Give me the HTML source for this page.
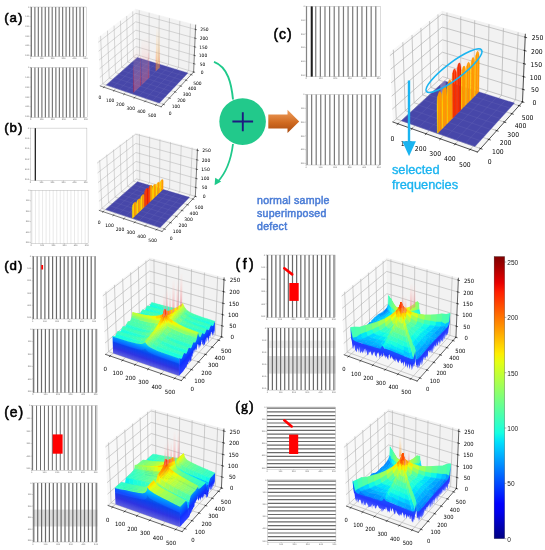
<!DOCTYPE html>
<html><head><meta charset="utf-8"><style>
html,body{margin:0;padding:0;background:#fff;}
svg{display:block;}
</style></head><body>
<svg width="545" height="550" viewBox="0 0 545 550">
<rect width="545" height="550" fill="#fff"/>
<g><rect x="30.6" y="7" width="56.2" height="49.5" fill="#fff"/><path d="M31.4 7V56.5M34.87 7V56.5M38.34 7V56.5M41.81 7V56.5M45.28 7V56.5M48.75 7V56.5M52.22 7V56.5M55.69 7V56.5M59.16 7V56.5M62.63 7V56.5M66.1 7V56.5M69.57 7V56.5M73.04 7V56.5M76.51 7V56.5M79.98 7V56.5M83.45 7V56.5" stroke="#7a7a7a" stroke-width="1.2" fill="none"/><rect x="30.6" y="7" width="56.2" height="49.5" fill="none" stroke="#999" stroke-width="0.35"/><path d="M30.6 7.05h-0.8M30.65 56.5v0.8M30.6 16.72h-0.8M41.63 56.5v0.8M30.6 26.38h-0.8M52.61 56.5v0.8M30.6 36.05h-0.8M63.58 56.5v0.8M30.6 45.72h-0.8M74.56 56.5v0.8M30.6 55.39h-0.8M85.54 56.5v0.8" stroke="#555" stroke-width="0.3" fill="none"/><g font-size="2.1" fill="#666" font-family="DejaVu Sans, sans-serif"><text x="29.3" y="7.75" text-anchor="end">0</text><text x="30.65" y="59.1" text-anchor="middle">0</text><text x="29.3" y="17.42" text-anchor="end">100</text><text x="41.63" y="59.1" text-anchor="middle">100</text><text x="29.3" y="27.08" text-anchor="end">200</text><text x="52.61" y="59.1" text-anchor="middle">200</text><text x="29.3" y="36.75" text-anchor="end">300</text><text x="63.58" y="59.1" text-anchor="middle">300</text><text x="29.3" y="46.42" text-anchor="end">400</text><text x="74.56" y="59.1" text-anchor="middle">400</text><text x="29.3" y="56.09" text-anchor="end">500</text><text x="85.54" y="59.1" text-anchor="middle">500</text></g></g>
<g><rect x="30.6" y="67.4" width="56.6" height="50.2" fill="#fff"/><path d="M31.4 67.4V117.6M34.9 67.4V117.6M38.4 67.4V117.6M41.9 67.4V117.6M45.4 67.4V117.6M48.9 67.4V117.6M52.4 67.4V117.6M55.9 67.4V117.6M59.4 67.4V117.6M62.9 67.4V117.6M66.4 67.4V117.6M69.9 67.4V117.6M73.4 67.4V117.6M76.9 67.4V117.6M80.4 67.4V117.6M83.9 67.4V117.6" stroke="#7a7a7a" stroke-width="1.2" fill="none"/><rect x="30.6" y="67.4" width="56.6" height="50.2" fill="none" stroke="#999" stroke-width="0.35"/><path d="M30.6 67.45h-0.8M30.66 117.6v0.8M30.6 77.25h-0.8M41.71 117.6v0.8M30.6 87.06h-0.8M52.76 117.6v0.8M30.6 96.86h-0.8M63.82 117.6v0.8M30.6 106.67h-0.8M74.87 117.6v0.8M30.6 116.47h-0.8M85.93 117.6v0.8" stroke="#555" stroke-width="0.3" fill="none"/><g font-size="2.1" fill="#666" font-family="DejaVu Sans, sans-serif"><text x="29.3" y="68.15" text-anchor="end">0</text><text x="30.66" y="120.2" text-anchor="middle">0</text><text x="29.3" y="77.95" text-anchor="end">100</text><text x="41.71" y="120.2" text-anchor="middle">100</text><text x="29.3" y="87.76" text-anchor="end">200</text><text x="52.76" y="120.2" text-anchor="middle">200</text><text x="29.3" y="97.56" text-anchor="end">300</text><text x="63.82" y="120.2" text-anchor="middle">300</text><text x="29.3" y="107.37" text-anchor="end">400</text><text x="74.87" y="120.2" text-anchor="middle">400</text><text x="29.3" y="117.17" text-anchor="end">500</text><text x="85.93" y="120.2" text-anchor="middle">500</text></g></g>
<g><rect x="30.3" y="128.1" width="56.6" height="52.6" fill="#fff"/><path d="M35.3 128.1V180.7" stroke="#111" stroke-width="1.2"/><rect x="30.3" y="128.1" width="56.6" height="52.6" fill="none" stroke="#999" stroke-width="0.35"/><path d="M30.3 128.15h-0.8M30.36 180.7v0.8M30.3 138.42h-0.8M41.41 180.7v0.8M30.3 148.7h-0.8M52.46 180.7v0.8M30.3 158.97h-0.8M63.52 180.7v0.8M30.3 169.25h-0.8M74.57 180.7v0.8M30.3 179.52h-0.8M85.63 180.7v0.8" stroke="#555" stroke-width="0.3" fill="none"/><g font-size="2.1" fill="#666" font-family="DejaVu Sans, sans-serif"><text x="29" y="128.85" text-anchor="end">0</text><text x="30.36" y="183.3" text-anchor="middle">0</text><text x="29" y="139.12" text-anchor="end">100</text><text x="41.41" y="183.3" text-anchor="middle">100</text><text x="29" y="149.4" text-anchor="end">200</text><text x="52.46" y="183.3" text-anchor="middle">200</text><text x="29" y="159.67" text-anchor="end">300</text><text x="63.52" y="183.3" text-anchor="middle">300</text><text x="29" y="169.95" text-anchor="end">400</text><text x="74.57" y="183.3" text-anchor="middle">400</text><text x="29" y="180.22" text-anchor="end">500</text><text x="85.63" y="183.3" text-anchor="middle">500</text></g></g>
<g><rect x="31" y="190.3" width="57.1" height="53.3" fill="#fff"/><path d="M31.9 190.3V243.6M35.45 190.3V243.6M39 190.3V243.6M42.55 190.3V243.6M46.1 190.3V243.6M49.65 190.3V243.6M53.2 190.3V243.6M56.75 190.3V243.6M60.3 190.3V243.6M63.85 190.3V243.6M67.4 190.3V243.6M70.95 190.3V243.6M74.5 190.3V243.6M78.05 190.3V243.6M81.6 190.3V243.6M85.15 190.3V243.6" stroke="#e4e4e4" stroke-width="0.8" fill="none"/><rect x="31" y="190.3" width="57.1" height="53.3" fill="none" stroke="#999" stroke-width="0.35"/><path d="M31 190.35h-0.8M31.06 243.6v0.8M31 200.76h-0.8M42.21 243.6v0.8M31 211.17h-0.8M53.36 243.6v0.8M31 221.58h-0.8M64.51 243.6v0.8M31 231.99h-0.8M75.67 243.6v0.8M31 242.4h-0.8M86.82 243.6v0.8" stroke="#555" stroke-width="0.3" fill="none"/><g font-size="2.1" fill="#666" font-family="DejaVu Sans, sans-serif"><text x="29.7" y="191.05" text-anchor="end">0</text><text x="31.06" y="246.2" text-anchor="middle">0</text><text x="29.7" y="201.46" text-anchor="end">100</text><text x="42.21" y="246.2" text-anchor="middle">100</text><text x="29.7" y="211.87" text-anchor="end">200</text><text x="53.36" y="246.2" text-anchor="middle">200</text><text x="29.7" y="222.28" text-anchor="end">300</text><text x="64.51" y="246.2" text-anchor="middle">300</text><text x="29.7" y="232.69" text-anchor="end">400</text><text x="75.67" y="246.2" text-anchor="middle">400</text><text x="29.7" y="243.1" text-anchor="end">500</text><text x="86.82" y="246.2" text-anchor="middle">500</text></g></g>
<g><rect x="306.2" y="6.2" width="74.2" height="70.5" fill="#fff"/><path d="M306.5 6.2V76.7M311.12 6.2V76.7M315.74 6.2V76.7M320.36 6.2V76.7M324.98 6.2V76.7M329.6 6.2V76.7M334.22 6.2V76.7M338.84 6.2V76.7M343.46 6.2V76.7M348.08 6.2V76.7M352.7 6.2V76.7M357.32 6.2V76.7M361.94 6.2V76.7M366.56 6.2V76.7M371.18 6.2V76.7M375.8 6.2V76.7" stroke="#7a7a7a" stroke-width="1.2" fill="none"/><path d="M311.9 6.2V76.7" stroke="#181818" stroke-width="1.7"/><rect x="306.2" y="6.2" width="74.2" height="70.5" fill="none" stroke="#999" stroke-width="0.35"/><path d="M306.2 6.27h-0.8M306.27 76.7v0.8M306.2 20.04h-0.8M320.76 76.7v0.8M306.2 33.81h-0.8M335.26 76.7v0.8M306.2 47.58h-0.8M349.75 76.7v0.8M306.2 61.35h-0.8M364.24 76.7v0.8M306.2 75.12h-0.8M378.73 76.7v0.8" stroke="#555" stroke-width="0.3" fill="none"/><g font-size="2.1" fill="#666" font-family="DejaVu Sans, sans-serif"><text x="304.9" y="6.97" text-anchor="end">0</text><text x="306.27" y="79.3" text-anchor="middle">0</text><text x="304.9" y="20.74" text-anchor="end">100</text><text x="320.76" y="79.3" text-anchor="middle">100</text><text x="304.9" y="34.51" text-anchor="end">200</text><text x="335.26" y="79.3" text-anchor="middle">200</text><text x="304.9" y="48.28" text-anchor="end">300</text><text x="349.75" y="79.3" text-anchor="middle">300</text><text x="304.9" y="62.05" text-anchor="end">400</text><text x="364.24" y="79.3" text-anchor="middle">400</text><text x="304.9" y="75.82" text-anchor="end">500</text><text x="378.73" y="79.3" text-anchor="middle">500</text></g></g>
<g><rect x="306" y="94.5" width="74.4" height="70.5" fill="#fff"/><path d="M307.1 94.5V165M311.65 94.5V165M316.2 94.5V165M320.75 94.5V165M325.3 94.5V165M329.85 94.5V165M334.4 94.5V165M338.95 94.5V165M343.5 94.5V165M348.05 94.5V165M352.6 94.5V165M357.15 94.5V165M361.7 94.5V165M366.25 94.5V165M370.8 94.5V165M375.35 94.5V165M379.9 94.5V165" stroke="#7a7a7a" stroke-width="1.2" fill="none"/><rect x="306" y="94.5" width="74.4" height="70.5" fill="none" stroke="#999" stroke-width="0.35"/><path d="M306 94.57h-0.8M306.07 165v0.8M306 108.34h-0.8M320.6 165v0.8M306 122.11h-0.8M335.14 165v0.8M306 135.88h-0.8M349.67 165v0.8M306 149.65h-0.8M364.2 165v0.8M306 163.42h-0.8M378.73 165v0.8" stroke="#555" stroke-width="0.3" fill="none"/><g font-size="2.1" fill="#666" font-family="DejaVu Sans, sans-serif"><text x="304.7" y="95.27" text-anchor="end">0</text><text x="306.07" y="167.6" text-anchor="middle">0</text><text x="304.7" y="109.04" text-anchor="end">100</text><text x="320.6" y="167.6" text-anchor="middle">100</text><text x="304.7" y="122.81" text-anchor="end">200</text><text x="335.14" y="167.6" text-anchor="middle">200</text><text x="304.7" y="136.58" text-anchor="end">300</text><text x="349.67" y="167.6" text-anchor="middle">300</text><text x="304.7" y="150.35" text-anchor="end">400</text><text x="364.2" y="167.6" text-anchor="middle">400</text><text x="304.7" y="164.12" text-anchor="end">500</text><text x="378.73" y="167.6" text-anchor="middle">500</text></g></g>
<g><rect x="32.5" y="256.2" width="63.1" height="62.8" fill="#fff"/><path d="M33.3 256.2V319M37.16 256.2V319M41.02 256.2V319M44.88 256.2V319M48.74 256.2V319M52.6 256.2V319M56.46 256.2V319M60.32 256.2V319M64.18 256.2V319M68.04 256.2V319M71.9 256.2V319M75.76 256.2V319M79.62 256.2V319M83.48 256.2V319M87.34 256.2V319M91.2 256.2V319M95.06 256.2V319" stroke="#6a6a6a" stroke-width="1.2" fill="none"/><rect x="41.3" y="265" width="1.8" height="4.5" fill="#f00"/><rect x="32.5" y="256.2" width="63.1" height="62.8" fill="none" stroke="#999" stroke-width="0.35"/><path d="M32.5 256.26h-0.8M32.56 319v0.8M32.5 268.53h-0.8M44.89 319v0.8M32.5 280.79h-0.8M57.21 319v0.8M32.5 293.06h-0.8M69.53 319v0.8M32.5 305.32h-0.8M81.86 319v0.8M32.5 317.59h-0.8M94.18 319v0.8" stroke="#555" stroke-width="0.3" fill="none"/><g font-size="2.1" fill="#666" font-family="DejaVu Sans, sans-serif"><text x="31.2" y="256.96" text-anchor="end">0</text><text x="32.56" y="321.6" text-anchor="middle">0</text><text x="31.2" y="269.23" text-anchor="end">100</text><text x="44.89" y="321.6" text-anchor="middle">100</text><text x="31.2" y="281.49" text-anchor="end">200</text><text x="57.21" y="321.6" text-anchor="middle">200</text><text x="31.2" y="293.76" text-anchor="end">300</text><text x="69.53" y="321.6" text-anchor="middle">300</text><text x="31.2" y="306.02" text-anchor="end">400</text><text x="81.86" y="321.6" text-anchor="middle">400</text><text x="31.2" y="318.29" text-anchor="end">500</text><text x="94.18" y="321.6" text-anchor="middle">500</text></g></g>
<g><rect x="32.9" y="329.1" width="64.2" height="63.6" fill="#fff"/><path d="M33.7 329.1V392.7M37.6 329.1V392.7M41.5 329.1V392.7M45.4 329.1V392.7M49.3 329.1V392.7M53.2 329.1V392.7M57.1 329.1V392.7M61 329.1V392.7M64.9 329.1V392.7M68.8 329.1V392.7M72.7 329.1V392.7M76.6 329.1V392.7M80.5 329.1V392.7M84.4 329.1V392.7M88.3 329.1V392.7M92.2 329.1V392.7M96.1 329.1V392.7" stroke="#6a6a6a" stroke-width="1.2" fill="none"/><rect x="32.9" y="329.1" width="64.2" height="63.6" fill="none" stroke="#999" stroke-width="0.35"/><path d="M32.9 329.16h-0.8M32.96 392.7v0.8M32.9 341.58h-0.8M45.5 392.7v0.8M32.9 354.01h-0.8M58.04 392.7v0.8M32.9 366.43h-0.8M70.58 392.7v0.8M32.9 378.85h-0.8M83.12 392.7v0.8M32.9 391.27h-0.8M95.66 392.7v0.8" stroke="#555" stroke-width="0.3" fill="none"/><g font-size="2.1" fill="#666" font-family="DejaVu Sans, sans-serif"><text x="31.6" y="329.86" text-anchor="end">0</text><text x="32.96" y="395.3" text-anchor="middle">0</text><text x="31.6" y="342.28" text-anchor="end">100</text><text x="45.5" y="395.3" text-anchor="middle">100</text><text x="31.6" y="354.71" text-anchor="end">200</text><text x="58.04" y="395.3" text-anchor="middle">200</text><text x="31.6" y="367.13" text-anchor="end">300</text><text x="70.58" y="395.3" text-anchor="middle">300</text><text x="31.6" y="379.55" text-anchor="end">400</text><text x="83.12" y="395.3" text-anchor="middle">400</text><text x="31.6" y="391.97" text-anchor="end">500</text><text x="95.66" y="395.3" text-anchor="middle">500</text></g></g>
<g><rect x="31.7" y="405.6" width="65.4" height="64.6" fill="#fff"/><path d="M32.6 405.6V470.2M36.55 405.6V470.2M40.5 405.6V470.2M44.45 405.6V470.2M48.4 405.6V470.2M52.35 405.6V470.2M56.3 405.6V470.2M60.25 405.6V470.2M64.2 405.6V470.2M68.15 405.6V470.2M72.1 405.6V470.2M76.05 405.6V470.2M80 405.6V470.2M83.95 405.6V470.2M87.9 405.6V470.2M91.85 405.6V470.2M95.8 405.6V470.2" stroke="#6a6a6a" stroke-width="1" fill="none"/><rect x="52.7" y="434.4" width="9.9" height="19.3" fill="#f00"/><rect x="31.7" y="405.6" width="65.4" height="64.6" fill="none" stroke="#999" stroke-width="0.35"/><path d="M31.7 405.66h-0.8M31.76 470.2v0.8M31.7 418.28h-0.8M44.54 470.2v0.8M31.7 430.9h-0.8M57.31 470.2v0.8M31.7 443.51h-0.8M70.08 470.2v0.8M31.7 456.13h-0.8M82.86 470.2v0.8M31.7 468.75h-0.8M95.63 470.2v0.8" stroke="#555" stroke-width="0.3" fill="none"/><g font-size="2.1" fill="#666" font-family="DejaVu Sans, sans-serif"><text x="30.4" y="406.36" text-anchor="end">0</text><text x="31.76" y="472.8" text-anchor="middle">0</text><text x="30.4" y="418.98" text-anchor="end">100</text><text x="44.54" y="472.8" text-anchor="middle">100</text><text x="30.4" y="431.6" text-anchor="end">200</text><text x="57.31" y="472.8" text-anchor="middle">200</text><text x="30.4" y="444.21" text-anchor="end">300</text><text x="70.08" y="472.8" text-anchor="middle">300</text><text x="30.4" y="456.83" text-anchor="end">400</text><text x="82.86" y="472.8" text-anchor="middle">400</text><text x="30.4" y="469.45" text-anchor="end">500</text><text x="95.63" y="472.8" text-anchor="middle">500</text></g></g>
<g><rect x="32.9" y="482.9" width="64.6" height="59.1" fill="#fff"/><rect x="32.9" y="509.6" width="64.6" height="16.9" fill="#ddd"/><path d="M33.8 482.9V542M37.7 482.9V542M41.6 482.9V542M45.5 482.9V542M49.4 482.9V542M53.3 482.9V542M57.2 482.9V542M61.1 482.9V542M65 482.9V542M68.9 482.9V542M72.8 482.9V542M76.7 482.9V542M80.6 482.9V542M84.5 482.9V542M88.4 482.9V542M92.3 482.9V542M96.2 482.9V542" stroke="#6a6a6a" stroke-width="1.2" fill="none"/><rect x="32.9" y="482.9" width="64.6" height="59.1" fill="none" stroke="#999" stroke-width="0.35"/><path d="M32.9 482.96h-0.8M32.96 542v0.8M32.9 494.5h-0.8M45.58 542v0.8M32.9 506.04h-0.8M58.2 542v0.8M32.9 517.59h-0.8M70.81 542v0.8M32.9 529.13h-0.8M83.43 542v0.8M32.9 540.67h-0.8M96.05 542v0.8" stroke="#555" stroke-width="0.3" fill="none"/><g font-size="2.1" fill="#666" font-family="DejaVu Sans, sans-serif"><text x="31.6" y="483.66" text-anchor="end">0</text><text x="32.96" y="544.6" text-anchor="middle">0</text><text x="31.6" y="495.2" text-anchor="end">100</text><text x="45.58" y="544.6" text-anchor="middle">100</text><text x="31.6" y="506.74" text-anchor="end">200</text><text x="58.2" y="544.6" text-anchor="middle">200</text><text x="31.6" y="518.29" text-anchor="end">300</text><text x="70.81" y="544.6" text-anchor="middle">300</text><text x="31.6" y="529.83" text-anchor="end">400</text><text x="83.43" y="544.6" text-anchor="middle">400</text><text x="31.6" y="541.37" text-anchor="end">500</text><text x="96.05" y="544.6" text-anchor="middle">500</text></g></g>
<g><rect x="266.5" y="255" width="68.9" height="62.4" fill="#fff"/><path d="M267.6 255V317.4M271.75 255V317.4M275.9 255V317.4M280.05 255V317.4M284.2 255V317.4M288.35 255V317.4M292.5 255V317.4M296.65 255V317.4M300.8 255V317.4M304.95 255V317.4M309.1 255V317.4M313.25 255V317.4M317.4 255V317.4M321.55 255V317.4M325.7 255V317.4M329.85 255V317.4M334 255V317.4" stroke="#6a6a6a" stroke-width="1.2" fill="none"/><rect x="289.3" y="283" width="9.4" height="17.9" fill="#f00"/><path d="M284.3 268.3L292.2 274.4" stroke="#f00" stroke-width="2.6" stroke-linecap="round"/><rect x="266.5" y="255" width="68.9" height="62.4" fill="none" stroke="#999" stroke-width="0.35"/><path d="M266.5 255.06h-0.8M266.57 317.4v0.8M266.5 267.25h-0.8M280.02 317.4v0.8M266.5 279.44h-0.8M293.48 317.4v0.8M266.5 291.62h-0.8M306.94 317.4v0.8M266.5 303.81h-0.8M320.4 317.4v0.8M266.5 316h-0.8M333.85 317.4v0.8" stroke="#555" stroke-width="0.3" fill="none"/><g font-size="2.1" fill="#666" font-family="DejaVu Sans, sans-serif"><text x="265.2" y="255.76" text-anchor="end">0</text><text x="266.57" y="320" text-anchor="middle">0</text><text x="265.2" y="267.95" text-anchor="end">100</text><text x="280.02" y="320" text-anchor="middle">100</text><text x="265.2" y="280.14" text-anchor="end">200</text><text x="293.48" y="320" text-anchor="middle">200</text><text x="265.2" y="292.32" text-anchor="end">300</text><text x="306.94" y="320" text-anchor="middle">300</text><text x="265.2" y="304.51" text-anchor="end">400</text><text x="320.4" y="320" text-anchor="middle">400</text><text x="265.2" y="316.7" text-anchor="end">500</text><text x="333.85" y="320" text-anchor="middle">500</text></g></g>
<g><rect x="267.3" y="327.9" width="68.1" height="62.2" fill="#fff"/><rect x="267.3" y="356" width="68.1" height="17.6" fill="#ddd"/><rect x="267.3" y="340.6" width="68.1" height="7.4" fill="#eee"/><path d="M268.3 327.9V390.1M272.4 327.9V390.1M276.5 327.9V390.1M280.6 327.9V390.1M284.7 327.9V390.1M288.8 327.9V390.1M292.9 327.9V390.1M297 327.9V390.1M301.1 327.9V390.1M305.2 327.9V390.1M309.3 327.9V390.1M313.4 327.9V390.1M317.5 327.9V390.1M321.6 327.9V390.1M325.7 327.9V390.1M329.8 327.9V390.1M333.9 327.9V390.1" stroke="#6a6a6a" stroke-width="1.2" fill="none"/><rect x="267.3" y="327.9" width="68.1" height="62.2" fill="none" stroke="#999" stroke-width="0.35"/><path d="M267.3 327.96h-0.8M267.37 390.1v0.8M267.3 340.11h-0.8M280.67 390.1v0.8M267.3 352.26h-0.8M293.97 390.1v0.8M267.3 364.41h-0.8M307.27 390.1v0.8M267.3 376.55h-0.8M320.57 390.1v0.8M267.3 388.7h-0.8M333.87 390.1v0.8" stroke="#555" stroke-width="0.3" fill="none"/><g font-size="2.1" fill="#666" font-family="DejaVu Sans, sans-serif"><text x="266" y="328.66" text-anchor="end">0</text><text x="267.37" y="392.7" text-anchor="middle">0</text><text x="266" y="340.81" text-anchor="end">100</text><text x="280.67" y="392.7" text-anchor="middle">100</text><text x="266" y="352.96" text-anchor="end">200</text><text x="293.97" y="392.7" text-anchor="middle">200</text><text x="266" y="365.11" text-anchor="end">300</text><text x="307.27" y="392.7" text-anchor="middle">300</text><text x="266" y="377.25" text-anchor="end">400</text><text x="320.57" y="392.7" text-anchor="middle">400</text><text x="266" y="389.4" text-anchor="end">500</text><text x="333.87" y="392.7" text-anchor="middle">500</text></g></g>
<g><rect x="267" y="407" width="68.4" height="62.3" fill="#fff"/><path d="M267 408.2H335.4M267 411.9H335.4M267 415.6H335.4M267 419.3H335.4M267 423H335.4M267 426.7H335.4M267 430.4H335.4M267 434.1H335.4M267 437.8H335.4M267 441.5H335.4M267 445.2H335.4M267 448.9H335.4M267 452.6H335.4M267 456.3H335.4M267 460H335.4M267 463.7H335.4M267 467.4H335.4" stroke="#6a6a6a" stroke-width="1.2" fill="none"/><rect x="289.1" y="434.6" width="9.1" height="19.4" fill="#f00"/><path d="M284.3 420.3L291.7 426.4" stroke="#f00" stroke-width="2.6" stroke-linecap="round"/><rect x="267" y="407" width="68.4" height="62.3" fill="none" stroke="#999" stroke-width="0.35"/><path d="M267 407.06h-0.8M267.07 469.3v0.8M267 419.23h-0.8M280.43 469.3v0.8M267 431.4h-0.8M293.79 469.3v0.8M267 443.56h-0.8M307.14 469.3v0.8M267 455.73h-0.8M320.5 469.3v0.8M267 467.9h-0.8M333.86 469.3v0.8" stroke="#555" stroke-width="0.3" fill="none"/><g font-size="2.1" fill="#666" font-family="DejaVu Sans, sans-serif"><text x="265.7" y="407.76" text-anchor="end">0</text><text x="267.07" y="471.9" text-anchor="middle">0</text><text x="265.7" y="419.93" text-anchor="end">100</text><text x="280.43" y="471.9" text-anchor="middle">100</text><text x="265.7" y="432.1" text-anchor="end">200</text><text x="293.79" y="471.9" text-anchor="middle">200</text><text x="265.7" y="444.26" text-anchor="end">300</text><text x="307.14" y="471.9" text-anchor="middle">300</text><text x="265.7" y="456.43" text-anchor="end">400</text><text x="320.5" y="471.9" text-anchor="middle">400</text><text x="265.7" y="468.6" text-anchor="end">500</text><text x="333.86" y="471.9" text-anchor="middle">500</text></g></g>
<g><rect x="267.8" y="479.9" width="68.1" height="62.4" fill="#fff"/><path d="M267.8 481.2H335.9M267.8 484.9H335.9M267.8 488.6H335.9M267.8 492.3H335.9M267.8 496H335.9M267.8 499.7H335.9M267.8 503.4H335.9M267.8 507.1H335.9M267.8 510.8H335.9M267.8 514.5H335.9M267.8 518.2H335.9M267.8 521.9H335.9M267.8 525.6H335.9M267.8 529.3H335.9M267.8 533H335.9M267.8 536.7H335.9M267.8 540.4H335.9" stroke="#6a6a6a" stroke-width="1.2" fill="none"/><rect x="267.8" y="479.9" width="68.1" height="62.4" fill="none" stroke="#999" stroke-width="0.35"/><path d="M267.8 479.96h-0.8M267.87 542.3v0.8M267.8 492.15h-0.8M281.17 542.3v0.8M267.8 504.34h-0.8M294.47 542.3v0.8M267.8 516.52h-0.8M307.77 542.3v0.8M267.8 528.71h-0.8M321.07 542.3v0.8M267.8 540.9h-0.8M334.37 542.3v0.8" stroke="#555" stroke-width="0.3" fill="none"/><g font-size="2.1" fill="#666" font-family="DejaVu Sans, sans-serif"><text x="266.5" y="480.66" text-anchor="end">0</text><text x="267.87" y="544.9" text-anchor="middle">0</text><text x="266.5" y="492.85" text-anchor="end">100</text><text x="281.17" y="544.9" text-anchor="middle">100</text><text x="266.5" y="505.04" text-anchor="end">200</text><text x="294.47" y="544.9" text-anchor="middle">200</text><text x="266.5" y="517.22" text-anchor="end">300</text><text x="307.77" y="544.9" text-anchor="middle">300</text><text x="266.5" y="529.41" text-anchor="end">400</text><text x="321.07" y="544.9" text-anchor="middle">400</text><text x="266.5" y="541.6" text-anchor="end">500</text><text x="334.37" y="544.9" text-anchor="middle">500</text></g></g>
<style>.j0{fill:#000080;stroke:#000080}.j1{fill:#000089;stroke:#000089}.j2{fill:#000092;stroke:#000092}.j3{fill:#00009b;stroke:#00009b}.j4{fill:#0000a4;stroke:#0000a4}.j5{fill:#0000ad;stroke:#0000ad}.j6{fill:#0000b6;stroke:#0000b6}.j7{fill:#0000bf;stroke:#0000bf}.j8{fill:#0000c8;stroke:#0000c8}.j9{fill:#0000d1;stroke:#0000d1}.j10{fill:#0000da;stroke:#0000da}.j11{fill:#0000e3;stroke:#0000e3}.j12{fill:#0000ed;stroke:#0000ed}.j13{fill:#0000f6;stroke:#0000f6}.j14{fill:#0000ff;stroke:#0000ff}.j15{fill:#0000ff;stroke:#0000ff}.j16{fill:#0001ff;stroke:#0001ff}.j17{fill:#0009ff;stroke:#0009ff}.j18{fill:#0011ff;stroke:#0011ff}.j19{fill:#0019ff;stroke:#0019ff}.j20{fill:#0021ff;stroke:#0021ff}.j21{fill:#0029ff;stroke:#0029ff}.j22{fill:#0031ff;stroke:#0031ff}.j23{fill:#0039ff;stroke:#0039ff}.j24{fill:#0041ff;stroke:#0041ff}.j25{fill:#0049ff;stroke:#0049ff}.j26{fill:#0051ff;stroke:#0051ff}.j27{fill:#0059ff;stroke:#0059ff}.j28{fill:#0061ff;stroke:#0061ff}.j29{fill:#0069ff;stroke:#0069ff}.j30{fill:#0071ff;stroke:#0071ff}.j31{fill:#0079ff;stroke:#0079ff}.j32{fill:#0081ff;stroke:#0081ff}.j33{fill:#0088ff;stroke:#0088ff}.j34{fill:#0091ff;stroke:#0091ff}.j35{fill:#0099ff;stroke:#0099ff}.j36{fill:#00a1ff;stroke:#00a1ff}.j37{fill:#00a8ff;stroke:#00a8ff}.j38{fill:#00b1ff;stroke:#00b1ff}.j39{fill:#00b9ff;stroke:#00b9ff}.j40{fill:#00c1ff;stroke:#00c1ff}.j41{fill:#00c8ff;stroke:#00c8ff}.j42{fill:#00d1ff;stroke:#00d1ff}.j43{fill:#00d9ff;stroke:#00d9ff}.j44{fill:#00e1fb;stroke:#00e1fb}.j45{fill:#02e8f4;stroke:#02e8f4}.j46{fill:#09f1ee;stroke:#09f1ee}.j47{fill:#0ff9e7;stroke:#0ff9e7}.j48{fill:#16ffe1;stroke:#16ffe1}.j49{fill:#1cffdb;stroke:#1cffdb}.j50{fill:#23ffd4;stroke:#23ffd4}.j51{fill:#29ffce;stroke:#29ffce}.j52{fill:#30ffc7;stroke:#30ffc7}.j53{fill:#36ffc1;stroke:#36ffc1}.j54{fill:#3cffba;stroke:#3cffba}.j55{fill:#43ffb4;stroke:#43ffb4}.j56{fill:#49ffad;stroke:#49ffad}.j57{fill:#50ffa7;stroke:#50ffa7}.j58{fill:#56ffa0;stroke:#56ffa0}.j59{fill:#5dff9a;stroke:#5dff9a}.j60{fill:#63ff94;stroke:#63ff94}.j61{fill:#6aff8d;stroke:#6aff8d}.j62{fill:#70ff87;stroke:#70ff87}.j63{fill:#77ff80;stroke:#77ff80}.j64{fill:#80ff77;stroke:#80ff77}.j65{fill:#87ff70;stroke:#87ff70}.j66{fill:#8dff6a;stroke:#8dff6a}.j67{fill:#94ff63;stroke:#94ff63}.j68{fill:#9aff5d;stroke:#9aff5d}.j69{fill:#a0ff56;stroke:#a0ff56}.j70{fill:#a7ff50;stroke:#a7ff50}.j71{fill:#adff49;stroke:#adff49}.j72{fill:#b4ff43;stroke:#b4ff43}.j73{fill:#baff3c;stroke:#baff3c}.j74{fill:#c1ff36;stroke:#c1ff36}.j75{fill:#c7ff30;stroke:#c7ff30}.j76{fill:#ceff29;stroke:#ceff29}.j77{fill:#d4ff23;stroke:#d4ff23}.j78{fill:#dbff1c;stroke:#dbff1c}.j79{fill:#e1ff16;stroke:#e1ff16}.j80{fill:#e7ff0f;stroke:#e7ff0f}.j81{fill:#eeff09;stroke:#eeff09}.j82{fill:#f4f802;stroke:#f4f802}.j83{fill:#fbf100;stroke:#fbf100}.j84{fill:#ffea00;stroke:#ffea00}.j85{fill:#ffe200;stroke:#ffe200}.j86{fill:#ffdb00;stroke:#ffdb00}.j87{fill:#ffd300;stroke:#ffd300}.j88{fill:#ffcc00;stroke:#ffcc00}.j89{fill:#ffc400;stroke:#ffc400}.j90{fill:#ffbd00;stroke:#ffbd00}.j91{fill:#ffb600;stroke:#ffb600}.j92{fill:#ffae00;stroke:#ffae00}.j93{fill:#ffa700;stroke:#ffa700}.j94{fill:#ff9f00;stroke:#ff9f00}.j95{fill:#ff9800;stroke:#ff9800}.j96{fill:#ff9100;stroke:#ff9100}.j97{fill:#ff8900;stroke:#ff8900}.j98{fill:#ff8200;stroke:#ff8200}.j99{fill:#ff7a00;stroke:#ff7a00}.j100{fill:#ff7300;stroke:#ff7300}.j101{fill:#ff6c00;stroke:#ff6c00}.j102{fill:#ff6400;stroke:#ff6400}.j103{fill:#ff5d00;stroke:#ff5d00}.j104{fill:#ff5500;stroke:#ff5500}.j105{fill:#ff4e00;stroke:#ff4e00}.j106{fill:#ff4700;stroke:#ff4700}.j107{fill:#ff3f00;stroke:#ff3f00}.j108{fill:#ff3800;stroke:#ff3800}.j109{fill:#ff3000;stroke:#ff3000}.j110{fill:#ff2900;stroke:#ff2900}.j111{fill:#ff2200;stroke:#ff2200}.j112{fill:#ff1a00;stroke:#ff1a00}.j113{fill:#ff1300;stroke:#ff1300}.j114{fill:#f60b00;stroke:#f60b00}.j115{fill:#ed0400;stroke:#ed0400}.j116{fill:#e40000;stroke:#e40000}.j117{fill:#da0000;stroke:#da0000}.j118{fill:#d10000;stroke:#d10000}.j119{fill:#c80000;stroke:#c80000}.j120{fill:#bf0000;stroke:#bf0000}.j121{fill:#b60000;stroke:#b60000}.j122{fill:#ad0000;stroke:#ad0000}.j123{fill:#a40000;stroke:#a40000}.j124{fill:#9b0000;stroke:#9b0000}.j125{fill:#920000;stroke:#920000}.j126{fill:#890000;stroke:#890000}.j127{fill:#800000;stroke:#800000} path[class]{stroke-width:.5}</style>
<defs>
<linearGradient id="fadeP" x1="0" y1="1" x2="0" y2="0"><stop offset="0" stop-color="#e86070" stop-opacity="0.45"/><stop offset="0.5" stop-color="#f8a0a0" stop-opacity="0.22"/><stop offset="1" stop-color="#ffd0c0" stop-opacity="0"/></linearGradient>
<linearGradient id="fadeL" x1="0" y1="1" x2="0" y2="0" gradientUnits="objectBoundingBox"><stop offset="0" stop-color="#b01030" stop-opacity="0.7"/><stop offset="1" stop-color="#ff6060" stop-opacity="0"/></linearGradient>
<linearGradient id="fadeR" x1="0" y1="1" x2="0" y2="0"><stop offset="0" stop-color="#c02040" stop-opacity="0.45"/><stop offset="1" stop-color="#ff9090" stop-opacity="0"/></linearGradient>
<linearGradient id="fadeO" x1="0" y1="1" x2="0" y2="0"><stop offset="0" stop-color="#ff9020" stop-opacity="0.55"/><stop offset="0.5" stop-color="#ffc070" stop-opacity="0.3"/><stop offset="1" stop-color="#ffe0b0" stop-opacity="0"/></linearGradient>
<linearGradient id="fadeW" x1="0" y1="1" x2="0" y2="0"><stop offset="0" stop-color="#f0a0a0" stop-opacity="0.5"/><stop offset="0.6" stop-color="#f8d8d8" stop-opacity="0.35"/><stop offset="1" stop-color="#fff" stop-opacity="0"/></linearGradient>
<linearGradient id="fadeS" x1="0" y1="1" x2="0" y2="0"><stop offset="0" stop-color="#f07080" stop-opacity="0.6"/><stop offset="0.55" stop-color="#f8b0b0" stop-opacity="0.35"/><stop offset="1" stop-color="#ffe0d8" stop-opacity="0.05"/></linearGradient>
</defs>
<g transform="matrix(0.408 0 0 0.42677 49.966 -17.313)" font-family="DejaVu Sans, sans-serif"><path d="M123.2 242L211.1 168.3L209.9 62.1L117.8 129.3" fill="#f2f2f2" opacity="0.5" stroke="#f2f2f2" stroke-width="1.45"/>
<path d="M211.1 168.3L352.1 209.3L357.1 99.4L209.9 62.1" fill="#e6e6e6" opacity="0.5" stroke="#e6e6e6" stroke-width="1.45"/>
<path d="M123.2 242L272.7 290.8L352.1 209.3L211.1 168.3" fill="#ececec" opacity="0.5" stroke="#ececec" stroke-width="1.45"/>
<path d="M132.3 244.9L219.7 170.8L218.8 64.3" fill="none" stroke="#b0b0b0" stroke-width="1.16"/>
<path d="M156.8 253L242.9 177.6L243.1 70.5" fill="none" stroke="#b0b0b0" stroke-width="1.16"/>
<path d="M181.9 261.1L266.6 184.4L267.7 76.7" fill="none" stroke="#b0b0b0" stroke-width="1.16"/>
<path d="M207.4 269.5L290.6 191.4L292.9 83.1" fill="none" stroke="#b0b0b0" stroke-width="1.16"/>
<path d="M233.3 277.9L315.1 198.5L318.4 89.6" fill="none" stroke="#b0b0b0" stroke-width="1.16"/>
<path d="M259.7 286.6L339.9 205.8L344.4 96.2" fill="none" stroke="#b0b0b0" stroke-width="1.16"/>
<path d="M124.1 124.6L129.3 236.9L278.2 285.2" fill="none" stroke="#b0b0b0" stroke-width="1.16"/>
<path d="M140.9 112.4L145.2 223.5L292.6 270.3" fill="none" stroke="#b0b0b0" stroke-width="1.16"/>
<path d="M157.1 100.6L160.6 210.6L306.6 256" fill="none" stroke="#b0b0b0" stroke-width="1.16"/>
<path d="M172.8 89.1L175.6 198L320.1 242.1" fill="none" stroke="#b0b0b0" stroke-width="1.16"/>
<path d="M188.1 78L190.2 185.8L333.3 228.6" fill="none" stroke="#b0b0b0" stroke-width="1.16"/>
<path d="M202.9 67.2L204.4 173.9L346.1 215.5" fill="none" stroke="#b0b0b0" stroke-width="1.16"/>
<path d="M352.1 209.3L211.1 168.3L123.2 242" fill="none" stroke="#b0b0b0" stroke-width="1.16"/>
<path d="M353 189.9L210.9 149.6L122.2 222.2" fill="none" stroke="#b0b0b0" stroke-width="1.16"/>
<path d="M353.9 170.3L210.6 130.6L121.3 202" fill="none" stroke="#b0b0b0" stroke-width="1.16"/>
<path d="M354.8 150.3L210.4 111.3L120.3 181.5" fill="none" stroke="#b0b0b0" stroke-width="1.16"/>
<path d="M355.7 130L210.2 91.6L119.3 160.7" fill="none" stroke="#b0b0b0" stroke-width="1.16"/>
<path d="M356.7 109.4L210 71.7L118.3 139.6" fill="none" stroke="#b0b0b0" stroke-width="1.16"/>
<path d="M123.2 242L272.7 290.8" fill="none" stroke="#000000" stroke-width="1.16" stroke-linecap="square"/>
<path d="M133 244.3L130.7 246.2" fill="none" stroke="#000000" stroke-width="1.16" stroke-linecap="square"/>
<text x="122.7" y="272.4" font-size="10.8" text-anchor="middle">0</text>
<path d="M157.6 252.3L155.3 254.3" fill="none" stroke="#000000" stroke-width="1.16" stroke-linecap="square"/>
<text x="147.4" y="280.6" font-size="10.8" text-anchor="middle">100</text>
<path d="M182.6 260.5L180.4 262.5" fill="none" stroke="#000000" stroke-width="1.16" stroke-linecap="square"/>
<text x="172.4" y="289" font-size="10.8" text-anchor="middle">200</text>
<path d="M208.1 268.8L205.9 270.8" fill="none" stroke="#000000" stroke-width="1.16" stroke-linecap="square"/>
<text x="198" y="297.5" font-size="10.8" text-anchor="middle">300</text>
<path d="M234 277.2L231.9 279.3" fill="none" stroke="#000000" stroke-width="1.16" stroke-linecap="square"/>
<text x="224" y="306.2" font-size="10.8" text-anchor="middle">400</text>
<path d="M260.4 285.9L258.3 288" fill="none" stroke="#000000" stroke-width="1.16" stroke-linecap="square"/>
<text x="250.4" y="315.1" font-size="10.8" text-anchor="middle">500</text>
<path d="M352.1 209.3L272.7 290.8" fill="none" stroke="#000000" stroke-width="1.16" stroke-linecap="square"/>
<path d="M276.9 284.7L280.7 286" fill="none" stroke="#000000" stroke-width="1.16" stroke-linecap="square"/>
<text x="294.4" y="309.7" font-size="10.8" text-anchor="middle">0</text>
<path d="M291.4 269.9L295.1 271.1" fill="none" stroke="#000000" stroke-width="1.16" stroke-linecap="square"/>
<text x="308.6" y="294.6" font-size="10.8" text-anchor="middle">100</text>
<path d="M305.4 255.6L309 256.8" fill="none" stroke="#000000" stroke-width="1.16" stroke-linecap="square"/>
<text x="322.3" y="280" font-size="10.8" text-anchor="middle">200</text>
<path d="M318.9 241.7L322.6 242.8" fill="none" stroke="#000000" stroke-width="1.16" stroke-linecap="square"/>
<text x="335.7" y="265.8" font-size="10.8" text-anchor="middle">300</text>
<path d="M332.1 228.2L335.7 229.3" fill="none" stroke="#000000" stroke-width="1.16" stroke-linecap="square"/>
<text x="348.6" y="252.1" font-size="10.8" text-anchor="middle">400</text>
<path d="M344.9 215.1L348.4 216.2" fill="none" stroke="#000000" stroke-width="1.16" stroke-linecap="square"/>
<text x="361.2" y="238.7" font-size="10.8" text-anchor="middle">500</text>
<path d="M352.1 209.3L357.1 99.4" fill="none" stroke="#000000" stroke-width="1.16" stroke-linecap="square"/>
<path d="M350.9 209L354.5 210" fill="none" stroke="#000000" stroke-width="1.16" stroke-linecap="square"/>
<text x="373" y="213.9" font-size="10.8" text-anchor="middle">0</text>
<path d="M351.8 189.6L355.4 190.6" fill="none" stroke="#000000" stroke-width="1.16" stroke-linecap="square"/>
<text x="374.1" y="194.6" font-size="10.8" text-anchor="middle">50</text>
<path d="M352.7 170L356.3 171" fill="none" stroke="#000000" stroke-width="1.16" stroke-linecap="square"/>
<text x="375.1" y="175" font-size="10.8" text-anchor="middle">100</text>
<path d="M353.6 150L357.2 151" fill="none" stroke="#000000" stroke-width="1.16" stroke-linecap="square"/>
<text x="376.2" y="155.1" font-size="10.8" text-anchor="middle">150</text>
<path d="M354.5 129.7L358.2 130.7" fill="none" stroke="#000000" stroke-width="1.16" stroke-linecap="square"/>
<text x="377.3" y="134.8" font-size="10.8" text-anchor="middle">200</text>
<path d="M355.4 109.1L359.1 110.1" fill="none" stroke="#000000" stroke-width="1.16" stroke-linecap="square"/>
<text x="378.4" y="114.3" font-size="10.8" text-anchor="middle">250</text></g>
<path d="M106.4 85l53 18l28.5 -30.1l-50.4 -15.5z" fill="#4747a9" stroke="#4747a9" stroke-width=".3"/>
<path d="M106.4 85L137.5 57.4M106.4 85L159.4 103M112.8 87.2L143.6 59.3M110.5 81.3L163.2 99M119.2 89.4L149.7 61.2M114.6 77.7L167 95M125.7 91.6L155.9 63.1M118.6 74.2L170.6 91.1M132.3 93.8L162.2 65M122.5 70.7L174.2 87.3M139 96.1L168.5 66.9M126.4 67.3L177.7 83.6M145.8 98.4L175 68.9M130.2 63.9L181.2 79.9M152.6 100.7L181.4 70.9M133.9 60.6L184.6 76.3" stroke="#6a6ab8" stroke-width=".3" fill="none"/>
<path d="M133.9 92.3L141 85.5L140.7 44.5L133.3 50.9z" fill="url(#fadeP)" fill-opacity="1"/>
<path d="M141.6 84.9L149.6 77.2L149.6 34.2L141.3 41.3z" fill="url(#fadeP)" fill-opacity="1"/>
<path d="M155.8 71.2L159.7 67.4L160.2 24.3L156.1 27.7z" fill="url(#fadeO)" fill-opacity="1"/>
<path d="M133.7 92.5L133.4 66.4M140.7 85.8L140.5 56.5M148.4 78.3L148.4 52.9M155.8 71.2L156 51.2M159.4 67.7L159.7 46.1" stroke="url(#fadeL)" stroke-width=".8" fill="none"/>
<g transform="matrix(0.41955 0 0 0.42986 47.641 106.432)" font-family="DejaVu Sans, sans-serif"><path d="M123.2 242L211.1 168.3L209.9 62.1L117.8 129.3" fill="#f2f2f2" opacity="0.5" stroke="#f2f2f2" stroke-width="1.45"/>
<path d="M211.1 168.3L352.1 209.3L357.1 99.4L209.9 62.1" fill="#e6e6e6" opacity="0.5" stroke="#e6e6e6" stroke-width="1.45"/>
<path d="M123.2 242L272.7 290.8L352.1 209.3L211.1 168.3" fill="#ececec" opacity="0.5" stroke="#ececec" stroke-width="1.45"/>
<path d="M132.3 244.9L219.7 170.8L218.8 64.3" fill="none" stroke="#b0b0b0" stroke-width="1.16"/>
<path d="M156.8 253L242.9 177.6L243.1 70.5" fill="none" stroke="#b0b0b0" stroke-width="1.16"/>
<path d="M181.9 261.1L266.6 184.4L267.7 76.7" fill="none" stroke="#b0b0b0" stroke-width="1.16"/>
<path d="M207.4 269.5L290.6 191.4L292.9 83.1" fill="none" stroke="#b0b0b0" stroke-width="1.16"/>
<path d="M233.3 277.9L315.1 198.5L318.4 89.6" fill="none" stroke="#b0b0b0" stroke-width="1.16"/>
<path d="M259.7 286.6L339.9 205.8L344.4 96.2" fill="none" stroke="#b0b0b0" stroke-width="1.16"/>
<path d="M124.1 124.6L129.3 236.9L278.2 285.2" fill="none" stroke="#b0b0b0" stroke-width="1.16"/>
<path d="M140.9 112.4L145.2 223.5L292.6 270.3" fill="none" stroke="#b0b0b0" stroke-width="1.16"/>
<path d="M157.1 100.6L160.6 210.6L306.6 256" fill="none" stroke="#b0b0b0" stroke-width="1.16"/>
<path d="M172.8 89.1L175.6 198L320.1 242.1" fill="none" stroke="#b0b0b0" stroke-width="1.16"/>
<path d="M188.1 78L190.2 185.8L333.3 228.6" fill="none" stroke="#b0b0b0" stroke-width="1.16"/>
<path d="M202.9 67.2L204.4 173.9L346.1 215.5" fill="none" stroke="#b0b0b0" stroke-width="1.16"/>
<path d="M352.1 209.3L211.1 168.3L123.2 242" fill="none" stroke="#b0b0b0" stroke-width="1.16"/>
<path d="M353 188.6L210.8 148.2L122.2 220.8" fill="none" stroke="#b0b0b0" stroke-width="1.16"/>
<path d="M354 167.5L210.6 127.9L121.1 199.2" fill="none" stroke="#b0b0b0" stroke-width="1.16"/>
<path d="M355 146.1L210.4 107.1L120.1 177.2" fill="none" stroke="#b0b0b0" stroke-width="1.16"/>
<path d="M356 124.3L210.1 86.1L119 154.8" fill="none" stroke="#b0b0b0" stroke-width="1.16"/>
<path d="M357 102.1L209.9 64.7L117.9 132" fill="none" stroke="#b0b0b0" stroke-width="1.16"/>
<path d="M123.2 242L272.7 290.8" fill="none" stroke="#000000" stroke-width="1.16" stroke-linecap="square"/>
<path d="M133 244.3L130.7 246.2" fill="none" stroke="#000000" stroke-width="1.16" stroke-linecap="square"/>
<text x="122.7" y="272.4" font-size="10.8" text-anchor="middle">0</text>
<path d="M157.6 252.3L155.3 254.3" fill="none" stroke="#000000" stroke-width="1.16" stroke-linecap="square"/>
<text x="147.4" y="280.6" font-size="10.8" text-anchor="middle">100</text>
<path d="M182.6 260.5L180.4 262.5" fill="none" stroke="#000000" stroke-width="1.16" stroke-linecap="square"/>
<text x="172.4" y="289" font-size="10.8" text-anchor="middle">200</text>
<path d="M208.1 268.8L205.9 270.8" fill="none" stroke="#000000" stroke-width="1.16" stroke-linecap="square"/>
<text x="198" y="297.5" font-size="10.8" text-anchor="middle">300</text>
<path d="M234 277.2L231.9 279.3" fill="none" stroke="#000000" stroke-width="1.16" stroke-linecap="square"/>
<text x="224" y="306.2" font-size="10.8" text-anchor="middle">400</text>
<path d="M260.4 285.9L258.3 288" fill="none" stroke="#000000" stroke-width="1.16" stroke-linecap="square"/>
<text x="250.4" y="315.1" font-size="10.8" text-anchor="middle">500</text>
<path d="M352.1 209.3L272.7 290.8" fill="none" stroke="#000000" stroke-width="1.16" stroke-linecap="square"/>
<path d="M276.9 284.7L280.7 286" fill="none" stroke="#000000" stroke-width="1.16" stroke-linecap="square"/>
<text x="294.4" y="309.7" font-size="10.8" text-anchor="middle">0</text>
<path d="M291.4 269.9L295.1 271.1" fill="none" stroke="#000000" stroke-width="1.16" stroke-linecap="square"/>
<text x="308.6" y="294.6" font-size="10.8" text-anchor="middle">100</text>
<path d="M305.4 255.6L309 256.8" fill="none" stroke="#000000" stroke-width="1.16" stroke-linecap="square"/>
<text x="322.3" y="280" font-size="10.8" text-anchor="middle">200</text>
<path d="M318.9 241.7L322.6 242.8" fill="none" stroke="#000000" stroke-width="1.16" stroke-linecap="square"/>
<text x="335.7" y="265.8" font-size="10.8" text-anchor="middle">300</text>
<path d="M332.1 228.2L335.7 229.3" fill="none" stroke="#000000" stroke-width="1.16" stroke-linecap="square"/>
<text x="348.6" y="252.1" font-size="10.8" text-anchor="middle">400</text>
<path d="M344.9 215.1L348.4 216.2" fill="none" stroke="#000000" stroke-width="1.16" stroke-linecap="square"/>
<text x="361.2" y="238.7" font-size="10.8" text-anchor="middle">500</text>
<path d="M352.1 209.3L357.1 99.4" fill="none" stroke="#000000" stroke-width="1.16" stroke-linecap="square"/>
<path d="M350.9 209L354.5 210" fill="none" stroke="#000000" stroke-width="1.16" stroke-linecap="square"/>
<text x="373" y="213.9" font-size="10.8" text-anchor="middle">0</text>
<path d="M351.8 188.2L355.4 189.3" fill="none" stroke="#000000" stroke-width="1.16" stroke-linecap="square"/>
<text x="374.1" y="193.2" font-size="10.8" text-anchor="middle">50</text>
<path d="M352.8 167.2L356.4 168.2" fill="none" stroke="#000000" stroke-width="1.16" stroke-linecap="square"/>
<text x="375.3" y="172.2" font-size="10.8" text-anchor="middle">100</text>
<path d="M353.8 145.8L357.4 146.7" fill="none" stroke="#000000" stroke-width="1.16" stroke-linecap="square"/>
<text x="376.4" y="150.8" font-size="10.8" text-anchor="middle">150</text>
<path d="M354.8 124L358.4 124.9" fill="none" stroke="#000000" stroke-width="1.16" stroke-linecap="square"/>
<text x="377.6" y="129.1" font-size="10.8" text-anchor="middle">200</text>
<path d="M355.8 101.8L359.5 102.7" fill="none" stroke="#000000" stroke-width="1.16" stroke-linecap="square"/>
<text x="378.8" y="107" font-size="10.8" text-anchor="middle">250</text></g>
<path d="M105.7 209.5l54.5 18.1l29.3 -30.3l-51.9 -15.6z" fill="#4747a9" stroke="#4747a9" stroke-width=".3"/>
<path d="M105.7 209.5L137.6 181.7M105.7 209.5L160.2 227.6M112.2 211.7L143.9 183.6M109.9 205.8L164.1 223.6M118.8 213.9L150.2 185.5M114.1 202.2L167.9 219.6M125.6 216.1L156.6 187.4M118.2 198.6L171.7 215.7M132.3 218.4L163.1 189.3M122.3 195.1L175.4 211.8M139.2 220.7L169.6 191.3M126.2 191.6L179 208.1M146.2 223L176.2 193.3M130.1 188.3L182.6 204.4M153.2 225.3L182.8 195.3M133.9 184.9L186.1 200.8" stroke="#6a6ab8" stroke-width=".3" fill="none"/>
<path d="M132.3 218.4l2.1 -2l-0.2 -13.7l-0.4 0.5l-0.4 0.5l-0.4 0.7l-0.4 0.9l-0.4 2.4z" fill="#ffd200" stroke="#ffd200" stroke-width=".3"/>
<path d="M134.4 216.4l2 -1.9l-0.1 -10.6l-0.4 -1.6l-0.4 -0.2l-0.4 0.1l-0.5 0.2l-0.4 0.3z" fill="#ff9c00" stroke="#ff9c00" stroke-width=".3"/>
<path d="M136.4 214.5l2.1 -1.9l-0.2 -13.2l-0.4 0.4l-0.4 0.5l-0.4 0.7l-0.4 0.9l-0.4 2.3z" fill="#ffd200" stroke="#ffd200" stroke-width=".3"/>
<path d="M138.5 212.6l2 -1.9l-0.1 -10.3l-0.4 -1.5l-0.4 -0.2l-0.4 0.1l-0.5 0.2l-0.4 0.4z" fill="#ff9c00" stroke="#ff9c00" stroke-width=".3"/>
<path d="M140.5 210.7l1.9 -1.9l0 -13.9l-0.4 0.5l-0.4 0.5l-0.4 0.7l-0.4 0.8l-0.4 2.5z" fill="#ffd200" stroke="#ffd200" stroke-width=".3"/>
<path d="M142.4 208.8l2 -1.8l0 -10.8l-0.4 -1.7l-0.4 -0.1l-0.4 0l-0.4 0.2l-0.4 0.3z" fill="#ff9c00" stroke="#ff9c00" stroke-width=".3"/>
<path d="M144.4 207l1.3 -1.3l0 -16.2l-0.3 0.4l-0.3 0.5l-0.2 0.6l-0.3 0.8l-0.2 2.4z" fill="#ff3c00" stroke="#ff3c00" stroke-width=".3"/>
<path d="M145.7 205.7l1.3 -1.2l0 -16.2l-0.3 0.2l-0.2 0.1l-0.3 0.3l-0.3 0.3l-0.2 0.3z" fill="#ff3c00" stroke="#ff3c00" stroke-width=".3"/>
<path d="M147 204.5l1.3 -1.2l0 -12.7l-0.3 -1.8l-0.2 -0.4l-0.3 -0.1l-0.3 0l-0.2 0z" fill="#e82000" stroke="#e82000" stroke-width=".3"/>
<path d="M148.3 203.3l1.9 -1.8l0 -15.9l-0.4 0.4l-0.4 0.5l-0.3 0.7l-0.4 1l-0.4 2.7z" fill="#ff3c00" stroke="#ff3c00" stroke-width=".3"/>
<path d="M150.2 201.5l1.9 -1.8l0 -12.3l-0.3 -2l-0.4 -0.3l-0.4 0l-0.4 0.2l-0.4 0.3z" fill="#ff9c00" stroke="#ff9c00" stroke-width=".3"/>
<path d="M152.1 199.7l1.9 -1.8l0 -13.2l-0.4 0.4l-0.3 0.5l-0.4 0.6l-0.4 0.9l-0.4 2.3z" fill="#ffd200" stroke="#ffd200" stroke-width=".3"/>
<path d="M154 197.9l1.8 -1.7l0.1 -10.3l-0.4 -1.6l-0.4 -0.1l-0.3 0l-0.4 0.2l-0.4 0.3z" fill="#ff9c00" stroke="#ff9c00" stroke-width=".3"/>
<path d="M155.8 196.2l1.8 -1.7l0.1 -11.8l-0.3 0.4l-0.4 0.5l-0.4 0.6l-0.3 0.8l-0.4 2z" fill="#ffd200" stroke="#ffd200" stroke-width=".3"/>
<path d="M157.6 194.5l1.9 -1.8l0.1 -9.1l-0.4 -1.4l-0.4 -0.1l-0.3 0.1l-0.4 0.2l-0.4 0.3z" fill="#ff9c00" stroke="#ff9c00" stroke-width=".3"/>
<path d="M159.5 192.7l1.8 -1.7l0.1 -10.9l-0.4 0.3l-0.3 0.5l-0.4 0.6l-0.4 0.7l-0.3 2z" fill="#ffd200" stroke="#ffd200" stroke-width=".3"/>
<path d="M161.3 191l1.8 -1.7l0.1 -8.5l-0.4 -1.2l-0.3 -0.1l-0.4 0.1l-0.3 0.2l-0.4 0.3z" fill="#ff9c00" stroke="#ff9c00" stroke-width=".3"/>
<g transform="matrix(0.56648 0 0 0.61534 323.041 -26.917)" font-family="DejaVu Sans, sans-serif"><path d="M123.2 242L211.1 168.3L209.9 62.1L117.8 129.3" fill="#f2f2f2" opacity="0.5" stroke="#f2f2f2" stroke-width="1.45"/>
<path d="M211.1 168.3L352.1 209.3L357.1 99.4L209.9 62.1" fill="#e6e6e6" opacity="0.5" stroke="#e6e6e6" stroke-width="1.45"/>
<path d="M123.2 242L272.7 290.8L352.1 209.3L211.1 168.3" fill="#ececec" opacity="0.5" stroke="#ececec" stroke-width="1.45"/>
<path d="M132.3 244.9L219.7 170.8L218.8 64.3" fill="none" stroke="#b0b0b0" stroke-width="1.16"/>
<path d="M156.8 253L242.9 177.6L243.1 70.5" fill="none" stroke="#b0b0b0" stroke-width="1.16"/>
<path d="M181.9 261.1L266.6 184.4L267.7 76.7" fill="none" stroke="#b0b0b0" stroke-width="1.16"/>
<path d="M207.4 269.5L290.6 191.4L292.9 83.1" fill="none" stroke="#b0b0b0" stroke-width="1.16"/>
<path d="M233.3 277.9L315.1 198.5L318.4 89.6" fill="none" stroke="#b0b0b0" stroke-width="1.16"/>
<path d="M259.7 286.6L339.9 205.8L344.4 96.2" fill="none" stroke="#b0b0b0" stroke-width="1.16"/>
<path d="M124.1 124.6L129.3 236.9L278.2 285.2" fill="none" stroke="#b0b0b0" stroke-width="1.16"/>
<path d="M140.9 112.4L145.2 223.5L292.6 270.3" fill="none" stroke="#b0b0b0" stroke-width="1.16"/>
<path d="M157.1 100.6L160.6 210.6L306.6 256" fill="none" stroke="#b0b0b0" stroke-width="1.16"/>
<path d="M172.8 89.1L175.6 198L320.1 242.1" fill="none" stroke="#b0b0b0" stroke-width="1.16"/>
<path d="M188.1 78L190.2 185.8L333.3 228.6" fill="none" stroke="#b0b0b0" stroke-width="1.16"/>
<path d="M202.9 67.2L204.4 173.9L346.1 215.5" fill="none" stroke="#b0b0b0" stroke-width="1.16"/>
<path d="M352.1 209.3L211.1 168.3L123.2 242" fill="none" stroke="#b0b0b0" stroke-width="1.16"/>
<path d="M353 189L210.8 148.6L122.2 221.2" fill="none" stroke="#b0b0b0" stroke-width="1.16"/>
<path d="M354 168.3L210.6 128.6L121.2 200" fill="none" stroke="#b0b0b0" stroke-width="1.16"/>
<path d="M354.9 147.3L210.4 108.3L120.1 178.5" fill="none" stroke="#b0b0b0" stroke-width="1.16"/>
<path d="M355.9 126L210.1 87.7L119.1 156.5" fill="none" stroke="#b0b0b0" stroke-width="1.16"/>
<path d="M356.9 104.2L209.9 66.7L118 134.2" fill="none" stroke="#b0b0b0" stroke-width="1.16"/>
<path d="M123.2 242L272.7 290.8" fill="none" stroke="#000000" stroke-width="1.16" stroke-linecap="square"/>
<path d="M133 244.3L130.7 246.2" fill="none" stroke="#000000" stroke-width="1.16" stroke-linecap="square"/>
<text x="122.7" y="272.4" font-size="10.8" text-anchor="middle">0</text>
<path d="M157.6 252.3L155.3 254.3" fill="none" stroke="#000000" stroke-width="1.16" stroke-linecap="square"/>
<text x="147.4" y="280.6" font-size="10.8" text-anchor="middle">100</text>
<path d="M182.6 260.5L180.4 262.5" fill="none" stroke="#000000" stroke-width="1.16" stroke-linecap="square"/>
<text x="172.4" y="289" font-size="10.8" text-anchor="middle">200</text>
<path d="M208.1 268.8L205.9 270.8" fill="none" stroke="#000000" stroke-width="1.16" stroke-linecap="square"/>
<text x="198" y="297.5" font-size="10.8" text-anchor="middle">300</text>
<path d="M234 277.2L231.9 279.3" fill="none" stroke="#000000" stroke-width="1.16" stroke-linecap="square"/>
<text x="224" y="306.2" font-size="10.8" text-anchor="middle">400</text>
<path d="M260.4 285.9L258.3 288" fill="none" stroke="#000000" stroke-width="1.16" stroke-linecap="square"/>
<text x="250.4" y="315.1" font-size="10.8" text-anchor="middle">500</text>
<path d="M352.1 209.3L272.7 290.8" fill="none" stroke="#000000" stroke-width="1.16" stroke-linecap="square"/>
<path d="M276.9 284.7L280.7 286" fill="none" stroke="#000000" stroke-width="1.16" stroke-linecap="square"/>
<text x="294.4" y="309.7" font-size="10.8" text-anchor="middle">0</text>
<path d="M291.4 269.9L295.1 271.1" fill="none" stroke="#000000" stroke-width="1.16" stroke-linecap="square"/>
<text x="308.6" y="294.6" font-size="10.8" text-anchor="middle">100</text>
<path d="M305.4 255.6L309 256.8" fill="none" stroke="#000000" stroke-width="1.16" stroke-linecap="square"/>
<text x="322.3" y="280" font-size="10.8" text-anchor="middle">200</text>
<path d="M318.9 241.7L322.6 242.8" fill="none" stroke="#000000" stroke-width="1.16" stroke-linecap="square"/>
<text x="335.7" y="265.8" font-size="10.8" text-anchor="middle">300</text>
<path d="M332.1 228.2L335.7 229.3" fill="none" stroke="#000000" stroke-width="1.16" stroke-linecap="square"/>
<text x="348.6" y="252.1" font-size="10.8" text-anchor="middle">400</text>
<path d="M344.9 215.1L348.4 216.2" fill="none" stroke="#000000" stroke-width="1.16" stroke-linecap="square"/>
<text x="361.2" y="238.7" font-size="10.8" text-anchor="middle">500</text>
<path d="M352.1 209.3L357.1 99.4" fill="none" stroke="#000000" stroke-width="1.16" stroke-linecap="square"/>
<path d="M350.9 209L354.5 210" fill="none" stroke="#000000" stroke-width="1.16" stroke-linecap="square"/>
<text x="373" y="213.9" font-size="10.8" text-anchor="middle">0</text>
<path d="M351.8 188.6L355.4 189.7" fill="none" stroke="#000000" stroke-width="1.16" stroke-linecap="square"/>
<text x="374.1" y="193.6" font-size="10.8" text-anchor="middle">50</text>
<path d="M352.8 168L356.4 169" fill="none" stroke="#000000" stroke-width="1.16" stroke-linecap="square"/>
<text x="375.2" y="173" font-size="10.8" text-anchor="middle">100</text>
<path d="M353.7 147L357.4 148" fill="none" stroke="#000000" stroke-width="1.16" stroke-linecap="square"/>
<text x="376.4" y="152.1" font-size="10.8" text-anchor="middle">150</text>
<path d="M354.7 125.6L358.4 126.6" fill="none" stroke="#000000" stroke-width="1.16" stroke-linecap="square"/>
<text x="377.5" y="130.8" font-size="10.8" text-anchor="middle">200</text>
<path d="M355.7 103.9L359.4 104.9" fill="none" stroke="#000000" stroke-width="1.16" stroke-linecap="square"/>
<text x="378.7" y="109.1" font-size="10.8" text-anchor="middle">250</text></g>
<path d="M401.4 120.7l73.6 25.9l39.5 -43.5l-69.9 -22.2z" fill="#4747a9" stroke="#4747a9" stroke-width=".3"/>
<path d="M401.4 120.7L444.6 80.9M401.4 120.7L475 146.6M410.2 123.8L453 83.5M407.1 115.3L480.3 140.7M419.2 126.9L461.5 86.3M412.8 110.1L485.5 135M428.2 130.1L470.2 89M418.4 105L490.6 129.4M437.4 133.3L478.9 91.8M423.8 100L495.6 123.9M446.7 136.6L487.7 94.6M429.2 95L500.5 118.6M456.1 139.9L496.6 97.4M434.4 90.2L505.3 113.3M465.5 143.2L505.6 100.3M439.6 85.5L510 108.1" stroke="#6a6ab8" stroke-width=".3" fill="none"/>
<path d="M440.9 129.8L446 124.7L445.5 61.5L440.1 66.3z" fill="url(#fadeW)" fill-opacity="1"/>
<path d="M448.6 122.1L453.6 117.1L453.3 51.8L448.1 56.4z" fill="url(#fadeW)" fill-opacity="1"/>
<path d="M455.6 115.1L461.7 109L461.8 43.2L455.5 48.8z" fill="url(#fadeW)" fill-opacity="1"/>
<path d="M464.1 106.6L468.8 101.8L469.2 39.3L464.3 43.7z" fill="url(#fadeW)" fill-opacity="1"/>
<path d="M471.2 99.5L475.8 94.9L476.4 34L471.7 38.3z" fill="url(#fadeW)" fill-opacity="1"/>
<path d="M437.4 133.3l0.9 -0.9l-0.5 -36.6l-0.2 0.8l-0.2 1l-0.1 1.2l-0.2 1.7l-0.1 5.7z" fill="#ffd800" stroke="#ffd800" stroke-width=".3"/>
<path d="M438.3 132.4l2.1 -2l-0.5 -38.8l-0.4 0.2l-0.5 0.5l-0.4 0.8l-0.4 1.1l-0.4 1.6z" fill="#ff9800" stroke="#ff9800" stroke-width=".3"/>
<path d="M440.4 130.4l1.9 -2l-0.3 -27l-0.4 -6.9l-0.5 -1.5l-0.4 -0.8l-0.4 -0.4l-0.4 -0.2z" fill="#ff9800" stroke="#ff9800" stroke-width=".3"/>
<path d="M442.3 128.4l0.9 -0.9l-0.4 -36.9l-0.1 0.8l-0.2 1l-0.2 1.2l-0.2 1.7l-0.1 5.8z" fill="#ffd800" stroke="#ffd800" stroke-width=".3"/>
<path d="M443.2 127.5l2.1 -2l-0.4 -39.1l-0.4 0.2l-0.4 0.5l-0.5 0.8l-0.4 1.1l-0.4 1.6z" fill="#ff9800" stroke="#ff9800" stroke-width=".3"/>
<path d="M445.3 125.5l1.9 -2l-0.2 -27.2l-0.5 -6.9l-0.4 -1.6l-0.4 -0.8l-0.4 -0.4l-0.4 -0.2z" fill="#ff9800" stroke="#ff9800" stroke-width=".3"/>
<path d="M447.2 123.5l0.8 -0.8l-0.2 -38.8l-0.2 0.9l-0.2 1l-0.2 1.3l-0.1 1.7l-0.1 6.1z" fill="#ffd800" stroke="#ffd800" stroke-width=".3"/>
<path d="M448 122.7l2 -2l-0.2 -41l-0.4 0.2l-0.4 0.5l-0.4 0.8l-0.4 1.1l-0.4 1.6z" fill="#ff9800" stroke="#ff9800" stroke-width=".3"/>
<path d="M450 120.7l1.9 -1.9l-0.1 -28.5l-0.4 -7.4l-0.4 -1.6l-0.4 -0.9l-0.4 -0.5l-0.4 -0.2z" fill="#ff9800" stroke="#ff9800" stroke-width=".3"/>
<path d="M451.9 118.8l0.9 -0.9l-0.2 -44.6l-0.2 1l-0.1 1.2l-0.2 1.4l-0.2 2l-0.1 6.9z" fill="#ff9800" stroke="#ff9800" stroke-width=".3"/>
<path d="M452.8 117.9l2 -2l-0.2 -47l-0.4 0.1l-0.4 0.5l-0.4 0.8l-0.4 1.3l-0.4 1.7z" fill="#f83000" stroke="#f83000" stroke-width=".3"/>
<path d="M454.8 115.9l1.8 -1.8l0 -32.8l-0.4 -8.5l-0.4 -2l-0.4 -1.1l-0.4 -0.6l-0.4 -0.2z" fill="#f83000" stroke="#f83000" stroke-width=".3"/>
<path d="M456.6 114.1l0.9 -0.9l-0.1 -45.8l-0.2 1l-0.1 1.2l-0.2 1.5l-0.2 2l-0.1 7.1z" fill="#f83000" stroke="#f83000" stroke-width=".3"/>
<path d="M457.5 113.2l1.9 -1.9l0 -48.4l-0.4 0.1l-0.4 0.5l-0.4 0.8l-0.4 1.3l-0.4 1.8z" fill="#f83000" stroke="#f83000" stroke-width=".3"/>
<path d="M459.4 111.3l1.8 -1.8l0.1 -33.7l-0.4 -8.8l-0.4 -2l-0.3 -1.2l-0.4 -0.7l-0.4 -0.2z" fill="#e02000" stroke="#e02000" stroke-width=".3"/>
<path d="M461.2 109.5l0.8 -0.9l0.1 -38.6l-0.1 0.9l-0.2 1l-0.2 1.3l-0.2 1.7l-0.1 6z" fill="#ffd800" stroke="#ffd800" stroke-width=".3"/>
<path d="M462 108.6l1.9 -1.9l0.2 -40.7l-0.4 0.1l-0.4 0.5l-0.4 0.7l-0.4 1.2l-0.4 1.5z" fill="#ff9800" stroke="#ff9800" stroke-width=".3"/>
<path d="M463.9 106.7l1.8 -1.8l0.2 -28.4l-0.4 -7.3l-0.3 -1.6l-0.4 -1l-0.4 -0.5l-0.3 -0.1z" fill="#ff9800" stroke="#ff9800" stroke-width=".3"/>
<path d="M465.7 104.9l0.8 -0.8l0.2 -37.9l-0.1 0.9l-0.2 1l-0.2 1.2l-0.1 1.7l-0.2 5.9z" fill="#ffd800" stroke="#ffd800" stroke-width=".3"/>
<path d="M466.5 104.1l1.9 -1.9l0.3 -40l-0.4 0.2l-0.4 0.4l-0.4 0.8l-0.4 1.1l-0.4 1.5z" fill="#ff9800" stroke="#ff9800" stroke-width=".3"/>
<path d="M468.4 102.2l1.8 -1.7l0.2 -27.9l-0.3 -7.2l-0.4 -1.6l-0.3 -0.9l-0.4 -0.5l-0.3 -0.2z" fill="#ff9800" stroke="#ff9800" stroke-width=".3"/>
<path d="M470.2 100.5l0.8 -0.8l0.3 -38.2l-0.2 0.8l-0.1 1l-0.2 1.3l-0.2 1.7l-0.2 5.9z" fill="#ffd800" stroke="#ffd800" stroke-width=".3"/>
<path d="M471 99.7l1.8 -1.9l0.4 -40.3l-0.4 0.1l-0.4 0.5l-0.3 0.7l-0.4 1.2l-0.4 1.5z" fill="#ff9800" stroke="#ff9800" stroke-width=".3"/>
<path d="M472.8 97.8l1.8 -1.7l0.3 -28.1l-0.3 -7.2l-0.4 -1.7l-0.3 -0.9l-0.4 -0.5l-0.3 -0.2z" fill="#ff9800" stroke="#ff9800" stroke-width=".3"/>
<path d="M474.6 96.1l0.7 -0.8l0.5 -39.9l-0.2 0.9l-0.2 1l-0.1 1.3l-0.2 1.8l-0.2 6.2z" fill="#ffd800" stroke="#ffd800" stroke-width=".3"/>
<path d="M475.3 95.3l1.9 -1.8l0.5 -42.2l-0.4 0.1l-0.4 0.5l-0.4 0.8l-0.3 1.1l-0.4 1.6z" fill="#ff9800" stroke="#ff9800" stroke-width=".3"/>
<path d="M477.2 93.5l1.7 -1.7l0.4 -29.4l-0.3 -7.6l-0.3 -1.7l-0.3 -1l-0.4 -0.6l-0.3 -0.2z" fill="#ff9800" stroke="#ff9800" stroke-width=".3"/>
<g transform="matrix(0.50708 0 0 0.53621 43.018 224.632)" font-family="DejaVu Sans, sans-serif"><path d="M123.2 242L211.1 168.3L209.9 62.1L117.8 129.3" fill="#f2f2f2" opacity="0.5" stroke="#f2f2f2" stroke-width="1.45"/>
<path d="M211.1 168.3L352.1 209.3L357.1 99.4L209.9 62.1" fill="#e6e6e6" opacity="0.5" stroke="#e6e6e6" stroke-width="1.45"/>
<path d="M123.2 242L272.7 290.8L352.1 209.3L211.1 168.3" fill="#ececec" opacity="0.5" stroke="#ececec" stroke-width="1.45"/>
<path d="M132.3 244.9L219.7 170.8L218.8 64.3" fill="none" stroke="#b0b0b0" stroke-width="1.16"/>
<path d="M156.8 253L242.9 177.6L243.1 70.5" fill="none" stroke="#b0b0b0" stroke-width="1.16"/>
<path d="M181.9 261.1L266.6 184.4L267.7 76.7" fill="none" stroke="#b0b0b0" stroke-width="1.16"/>
<path d="M207.4 269.5L290.6 191.4L292.9 83.1" fill="none" stroke="#b0b0b0" stroke-width="1.16"/>
<path d="M233.3 277.9L315.1 198.5L318.4 89.6" fill="none" stroke="#b0b0b0" stroke-width="1.16"/>
<path d="M259.7 286.6L339.9 205.8L344.4 96.2" fill="none" stroke="#b0b0b0" stroke-width="1.16"/>
<path d="M124.1 124.6L129.3 236.9L278.2 285.2" fill="none" stroke="#b0b0b0" stroke-width="1.16"/>
<path d="M140.9 112.4L145.2 223.5L292.6 270.3" fill="none" stroke="#b0b0b0" stroke-width="1.16"/>
<path d="M157.1 100.6L160.6 210.6L306.6 256" fill="none" stroke="#b0b0b0" stroke-width="1.16"/>
<path d="M172.8 89.1L175.6 198L320.1 242.1" fill="none" stroke="#b0b0b0" stroke-width="1.16"/>
<path d="M188.1 78L190.2 185.8L333.3 228.6" fill="none" stroke="#b0b0b0" stroke-width="1.16"/>
<path d="M202.9 67.2L204.4 173.9L346.1 215.5" fill="none" stroke="#b0b0b0" stroke-width="1.16"/>
<path d="M352.1 209.3L211.1 168.3L123.2 242" fill="none" stroke="#b0b0b0" stroke-width="1.16"/>
<path d="M353 188.7L210.8 148.4L122.2 220.9" fill="none" stroke="#b0b0b0" stroke-width="1.16"/>
<path d="M354 167.8L210.6 128.2L121.2 199.5" fill="none" stroke="#b0b0b0" stroke-width="1.16"/>
<path d="M355 146.6L210.4 107.6L120.1 177.7" fill="none" stroke="#b0b0b0" stroke-width="1.16"/>
<path d="M356 125L210.1 86.7L119 155.5" fill="none" stroke="#b0b0b0" stroke-width="1.16"/>
<path d="M357 103L209.9 65.5L117.9 132.9" fill="none" stroke="#b0b0b0" stroke-width="1.16"/>
<path d="M123.2 242L272.7 290.8" fill="none" stroke="#000000" stroke-width="1.16" stroke-linecap="square"/>
<path d="M133 244.3L130.7 246.2" fill="none" stroke="#000000" stroke-width="1.16" stroke-linecap="square"/>
<text x="122.7" y="272.4" font-size="10.8" text-anchor="middle">0</text>
<path d="M157.6 252.3L155.3 254.3" fill="none" stroke="#000000" stroke-width="1.16" stroke-linecap="square"/>
<text x="147.4" y="280.6" font-size="10.8" text-anchor="middle">100</text>
<path d="M182.6 260.5L180.4 262.5" fill="none" stroke="#000000" stroke-width="1.16" stroke-linecap="square"/>
<text x="172.4" y="289" font-size="10.8" text-anchor="middle">200</text>
<path d="M208.1 268.8L205.9 270.8" fill="none" stroke="#000000" stroke-width="1.16" stroke-linecap="square"/>
<text x="198" y="297.5" font-size="10.8" text-anchor="middle">300</text>
<path d="M234 277.2L231.9 279.3" fill="none" stroke="#000000" stroke-width="1.16" stroke-linecap="square"/>
<text x="224" y="306.2" font-size="10.8" text-anchor="middle">400</text>
<path d="M260.4 285.9L258.3 288" fill="none" stroke="#000000" stroke-width="1.16" stroke-linecap="square"/>
<text x="250.4" y="315.1" font-size="10.8" text-anchor="middle">500</text>
<path d="M352.1 209.3L272.7 290.8" fill="none" stroke="#000000" stroke-width="1.16" stroke-linecap="square"/>
<path d="M276.9 284.7L280.7 286" fill="none" stroke="#000000" stroke-width="1.16" stroke-linecap="square"/>
<text x="294.4" y="309.7" font-size="10.8" text-anchor="middle">0</text>
<path d="M291.4 269.9L295.1 271.1" fill="none" stroke="#000000" stroke-width="1.16" stroke-linecap="square"/>
<text x="308.6" y="294.6" font-size="10.8" text-anchor="middle">100</text>
<path d="M305.4 255.6L309 256.8" fill="none" stroke="#000000" stroke-width="1.16" stroke-linecap="square"/>
<text x="322.3" y="280" font-size="10.8" text-anchor="middle">200</text>
<path d="M318.9 241.7L322.6 242.8" fill="none" stroke="#000000" stroke-width="1.16" stroke-linecap="square"/>
<text x="335.7" y="265.8" font-size="10.8" text-anchor="middle">300</text>
<path d="M332.1 228.2L335.7 229.3" fill="none" stroke="#000000" stroke-width="1.16" stroke-linecap="square"/>
<text x="348.6" y="252.1" font-size="10.8" text-anchor="middle">400</text>
<path d="M344.9 215.1L348.4 216.2" fill="none" stroke="#000000" stroke-width="1.16" stroke-linecap="square"/>
<text x="361.2" y="238.7" font-size="10.8" text-anchor="middle">500</text>
<path d="M352.1 209.3L357.1 99.4" fill="none" stroke="#000000" stroke-width="1.16" stroke-linecap="square"/>
<path d="M350.9 209L354.5 210" fill="none" stroke="#000000" stroke-width="1.16" stroke-linecap="square"/>
<text x="373" y="213.9" font-size="10.8" text-anchor="middle">0</text>
<path d="M351.8 188.4L355.4 189.4" fill="none" stroke="#000000" stroke-width="1.16" stroke-linecap="square"/>
<text x="374.1" y="193.4" font-size="10.8" text-anchor="middle">50</text>
<path d="M352.8 167.5L356.4 168.5" fill="none" stroke="#000000" stroke-width="1.16" stroke-linecap="square"/>
<text x="375.3" y="172.5" font-size="10.8" text-anchor="middle">100</text>
<path d="M353.7 146.3L357.4 147.2" fill="none" stroke="#000000" stroke-width="1.16" stroke-linecap="square"/>
<text x="376.4" y="151.3" font-size="10.8" text-anchor="middle">150</text>
<path d="M354.7 124.6L358.4 125.6" fill="none" stroke="#000000" stroke-width="1.16" stroke-linecap="square"/>
<text x="377.6" y="129.8" font-size="10.8" text-anchor="middle">200</text>
<path d="M355.7 102.6L359.4 103.6" fill="none" stroke="#000000" stroke-width="1.16" stroke-linecap="square"/>
<text x="378.8" y="107.8" font-size="10.8" text-anchor="middle">250</text></g>
<path d="M150.6 304.6l3.8 1.1l1.1 -2.2l-3.9 -1z" class="j52"/>
<path d="M149.5 306.8l3.8 1.1l1.1 -2.2l-3.8 -1.1z" class="j48"/>
<path d="M154.4 305.7l3.8 1l1.1 -2.1l-3.8 -1.1z" class="j52"/>
<path d="M148.3 306.5l3.8 1.1l1.2 0.3l-3.8 -1.1z" class="j48"/>
<path d="M153.3 307.9l3.8 1l1.1 -2.2l-3.8 -1z" class="j48"/>
<path d="M158.2 306.7l3.9 1.1l1 -2.2l-3.8 -1z" class="j53"/>
<path d="M152.1 307.6l3.9 1l1.1 0.3l-3.8 -1z" class="j49"/>
<path d="M157.1 308.9l3.9 1l1.1 -2.1l-3.9 -1.1z" class="j49"/>
<path d="M147.1 306.1l3.9 1.1l1.1 0.4l-3.8 -1.1z" class="j53"/>
<path d="M162.1 307.8l3.9 0.9l1 -2.1l-3.9 -1z" class="j53"/>
<path d="M156 308.6l3.8 1l1.2 0.3l-3.9 -1z" class="j49"/>
<path d="M146 308.4l3.8 1.1l1.2 -2.3l-3.9 -1.1z" class="j53"/>
<path d="M161 309.9l3.8 1l1.2 -2.2l-3.9 -0.9z" class="j50"/>
<path d="M151 307.2l3.8 1.1l1.2 0.3l-3.9 -1z" class="j53"/>
<path d="M144.8 310.6l3.9 1.1l1.1 -2.2l-3.8 -1.1z" class="j49"/>
<path d="M166 308.7l3.9 0.8l1 -2l-3.9 -0.9z" class="j54"/>
<path d="M159.8 309.6l3.9 1l1.1 0.3l-3.8 -1z" class="j50"/>
<path d="M149.8 309.5l3.9 1l1.1 -2.2l-3.8 -1.1z" class="j53"/>
<path d="M154.8 308.3l3.9 1l1.1 0.3l-3.8 -1z" class="j54"/>
<path d="M164.8 310.9l4 0.7l1.1 -2.1l-3.9 -0.8z" class="j51"/>
<path d="M143.6 310.3l3.9 1.1l1.2 0.3l-3.9 -1.1z" class="j49"/>
<path d="M148.7 311.7l3.8 1.1l1.2 -2.3l-3.9 -1z" class="j49"/>
<path d="M169.9 309.5l3.9 0.6l1 -2l-3.9 -0.6z" class="j56"/>
<path d="M153.7 310.5l3.9 1l1.1 -2.2l-3.9 -1z" class="j54"/>
<path d="M163.7 310.6l3.9 0.8l1.2 0.2l-4 -0.7z" class="j51"/>
<path d="M158.7 309.3l3.9 1l1.1 0.3l-3.9 -1z" class="j54"/>
<path d="M168.8 311.6l3.9 0.5l1.1 -2l-3.9 -0.6z" class="j52"/>
<path d="M147.5 311.4l3.9 1l1.1 0.4l-3.8 -1.1z" class="j50"/>
<path d="M152.5 312.8l3.9 1l1.2 -2.3l-3.9 -1z" class="j50"/>
<path d="M142.4 309.9l3.9 1.1l1.2 0.4l-3.9 -1.1z" class="j54"/>
<path d="M173.8 310.1l4 -0.6l1 -1.7l-4 0.3z" class="j59"/>
<path d="M157.6 311.5l3.9 1l1.1 -2.2l-3.9 -1z" class="j54"/>
<path d="M167.6 311.4l4 0.5l1.1 0.2l-3.9 -0.5z" class="j53"/>
<path d="M162.6 310.3l3.9 0.9l1.1 0.2l-3.9 -0.8z" class="j55"/>
<path d="M151.4 312.4l3.9 1.1l1.1 0.3l-3.9 -1z" class="j50"/>
<path d="M141.3 312.1l3.8 1.2l1.2 -2.3l-3.9 -1.1z" class="j54"/>
<path d="M156.4 313.8l3.9 0.9l1.2 -2.2l-3.9 -1z" class="j50"/>
<path d="M146.3 311l3.9 1.1l1.2 0.3l-3.9 -1z" class="j54"/>
<path d="M172.7 312.1l3.9 -0.8l1.2 -1.8l-4 0.6z" class="j56"/>
<path d="M140.1 314.3l3.9 1.1l1.1 -2.1l-3.8 -1.2z" class="j50"/>
<path d="M177.8 309.5l1.5 -0.9l1 -1.5l-1.5 0.7z" class="j64"/>
<path d="M161.5 312.5l3.9 0.8l1.1 -2.1l-3.9 -0.9z" class="j55"/>
<path d="M166.5 311.2l4 0.6l1.1 0.1l-4 -0.5z" class="j57"/>
<path d="M155.3 313.5l3.9 0.9l1.1 0.3l-3.9 -0.9z" class="j51"/>
<path d="M145.1 313.3l3.9 1.1l1.2 -2.3l-3.9 -1.1z" class="j54"/>
<path d="M171.6 311.9l3.9 -0.6l1.1 0l-3.9 0.8z" class="j57"/>
<path d="M150.2 312.1l3.9 1l1.2 0.4l-3.9 -1.1z" class="j54"/>
<path d="M160.3 314.7l3.9 0.7l1.2 -2.1l-3.9 -0.8z" class="j52"/>
<path d="M176.6 311.3l1.6 -1.2l1.1 -1.5l-1.5 0.9z" class="j62"/>
<path d="M179.3 308.6l1 -1.2l1 -1.3l-1 1z" class="j68"/>
<path d="M138.9 313.8l3.9 1.2l1.2 0.4l-3.9 -1.1z" class="j51"/>
<path d="M144 315.4l3.9 1.2l1.1 -2.2l-3.9 -1.1z" class="j50"/>
<path d="M165.4 313.3l3.9 0.5l1.2 -2l-4 -0.6z" class="j57"/>
<path d="M180.3 307.4l0.7 -1.3l1.1 -1l-0.8 1z" class="j73"/>
<path d="M178.2 310.1l1 -1.4l1.1 -1.3l-1 1.2z" class="j67"/>
<path d="M149 314.4l3.9 1l1.2 -2.3l-3.9 -1z" class="j55"/>
<path d="M159.2 314.4l3.9 0.8l1.1 0.2l-3.9 -0.7z" class="j52"/>
<path d="M175.5 311.3l1.6 -1l1.1 -0.2l-1.6 1.2z" class="j62"/>
<path d="M170.5 311.8l3.9 -0.4l1.1 -0.1l-3.9 0.6z" class="j60"/>
<path d="M154.1 313.1l3.9 1l1.2 0.3l-3.9 -0.9z" class="j55"/>
<path d="M184.2 310l1.5 1.9l1.1 -1.7l-1.5 -1.7z" class="j64"/>
<path d="M183.3 308.3l0.9 1.7l1.1 -1.5l-1 -1.5z" class="j68"/>
<path d="M164.2 315.4l4 0.4l1.1 -2l-3.9 -0.5z" class="j53"/>
<path d="M142.8 315l3.9 1.2l1.2 0.4l-3.9 -1.2z" class="j51"/>
<path d="M182.5 306.6l0.8 1.7l1 -1.3l-0.7 -1.5z" class="j73"/>
<path d="M181 306.1l0.8 -1.7l1 -0.7l-0.7 1.4z" class="j78"/>
<path d="M185.7 311.9l4 2.9l1 -2l-3.9 -2.6z" class="j59"/>
<path d="M147.9 316.6l3.9 1l1.1 -2.2l-3.9 -1z" class="j51"/>
<path d="M179.2 308.7l0.7 -1.5l1.1 -1.1l-0.7 1.3z" class="j72"/>
<path d="M181.8 304.4l0.7 2.2l1.1 -1.1l-0.8 -1.8z" class="j78"/>
<path d="M137.7 313.3l3.8 1.2l1.3 0.5l-3.9 -1.2z" class="j56"/>
<path d="M183.1 311.6l1.5 2.1l1.1 -1.8l-1.5 -1.9z" class="j62"/>
<path d="M177.1 310.3l1 -1.2l1.1 -0.4l-1 1.4z" class="j68"/>
<path d="M182.2 309.6l0.9 2l1.1 -1.6l-0.9 -1.7z" class="j67"/>
<path d="M169.3 313.8l4 -0.7l1.1 -1.7l-3.9 0.4z" class="j61"/>
<path d="M152.9 315.4l4 0.9l1.1 -2.2l-3.9 -1z" class="j55"/>
<path d="M184.6 313.7l4 3.2l1.1 -2.1l-4 -2.9z" class="j56"/>
<path d="M189.7 314.8l4 1.9l1 -2.1l-4 -1.8z" class="j56"/>
<path d="M181.4 307.7l0.8 1.9l1.1 -1.3l-0.8 -1.7z" class="j72"/>
<path d="M163.1 315.2l4 0.4l1.1 0.2l-4 -0.4z" class="j54"/>
<path d="M158 314.1l4 0.8l1.1 0.3l-3.9 -0.8z" class="j56"/>
<path d="M174.4 311.4l1.5 -0.9l1.2 -0.2l-1.6 1z" class="j65"/>
<path d="M179.9 307.2l0.8 -2l1.1 -0.8l-0.8 1.7z" class="j78"/>
<path d="M146.7 316.2l3.9 1.1l1.2 0.3l-3.9 -1z" class="j51"/>
<path d="M180.7 305.2l0.7 2.5l1.1 -1.1l-0.7 -2.2z" class="j78"/>
<path d="M178.1 309.1l0.7 -1.3l1.1 -0.6l-0.7 1.5z" class="j73"/>
<path d="M151.8 317.6l3.9 0.9l1.2 -2.2l-4 -0.9z" class="j52"/>
<path d="M136.5 315.3l3.9 1.2l1.1 -2l-3.8 -1.2z" class="j57"/>
<path d="M168.2 315.8l4 -0.9l1.1 -1.8l-4 0.7z" class="j58"/>
<path d="M141.5 314.5l4 1.2l1.2 0.5l-3.9 -1.2z" class="j56"/>
<path d="M188.6 316.9l4 1.9l1.1 -2.1l-4 -1.9z" class="j52"/>
<path d="M182 311.8l1.5 1.9l1.1 0l-1.5 -2.1z" class="j62"/>
<path d="M181.1 310l0.9 1.8l1.1 -0.2l-0.9 -2z" class="j68"/>
<path d="M175.9 310.5l1.1 -1.1l1.1 -0.3l-1 1.2z" class="j70"/>
<path d="M183.5 313.7l4 3l1.1 0.2l-4 -3.2z" class="j57"/>
<path d="M193.7 316.7l4.1 1.5l1 -2.1l-4.1 -1.5z" class="j54"/>
<path d="M180.3 308.2l0.8 1.8l1.1 -0.4l-0.8 -1.9z" class="j73"/>
<path d="M156.9 316.3l3.9 0.8l1.2 -2.2l-4 -0.8z" class="j56"/>
<path d="M173.3 313.1l1.5 -1.1l1.1 -1.5l-1.5 0.9z" class="j66"/>
<path d="M178.8 307.8l0.8 -1.9l1.1 -0.7l-0.8 2z" class="j79"/>
<path d="M135.3 317.1l3.9 1.1l1.2 -1.7l-3.9 -1.2z" class="j54"/>
<path d="M162 314.9l3.9 0.6l1.2 0.1l-4 -0.4z" class="j58"/>
<path d="M179.6 305.9l0.7 2.3l1.1 -0.5l-0.7 -2.5z" class="j79"/>
<path d="M150.6 317.3l3.9 0.9l1.2 0.3l-3.9 -0.9z" class="j52"/>
<path d="M177 309.4l0.7 -1.1l1.1 -0.5l-0.7 1.3z" class="j75"/>
<path d="M192.6 318.8l4.1 1.7l1.1 -2.3l-4.1 -1.5z" class="j51"/>
<path d="M167.1 315.6l4 -0.7l1.1 0l-4 0.9z" class="j58"/>
<path d="M187.5 316.7l4.1 1.9l1 0.2l-4 -1.9z" class="j53"/>
<path d="M140.4 316.5l3.9 1.1l1.2 -1.9l-4 -1.2z" class="j57"/>
<path d="M145.5 315.7l3.9 1.1l1.2 0.5l-3.9 -1.1z" class="j56"/>
<path d="M155.7 318.5l3.9 0.7l1.2 -2.1l-3.9 -0.8z" class="j53"/>
<path d="M172.2 314.9l1.5 -1.4l1.1 -1.5l-1.5 1.1z" class="j64"/>
<path d="M174.8 312l1 -1.3l1.2 -1.3l-1.1 1.1z" class="j71"/>
<path d="M181 312l1.4 1.8l1.1 -0.1l-1.5 -1.9z" class="j65"/>
<path d="M180 310.3l1 1.7l1 -0.2l-0.9 -1.8z" class="j70"/>
<path d="M197.8 318.2l4 1.5l1 -2.2l-4 -1.4z" class="j53"/>
<path d="M179.2 308.7l0.8 1.6l1.1 -0.3l-0.8 -1.8z" class="j75"/>
<path d="M182.4 313.8l4.1 2.8l1 0.1l-4 -3z" class="j60"/>
<path d="M177.7 308.3l0.8 -1.6l1.1 -0.8l-0.8 1.9z" class="j80"/>
<path d="M139.2 318.2l3.9 1.1l1.2 -1.7l-3.9 -1.1z" class="j54"/>
<path d="M160.8 317.1l4 0.4l1.1 -2l-3.9 -0.6z" class="j58"/>
<path d="M134 315.6l3.9 1.1l1.3 1.5l-3.9 -1.1z" class="j57"/>
<path d="M178.5 306.7l0.7 2l1.1 -0.5l-0.7 -2.3z" class="j80"/>
<path d="M191.6 318.6l4 1.6l1.1 0.3l-4.1 -1.7z" class="j51"/>
<path d="M196.7 320.5l4 1.4l1.1 -2.2l-4 -1.5z" class="j50"/>
<path d="M175.8 310.7l0.8 -1.4l1.1 -1l-0.7 1.1z" class="j75"/>
<path d="M154.5 318.2l4 0.8l1.1 0.2l-3.9 -0.7z" class="j53"/>
<path d="M144.3 317.6l3.9 1.2l1.2 -2l-3.9 -1.1z" class="j57"/>
<path d="M173.7 313.5l1 -1.5l1.1 -1.3l-1 1.3z" class="j70"/>
<path d="M149.4 316.8l3.9 1.1l1.2 0.3l-3.9 -0.9z" class="j56"/>
<path d="M165.9 315.5l4 -0.7l1.2 0.1l-4 0.7z" class="j62"/>
<path d="M179.8 313.5l1.5 2l1.1 -1.7l-1.4 -1.8z" class="j66"/>
<path d="M171.1 314.9l1.5 -1.3l1.1 -0.1l-1.5 1.4z" class="j65"/>
<path d="M186.5 316.6l4 1.8l1.1 0.2l-4.1 -1.9z" class="j57"/>
<path d="M178.8 311.6l1 1.9l1.2 -1.5l-1 -1.7z" class="j71"/>
<path d="M159.6 319.2l4 0.3l1.2 -2l-4 -0.4z" class="j55"/>
<path d="M201.8 319.7l4.1 1.3l1 -2.2l-4.1 -1.3z" class="j53"/>
<path d="M181.3 315.5l4 3.1l1.2 -2l-4.1 -2.8z" class="j61"/>
<path d="M178.1 309.7l0.7 1.9l1.2 -1.3l-0.8 -1.6z" class="j75"/>
<path d="M176.6 309.3l0.8 -1.9l1.1 -0.7l-0.8 1.6z" class="j81"/>
<path d="M143.1 319.3l3.9 1.1l1.2 -1.6l-3.9 -1.2z" class="j54"/>
<path d="M174.7 312l0.8 -1.7l1.1 -1l-0.8 1.4z" class="j75"/>
<path d="M177.4 307.4l0.7 2.3l1.1 -1l-0.7 -2z" class="j81"/>
<path d="M195.6 320.2l4.1 1.5l1 0.2l-4 -1.4z" class="j50"/>
<path d="M137.9 316.7l3.9 1.1l1.3 1.5l-3.9 -1.1z" class="j57"/>
<path d="M200.7 321.9l4.1 1.4l1.1 -2.3l-4.1 -1.3z" class="j49"/>
<path d="M178.7 315l1.5 2.3l1.1 -1.8l-1.5 -2z" class="j64"/>
<path d="M172.6 313.6l1 -1.4l1.1 -0.2l-1 1.5z" class="j70"/>
<path d="M177.7 312.9l1 2.1l1.1 -1.5l-1 -1.9z" class="j70"/>
<path d="M133.3 314.1l4 1.1l0.6 1.5l-3.9 -1.1z" class="j64"/>
<path d="M148.2 318.8l4 1.1l1.1 -2l-3.9 -1.1z" class="j57"/>
<path d="M180.2 317.3l4 3.4l1.1 -2.1l-4 -3.1z" class="j58"/>
<path d="M164.8 317.5l4 -1l1.1 -1.7l-4 0.7z" class="j63"/>
<path d="M190.5 318.4l4.1 1.6l1 0.2l-4 -1.6z" class="j55"/>
<path d="M185.3 318.6l4.1 2l1.1 -2.2l-4 -1.8z" class="j57"/>
<path d="M158.5 319l4 0.3l1.1 0.2l-4 -0.3z" class="j55"/>
<path d="M153.3 317.9l4 0.8l1.2 0.3l-4 -0.8z" class="j57"/>
<path d="M205.9 321l4.1 1.4l1 -2.3l-4.1 -1.3z" class="j52"/>
<path d="M177 310.7l0.7 2.2l1.1 -1.3l-0.7 -1.9z" class="j75"/>
<path d="M169.9 314.8l1.5 -1l1.2 -0.2l-1.5 1.3z" class="j68"/>
<path d="M175.5 310.3l0.8 -2.3l1.1 -0.6l-0.8 1.9z" class="j82"/>
<path d="M176.3 308l0.7 2.7l1.1 -1l-0.7 -2.3z" class="j82"/>
<path d="M184.2 320.7l4.1 2.1l1.1 -2.2l-4.1 -2z" class="j53"/>
<path d="M173.6 312.2l0.7 -1.5l1.2 -0.4l-0.8 1.7z" class="j76"/>
<path d="M163.6 319.5l4 -1.3l1.2 -1.7l-4 1z" class="j60"/>
<path d="M199.7 321.7l4.1 1.4l1 0.2l-4.1 -1.4z" class="j49"/>
<path d="M147 320.4l4 1l1.2 -1.5l-4 -1.1z" class="j55"/>
<path d="M133 313.3l3.9 1.1l0.4 0.8l-4 -1.1z" class="j69"/>
<path d="M204.8 323.3l4.1 1.4l1.1 -2.3l-4.1 -1.4z" class="j48"/>
<path d="M177.6 315.2l1.5 2.1l1.1 0l-1.5 -2.3z" class="j65"/>
<path d="M141.8 317.8l4 1l1.2 1.6l-3.9 -1.1z" class="j58"/>
<path d="M189.4 320.6l4.1 1.6l1.1 -2.2l-4.1 -1.6z" class="j55"/>
<path d="M179.1 317.3l4 3.2l1.1 0.2l-4 -3.4z" class="j58"/>
<path d="M176.6 313.2l1 2l1.1 -0.2l-1 -2.1z" class="j70"/>
<path d="M194.6 320l4.1 1.4l1 0.3l-4.1 -1.5z" class="j54"/>
<path d="M171.4 313.8l1.1 -1.3l1.1 -0.3l-1 1.4z" class="j73"/>
<path d="M137.3 315.2l3.9 1l0.6 1.6l-3.9 -1.1z" class="j65"/>
<path d="M152.2 319.9l3.9 0.9l1.2 -2.1l-4 -0.8z" class="j58"/>
<path d="M175.9 311.2l0.7 2l1.1 -0.3l-0.7 -2.2z" class="j76"/>
<path d="M168.8 316.5l1.5 -1.3l1.1 -1.4l-1.5 1z" class="j69"/>
<path d="M210 322.4l4 1.3l1 -2.3l-4 -1.3z" class="j52"/>
<path d="M132.7 312.5l3.9 1l0.3 0.9l-3.9 -1.1z" class="j73"/>
<path d="M131.6 317.7l3.9 1.1l0.5 -2.6l-3.9 -1z" class="j64"/>
<path d="M130.4 321.3l3.9 1.2l1.2 -3.7l-3.9 -1.1z" class="j57"/>
<path d="M157.3 318.7l4 0.4l1.2 0.2l-4 -0.3z" class="j60"/>
<path d="M132.1 315.2l3.9 1l0.3 -1.3l-3.9 -1.1z" class="j69"/>
<path d="M174.3 310.7l0.8 -2.1l1.2 -0.6l-0.8 2.3z" class="j83"/>
<path d="M132.4 313.8l3.9 1.1l0.3 -1.4l-3.9 -1z" class="j73"/>
<path d="M188.3 322.8l4 1.6l1.2 -2.2l-4.1 -1.6z" class="j52"/>
<path d="M183.1 320.5l4.1 2l1.1 0.3l-4.1 -2.1z" class="j54"/>
<path d="M162.5 319.3l4 -1.1l1.1 0l-4 1.3z" class="j61"/>
<path d="M175.1 308.6l0.8 2.6l1.1 -0.5l-0.7 -2.7z" class="j83"/>
<path d="M203.8 323.1l4.1 1.3l1 0.3l-4.1 -1.4z" class="j49"/>
<path d="M172.5 312.5l0.7 -1.4l1.1 -0.4l-0.7 1.5z" class="j78"/>
<path d="M208.9 324.7l4 1.3l1.1 -2.3l-4 -1.3z" class="j48"/>
<path d="M151 321.4l4 1l1.1 -1.6l-3.9 -0.9z" class="j56"/>
<path d="M136.9 314.4l4 0.9l0.3 0.9l-3.9 -1z" class="j70"/>
<path d="M193.5 322.2l4 1.5l1.2 -2.3l-4.1 -1.4z" class="j54"/>
<path d="M145.8 318.8l4 0.9l1.2 1.7l-4 -1z" class="j58"/>
<path d="M176.5 315.3l1.5 2l1.1 0l-1.5 -2.1z" class="j68"/>
<path d="M198.7 321.4l4.1 1.4l1 0.3l-4.1 -1.4z" class="j54"/>
<path d="M129.1 321.7l3.9 1.2l1.3 -0.4l-3.9 -1.2z" class="j54"/>
<path d="M167.6 318.2l1.5 -1.6l1.2 -1.4l-1.5 1.3z" class="j67"/>
<path d="M170.3 315.2l1 -1.5l1.2 -1.2l-1.1 1.3z" class="j74"/>
<path d="M175.5 313.4l1 1.9l1.1 -0.1l-1 -2z" class="j73"/>
<path d="M141.2 316.2l3.9 0.9l0.7 1.7l-4 -1z" class="j66"/>
<path d="M178 317.3l4 3.1l1.1 0.1l-4 -3.2z" class="j62"/>
<path d="M156.1 320.8l4 0.3l1.2 -2l-4 -0.4z" class="j60"/>
<path d="M174.7 311.6l0.8 1.8l1.1 -0.2l-0.7 -2z" class="j78"/>
<path d="M136.6 313.5l3.9 0.9l0.4 0.9l-4 -0.9z" class="j74"/>
<path d="M135.5 318.8l3.9 1.1l0.6 -2.7l-4 -1z" class="j65"/>
<path d="M134.3 322.5l3.9 1.1l1.2 -3.7l-3.9 -1.1z" class="j57"/>
<path d="M187.2 322.5l4.1 1.7l1 0.2l-4 -1.6z" class="j52"/>
<path d="M192.3 324.4l4.1 1.6l1.1 -2.3l-4 -1.5z" class="j50"/>
<path d="M173.2 311.1l0.8 -1.9l1.1 -0.6l-0.8 2.1z" class="j85"/>
<path d="M136 316.2l4 1l0.3 -1.3l-4 -1z" class="j70"/>
<path d="M136.3 314.9l4 1l0.2 -1.5l-3.9 -0.9z" class="j74"/>
<path d="M207.9 324.4l4 1.3l1 0.3l-4 -1.3z" class="j48"/>
<path d="M174 309.2l0.7 2.4l1.2 -0.4l-0.8 -2.6z" class="j85"/>
<path d="M171.3 313.7l0.8 -1.7l1.1 -0.9l-0.7 1.4z" class="j80"/>
<path d="M182 320.4l4.1 1.9l1.1 0.2l-4.1 -2z" class="j58"/>
<path d="M169.1 316.6l1.1 -1.8l1.1 -1.1l-1 1.5z" class="j73"/>
<path d="M161.3 319.1l4 -1l1.2 0.1l-4 1.1z" class="j65"/>
<path d="M197.5 323.7l4.2 1.4l1.1 -2.3l-4.1 -1.4z" class="j54"/>
<path d="M175.3 316.7l1.5 2.3l1.2 -1.7l-1.5 -2z" class="j69"/>
<path d="M202.8 322.8l4.1 1.3l1 0.3l-4.1 -1.3z" class="j53"/>
<path d="M166.5 318.2l1.5 -1.5l1.1 -0.1l-1.5 1.6z" class="j68"/>
<path d="M140.9 315.3l3.9 0.9l0.3 0.9l-3.9 -0.9z" class="j71"/>
<path d="M155 322.4l4 0.7l1.1 -2l-4 -0.3z" class="j57"/>
<path d="M149.8 319.7l3.9 0.8l1.3 1.9l-4 -1z" class="j60"/>
<path d="M133 322.9l4 1.2l1.2 -0.5l-3.9 -1.1z" class="j54"/>
<path d="M174.3 314.6l1 2.1l1.2 -1.4l-1 -1.9z" class="j74"/>
<path d="M176.8 319l4.1 3.4l1.1 -2l-4 -3.1z" class="j63"/>
<path d="M127.9 321.8l3.9 1.2l1.2 -0.1l-3.9 -1.2z" class="j57"/>
<path d="M145.1 317.1l4 0.8l0.7 1.8l-4 -0.9z" class="j67"/>
<path d="M173.6 312.5l0.7 2.1l1.2 -1.2l-0.8 -1.8z" class="j80"/>
<path d="M191.3 324.2l4.1 1.5l1 0.3l-4.1 -1.6z" class="j51"/>
<path d="M196.4 326l4.2 1.4l1.1 -2.3l-4.2 -1.4z" class="j50"/>
<path d="M138.2 323.6l4 1.1l1.2 -3.8l-4 -1z" class="j58"/>
<path d="M139.4 319.9l4 1l0.5 -2.7l-3.9 -1z" class="j66"/>
<path d="M172.1 312l0.8 -2.3l1.1 -0.5l-0.8 1.9z" class="j86"/>
<path d="M140.5 314.4l4 0.8l0.3 1l-3.9 -0.9z" class="j75"/>
<path d="M140 317.2l3.9 1l0.3 -1.5l-3.9 -0.8z" class="j71"/>
<path d="M170.2 314.8l0.7 -1.9l1.2 -0.9l-0.8 1.7z" class="j80"/>
<path d="M174.2 318.2l1.5 2.5l1.1 -1.7l-1.5 -2.3z" class="j67"/>
<path d="M172.9 309.7l0.7 2.8l1.1 -0.9l-0.7 -2.4z" class="j86"/>
<path d="M186.1 322.3l4.1 1.6l1.1 0.3l-4.1 -1.7z" class="j56"/>
<path d="M140.3 315.9l3.9 0.8l0.3 -1.5l-4 -0.8z" class="j75"/>
<path d="M180.9 322.4l4.1 2.1l1.1 -2.2l-4.1 -1.9z" class="j58"/>
<path d="M175.7 320.7l4.1 3.8l1.1 -2.1l-4.1 -3.4z" class="j60"/>
<path d="M160.1 321.1l4.1 -1.4l1.1 -1.6l-4 1z" class="j65"/>
<path d="M168 316.7l1 -1.7l1.2 -0.2l-1.1 1.8z" class="j74"/>
<path d="M201.7 325.1l4.1 1.4l1.1 -2.4l-4.1 -1.3z" class="j53"/>
<path d="M173.2 315.7l1 2.5l1.1 -1.5l-1 -2.1z" class="j73"/>
<path d="M126.6 324.4l4 1.2l1.2 -2.6l-3.9 -1.2z" class="j56"/>
<path d="M206.9 324.1l4 1.3l1 0.3l-4 -1.3z" class="j53"/>
<path d="M137 324.1l4 1.1l1.2 -0.5l-4 -1.1z" class="j54"/>
<path d="M144.8 316.2l4 0.7l0.3 1l-4 -0.8z" class="j72"/>
<path d="M131.8 323l3.9 1.2l1.3 -0.1l-4 -1.2z" class="j57"/>
<path d="M165.3 318.1l1.5 -1.4l1.2 0l-1.5 1.5z" class="j71"/>
<path d="M153.7 320.5l4.1 0.6l1.2 2l-4 -0.7z" class="j61"/>
<path d="M172.5 313.3l0.7 2.4l1.1 -1.1l-0.7 -2.1z" class="j80"/>
<path d="M195.4 325.7l4.1 1.4l1.1 0.3l-4.2 -1.4z" class="j50"/>
<path d="M179.8 324.5l4 2.2l1.2 -2.2l-4.1 -2.1z" class="j55"/>
<path d="M125.4 327l4 1.2l1.2 -2.6l-4 -1.2z" class="j51"/>
<path d="M200.6 327.4l4.1 1.4l1.1 -2.3l-4.1 -1.4z" class="j49"/>
<path d="M149.1 317.9l4 0.6l0.6 2l-3.9 -0.8z" class="j68"/>
<path d="M170.9 312.9l0.8 -2.7l1.2 -0.5l-0.8 2.3z" class="j87"/>
<path d="M159 323.1l4 -1.8l1.2 -1.6l-4.1 1.4z" class="j63"/>
<path d="M142.2 324.7l4 1.1l1.1 -3.9l-3.9 -1z" class="j58"/>
<path d="M185 324.5l4.1 1.7l1.1 -2.3l-4.1 -1.6z" class="j56"/>
<path d="M143.4 320.9l3.9 1l0.6 -2.9l-4 -0.8z" class="j67"/>
<path d="M173.1 318.2l1.5 2.5l1.1 0l-1.5 -2.5z" class="j68"/>
<path d="M190.2 323.9l4.1 1.5l1.1 0.3l-4.1 -1.5z" class="j55"/>
<path d="M169 315l0.8 -1.9l1.1 -0.2l-0.7 1.9z" class="j81"/>
<path d="M144.5 315.2l4 0.6l0.3 1.1l-4 -0.7z" class="j76"/>
<path d="M171.7 310.2l0.8 3.1l1.1 -0.8l-0.7 -2.8z" class="j87"/>
<path d="M174.6 320.7l4 3.6l1.2 0.2l-4.1 -3.8z" class="j61"/>
<path d="M143.9 318.2l4 0.8l0.3 -1.5l-4 -0.8z" class="j72"/>
<path d="M205.8 326.5l4 1.3l1.1 -2.4l-4 -1.3z" class="j53"/>
<path d="M172.1 315.9l1 2.3l1.1 0l-1 -2.5z" class="j74"/>
<path d="M144.2 316.7l4 0.8l0.3 -1.7l-4 -0.6z" class="j76"/>
<path d="M130.6 325.6l3.9 1.3l1.2 -2.7l-3.9 -1.2z" class="j56"/>
<path d="M166.8 316.7l1.1 -1.6l1.1 -0.1l-1 1.7z" class="j78"/>
<path d="M164.2 319.7l1.5 -1.7l1.1 -1.3l-1.5 1.4z" class="j73"/>
<path d="M141 325.2l3.9 1.2l1.3 -0.6l-4 -1.1z" class="j55"/>
<path d="M183.8 326.7l4.1 1.7l1.2 -2.2l-4.1 -1.7z" class="j53"/>
<path d="M135.7 324.2l4 1.2l1.3 -0.2l-4 -1.1z" class="j57"/>
<path d="M124.1 326.9l4 1.3l1.3 0l-4 -1.2z" class="j50"/>
<path d="M171.3 313.6l0.8 2.3l1.1 -0.2l-0.7 -2.4z" class="j81"/>
<path d="M178.6 324.3l4.1 2.1l1.1 0.3l-4 -2.2z" class="j55"/>
<path d="M148.8 316.9l4 0.5l0.3 1.1l-4 -0.6z" class="j74"/>
<path d="M199.5 327.1l4.2 1.4l1 0.3l-4.1 -1.4z" class="j50"/>
<path d="M204.7 328.8l4 1.3l1.1 -2.3l-4 -1.3z" class="j49"/>
<path d="M129.4 328.2l3.9 1.3l1.2 -2.6l-3.9 -1.3z" class="j51"/>
<path d="M169.8 313.1l0.8 -2.5l1.1 -0.4l-0.8 2.7z" class="j89"/>
<path d="M189.1 326.2l4.1 1.5l1.1 -2.3l-4.1 -1.5z" class="j55"/>
<path d="M194.3 325.4l4.2 1.5l1 0.2l-4.1 -1.4z" class="j54"/>
<path d="M157.8 321.1l4 0l1.2 0.2l-4 1.8z" class="j65"/>
<path d="M153.1 318.5l4.1 0.4l0.6 2.2l-4.1 -0.6z" class="j70"/>
<path d="M146.2 325.8l4 0.9l1.1 -4.1l-4 -0.7z" class="j60"/>
<path d="M170.6 310.6l0.7 3l1.2 -0.3l-0.8 -3.1z" class="j89"/>
<path d="M147.3 321.9l4 0.7l0.6 -3l-4 -0.6z" class="j68"/>
<path d="M167.9 315.1l0.7 -1.8l1.2 -0.2l-0.8 1.9z" class="j84"/>
<path d="M171.9 318.2l1.5 2.4l1.2 0.1l-1.5 -2.5z" class="j71"/>
<path d="M148.5 315.8l4 0.4l0.3 1.2l-4 -0.5z" class="j78"/>
<path d="M163 321.3l1.5 -2l1.2 -1.3l-1.5 1.7z" class="j71"/>
<path d="M173.4 320.6l4.1 3.5l1.1 0.2l-4 -3.6z" class="j65"/>
<path d="M147.9 319l4 0.6l0.3 -1.6l-4 -0.5z" class="j74"/>
<path d="M134.5 326.9l4 1.2l1.2 -2.7l-4 -1.2z" class="j56"/>
<path d="M165.7 318l1 -1.9l1.2 -1l-1.1 1.6z" class="j79"/>
<path d="M170.9 316l1 2.2l1.2 0l-1 -2.3z" class="j78"/>
<path d="M187.9 328.4l4.2 1.6l1.1 -2.3l-4.1 -1.5z" class="j52"/>
<path d="M182.7 326.4l4.1 1.8l1.1 0.2l-4.1 -1.7z" class="j53"/>
<path d="M148.2 317.5l4 0.5l0.3 -1.8l-4 -0.4z" class="j78"/>
<path d="M139.7 325.4l4 1.2l1.2 -0.2l-3.9 -1.2z" class="j57"/>
<path d="M144.9 326.4l4.1 1.1l1.2 -0.8l-4 -0.9z" class="j56"/>
<path d="M128.1 328.2l3.9 1.2l1.3 0.1l-3.9 -1.3z" class="j50"/>
<path d="M203.7 328.5l4 1.3l1 0.3l-4 -1.3z" class="j49"/>
<path d="M170.2 313.8l0.7 2.2l1.2 -0.1l-0.8 -2.3z" class="j84"/>
<path d="M122.8 326.8l4 1.3l1.3 0.1l-4 -1.3z" class="j54"/>
<path d="M133.3 329.5l4 1.2l1.2 -2.6l-4 -1.2z" class="j51"/>
<path d="M193.2 327.7l4.1 1.5l1.2 -2.3l-4.2 -1.5z" class="j55"/>
<path d="M177.5 324.1l4.1 2.1l1.1 0.2l-4.1 -2.1z" class="j60"/>
<path d="M152.8 317.4l4 0.2l0.4 1.3l-4.1 -0.4z" class="j77"/>
<path d="M198.5 326.9l4.1 1.3l1.1 0.3l-4.2 -1.4z" class="j54"/>
<path d="M168.6 313.3l0.8 -2.3l1.2 -0.4l-0.8 2.5z" class="j91"/>
<path d="M170.8 319.6l1.5 2.6l1.1 -1.6l-1.5 -2.4z" class="j73"/>
<path d="M169.4 311l0.8 2.8l1.1 -0.2l-0.7 -3z" class="j91"/>
<path d="M166.7 316.1l0.8 -2.1l1.1 -0.7l-0.7 1.8z" class="j86"/>
<path d="M150.2 326.7l4 0.8l1.2 -4.3l-4.1 -0.6z" class="j61"/>
<path d="M172.3 322.2l4.1 3.9l1.1 -2l-4.1 -3.5z" class="j65"/>
<path d="M164.5 319.3l1 -2.3l1.2 -0.9l-1 1.9z" class="j79"/>
<path d="M157.2 318.9l4 -0.1l0.6 2.3l-4 0z" class="j73"/>
<path d="M161.8 321.1l1.5 -2.1l1.2 0.3l-1.5 2z" class="j73"/>
<path d="M151.3 322.6l4.1 0.6l0.6 -3.2l-4.1 -0.4z" class="j70"/>
<path d="M186.8 328.2l4.2 1.6l1.1 0.2l-4.2 -1.6z" class="j52"/>
<path d="M138.5 328.1l4 1.1l1.2 -2.6l-4 -1.2z" class="j56"/>
<path d="M169.7 317l1.1 2.6l1.1 -1.4l-1 -2.2z" class="j79"/>
<path d="M192.1 330l4.1 1.5l1.1 -2.3l-4.1 -1.5z" class="j51"/>
<path d="M152.5 316.2l4 0l0.3 1.4l-4 -0.2z" class="j82"/>
<path d="M151.9 319.6l4.1 0.4l0.2 -1.8l-4 -0.2z" class="j77"/>
<path d="M121.6 329.4l4 1.2l1.2 -2.5l-4 -1.3z" class="j54"/>
<path d="M132 329.4l4 1.2l1.3 0.1l-4 -1.2z" class="j50"/>
<path d="M143.7 326.6l4 1l1.3 -0.1l-4.1 -1.1z" class="j58"/>
<path d="M181.6 326.2l4.1 1.7l1.1 0.3l-4.1 -1.8z" class="j57"/>
<path d="M149 327.5l4 0.5l1.2 -0.5l-4 -0.8z" class="j57"/>
<path d="M152.2 318l4 0.2l0.3 -2l-4 0z" class="j82"/>
<path d="M169 314.5l0.7 2.5l1.2 -1l-0.7 -2.2z" class="j86"/>
<path d="M176.4 326.1l4.1 2.3l1.1 -2.2l-4.1 -2.1z" class="j60"/>
<path d="M126.8 328.1l4 1.2l1.2 0.1l-3.9 -1.2z" class="j54"/>
<path d="M197.3 329.2l4.2 1.4l1.1 -2.4l-4.1 -1.3z" class="j54"/>
<path d="M137.3 330.7l4 1l1.2 -2.5l-4 -1.1z" class="j51"/>
<path d="M202.6 328.2l4.1 1.3l1 0.3l-4 -1.3z" class="j54"/>
<path d="M171.1 323.8l4.1 4.4l1.2 -2.1l-4.1 -3.9z" class="j63"/>
<path d="M169.6 320.8l1.5 3l1.2 -1.6l-1.5 -2.6z" class="j71"/>
<path d="M167.5 314l0.7 -2.8l1.2 -0.2l-0.8 2.3z" class="j94"/>
<path d="M120.4 331.9l3.9 1.2l1.3 -2.5l-4 -1.2z" class="j49"/>
<path d="M165.5 317l0.8 -2.4l1.2 -0.6l-0.8 2.1z" class="j87"/>
<path d="M156.8 317.6l4.1 -0.3l0.3 1.5l-4 0.1z" class="j80"/>
<path d="M168.2 311.2l0.8 3.3l1.2 -0.7l-0.8 -2.8z" class="j94"/>
<path d="M168.6 317.9l1 2.9l1.2 -1.2l-1.1 -2.6z" class="j79"/>
<path d="M191 329.8l4.1 1.3l1.1 0.4l-4.1 -1.5z" class="j51"/>
<path d="M163.3 319l1 -2.4l1.2 0.4l-1 2.3z" class="j81"/>
<path d="M196.2 331.5l4.2 1.4l1.1 -2.3l-4.2 -1.4z" class="j50"/>
<path d="M161.2 318.8l1.5 -0.3l0.6 0.5l-1.5 2.1z" class="j78"/>
<path d="M175.2 328.2l4.1 1.8l1.2 -1.6l-4.1 -2.3z" class="j57"/>
<path d="M142.5 329.2l4 0.9l1.2 -2.5l-4 -1z" class="j57"/>
<path d="M154.2 327.5l4 -1.3l1.2 -2.8l-4 -0.2z" class="j65"/>
<path d="M155.4 323.2l4 0.2l0.6 -3.5l-4 0.1z" class="j73"/>
<path d="M185.7 327.9l4.2 1.5l1.1 0.4l-4.2 -1.6z" class="j56"/>
<path d="M180.5 328.4l4.1 1.6l1.1 -2.1l-4.1 -1.7z" class="j58"/>
<path d="M125.6 330.6l3.9 1.2l1.3 -2.5l-4 -1.2z" class="j54"/>
<path d="M136 330.6l4 1.1l1.3 0l-4 -1z" class="j51"/>
<path d="M167.8 315l0.8 2.9l1.1 -0.9l-0.7 -2.5z" class="j87"/>
<path d="M147.7 327.6l4.1 0.6l1.2 -0.2l-4 -0.5z" class="j59"/>
<path d="M201.5 330.6l4.1 1.2l1.1 -2.3l-4.1 -1.3z" class="j54"/>
<path d="M130.8 329.3l4 1.2l1.2 0.1l-4 -1.2z" class="j54"/>
<path d="M156 320l4 -0.1l0.3 -2l-4.1 0.3z" class="j80"/>
<path d="M156.5 316.2l4.1 -0.7l0.3 1.8l-4.1 0.3z" class="j86"/>
<path d="M168.4 320.5l1.6 3.1l1.1 0.2l-1.5 -3z" class="j73"/>
<path d="M141.3 331.7l4 0.9l1.2 -2.5l-4 -0.9z" class="j52"/>
<path d="M119 331.8l4 1.2l1.3 0.1l-3.9 -1.2z" class="j49"/>
<path d="M170 323.6l4.1 2.5l1.1 2.1l-4.1 -4.4z" class="j65"/>
<path d="M166.3 314.6l0.8 -3.3l1.1 -0.1l-0.7 2.8z" class="j96"/>
<path d="M156.2 318.2l4.1 -0.3l0.3 -2.4l-4.1 0.7z" class="j86"/>
<path d="M124.3 333.1l4 1.2l1.2 -2.5l-3.9 -1.2z" class="j49"/>
<path d="M153 328l4 -1.1l1.2 -0.7l-4 1.3z" class="j62"/>
<path d="M160.9 317.3l1.5 -0.4l0.3 1.6l-1.5 0.3z" class="j84"/>
<path d="M164.3 316.6l0.8 -2.4l1.2 0.4l-0.8 2.4z" class="j90"/>
<path d="M167.1 311.3l0.7 3.7l1.2 -0.5l-0.8 -3.3z" class="j96"/>
<path d="M162.7 318.5l1 -2.3l0.6 0.4l-1 2.4z" class="j85"/>
<path d="M195.1 331.1l4.2 1.4l1.1 0.4l-4.2 -1.4z" class="j51"/>
<path d="M179.3 330l4.1 1.6l1.2 -1.6l-4.1 -1.6z" class="j56"/>
<path d="M167.4 317.6l1 2.9l1.2 0.3l-1 -2.9z" class="j81"/>
<path d="M200.4 332.9l4 1.2l1.2 -2.3l-4.1 -1.2z" class="j50"/>
<path d="M184.6 330l4.1 1.4l1.2 -2l-4.2 -1.5z" class="j57"/>
<path d="M189.9 329.4l4.2 1.3l1 0.4l-4.1 -1.3z" class="j56"/>
<path d="M146.5 330.1l4.1 0.5l1.2 -2.4l-4.1 -0.6z" class="j59"/>
<path d="M174.1 326.1l4.1 2l1.1 1.9l-4.1 -1.8z" class="j61"/>
<path d="M159.4 323.4l1.6 -1.9l0.5 -1.9l-1.5 0.3z" class="j78"/>
<path d="M129.5 331.8l4 1.2l1.3 -2.5l-4 -1.2z" class="j54"/>
<path d="M140 331.7l4.1 0.9l1.2 0l-4 -0.9z" class="j52"/>
<path d="M158.2 326.2l1.6 -1.9l1.2 -2.8l-1.6 1.9z" class="j72"/>
<path d="M166.6 314.6l0.8 3l1.2 0.3l-0.8 -2.9z" class="j90"/>
<path d="M160 319.9l1.5 -0.3l0.3 -2.1l-1.5 0.4z" class="j84"/>
<path d="M134.8 330.5l4 1.1l1.2 0.1l-4 -1.1z" class="j55"/>
<path d="M162.4 316.9l1.1 -0.8l0.2 0.1l-1 2.3z" class="j88"/>
<path d="M160.6 315.5l1.5 -0.5l0.3 1.9l-1.5 0.4z" class="j90"/>
<path d="M123 333l4 1.2l1.3 0.1l-4 -1.2z" class="j49"/>
<path d="M167.8 320.1l1.6 1.3l0.6 2.2l-1.6 -3.1z" class="j78"/>
<path d="M145.3 332.6l4.1 0.5l1.2 -2.5l-4.1 -0.5z" class="j54"/>
<path d="M128.3 334.3l4 1.2l1.2 -2.5l-4 -1.2z" class="j50"/>
<path d="M117.7 331.6l4 1.3l1.3 0.1l-4 -1.2z" class="j53"/>
<path d="M160.3 317.9l1.5 -0.4l0.3 -2.5l-1.5 0.5z" class="j90"/>
<path d="M151.8 328.2l4 -0.6l1.2 -0.7l-4 1.1z" class="j64"/>
<path d="M163.7 316.2l0.8 -2.6l0.6 0.6l-0.8 2.4z" class="j93"/>
<path d="M183.4 331.6l4.2 1.5l1.1 -1.7l-4.1 -1.4z" class="j55"/>
<path d="M165.1 314.2l0.8 -3.2l1.2 0.3l-0.8 3.3z" class="j99"/>
<path d="M199.3 332.5l4.1 1.2l1 0.4l-4 -1.2z" class="j51"/>
<path d="M166.8 317.1l1 3l0.6 0.4l-1 -2.9z" class="j85"/>
<path d="M169.4 321.4l4.1 2.6l0.6 2.1l-4.1 -2.5z" class="j73"/>
<path d="M165.9 311l0.7 3.6l1.2 0.4l-0.7 -3.7z" class="j99"/>
<path d="M157 326.9l1.6 -1.5l1.2 -1.1l-1.6 1.9z" class="j69"/>
<path d="M178.2 328.1l4.1 1.7l1.1 1.8l-4.1 -1.6z" class="j60"/>
<path d="M161 321.5l1 -2.2l0.6 -1.7l-1.1 2z" class="j84"/>
<path d="M161.5 319.6l1.1 -2l0.3 -0.8l-1.1 0.7z" class="j88"/>
<path d="M188.7 331.4l4.2 1.3l1.2 -2l-4.2 -1.3z" class="j57"/>
<path d="M162.1 315l1.1 -0.7l0.3 1.8l-1.1 0.8z" class="j93"/>
<path d="M194.1 330.7l4.2 1.3l1 0.5l-4.2 -1.4z" class="j56"/>
<path d="M133.5 333l4.1 1.1l1.2 -2.5l-4 -1.1z" class="j55"/>
<path d="M163.5 316.1l0.7 -2.8l0.3 0.3l-0.8 2.6z" class="j96"/>
<path d="M161.8 317.5l1.1 -0.7l0.3 -2.5l-1.1 0.7z" class="j93"/>
<path d="M159.8 324.3l1 -2.1l1.2 -2.9l-1 2.2z" class="j79"/>
<path d="M166.1 314.1l0.7 3l0.6 0.5l-0.8 -3z" class="j93"/>
<path d="M167.6 318.5l1.5 1.3l0.3 1.6l-1.6 -1.3z" class="j84"/>
<path d="M166.5 317l1.1 1.5l0.2 1.6l-1 -3z" class="j88"/>
<path d="M144.1 332.6l4 0.7l1.3 -0.2l-4.1 -0.5z" class="j54"/>
<path d="M138.8 331.6l4 1l1.3 0l-4.1 -0.9z" class="j56"/>
<path d="M150.6 330.6l4 -0.6l1.2 -2.4l-4 0.6z" class="j63"/>
<path d="M127 334.2l4 1.2l1.3 0.1l-4 -1.2z" class="j49"/>
<path d="M116.4 334.1l4 1.3l1.3 -2.5l-4 -1.3z" class="j53"/>
<path d="M173.5 324l4.1 2.1l0.6 2l-4.1 -2z" class="j70"/>
<path d="M187.6 333.1l4.2 1.4l1.1 -1.8l-4.2 -1.3z" class="j54"/>
<path d="M121.7 332.9l4 1.2l1.3 0.1l-4 -1.2z" class="j53"/>
<path d="M163.2 314.3l0.7 -1.1l0.3 0.1l-0.7 2.8z" class="j99"/>
<path d="M132.3 335.5l4 1.1l1.3 -2.5l-4.1 -1.1z" class="j50"/>
<path d="M169.1 319.8l4.1 2.9l0.3 1.3l-4.1 -2.6z" class="j80"/>
<path d="M164.5 313.6l0.8 -3.2l0.6 0.6l-0.8 3.2z" class="j103"/>
<path d="M166.1 323.1l1.5 2.9l0.6 -3.5l-1.5 -1.3z" class="j78"/>
<path d="M165.8 313.8l0.7 3.2l0.3 0.1l-0.7 -3z" class="j96"/>
<path d="M162.6 317.6l0.7 -2.6l0.3 -1l-0.7 2.8z" class="j95"/>
<path d="M158.6 325.4l1 -1.6l1.2 -1.6l-1 2.1z" class="j76"/>
<path d="M155.8 327.6l1.6 -1.1l1.2 -1.1l-1.6 1.5z" class="j70"/>
<path d="M162.9 316.8l0.7 -2.8l0.3 -0.8l-0.7 1.1z" class="j98"/>
<path d="M182.3 329.8l4.2 1.7l1.1 1.6l-4.2 -1.5z" class="j58"/>
<path d="M162 319.3l0.7 -2.3l0.6 -2l-0.7 2.6z" class="j92"/>
<path d="M164.9 325.9l1.5 2.8l1.2 -2.7l-1.5 -2.9z" class="j72"/>
<path d="M165.3 310.4l0.8 3.7l0.5 0.5l-0.7 -3.6z" class="j103"/>
<path d="M149.4 333.1l4 -0.8l1.2 -2.3l-4 0.6z" class="j59"/>
<path d="M166.7 321.2l1.5 1.3l0.3 -2.1l-1.5 -1.4z" class="j84"/>
<path d="M165 320.2l1.1 2.9l0.6 -1.9l-1.1 -2.7z" class="j84"/>
<path d="M115.2 336.7l4 1.2l1.2 -2.5l-4 -1.3z" class="j48"/>
<path d="M165.6 318.5l1.1 2.7l0.3 -2.2l-1.1 -1.3z" class="j88"/>
<path d="M192.9 332.7l4.2 1.4l1.2 -2.1l-4.2 -1.3z" class="j57"/>
<path d="M166.4 328.7l4.2 4l1.1 -4.4l-4.1 -2.3z" class="j65"/>
<path d="M198.3 332l4 1.3l1.1 0.4l-4.1 -1.2z" class="j56"/>
<path d="M166.2 315.2l1.1 1.3l0.3 2l-1.1 -1.5z" class="j93"/>
<path d="M167.3 316.5l1.5 1.6l0.3 1.7l-1.5 -1.3z" class="j90"/>
<path d="M167.6 326l4.1 2.3l0.6 -3.2l-4.1 -2.6z" class="j73"/>
<path d="M160.8 322.2l0.7 -2.2l1.2 -3l-0.7 2.3z" class="j87"/>
<path d="M165.9 317.7l1.1 1.3l0.3 -2.5l-1.1 -1.3z" class="j93"/>
<path d="M165.5 313.7l0.7 1.5l0.3 1.8l-0.7 -3.2z" class="j99"/>
<path d="M163.9 323.2l1 2.7l1.2 -2.8l-1.1 -2.9z" class="j79"/>
<path d="M137.6 334.1l4 1l1.2 -2.5l-4 -1z" class="j55"/>
<path d="M164.2 313.3l0.8 -3.5l0.3 0.6l-0.8 3.2z" class="j106"/>
<path d="M167 319l1.5 1.4l0.3 -2.3l-1.5 -1.6z" class="j90"/>
<path d="M177.6 326.1l4.2 1.9l0.5 1.8l-4.1 -1.7z" class="j68"/>
<path d="M168.2 322.5l4.1 2.6l0.3 -1.9l-4.1 -2.8z" class="j80"/>
<path d="M164.9 315.5l0.7 3l0.3 -0.8l-0.7 -3.2z" class="j95"/>
<path d="M173.2 322.7l4.2 2.3l0.2 1.1l-4.1 -2.1z" class="j77"/>
<path d="M168.8 318.1l4.1 3.1l0.3 1.5l-4.1 -2.9z" class="j86"/>
<path d="M165.2 314.5l0.7 3.2l0.3 -2.5l-0.7 -1.5z" class="j98"/>
<path d="M164.3 317.4l0.7 2.8l0.6 -1.7l-0.7 -3z" class="j92"/>
<path d="M165 309.8l0.8 4l0.3 0.3l-0.8 -3.7z" class="j106"/>
<path d="M120.4 335.4l4 1.2l1.3 -2.5l-4 -1.2z" class="j53"/>
<path d="M131 335.4l4 1.1l1.3 0.1l-4 -1.1z" class="j50"/>
<path d="M142.8 332.6l4.1 0.8l1.2 -0.1l-4 -0.7z" class="j57"/>
<path d="M163.7 327l1.5 2.5l1.2 -0.8l-1.5 -2.8z" class="j69"/>
<path d="M154.6 330l1.6 -1.2l1.2 -2.3l-1.6 1.1z" class="j68"/>
<path d="M168.5 320.4l4.1 2.8l0.3 -2l-4.1 -3.1z" class="j86"/>
<path d="M165.2 329.5l4.2 3.6l1.2 -0.4l-4.2 -4z" class="j62"/>
<path d="M191.8 334.5l4.2 1.5l1.1 -1.9l-4.2 -1.4z" class="j54"/>
<path d="M159.6 323.8l0.7 -1.8l1.2 -2l-0.7 2.2z" class="j83"/>
<path d="M157.4 326.5l1 -1.3l1.2 -1.4l-1 1.6z" class="j76"/>
<path d="M163.9 313.2l0.8 -4.1l0.3 0.7l-0.8 3.5z" class="j108"/>
<path d="M163.1 320.5l0.8 2.7l1.1 -3l-0.7 -2.8z" class="j87"/>
<path d="M170.6 332.7l4.1 1.8l1.2 -4.2l-4.2 -2z" class="j61"/>
<path d="M125.7 334.1l4 1.2l1.3 0.1l-4 -1.2z" class="j53"/>
<path d="M148.1 333.3l4.1 -0.5l1.2 -0.5l-4 0.8z" class="j58"/>
<path d="M136.3 336.6l4.1 1l1.2 -2.5l-4 -1z" class="j51"/>
<path d="M171.7 328.3l4.2 2l0.6 -3.1l-4.2 -2.1z" class="j70"/>
<path d="M186.5 331.5l4.2 1.5l1.1 1.5l-4.2 -1.4z" class="j58"/>
<path d="M162.7 324.7l1 2.3l1.2 -1.1l-1 -2.7z" class="j76"/>
<path d="M113.8 336.5l4 1.3l1.4 0.1l-4 -1.2z" class="j48"/>
<path d="M163.3 315l0.8 -3.1l0.3 -1.3l-0.8 3.4z" class="j105"/>
<path d="M164.7 309.1l0.8 4.6l0.3 0.1l-0.8 -4z" class="j108"/>
<path d="M163.6 314l0.8 -3.4l0.3 -1.5l-0.8 4.1z" class="j108"/>
<path d="M162.7 317l0.8 -3.1l0.6 -2l-0.8 3.1z" class="j102"/>
<path d="M197.1 334.1l4.1 1.3l1.1 -2.1l-4 -1.3z" class="j57"/>
<path d="M119.2 337.9l4 1.3l1.2 -2.6l-4 -1.2z" class="j48"/>
<path d="M172.9 321.2l4.2 2.6l0.3 1.2l-4.2 -2.3z" class="j82"/>
<path d="M172.3 325.1l4.2 2.1l0.3 -1.6l-4.2 -2.4z" class="j77"/>
<path d="M164.1 311.9l0.8 3.6l0.3 -1l-0.8 -3.9z" class="j105"/>
<path d="M164.4 310.6l0.8 3.9l0.3 -0.8l-0.8 -4.6z" class="j108"/>
<path d="M163.5 313.9l0.8 3.5l0.6 -1.9l-0.8 -3.6z" class="j102"/>
<path d="M161.5 320l0.8 -3l1.2 -3.1l-0.8 3.1z" class="j96"/>
<path d="M153.4 332.3l1.5 -1.2l1.3 -2.3l-1.6 1.2z" class="j65"/>
<path d="M177.4 325l4.1 2l0.3 1l-4.2 -1.9z" class="j74"/>
<path d="M161.9 322.5l0.8 2.2l1.2 -1.5l-0.8 -2.7z" class="j83"/>
<path d="M181.8 328l4.2 1.8l0.5 1.7l-4.2 -1.7z" class="j67"/>
<path d="M169.4 333.1l4.1 2.1l1.2 -0.7l-4.1 -1.8z" class="j57"/>
<path d="M172.6 323.2l4.2 2.4l0.3 -1.8l-4.2 -2.6z" class="j82"/>
<path d="M162.3 317l0.8 3.5l1.2 -3.1l-0.8 -3.5z" class="j96"/>
<path d="M156.2 328.8l1 -1.4l1.2 -2.2l-1 1.3z" class="j74"/>
<path d="M158.4 325.2l0.7 -1.5l1.2 -1.7l-0.7 1.8z" class="j81"/>
<path d="M141.6 335.1l4.1 0.7l1.2 -2.4l-4.1 -0.8z" class="j57"/>
<path d="M162.5 328.1l1.6 2.1l1.1 -0.7l-1.5 -2.5z" class="j70"/>
<path d="M160.3 322l0.8 -2.5l1.2 -2.5l-0.8 3z" class="j91"/>
<path d="M124.4 336.6l4.1 1.2l1.2 -2.5l-4 -1.2z" class="j53"/>
<path d="M174.7 334.5l4.2 1.6l1.1 -4l-4.1 -1.8z" class="j60"/>
<path d="M196 336l4.1 1.3l1.1 -1.9l-4.1 -1.3z" class="j54"/>
<path d="M135 336.5l4.1 1.1l1.3 0l-4.1 -1z" class="j51"/>
<path d="M175.9 330.3l4.1 1.8l0.7 -2.9l-4.2 -2z" class="j68"/>
<path d="M161.5 326.1l1 2l1.2 -1.1l-1 -2.3z" class="j76"/>
<path d="M164.1 330.2l4.1 3.2l1.2 -0.3l-4.2 -3.6z" class="j64"/>
<path d="M161.1 319.5l0.8 3l1.2 -2l-0.8 -3.5z" class="j91"/>
<path d="M129.7 335.3l4 1.2l1.3 0l-4 -1.1z" class="j54"/>
<path d="M177.1 323.8l4.2 2.1l0.2 1.1l-4.1 -2z" class="j78"/>
<path d="M190.7 333l4.2 1.5l1.1 1.5l-4.2 -1.5z" class="j57"/>
<path d="M176.5 327.2l4.2 2l0.3 -1.6l-4.2 -2z" class="j74"/>
<path d="M146.9 333.4l4.1 -0.1l1.2 -0.5l-4.1 0.5z" class="j60"/>
<path d="M117.8 337.8l4 1.3l1.4 0.1l-4 -1.3z" class="j48"/>
<path d="M140.4 337.6l4 0.6l1.3 -2.4l-4.1 -0.7z" class="j52"/>
<path d="M152.2 332.8l1.5 -0.9l1.2 -0.8l-1.5 1.2z" class="j63"/>
<path d="M154.9 331.1l1.1 -1.5l1.2 -2.2l-1 1.4z" class="j70"/>
<path d="M160.7 324.2l0.8 1.9l1.2 -1.4l-0.8 -2.2z" class="j81"/>
<path d="M176.8 325.6l4.2 2l0.3 -1.7l-4.2 -2.1z" class="j78"/>
<path d="M181.5 327l4.2 1.8l0.3 1l-4.2 -1.8z" class="j72"/>
<path d="M157.2 327.4l0.7 -1.5l1.2 -2.2l-0.7 1.5z" class="j79"/>
<path d="M123.2 339.2l4 1.2l1.3 -2.6l-4.1 -1.2z" class="j49"/>
<path d="M112.5 336.4l4 1.3l1.3 0.1l-4 -1.3z" class="j52"/>
<path d="M173.5 335.2l4.2 1.5l1.2 -0.6l-4.2 -1.6z" class="j56"/>
<path d="M159.1 323.7l0.8 -1.9l1.2 -2.3l-0.8 2.5z" class="j88"/>
<path d="M186 329.8l4.2 1.6l0.5 1.6l-4.2 -1.5z" class="j66"/>
<path d="M161.3 330.4l1.6 2.2l1.2 -2.4l-1.6 -2.1z" class="j68"/>
<path d="M168.2 333.4l4.2 2l1.1 -0.2l-4.1 -2.1z" class="j59"/>
<path d="M159.9 321.8l0.8 2.4l1.2 -1.7l-0.8 -3z" class="j88"/>
<path d="M160.3 328.4l1 2l1.2 -2.3l-1 -2z" class="j74"/>
<path d="M162.9 332.6l4.1 3.3l1.2 -2.5l-4.1 -3.2z" class="j63"/>
<path d="M178.9 336.1l4.1 1.5l1.2 -3.9l-4.2 -1.6z" class="j58"/>
<path d="M180 332.1l4.2 1.6l0.6 -2.8l-4.1 -1.7z" class="j67"/>
<path d="M181.3 325.9l4.2 2l0.2 0.9l-4.2 -1.8z" class="j76"/>
<path d="M128.5 337.8l4 1.2l1.2 -2.5l-4 -1.2z" class="j53"/>
<path d="M159.5 326.4l0.8 2l1.2 -2.3l-0.8 -1.9z" class="j79"/>
<path d="M156 329.6l0.7 -1.6l1.2 -2.1l-0.7 1.5z" class="j76"/>
<path d="M145.7 335.8l4 -0.2l1.3 -2.3l-4.1 0.1z" class="j60"/>
<path d="M153.7 331.9l1 -1.2l1.3 -1.1l-1.1 1.5z" class="j69"/>
<path d="M180.7 329.2l4.1 1.7l0.3 -1.5l-4.1 -1.8z" class="j72"/>
<path d="M157.9 325.9l0.8 -2l1.2 -2.1l-0.8 1.9z" class="j85"/>
<path d="M194.9 334.5l4.1 1.4l1.1 1.4l-4.1 -1.3z" class="j57"/>
<path d="M139.1 337.6l4.1 0.8l1.2 -0.2l-4 -0.6z" class="j52"/>
<path d="M160.1 332.7l1.6 2.2l1.2 -2.3l-1.6 -2.2z" class="j65"/>
<path d="M181 327.6l4.1 1.8l0.4 -1.5l-4.2 -2z" class="j76"/>
<path d="M133.7 336.5l4.1 1.1l1.3 0l-4.1 -1.1z" class="j54"/>
<path d="M121.8 339.1l4.1 1.2l1.3 0.1l-4 -1.2z" class="j48"/>
<path d="M185.7 328.8l4.2 1.7l0.3 0.9l-4.2 -1.6z" class="j71"/>
<path d="M151 333.3l1.5 -0.6l1.2 -0.8l-1.5 0.9z" class="j65"/>
<path d="M158.7 323.9l0.8 2.5l1.2 -2.2l-0.8 -2.4z" class="j85"/>
<path d="M159.1 330.6l1 2.1l1.2 -2.3l-1 -2z" class="j70"/>
<path d="M161.7 334.9l4.1 3.4l1.2 -2.4l-4.1 -3.3z" class="j59"/>
<path d="M177.7 336.7l4.2 1.5l1.1 -0.6l-4.1 -1.5z" class="j55"/>
<path d="M190.2 331.4l4.2 1.5l0.5 1.6l-4.2 -1.5z" class="j65"/>
<path d="M116.5 337.7l4 1.2l1.3 0.2l-4 -1.3z" class="j52"/>
<path d="M127.2 340.4l4.1 1.1l1.2 -2.5l-4 -1.2z" class="j49"/>
<path d="M167 335.9l4.2 2l1.2 -2.5l-4.2 -2z" class="j59"/>
<path d="M172.4 335.4l4.1 1.6l1.2 -0.3l-4.2 -1.5z" class="j58"/>
<path d="M158.3 328.5l0.8 2.1l1.2 -2.2l-0.8 -2z" class="j76"/>
<path d="M144.4 338.2l4.1 -0.3l1.2 -2.3l-4 0.2z" class="j56"/>
<path d="M154.7 330.7l0.8 -1.2l1.2 -1.5l-0.7 1.6z" class="j74"/>
<path d="M156.7 328l0.8 -2.1l1.2 -2l-0.8 2z" class="j82"/>
<path d="M183 337.6l4.3 1.5l1.1 -3.8l-4.2 -1.6z" class="j58"/>
<path d="M184.2 333.7l4.2 1.6l0.7 -2.8l-4.3 -1.6z" class="j66"/>
<path d="M185.5 327.9l4.2 1.7l0.2 0.9l-4.2 -1.7z" class="j75"/>
<path d="M157.5 325.9l0.8 2.6l1.2 -2.1l-0.8 -2.5z" class="j82"/>
<path d="M158.9 333.5l1.5 2l1.3 -0.6l-1.6 -2.2z" class="j63"/>
<path d="M184.8 330.9l4.3 1.6l0.3 -1.4l-4.3 -1.7z" class="j71"/>
<path d="M152.5 332.7l1 -0.9l1.2 -1.1l-1 1.2z" class="j69"/>
<path d="M165.8 338.3l4.2 2.2l1.2 -2.6l-4.2 -2z" class="j54"/>
<path d="M132.5 339l4.1 1.1l1.2 -2.5l-4.1 -1.1z" class="j54"/>
<path d="M185.1 329.4l4.3 1.7l0.3 -1.5l-4.2 -1.7z" class="j75"/>
<path d="M157.8 331.7l1.1 1.8l1.2 -0.8l-1 -2.1z" class="j69"/>
<path d="M149.7 335.6l1.6 -0.8l1.2 -2.1l-1.5 0.6z" class="j64"/>
<path d="M160.4 335.5l4.2 3l1.2 -0.2l-4.1 -3.4z" class="j58"/>
<path d="M189.9 330.5l4.3 1.6l0.2 0.8l-4.2 -1.5z" class="j70"/>
<path d="M157.1 330l0.7 1.7l1.3 -1.1l-0.8 -2.1z" class="j74"/>
<path d="M137.8 337.6l4.1 0.9l1.3 -0.1l-4.1 -0.8z" class="j56"/>
<path d="M125.9 340.3l4 1.2l1.4 0l-4.1 -1.1z" class="j49"/>
<path d="M171.2 337.9l4.2 1.8l1.1 -2.7l-4.1 -1.6z" class="j57"/>
<path d="M181.9 338.2l4.2 1.4l1.2 -0.5l-4.3 -1.5z" class="j54"/>
<path d="M194.4 332.9l4.1 1.4l0.5 1.6l-4.1 -1.4z" class="j64"/>
<path d="M155.5 329.5l0.8 -1.8l1.2 -1.8l-0.8 2.1z" class="j80"/>
<path d="M143.2 338.4l4.1 -0.1l1.2 -0.4l-4.1 0.3z" class="j56"/>
<path d="M120.5 338.9l4 1.3l1.4 0.1l-4.1 -1.2z" class="j52"/>
<path d="M176.5 337l4.2 1.4l1.2 -0.2l-4.2 -1.5z" class="j57"/>
<path d="M131.3 341.5l4 1.1l1.3 -2.5l-4.1 -1.1z" class="j50"/>
<path d="M153.5 331.8l0.8 -0.9l1.2 -1.4l-0.8 1.2z" class="j73"/>
<path d="M156.3 327.7l0.8 2.3l1.2 -1.5l-0.8 -2.6z" class="j80"/>
<path d="M148.5 337.9l1.5 -0.9l1.3 -2.2l-1.6 0.8z" class="j61"/>
<path d="M151.3 334.8l1 -0.9l1.2 -2.1l-1 0.9z" class="j68"/>
<path d="M189.7 329.6l4.2 1.7l0.3 0.8l-4.3 -1.6z" class="j74"/>
<path d="M188.4 335.3l4.3 1.5l0.6 -2.7l-4.2 -1.6z" class="j65"/>
<path d="M187.3 339.1l4.2 1.5l1.2 -3.8l-4.3 -1.5z" class="j57"/>
<path d="M164.6 338.5l4.2 2l1.2 0l-4.2 -2.2z" class="j54"/>
<path d="M170 340.5l4.2 1.7l1.2 -2.5l-4.2 -1.8z" class="j52"/>
<path d="M189.1 332.5l4.2 1.6l0.3 -1.4l-4.2 -1.6z" class="j70"/>
<path d="M157.7 334.3l1.5 1.7l1.2 -0.5l-1.5 -2z" class="j65"/>
<path d="M189.4 331.1l4.2 1.6l0.3 -1.4l-4.2 -1.7z" class="j74"/>
<path d="M156.6 332.8l1.1 1.5l1.2 -0.8l-1.1 -1.8z" class="j69"/>
<path d="M155.8 331.4l0.8 1.4l1.2 -1.1l-0.7 -1.7z" class="j73"/>
<path d="M136.6 340.1l4.1 0.8l1.2 -2.4l-4.1 -0.9z" class="j55"/>
<path d="M154.3 330.9l0.7 -1.4l1.3 -1.8l-0.8 1.8z" class="j78"/>
<path d="M194.2 332.1l4.1 1.5l0.2 0.7l-4.1 -1.4z" class="j69"/>
<path d="M159.2 336l4.2 2.7l1.2 -0.2l-4.2 -3z" class="j60"/>
<path d="M175.4 339.7l4.2 1.5l1.1 -2.8l-4.2 -1.4z" class="j56"/>
<path d="M152.3 333.9l0.8 -1.1l1.2 -1.9l-0.8 0.9z" class="j72"/>
<path d="M155 329.5l0.8 1.9l1.3 -1.4l-0.8 -2.3z" class="j78"/>
<path d="M150 337l1.1 -1.2l1.2 -1.9l-1 0.9z" class="j65"/>
<path d="M186.1 339.6l4.3 1.4l1.1 -0.4l-4.2 -1.5z" class="j54"/>
<path d="M129.9 341.5l4.1 1.1l1.3 0l-4 -1.1z" class="j50"/>
<path d="M180.7 338.4l4.3 1.4l1.1 -0.2l-4.2 -1.4z" class="j57"/>
<path d="M147.3 338.3l1.5 -0.6l1.2 -0.7l-1.5 0.9z" class="j60"/>
<path d="M141.9 338.5l4.1 0.3l1.3 -0.5l-4.1 0.1z" class="j58"/>
<path d="M124.5 340.2l4.1 1.2l1.3 0.1l-4 -1.2z" class="j53"/>
<path d="M135.3 342.6l4.1 0.7l1.3 -2.4l-4.1 -0.8z" class="j51"/>
<path d="M168.8 340.5l4.2 1.7l1.2 0l-4.2 -1.7z" class="j52"/>
<path d="M193.9 331.3l4.1 1.4l0.3 0.9l-4.1 -1.5z" class="j73"/>
<path d="M192.7 336.8l4.1 1.4l0.6 -2.7l-4.1 -1.4z" class="j64"/>
<path d="M156.4 336.5l1.6 1.8l1.2 -2.3l-1.5 -1.7z" class="j64"/>
<path d="M191.5 340.6l4.1 1.3l1.2 -3.7l-4.1 -1.4z" class="j57"/>
<path d="M155.4 334.8l1 1.7l1.3 -2.2l-1.1 -1.5z" class="j68"/>
<path d="M174.2 342.2l4.2 1.7l1.2 -2.7l-4.2 -1.5z" class="j51"/>
<path d="M193.3 334.1l4.1 1.4l0.3 -1.4l-4.1 -1.4z" class="j69"/>
<path d="M154.6 333.3l0.8 1.5l1.2 -2l-0.8 -1.4z" class="j72"/>
<path d="M153.1 332.8l0.7 -1.6l1.2 -1.7l-0.7 1.4z" class="j76"/>
<path d="M193.6 332.7l4.1 1.4l0.3 -1.4l-4.1 -1.4z" class="j73"/>
<path d="M151.1 335.8l0.7 -1.2l1.3 -1.8l-0.8 1.1z" class="j69"/>
<path d="M163.4 338.7l4.2 1.9l1.2 -0.1l-4.2 -2z" class="j57"/>
<path d="M158 338.3l4.2 2.9l1.2 -2.5l-4.2 -2.7z" class="j60"/>
<path d="M153.8 331.2l0.8 2.1l1.2 -1.9l-0.8 -1.9z" class="j76"/>
<path d="M148.8 337.7l1 -0.9l1.3 -1l-1.1 1.2z" class="j64"/>
<path d="M179.6 341.2l4.2 1.4l1.2 -2.8l-4.3 -1.4z" class="j56"/>
<path d="M155.2 338.6l1.6 2l1.2 -2.3l-1.6 -1.8z" class="j61"/>
<path d="M190.4 341l4.1 1.4l1.1 -0.5l-4.1 -1.3z" class="j54"/>
<path d="M140.7 340.9l4.1 0.1l1.2 -2.2l-4.1 -0.3z" class="j58"/>
<path d="M154.2 336.8l1 1.8l1.2 -2.1l-1 -1.7z" class="j65"/>
<path d="M185 339.8l4.2 1.4l1.2 -0.2l-4.3 -1.4z" class="j57"/>
<path d="M134 342.6l4.1 0.9l1.3 -0.2l-4.1 -0.7z" class="j51"/>
<path d="M146 338.8l1.5 -0.5l1.3 -0.6l-1.5 0.6z" class="j62"/>
<path d="M153.4 335.1l0.8 1.7l1.2 -2l-0.8 -1.5z" class="j69"/>
<path d="M151.8 334.6l0.8 -1.7l1.2 -1.7l-0.7 1.6z" class="j75"/>
<path d="M128.6 341.4l4.1 1.2l1.3 0l-4.1 -1.1z" class="j53"/>
<path d="M173 342.2l4.2 1.6l1.2 0.1l-4.2 -1.7z" class="j51"/>
<path d="M156.8 340.6l4.2 3l1.2 -2.4l-4.2 -2.9z" class="j56"/>
<path d="M178.4 343.9l4.2 1.4l1.2 -2.7l-4.2 -1.4z" class="j51"/>
<path d="M149.8 336.8l0.8 -1l1.2 -1.2l-0.7 1.2z" class="j68"/>
<path d="M152.6 332.9l0.8 2.2l1.2 -1.8l-0.8 -2.1z" class="j75"/>
<path d="M162.2 341.2l4.2 1.9l1.2 -2.5l-4.2 -1.9z" class="j57"/>
<path d="M167.6 340.6l4.2 1.6l1.2 0l-4.2 -1.7z" class="j56"/>
<path d="M139.4 343.3l4.1 -0.1l1.3 -2.2l-4.1 -0.1z" class="j54"/>
<path d="M147.5 338.3l1.1 -0.6l1.2 -0.9l-1 0.9z" class="j65"/>
<path d="M154 339.3l1.6 1.7l1.2 -0.4l-1.6 -2z" class="j60"/>
<path d="M152.9 337.8l1.1 1.5l1.2 -0.7l-1 -1.8z" class="j64"/>
<path d="M183.8 342.6l4.3 1.4l1.1 -2.8l-4.2 -1.4z" class="j56"/>
<path d="M152.1 336.3l0.8 1.5l1.3 -1l-0.8 -1.7z" class="j68"/>
<path d="M161 343.6l4.2 2l1.2 -2.5l-4.2 -1.9z" class="j52"/>
<path d="M150.6 335.8l0.7 -1.3l1.3 -1.6l-0.8 1.7z" class="j73"/>
<path d="M144.8 341l1.5 -0.6l1.2 -2.1l-1.5 0.5z" class="j61"/>
<path d="M155.6 341l4.2 2.8l1.2 -0.2l-4.2 -3z" class="j56"/>
<path d="M189.2 341.2l4.2 1.3l1.1 -0.1l-4.1 -1.4z" class="j57"/>
<path d="M151.3 334.5l0.8 1.8l1.3 -1.2l-0.8 -2.2z" class="j73"/>
<path d="M177.2 343.8l4.3 1.5l1.1 0l-4.2 -1.4z" class="j50"/>
<path d="M148.6 337.7l0.7 -0.7l1.3 -1.2l-0.8 1z" class="j68"/>
<path d="M132.7 342.6l4.1 1l1.3 -0.1l-4.1 -0.9z" class="j54"/>
<path d="M166.4 343.1l4.2 1.7l1.2 -2.6l-4.2 -1.6z" class="j55"/>
<path d="M182.6 345.3l4.3 1.4l1.2 -2.7l-4.3 -1.4z" class="j51"/>
<path d="M138.1 343.5l4.1 0.1l1.3 -0.4l-4.1 0.1z" class="j54"/>
<path d="M171.8 342.2l4.2 1.6l1.2 0l-4.2 -1.6z" class="j55"/>
<path d="M146.3 340.4l1 -0.8l1.3 -1.9l-1.1 0.6z" class="j64"/>
<path d="M143.5 343.2l1.5 -0.7l1.3 -2.1l-1.5 0.6z" class="j58"/>
<path d="M151.7 338.8l1 1.2l1.3 -0.7l-1.1 -1.5z" class="j65"/>
<path d="M149.3 337l0.8 -1l1.2 -1.5l-0.7 1.3z" class="j72"/>
<path d="M152.7 340l1.6 1.5l1.3 -0.5l-1.6 -1.7z" class="j62"/>
<path d="M159.8 343.8l4.2 1.9l1.2 -0.1l-4.2 -2z" class="j52"/>
<path d="M150.9 337.5l0.8 1.3l1.2 -1l-0.8 -1.5z" class="j68"/>
<path d="M165.2 345.6l4.2 1.8l1.2 -2.6l-4.2 -1.7z" class="j51"/>
<path d="M188.1 344l4.1 1.3l1.2 -2.8l-4.2 -1.3z" class="j56"/>
<path d="M150.1 336l0.8 1.5l1.2 -1.2l-0.8 -1.8z" class="j72"/>
<path d="M147.3 339.6l0.8 -0.8l1.2 -1.8l-0.7 0.7z" class="j68"/>
<path d="M181.5 345.3l4.2 1.4l1.2 0l-4.3 -1.4z" class="j50"/>
<path d="M154.3 341.5l4.2 2.4l1.3 -0.1l-4.2 -2.8z" class="j58"/>
<path d="M145 342.5l1.1 -1l1.2 -1.9l-1 0.8z" class="j62"/>
<path d="M170.6 344.8l4.2 1.6l1.2 -2.6l-4.2 -1.6z" class="j55"/>
<path d="M186.9 346.7l4.1 1.4l1.2 -2.8l-4.1 -1.3z" class="j51"/>
<path d="M176 343.8l4.3 1.5l1.2 0l-4.3 -1.5z" class="j54"/>
<path d="M142.2 343.6l1.6 -0.5l1.2 -0.6l-1.5 0.7z" class="j58"/>
<path d="M136.8 343.6l4.1 0.4l1.3 -0.4l-4.1 -0.1z" class="j57"/>
<path d="M148.1 338.8l0.7 -1.3l1.3 -1.5l-0.8 1z" class="j71"/>
<path d="M150.4 340.7l1.1 1.4l1.2 -2.1l-1 -1.2z" class="j64"/>
<path d="M151.5 342.1l1.6 1.6l1.2 -2.2l-1.6 -1.5z" class="j61"/>
<path d="M149.6 339.3l0.8 1.4l1.3 -1.9l-0.8 -1.3z" class="j68"/>
<path d="M164 345.7l4.2 1.6l1.2 0.1l-4.2 -1.8z" class="j51"/>
<path d="M148.8 337.5l0.8 1.8l1.3 -1.8l-0.8 -1.5z" class="j71"/>
<path d="M146.1 341.5l0.7 -1l1.3 -1.7l-0.8 0.8z" class="j66"/>
<path d="M169.4 347.4l4.2 1.6l1.2 -2.6l-4.2 -1.6z" class="j50"/>
<path d="M158.5 343.9l4.2 1.8l1.3 0l-4.2 -1.9z" class="j56"/>
<path d="M153.1 343.7l4.2 2.7l1.2 -2.5l-4.2 -2.4z" class="j58"/>
<path d="M143.8 343.1l1 -0.7l1.3 -0.9l-1.1 1z" class="j61"/>
<path d="M185.7 346.7l4.2 1.4l1.1 0l-4.1 -1.4z" class="j50"/>
<path d="M149.2 342.6l1.1 1.6l1.2 -2.1l-1.1 -1.4z" class="j62"/>
<path d="M150.3 344.2l1.5 1.7l1.3 -2.2l-1.6 -1.6z" class="j58"/>
<path d="M174.8 346.4l4.3 1.5l1.2 -2.6l-4.3 -1.5z" class="j54"/>
<path d="M146.8 340.5l0.8 -1.5l1.2 -1.5l-0.7 1.3z" class="j70"/>
<path d="M148.4 341l0.8 1.6l1.2 -1.9l-0.8 -1.4z" class="j66"/>
<path d="M180.3 345.3l4.3 1.4l1.1 0l-4.2 -1.4z" class="j54"/>
<path d="M140.9 344l1.6 -0.3l1.3 -0.6l-1.6 0.5z" class="j60"/>
<path d="M147.6 339l0.8 2l1.2 -1.7l-0.8 -1.8z" class="j70"/>
<path d="M144.8 342.4l0.8 -0.8l1.2 -1.1l-0.7 1z" class="j65"/>
<path d="M151.8 345.9l4.3 2.9l1.2 -2.4l-4.2 -2.7z" class="j54"/>
<path d="M168.2 347.3l4.2 1.6l1.2 0.1l-4.2 -1.6z" class="j50"/>
<path d="M173.6 349l4.3 1.5l1.2 -2.6l-4.3 -1.5z" class="j50"/>
<path d="M157.3 346.4l4.2 1.9l1.2 -2.6l-4.2 -1.8z" class="j55"/>
<path d="M162.7 345.7l4.3 1.6l1.2 0l-4.2 -1.6z" class="j54"/>
<path d="M142.5 343.7l1 -0.4l1.3 -0.9l-1 0.7z" class="j63"/>
<path d="M147.9 343.4l1.1 1.4l1.3 -0.6l-1.1 -1.6z" class="j61"/>
<path d="M149 344.8l1.6 1.6l1.2 -0.5l-1.5 -1.7z" class="j58"/>
<path d="M145.6 341.6l0.7 -1.1l1.3 -1.5l-0.8 1.5z" class="j69"/>
<path d="M147.1 342.1l0.8 1.3l1.3 -0.8l-0.8 -1.6z" class="j65"/>
<path d="M179.1 347.9l4.3 1.4l1.2 -2.6l-4.3 -1.4z" class="j54"/>
<path d="M146.3 340.5l0.8 1.6l1.3 -1.1l-0.8 -2z" class="j69"/>
<path d="M156.1 348.8l4.2 2l1.2 -2.5l-4.2 -1.9z" class="j51"/>
<path d="M184.6 346.7l4.1 1.3l1.2 0.1l-4.2 -1.4z" class="j54"/>
<path d="M150.6 346.4l4.2 2.6l1.3 -0.2l-4.3 -2.9z" class="j54"/>
<path d="M143.5 343.3l0.8 -0.6l1.3 -1.1l-0.8 0.8z" class="j66"/>
<path d="M172.4 348.9l4.3 1.5l1.2 0.1l-4.3 -1.5z" class="j49"/>
<path d="M177.9 350.5l4.3 1.5l1.2 -2.7l-4.3 -1.4z" class="j49"/>
<path d="M161.5 348.3l4.2 1.6l1.3 -2.6l-4.3 -1.6z" class="j54"/>
<path d="M167 347.3l4.2 1.6l1.2 0l-4.2 -1.6z" class="j54"/>
<path d="M144.3 342.7l0.8 -0.8l1.2 -1.4l-0.7 1.1z" class="j69"/>
<path d="M146.7 344.3l1 1.2l1.3 -0.7l-1.1 -1.4z" class="j63"/>
<path d="M145.9 343.2l0.8 1.1l1.2 -0.9l-0.8 -1.3z" class="j66"/>
<path d="M147.7 345.5l1.6 1.3l1.3 -0.4l-1.6 -1.6z" class="j60"/>
<path d="M145.1 341.9l0.8 1.3l1.2 -1.1l-0.8 -1.6z" class="j69"/>
<path d="M154.8 349l4.2 1.8l1.3 0l-4.2 -2z" class="j51"/>
<path d="M183.4 349.3l4.2 1.4l1.1 -2.7l-4.1 -1.3z" class="j54"/>
<path d="M160.3 350.8l4.2 1.7l1.2 -2.6l-4.2 -1.6z" class="j50"/>
<path d="M149.3 346.8l4.2 2.3l1.3 -0.1l-4.2 -2.6z" class="j57"/>
<path d="M176.7 350.4l4.3 1.5l1.2 0.1l-4.3 -1.5z" class="j49"/>
<path d="M165.7 349.9l4.3 1.6l1.2 -2.6l-4.2 -1.6z" class="j53"/>
<path d="M182.2 352l4.2 1.4l1.2 -2.7l-4.2 -1.4z" class="j49"/>
<path d="M171.2 348.9l4.3 1.5l1.2 0l-4.3 -1.5z" class="j53"/>
<path d="M159 350.8l4.3 1.7l1.2 0l-4.2 -1.7z" class="j50"/>
<path d="M164.5 352.5l4.3 1.6l1.2 -2.6l-4.3 -1.6z" class="j49"/>
<path d="M153.5 349.1l4.3 1.8l1.2 -0.1l-4.2 -1.8z" class="j54"/>
<path d="M181 351.9l4.2 1.4l1.2 0.1l-4.2 -1.4z" class="j49"/>
<path d="M170 351.5l4.3 1.5l1.2 -2.6l-4.3 -1.5z" class="j53"/>
<path d="M175.5 350.4l4.3 1.4l1.2 0.1l-4.3 -1.5z" class="j53"/>
<path d="M163.3 352.5l4.3 1.6l1.2 0l-4.3 -1.6z" class="j49"/>
<path d="M168.8 354.1l4.3 1.5l1.2 -2.6l-4.3 -1.5z" class="j49"/>
<path d="M157.8 350.9l4.2 1.6l1.3 0l-4.3 -1.7z" class="j53"/>
<path d="M174.3 353l4.3 1.5l1.2 -2.7l-4.3 -1.4z" class="j53"/>
<path d="M179.8 351.8l4.2 1.5l1.2 0l-4.2 -1.4z" class="j53"/>
<path d="M167.6 354.1l4.3 1.5l1.2 0l-4.3 -1.5z" class="j48"/>
<path d="M173.1 355.6l4.3 1.6l1.2 -2.7l-4.3 -1.5z" class="j48"/>
<path d="M162 352.5l4.3 1.5l1.3 0.1l-4.3 -1.6z" class="j53"/>
<path d="M178.6 354.5l4.2 1.4l1.2 -2.6l-4.2 -1.5z" class="j53"/>
<path d="M171.9 355.6l4.3 1.5l1.2 0.1l-4.3 -1.6z" class="j48"/>
<path d="M177.4 357.2l4.2 1.4l1.2 -2.7l-4.2 -1.4z" class="j48"/>
<path d="M166.3 354l4.4 1.5l1.2 0.1l-4.3 -1.5z" class="j52"/>
<path d="M176.2 357.1l4.2 1.4l1.2 0.1l-4.2 -1.4z" class="j48"/>
<path d="M170.7 355.5l4.3 1.5l1.2 0.1l-4.3 -1.5z" class="j52"/>
<path d="M175 357l4.2 1.5l1.2 0l-4.2 -1.4z" class="j52"/>
<defs><linearGradient id="wg0" gradientUnits="userSpaceOnUse" x1="113.1" y1="353.2" x2="113.1" y2="331.2" gradientTransform="matrix(1 0.3427 0 1 0 -38.77)"><stop offset="0" stop-color="#7676ee"/><stop offset="0.25" stop-color="#3a40f2"/><stop offset="0.5" stop-color="#1050ff"/><stop offset="0.72" stop-color="#0090ff"/><stop offset="0.88" stop-color="#00c8f8"/><stop offset="1" stop-color="#20e6e0"/></linearGradient></defs><path d="M112.5 336.4l4 1.3l4 1.2l4 1.3l4.1 1.2l4.1 1.2l4.1 1l4.1 0.4l1.6 -0.3l1 -0.4l0.8 -0.6l0.8 -0.8l0.8 1.3l0.8 1.1l1 1.2l1.6 1.3l4.2 2.3l4.3 1.8l4.2 1.6l4.3 1.5l4.4 1.5l4.3 1.5l4.2 1.5l-0.2 17.3l-65.9 -22.6z" fill="url(#wg0)"/>
<defs><linearGradient id="wg1" gradientUnits="userSpaceOnUse" x1="179" y1="375.8" x2="179" y2="351.9" gradientTransform="matrix(1 -1.0699 0 1 0 191.55)"><stop offset="0" stop-color="#3040ff"/><stop offset="0.4" stop-color="#1030ff"/><stop offset="0.75" stop-color="#0070ff"/><stop offset="1" stop-color="#00c0f0"/></linearGradient></defs><path d="M179.2 358.5l0.6 -0.3l0.6 0.3l0.6 0.4l0.6 -0.3l0.6 -1l0.6 -1.7l0.6 -1.6l0.6 -1l0.6 -0.3l0.6 0.3l0.6 0.4l0.6 -0.3l0.6 -1.1l0.6 -1.6l0.6 -1.6l0.5 -1.1l0.6 -0.2l0.6 0.3l0.5 0.2l0.6 -0.2l0.6 -1.1l0.6 -1.7l0.6 -1.6l0.6 -1.2l0.5 -0.3l0.6 0.2l0.6 0.1l0.5 -0.6l0.6 -1.4l0.6 -2.3l0.6 -2.7l0.6 -2.8l0.5 1.6l0.5 1.6l0.6 1.1l0.5 0.3l0.5 -0.6l0.6 -1.3l0.6 -1.3l0.5 -0.8l0.6 0l0.5 0.4l0.5 0.5l0.5 -0.1l0.6 -0.8l0.6 -1.5l0.5 -1.4l0.6 -0.9l0.5 -0.1l0.5 0.4l0.5 0.5l0.5 -0.2l0.6 -0.9l0.5 -1.4l0.6 -1.5l0.5 -0.9l0.5 -0.1l0.5 0.4l0.5 0.4l0.5 -0.1l0.6 -0.9l0.5 -1.4l0.6 -1.5l0.4 -0.8l-0.3 9l-0.3 1.4l-0.4 3.2l0 -4.4l-0.4 3.4l-0.2 -1l-0.4 3.7l-0.2 -1.2l-0.2 -2.3l-0.3 2.6l-0.2 -2.2l-0.2 -1.7l-0.3 0.2l-0.3 1.6l-0.1 -2.7l-0.5 5.9l-0.2 0.5l-0.1 -5.7l-0.4 4.5l-0.3 0l-0.2 0.5l-0.2 -1.8l-0.5 7.4l-0.1 -4.5l-0.5 5.3l-0.1 -4l-0.2 -1.6l-0.3 0.1l-0.2 -0.2l-0.4 4.1l-0.3 0l-0.2 -0.1l-0.1 -4.1l-0.3 0.7l-0.4 2.4l-0.3 2.1l-0.3 0.7l-0.3 1.8l-0.2 0.1l-0.2 -1.5l-0.4 1.7l-0.2 0.7l-0.2 -4.6l-0.4 5.9l-0.2 -3.7l-0.2 0.5l-0.3 0.1l-0.3 0.3l-0.1 -4.7l-0.3 0.2l-0.3 2.3l-0.3 -0.6l-0.4 5.5l-0.2 -1.5l-0.2 -1.7l-0.3 2.1l-0.3 -1.5l-0.4 4.3l-0.1 -3.1l-0.4 3.1l-0.2 -1.8l-0.2 -2.7l-0.3 0.1l-0.3 2.6l-0.2 -2.4l-0.3 -1l-0.3 1.1l-0.4 5l-0.2 -0.5l-0.3 1.7l-0.2 -3.3l-0.4 3.1l-0.2 -2.9l-0.4 4.6l-0.2 -3.8l-0.4 5.1l-0.1 -3.7l-0.3 -0.3l-0.3 1l-0.3 2.1l-0.3 1l-0.3 -0.8l-0.3 3.1l-0.3 0.8l-0.3 -1.4l-0.3 1.9l-0.4 3.7l-0.2 -1.7l-0.3 2.1l-0.3 -0.4l-0.3 0.1l-0.3 1.2l-0.2 -3.3l-0.3 2.3l-0.3 1.6l-0.3 -0.9l-0.3 -1.3l-0.3 3.6l-0.3 0l-0.3 -0.4l-0.3 0.2l-0.2 0.3l-0.4 2.6l-0.3 0.2l-0.2 -0.8l-0.3 0.5l-0.3 1.2l-0.3 -0.3l-0.3 0.9l-0.3 0.2l-0.3 0.6l-0.3 0.5l-0.3 0.4l-0.3 0.5l-0.3 0.3l-0.3 0.4l-0.3 0.3l-0.3 0.3l-0.3 0.3l-0.3 0.3l-0.3 0.3l-0.3 0.4l-0.3 0.3l-0.3 0.3l-0.3 0.3l-0.3 0.3l-0.2 0.3l-0.3 0.4l-0.3 0.2z" fill="url(#wg1)"/>
<path d="M113.6 353.4L113.2 341.6M114.2 353.6L113.7 341.8M114.7 353.8L114.3 342M115.3 354L114.8 342.2M115.8 354.2L115.4 342.4M116.4 354.3L116 342.6M117 354.5L116.5 342.7M117.5 354.7L117.1 342.9M118.1 354.9L117.7 343.1M118.6 355.1L118.2 343.3M119.2 355.3L118.8 343.5M119.8 355.5L119.3 343.7M120.3 355.7L119.9 343.8M120.9 355.9L120.5 344M121.4 356.1L121 344.2M122 356.3L121.6 344.4M122.6 356.5L122.2 344.6M123.1 356.6L122.7 344.8M123.7 356.8L123.3 344.9M124.2 357L123.9 345.1M124.8 357.2L124.4 345.3M125.4 357.4L125 345.5M125.9 357.6L125.6 345.7M126.5 357.8L126.1 345.8M127.1 358L126.7 346M127.6 358.2L127.3 346.2M128.2 358.4L127.9 346.4M128.8 358.6L128.4 346.6M129.3 358.8L129 346.7M129.9 359L129.6 346.9M130.5 359.2L130.1 347.1M131 359.4L130.7 347.3M131.6 359.6L131.3 347.4M132.2 359.7L131.9 347.6M132.7 359.9L132.4 347.8M133.3 360.1L133 347.9M133.9 360.3L133.6 348.1M134.5 360.5L134.2 348.3M135 360.7L134.7 348.4M135.6 360.9L135.3 348.6M136.2 361.1L135.9 348.7M136.7 361.3L136.5 348.9M137.3 361.5L137.1 349M137.9 361.7L137.6 349.2M138.5 361.9L138.2 349.3M139 362.1L138.8 349.4M139.6 362.3L139.4 349.5M140.2 362.5L139.9 349.6M140.8 362.7L140.5 349.7M141.3 362.9L141.1 349.7M141.9 363.1L141.7 349.8M142.5 363.3L142.3 349.7M143.1 363.5L142.8 349.7M143.7 363.7L143.4 349.6M144.2 363.9L144 349.4M144.8 364.1L144.6 349.1M145.4 364.3L145.2 348.7M146 364.5L145.8 349.5M146.6 364.7L146.3 350.1M147.1 364.9L146.9 350.7M147.7 365.1L147.5 351.2M148.3 365.3L148.1 351.7M148.9 365.5L148.7 352.1M149.5 365.7L149.3 352.5M150 365.9L149.9 352.8M150.6 366.1L150.5 353.1M151.2 366.3L151.1 353.4M151.8 366.5L151.7 353.7M152.4 366.7L152.3 354M153 366.9L152.9 354.3M153.6 367.1L153.4 354.5M154.1 367.3L154 354.8M154.7 367.5L154.6 355M155.3 367.7L155.2 355.2M155.9 367.9L155.8 355.5M156.5 368.1L156.4 355.7M157.1 368.3L157 355.9M157.7 368.5L157.6 356.2M158.3 368.7L158.2 356.4M158.9 368.9L158.8 356.6M159.4 369.1L159.4 356.8M160 369.3L160 357M160.6 369.5L160.6 357.3M161.2 369.7L161.2 357.5M161.8 369.9L161.8 357.7M162.4 370.1L162.4 357.9M163 370.3L163 358.1M163.6 370.5L163.6 358.3M164.2 370.7L164.2 358.5M164.8 370.9L164.8 358.8M165.4 371.1L165.4 359M166 371.3L166 359.2M166.6 371.5L166.6 359.4M167.2 371.7L167.2 359.6M167.8 371.9L167.8 359.8M168.4 372.2L168.4 360M169 372.4L169 360.2M169.6 372.6L169.6 360.4M170.2 372.8L170.2 360.7M170.8 373L170.8 360.9M171.4 373.2L171.4 361.1M172 373.4L172 361.3M172.6 373.6L172.7 361.5M173.2 373.8L173.3 361.7M173.8 374L173.9 361.9M174.4 374.2L174.5 362.1M175 374.4L175.1 362.3M175.6 374.6L175.7 362.5M176.2 374.8L176.3 362.7M176.8 375L176.9 363M177.4 375.3L177.5 363.2M178 375.5L178.1 363.4M178.6 375.7L178.8 363.6" stroke="#000090" stroke-opacity="0.3" stroke-width="0.35" fill="none"/>
<path d="M163.2 317.4l1.9 -1.8l0 -22.3l-1.9 1.7z" fill="url(#fadeS)"/>
<path d="M165.9 316.1l2 -1.9l0.1 -26.9l-2.1 1.8z" fill="url(#fadeS)"/>
<path d="M169.2 314.6l1.6 -1.4l0.1 -22.6l-1.6 1.5z" fill="url(#fadeS)"/>
<path d="M172.3 313.2l2.2 -2.1l0.3 -32l-2.4 2z" fill="url(#fadeS)"/>
<path d="M176.5 310.2l2 -1.8l0.3 -29.3l-2 1.8z" fill="url(#fadeS)"/>
<path d="M180 307.4l2.1 -1.9l0.4 -33.1l-2.1 1.9z" fill="url(#fadeS)"/>
<g transform="matrix(0.49554 0 0 0.53589 46.974 375.821)" font-family="DejaVu Sans, sans-serif"><path d="M123.2 242L211.1 168.3L209.9 62.1L117.8 129.3" fill="#f2f2f2" opacity="0.5" stroke="#f2f2f2" stroke-width="1.45"/>
<path d="M211.1 168.3L352.1 209.3L357.1 99.4L209.9 62.1" fill="#e6e6e6" opacity="0.5" stroke="#e6e6e6" stroke-width="1.45"/>
<path d="M123.2 242L272.7 290.8L352.1 209.3L211.1 168.3" fill="#ececec" opacity="0.5" stroke="#ececec" stroke-width="1.45"/>
<path d="M132.3 244.9L219.7 170.8L218.8 64.3" fill="none" stroke="#b0b0b0" stroke-width="1.16"/>
<path d="M156.8 253L242.9 177.6L243.1 70.5" fill="none" stroke="#b0b0b0" stroke-width="1.16"/>
<path d="M181.9 261.1L266.6 184.4L267.7 76.7" fill="none" stroke="#b0b0b0" stroke-width="1.16"/>
<path d="M207.4 269.5L290.6 191.4L292.9 83.1" fill="none" stroke="#b0b0b0" stroke-width="1.16"/>
<path d="M233.3 277.9L315.1 198.5L318.4 89.6" fill="none" stroke="#b0b0b0" stroke-width="1.16"/>
<path d="M259.7 286.6L339.9 205.8L344.4 96.2" fill="none" stroke="#b0b0b0" stroke-width="1.16"/>
<path d="M124.1 124.6L129.3 236.9L278.2 285.2" fill="none" stroke="#b0b0b0" stroke-width="1.16"/>
<path d="M140.9 112.4L145.2 223.5L292.6 270.3" fill="none" stroke="#b0b0b0" stroke-width="1.16"/>
<path d="M157.1 100.6L160.6 210.6L306.6 256" fill="none" stroke="#b0b0b0" stroke-width="1.16"/>
<path d="M172.8 89.1L175.6 198L320.1 242.1" fill="none" stroke="#b0b0b0" stroke-width="1.16"/>
<path d="M188.1 78L190.2 185.8L333.3 228.6" fill="none" stroke="#b0b0b0" stroke-width="1.16"/>
<path d="M202.9 67.2L204.4 173.9L346.1 215.5" fill="none" stroke="#b0b0b0" stroke-width="1.16"/>
<path d="M352.1 209.3L211.1 168.3L123.2 242" fill="none" stroke="#b0b0b0" stroke-width="1.16"/>
<path d="M353 188.7L210.8 148.4L122.2 220.9" fill="none" stroke="#b0b0b0" stroke-width="1.16"/>
<path d="M354 167.8L210.6 128.2L121.2 199.5" fill="none" stroke="#b0b0b0" stroke-width="1.16"/>
<path d="M355 146.6L210.4 107.6L120.1 177.7" fill="none" stroke="#b0b0b0" stroke-width="1.16"/>
<path d="M356 125L210.1 86.7L119 155.5" fill="none" stroke="#b0b0b0" stroke-width="1.16"/>
<path d="M357 103L209.9 65.5L117.9 132.9" fill="none" stroke="#b0b0b0" stroke-width="1.16"/>
<path d="M123.2 242L272.7 290.8" fill="none" stroke="#000000" stroke-width="1.16" stroke-linecap="square"/>
<path d="M133 244.3L130.7 246.2" fill="none" stroke="#000000" stroke-width="1.16" stroke-linecap="square"/>
<text x="122.7" y="272.4" font-size="10.8" text-anchor="middle">0</text>
<path d="M157.6 252.3L155.3 254.3" fill="none" stroke="#000000" stroke-width="1.16" stroke-linecap="square"/>
<text x="147.4" y="280.6" font-size="10.8" text-anchor="middle">100</text>
<path d="M182.6 260.5L180.4 262.5" fill="none" stroke="#000000" stroke-width="1.16" stroke-linecap="square"/>
<text x="172.4" y="289" font-size="10.8" text-anchor="middle">200</text>
<path d="M208.1 268.8L205.9 270.8" fill="none" stroke="#000000" stroke-width="1.16" stroke-linecap="square"/>
<text x="198" y="297.5" font-size="10.8" text-anchor="middle">300</text>
<path d="M234 277.2L231.9 279.3" fill="none" stroke="#000000" stroke-width="1.16" stroke-linecap="square"/>
<text x="224" y="306.2" font-size="10.8" text-anchor="middle">400</text>
<path d="M260.4 285.9L258.3 288" fill="none" stroke="#000000" stroke-width="1.16" stroke-linecap="square"/>
<text x="250.4" y="315.1" font-size="10.8" text-anchor="middle">500</text>
<path d="M352.1 209.3L272.7 290.8" fill="none" stroke="#000000" stroke-width="1.16" stroke-linecap="square"/>
<path d="M276.9 284.7L280.7 286" fill="none" stroke="#000000" stroke-width="1.16" stroke-linecap="square"/>
<text x="294.4" y="309.7" font-size="10.8" text-anchor="middle">0</text>
<path d="M291.4 269.9L295.1 271.1" fill="none" stroke="#000000" stroke-width="1.16" stroke-linecap="square"/>
<text x="308.6" y="294.6" font-size="10.8" text-anchor="middle">100</text>
<path d="M305.4 255.6L309 256.8" fill="none" stroke="#000000" stroke-width="1.16" stroke-linecap="square"/>
<text x="322.3" y="280" font-size="10.8" text-anchor="middle">200</text>
<path d="M318.9 241.7L322.6 242.8" fill="none" stroke="#000000" stroke-width="1.16" stroke-linecap="square"/>
<text x="335.7" y="265.8" font-size="10.8" text-anchor="middle">300</text>
<path d="M332.1 228.2L335.7 229.3" fill="none" stroke="#000000" stroke-width="1.16" stroke-linecap="square"/>
<text x="348.6" y="252.1" font-size="10.8" text-anchor="middle">400</text>
<path d="M344.9 215.1L348.4 216.2" fill="none" stroke="#000000" stroke-width="1.16" stroke-linecap="square"/>
<text x="361.2" y="238.7" font-size="10.8" text-anchor="middle">500</text>
<path d="M352.1 209.3L357.1 99.4" fill="none" stroke="#000000" stroke-width="1.16" stroke-linecap="square"/>
<path d="M350.9 209L354.5 210" fill="none" stroke="#000000" stroke-width="1.16" stroke-linecap="square"/>
<text x="373" y="213.9" font-size="10.8" text-anchor="middle">0</text>
<path d="M351.8 188.4L355.4 189.4" fill="none" stroke="#000000" stroke-width="1.16" stroke-linecap="square"/>
<text x="374.1" y="193.4" font-size="10.8" text-anchor="middle">50</text>
<path d="M352.8 167.5L356.4 168.5" fill="none" stroke="#000000" stroke-width="1.16" stroke-linecap="square"/>
<text x="375.3" y="172.5" font-size="10.8" text-anchor="middle">100</text>
<path d="M353.7 146.3L357.4 147.2" fill="none" stroke="#000000" stroke-width="1.16" stroke-linecap="square"/>
<text x="376.4" y="151.3" font-size="10.8" text-anchor="middle">150</text>
<path d="M354.7 124.6L358.4 125.6" fill="none" stroke="#000000" stroke-width="1.16" stroke-linecap="square"/>
<text x="377.6" y="129.8" font-size="10.8" text-anchor="middle">200</text>
<path d="M355.7 102.6L359.4 103.6" fill="none" stroke="#000000" stroke-width="1.16" stroke-linecap="square"/>
<text x="378.8" y="107.8" font-size="10.8" text-anchor="middle">250</text></g>
<path d="M152.1 455.1l3.7 0.7l1.1 -1l-3.8 -0.6z" class="j52"/>
<path d="M151 456.1l3.7 0.7l1.1 -1l-3.7 -0.7z" class="j52"/>
<path d="M155.8 455.8l3.8 0.6l1 -0.9l-3.7 -0.7z" class="j53"/>
<path d="M149.8 457.1l3.8 0.7l1.1 -1l-3.7 -0.7z" class="j52"/>
<path d="M145.4 474.7l3.7 0.8l0.1 -0.4l-3.7 -0.8z" class="j8"/>
<path d="M145.5 474.3l3.7 0.8l0.2 -0.9l-3.8 -0.8z" class="j10"/>
<path d="M154.7 456.8l3.8 0.6l1.1 -1l-3.8 -0.6z" class="j53"/>
<path d="M145.1 473.9l3.7 0.8l0.3 0.8l-3.7 -0.8z" class="j10"/>
<path d="M145.6 473.4l3.8 0.8l0.2 -3l-3.7 -0.7z" class="j16"/>
<path d="M159.6 456.4l3.7 0.7l1.1 -0.9l-3.8 -0.7z" class="j55"/>
<path d="M148.7 458.1l3.8 0.7l1.1 -1l-3.8 -0.7z" class="j52"/>
<path d="M153.6 457.8l3.7 0.6l1.2 -1l-3.8 -0.6z" class="j53"/>
<path d="M149.1 475.5l3.7 0.7l0.2 -0.4l-3.8 -0.7z" class="j10"/>
<path d="M145.9 470.5l3.7 0.7l0.4 -5.2l-3.8 -0.7z" class="j28"/>
<path d="M149.2 475.1l3.8 0.7l0.1 -0.9l-3.7 -0.7z" class="j12"/>
<path d="M158.5 457.4l3.7 0.7l1.1 -1l-3.7 -0.7z" class="j55"/>
<path d="M148.8 474.7l3.7 0.7l0.3 0.8l-3.7 -0.7z" class="j11"/>
<path d="M144.7 468.5l3.7 0.5l0.4 5.7l-3.7 -0.8z" class="j21"/>
<path d="M149.4 474.2l3.7 0.7l0.3 -3l-3.8 -0.7z" class="j17"/>
<path d="M163.3 457.1l3.8 0.7l1.1 -1l-3.8 -0.6z" class="j56"/>
<path d="M147.6 459.1l3.7 0.7l1.2 -1l-3.8 -0.7z" class="j52"/>
<path d="M152.5 458.8l3.7 0.6l1.1 -1l-3.7 -0.6z" class="j53"/>
<path d="M146.2 465.3l3.8 0.7l0.2 -2.6l-3.7 -0.7z" class="j39"/>
<path d="M146.5 462.7l3.7 0.7l1.1 -3.6l-3.7 -0.7z" class="j47"/>
<path d="M157.3 458.4l3.8 0.7l1.1 -1l-3.7 -0.7z" class="j55"/>
<path d="M152.8 476.2l3.8 0.7l0.1 -0.4l-3.7 -0.7z" class="j11"/>
<path d="M149.6 471.2l3.8 0.7l0.3 -5.2l-3.7 -0.7z" class="j29"/>
<path d="M153 475.8l3.7 0.7l0.2 -0.9l-3.8 -0.7z" class="j13"/>
<path d="M162.2 458.1l3.8 0.7l1.1 -1l-3.8 -0.7z" class="j56"/>
<path d="M152.5 475.4l3.8 0.7l0.3 0.8l-3.8 -0.7z" class="j13"/>
<path d="M148.4 469l3.8 0.4l0.3 6l-3.7 -0.7z" class="j23"/>
<path d="M153.1 474.9l3.8 0.7l0.2 -3l-3.7 -0.7z" class="j19"/>
<path d="M167.1 457.8l3.8 0.6l1.1 -1l-3.8 -0.6z" class="j58"/>
<path d="M151.3 459.8l3.8 0.7l1.1 -1.1l-3.7 -0.6z" class="j53"/>
<path d="M156.2 459.4l3.8 0.7l1.1 -1l-3.8 -0.7z" class="j55"/>
<path d="M150 466l3.7 0.7l0.3 -2.6l-3.8 -0.7z" class="j41"/>
<path d="M150.2 463.4l3.8 0.7l1.1 -3.6l-3.8 -0.7z" class="j49"/>
<path d="M161.1 459.1l3.8 0.7l1.1 -1l-3.8 -0.7z" class="j56"/>
<path d="M144.2 464.1l3.7 0.5l0.5 4.4l-3.7 -0.5z" class="j38"/>
<path d="M156.6 476.9l3.8 0.7l0.1 -0.4l-3.8 -0.7z" class="j13"/>
<path d="M153.4 471.9l3.7 0.7l0.4 -5.2l-3.8 -0.7z" class="j31"/>
<path d="M156.7 476.5l3.8 0.7l0.2 -0.9l-3.8 -0.7z" class="j15"/>
<path d="M166 458.8l3.9 0.6l1 -1l-3.8 -0.6z" class="j58"/>
<path d="M156.3 476.1l3.8 0.7l0.3 0.8l-3.8 -0.7z" class="j14"/>
<path d="M156.9 475.6l3.8 0.7l0.2 -3l-3.8 -0.7z" class="j20"/>
<path d="M152.2 469.4l3.8 0.5l0.3 6.2l-3.8 -0.7z" class="j25"/>
<path d="M155.1 460.5l3.8 0.7l1.1 -1.1l-3.8 -0.7z" class="j55"/>
<path d="M170.9 458.4l3.9 0.5l1 -1l-3.8 -0.5z" class="j60"/>
<path d="M160 460.1l3.8 0.7l1.1 -1l-3.8 -0.7z" class="j56"/>
<path d="M153.7 466.7l3.8 0.7l0.3 -2.6l-3.8 -0.7z" class="j42"/>
<path d="M144 462.9l3.8 0.4l0.1 1.3l-3.7 -0.5z" class="j48"/>
<path d="M154 464.1l3.8 0.7l1.1 -3.6l-3.8 -0.7z" class="j50"/>
<path d="M164.9 459.8l3.9 0.6l1.1 -1l-3.9 -0.6z" class="j58"/>
<path d="M147.9 464.6l3.8 0.4l0.5 4.4l-3.8 -0.4z" class="j40"/>
<path d="M157.1 472.6l3.8 0.7l0.4 -5.2l-3.8 -0.7z" class="j33"/>
<path d="M160.4 477.6l3.8 0.7l0.1 -0.4l-3.8 -0.7z" class="j15"/>
<path d="M160.5 477.2l3.8 0.7l0.2 -1l-3.8 -0.6z" class="j17"/>
<path d="M169.9 459.4l3.8 0.5l1.1 -1l-3.9 -0.5z" class="j60"/>
<path d="M160.1 476.8l3.8 0.7l0.3 0.8l-3.8 -0.7z" class="j16"/>
<path d="M160.7 476.3l3.8 0.6l0.2 -2.9l-3.8 -0.7z" class="j22"/>
<path d="M158.9 461.2l3.8 0.6l1.1 -1l-3.8 -0.7z" class="j56"/>
<path d="M156 469.9l3.8 0.3l0.3 6.6l-3.8 -0.7z" class="j27"/>
<path d="M174.8 458.9l3.9 0.1l1 -1l-3.9 -0.1z" class="j63"/>
<path d="M163.8 460.8l3.9 0.6l1.1 -1l-3.9 -0.6z" class="j58"/>
<path d="M157.5 467.4l3.8 0.7l0.3 -2.7l-3.8 -0.6z" class="j44"/>
<path d="M142.9 460.2l3.8 0.4l1.1 2.7l-3.8 -0.4z" class="j56"/>
<path d="M157.8 464.8l3.8 0.6l1.1 -3.6l-3.8 -0.6z" class="j52"/>
<path d="M147.8 463.3l3.8 0.5l0.1 1.2l-3.8 -0.4z" class="j50"/>
<path d="M168.8 460.4l3.8 0.5l1.1 -1l-3.8 -0.5z" class="j60"/>
<path d="M151.7 465l3.8 0.4l0.5 4.5l-3.8 -0.5z" class="j43"/>
<path d="M160.9 473.3l3.8 0.7l0.5 -5.3l-3.9 -0.6z" class="j34"/>
<path d="M164.2 478.3l3.8 0.5l0.2 -0.4l-3.9 -0.5z" class="j17"/>
<path d="M164.3 477.9l3.9 0.5l0.1 -0.9l-3.8 -0.6z" class="j19"/>
<path d="M173.7 459.9l3.9 0.1l1.1 -1l-3.9 -0.1z" class="j63"/>
<path d="M163.9 477.5l3.9 0.5l0.2 0.8l-3.8 -0.5z" class="j18"/>
<path d="M178.7 459l1.4 -0.5l1 -0.9l-1.4 0.4z" class="j66"/>
<path d="M162.7 461.8l3.9 0.6l1.1 -1l-3.9 -0.6z" class="j58"/>
<path d="M164.5 476.9l3.8 0.6l0.3 -3l-3.9 -0.5z" class="j24"/>
<path d="M159.8 470.2l3.8 0.3l0.3 7l-3.8 -0.7z" class="j29"/>
<path d="M167.7 461.4l3.8 0.5l1.1 -1l-3.8 -0.5z" class="j60"/>
<path d="M161.3 468.1l3.9 0.6l0.2 -2.6l-3.8 -0.7z" class="j46"/>
<path d="M161.6 465.4l3.8 0.7l1.2 -3.7l-3.9 -0.6z" class="j54"/>
<path d="M146.7 460.6l3.8 0.5l1.1 2.7l-3.8 -0.5z" class="j58"/>
<path d="M180.1 458.5l1 -0.9l1 -0.9l-1 0.9z" class="j69"/>
<path d="M151.6 463.8l3.8 0.4l0.1 1.2l-3.8 -0.4z" class="j53"/>
<path d="M141.8 461l3.8 0.5l1.1 -0.9l-3.8 -0.4z" class="j62"/>
<path d="M172.6 460.9l3.9 0.1l1.1 -1l-3.9 -0.1z" class="j63"/>
<path d="M155.5 465.4l3.8 0.3l0.5 4.5l-3.8 -0.3z" class="j45"/>
<path d="M177.6 460l1.4 -0.5l1.1 -1l-1.4 0.5z" class="j66"/>
<path d="M164.7 474l3.9 0.5l0.4 -5.2l-3.8 -0.6z" class="j36"/>
<path d="M168 478.8l3.9 0.1l0.1 -0.4l-3.8 -0.1z" class="j20"/>
<path d="M168.2 478.4l3.8 0.1l0.2 -1l-3.9 0z" class="j22"/>
<path d="M181.1 457.6l0.8 -1.2l1 -0.9l-0.8 1.2z" class="j73"/>
<path d="M166.6 462.4l3.8 0.6l1.1 -1.1l-3.8 -0.5z" class="j60"/>
<path d="M167.8 478l3.8 0l0.3 0.9l-3.9 -0.1z" class="j21"/>
<path d="M168.3 477.5l3.9 0l0.3 -3l-3.9 0z" class="j27"/>
<path d="M163.6 470.5l3.9 0.1l0.3 7.4l-3.9 -0.5z" class="j32"/>
<path d="M179 459.5l1 -0.9l1.1 -1l-1 0.9z" class="j69"/>
<path d="M165.2 468.7l3.8 0.6l0.3 -2.7l-3.9 -0.5z" class="j48"/>
<path d="M184 458.5l1 1.5l1 -1l-1 -1.4z" class="j69"/>
<path d="M140.6 462l3.8 0.5l1.2 -1l-3.8 -0.5z" class="j62"/>
<path d="M171.5 461.9l3.9 0.1l1.1 -1l-3.9 -0.1z" class="j63"/>
<path d="M185 460l1.5 1.3l1 -0.9l-1.5 -1.4z" class="j66"/>
<path d="M176.5 461l1.5 -0.6l1 -0.9l-1.4 0.5z" class="j66"/>
<path d="M183.3 456.9l0.7 1.6l1 -0.9l-0.7 -1.6z" class="j73"/>
<path d="M165.4 466.1l3.9 0.5l1.1 -3.6l-3.8 -0.6z" class="j56"/>
<path d="M150.5 461.1l3.8 0.4l1.1 2.7l-3.8 -0.4z" class="j60"/>
<path d="M181.9 456.4l0.7 -2l1 -0.8l-0.7 1.9z" class="j79"/>
<path d="M155.4 464.2l3.8 0.3l0.1 1.2l-3.8 -0.3z" class="j55"/>
<path d="M145.6 461.5l3.8 0.5l1.1 -0.9l-3.8 -0.5z" class="j64"/>
<path d="M171.9 478.9l1.5 -0.6l0.1 -0.4l-1.5 0.6z" class="j23"/>
<path d="M172 478.5l1.5 -0.6l0.1 -1l-1.4 0.6z" class="j25"/>
<path d="M180 458.6l0.8 -1.2l1.1 -1l-0.8 1.2z" class="j73"/>
<path d="M186.5 461.3l3.9 2.3l1 -1l-3.9 -2.2z" class="j63"/>
<path d="M182.6 454.4l0.7 2.5l1 -0.9l-0.7 -2.4z" class="j79"/>
<path d="M159.3 465.7l3.9 0.3l0.4 4.5l-3.8 -0.3z" class="j48"/>
<path d="M168.6 474.5l3.9 0l0.4 -5.2l-3.9 0z" class="j39"/>
<path d="M171.6 478l1.5 -0.6l0.3 0.9l-1.5 0.6z" class="j25"/>
<path d="M178 460.4l1 -0.9l1 -0.9l-1 0.9z" class="j69"/>
<path d="M172.2 477.5l1.4 -0.6l0.3 -3l-1.4 0.6z" class="j31"/>
<path d="M183 459.5l0.9 1.4l1.1 -0.9l-1 -1.5z" class="j69"/>
<path d="M183.9 460.9l1.5 1.4l1.1 -1l-1.5 -1.3z" class="j66"/>
<path d="M170.4 463l3.9 0l1.1 -1l-3.9 -0.1z" class="j63"/>
<path d="M139.4 463l3.8 0.4l1.2 -0.9l-3.8 -0.5z" class="j62"/>
<path d="M182.2 457.8l0.8 1.7l1 -1l-0.7 -1.6z" class="j73"/>
<path d="M175.4 462l1.5 -0.6l1.1 -1l-1.5 0.6z" class="j66"/>
<path d="M173.4 478.3l0.9 -1.1l0.2 -0.4l-1 1.1z" class="j27"/>
<path d="M173.5 477.9l1 -1.1l0.1 -0.9l-1 1z" class="j29"/>
<path d="M167.5 470.6l3.9 -0.4l0.2 7.8l-3.8 0z" class="j35"/>
<path d="M180.8 457.4l0.7 -2.1l1.1 -0.9l-0.7 2z" class="j79"/>
<path d="M190.4 463.6l3.9 1.9l1 -1l-3.9 -1.9z" class="j60"/>
<path d="M144.4 462.5l3.8 0.4l1.2 -0.9l-3.8 -0.5z" class="j64"/>
<path d="M169 469.3l3.9 0l0.3 -2.7l-3.9 0z" class="j51"/>
<path d="M185.4 462.3l3.9 2.3l1.1 -1l-3.9 -2.3z" class="j63"/>
<path d="M173.1 477.4l1 -1l0.2 0.8l-0.9 1.1z" class="j29"/>
<path d="M181.5 455.3l0.7 2.5l1.1 -0.9l-0.7 -2.5z" class="j79"/>
<path d="M179 459.5l0.7 -1.2l1.1 -0.9l-0.8 1.2z" class="j74"/>
<path d="M173.6 476.9l1 -1l0.3 -3l-1 1z" class="j35"/>
<path d="M169.3 466.6l3.9 0l1.1 -3.6l-3.9 0z" class="j59"/>
<path d="M154.3 461.5l3.9 0.3l1 2.7l-3.8 -0.3z" class="j63"/>
<path d="M172.5 474.5l1.4 -0.6l0.5 -5.2l-1.5 0.6z" class="j43"/>
<path d="M149.4 462l3.8 0.4l1.1 -0.9l-3.8 -0.4z" class="j66"/>
<path d="M159.2 464.5l3.9 0.3l0.1 1.2l-3.9 -0.3z" class="j58"/>
<path d="M176.9 461.4l1 -0.9l1.1 -1l-1 0.9z" class="j70"/>
<path d="M174.3 477.2l0.8 -1.4l0.1 -0.4l-0.7 1.4z" class="j32"/>
<path d="M174.5 476.8l0.7 -1.4l0.2 -0.9l-0.8 1.4z" class="j34"/>
<path d="M181.9 460.4l1 1.5l1 -1l-0.9 -1.4z" class="j69"/>
<path d="M182.9 461.9l1.4 1.5l1.1 -1.1l-1.5 -1.4z" class="j66"/>
<path d="M163.2 466l3.9 0.1l0.4 4.5l-3.9 -0.1z" class="j51"/>
<path d="M138.2 463.9l3.8 0.5l1.2 -1l-3.8 -0.4z" class="j63"/>
<path d="M174.3 463l1.5 -0.6l1.1 -1l-1.5 0.6z" class="j66"/>
<path d="M181.2 458.7l0.7 1.7l1.1 -0.9l-0.8 -1.7z" class="j74"/>
<path d="M174.1 476.4l0.7 -1.5l0.3 0.9l-0.8 1.4z" class="j33"/>
<path d="M178.2 479.8l1.5 1.5l0.1 -0.4l-1.4 -1.5z" class="j23"/>
<path d="M174.6 475.9l0.8 -1.4l0.3 -3l-0.8 1.4z" class="j39"/>
<path d="M179.7 458.3l0.8 -2.1l1 -0.9l-0.7 2.1z" class="j79"/>
<path d="M177.3 478.2l0.9 1.6l0.2 -0.4l-1 -1.6z" class="j27"/>
<path d="M194.3 465.5l3.9 1.7l1 -0.9l-3.9 -1.8z" class="j58"/>
<path d="M178.4 479.4l1.4 1.5l0.2 -0.9l-1.5 -1.5z" class="j25"/>
<path d="M189.3 464.6l3.9 1.9l1.1 -1l-3.9 -1.9z" class="j60"/>
<path d="M177.4 477.8l1 1.6l0.1 -0.9l-1 -1.7z" class="j29"/>
<path d="M143.2 463.4l3.8 0.5l1.2 -1l-3.8 -0.4z" class="j65"/>
<path d="M173.9 473.9l1 -1l0.5 -5.2l-1 1z" class="j47"/>
<path d="M184.3 463.4l3.9 2.3l1.1 -1.1l-3.9 -2.3z" class="j63"/>
<path d="M171.4 470.2l1.5 -0.8l0.2 8l-1.5 0.6z" class="j40"/>
<path d="M180.5 456.2l0.7 2.5l1 -0.9l-0.7 -2.5z" class="j79"/>
<path d="M177.9 460.5l0.7 -1.3l1.1 -0.9l-0.7 1.2z" class="j74"/>
<path d="M176.5 476.3l0.8 1.9l0.1 -0.4l-0.7 -1.9z" class="j32"/>
<path d="M172.9 469.3l1.5 -0.6l0.3 -2.7l-1.5 0.6z" class="j54"/>
<path d="M176.7 475.9l0.7 1.9l0.1 -1l-0.7 -1.8z" class="j34"/>
<path d="M178 479l1.4 1.5l0.3 0.8l-1.5 -1.5z" class="j25"/>
<path d="M177 477.3l1 1.7l0.2 0.8l-0.9 -1.6z" class="j29"/>
<path d="M178.5 478.5l1.5 1.5l0.3 -3l-1.5 -1.5z" class="j31"/>
<path d="M179.7 481.3l3.9 2.5l0.1 -0.4l-3.9 -2.5z" class="j20"/>
<path d="M177.5 476.8l1 1.7l0.3 -3l-1 -1.6z" class="j35"/>
<path d="M173.2 466.6l1.5 -0.6l1.1 -3.6l-1.5 0.6z" class="j62"/>
<path d="M179.8 480.9l3.9 2.5l0.2 -1l-3.9 -2.4z" class="j22"/>
<path d="M175.1 475.8l0.7 -2.4l0.2 -0.3l-0.8 2.3z" class="j39"/>
<path d="M148.2 462.9l3.8 0.5l1.2 -1l-3.8 -0.4z" class="j67"/>
<path d="M175.2 475.4l0.8 -2.3l0.1 -0.9l-0.7 2.3z" class="j40"/>
<path d="M176.3 475.4l0.7 1.9l0.3 0.9l-0.8 -1.9z" class="j33"/>
<path d="M175.8 462.4l1 -0.9l1.1 -1l-1 0.9z" class="j70"/>
<path d="M176.8 475l0.7 1.8l0.3 -2.9l-0.7 -1.9z" class="j39"/>
<path d="M175.8 473.4l0.7 2.9l0.2 -0.4l-0.7 -2.8z" class="j39"/>
<path d="M180.8 461.4l1 1.5l1.1 -1l-1 -1.5z" class="j70"/>
<path d="M181.8 462.9l1.4 1.5l1.1 -1l-1.4 -1.5z" class="j66"/>
<path d="M176 473.1l0.7 2.8l0.1 -0.9l-0.7 -2.8z" class="j40"/>
<path d="M179.4 480.5l3.9 2.5l0.3 0.8l-3.9 -2.5z" class="j21"/>
<path d="M158.2 461.8l3.9 0.2l1 2.8l-3.9 -0.3z" class="j66"/>
<path d="M137.1 464.7l3.8 0.5l1.1 -0.8l-3.8 -0.5z" class="j63"/>
<path d="M174.8 474.9l0.8 -2.4l0.2 0.9l-0.7 2.4z" class="j40"/>
<path d="M180 480l3.9 2.4l0.3 -3l-3.9 -2.4z" class="j27"/>
<path d="M153.2 462.4l3.8 0.3l1.2 -0.9l-3.9 -0.3z" class="j69"/>
<path d="M180.1 459.7l0.7 1.7l1.1 -1l-0.7 -1.7z" class="j74"/>
<path d="M175.4 474.5l0.7 -2.3l0.3 -3l-0.7 2.3z" class="j46"/>
<path d="M174.9 472.9l0.8 -1.4l0.4 -5.2l-0.7 1.4z" class="j51"/>
<path d="M172.9 469.4l0.9 -1.2l0.3 8.2l-1 1z" class="j44"/>
<path d="M163.1 464.8l3.8 0.1l0.2 1.2l-3.9 -0.1z" class="j61"/>
<path d="M193.2 466.5l4 1.8l1 -1.1l-3.9 -1.7z" class="j58"/>
<path d="M174.4 468.7l1 -1l0.3 -2.7l-1 1z" class="j58"/>
<path d="M198.2 467.2l4 1.8l1 -1l-4 -1.7z" class="j56"/>
<path d="M175.6 472.5l0.7 2.9l0.2 0.9l-0.7 -2.9z" class="j40"/>
<path d="M188.2 465.7l4 1.9l1 -1.1l-3.9 -1.9z" class="j60"/>
<path d="M178.6 459.2l0.8 -2.2l1.1 -0.8l-0.8 2.1z" class="j80"/>
<path d="M176.1 472.2l0.7 2.8l0.3 -3l-0.7 -2.8z" class="j46"/>
<path d="M142 464.4l3.9 0.4l1.1 -0.9l-3.8 -0.5z" class="j65"/>
<path d="M174.7 466l1 -1l1.1 -3.5l-1 0.9z" class="j66"/>
<path d="M183.2 464.4l4 2.3l1 -1l-3.9 -2.3z" class="j63"/>
<path d="M177.7 476.5l1.5 1.5l0.2 2.5l-1.4 -1.5z" class="j31"/>
<path d="M176.8 474.8l0.9 1.7l0.3 2.5l-1 -1.7z" class="j35"/>
<path d="M176.8 461.5l0.7 -1.4l1.1 -0.9l-0.7 1.3z" class="j74"/>
<path d="M179.4 457l0.7 2.7l1.1 -1l-0.7 -2.5z" class="j80"/>
<path d="M183.6 483.8l3.9 1.9l0.2 -0.4l-4 -1.9z" class="j17"/>
<path d="M178.8 475.5l1.5 1.5l0.4 -5.3l-1.4 -1.5z" class="j43"/>
<path d="M167.1 466.1l3.9 -0.4l0.4 4.5l-3.9 0.4z" class="j56"/>
<path d="M183.7 483.4l4 1.9l0.1 -0.9l-3.9 -2z" class="j19"/>
<path d="M177.8 473.9l1 1.6l0.5 -5.3l-1 -1.6z" class="j47"/>
<path d="M176 472.9l0.8 1.9l0.2 2.5l-0.7 -1.9z" class="j40"/>
<path d="M147 463.9l3.9 0.4l1.1 -0.9l-3.8 -0.5z" class="j67"/>
<path d="M177.1 472l0.7 1.9l0.5 -5.3l-0.7 -1.8z" class="j51"/>
<path d="M183.3 483l4 1.9l0.2 0.8l-3.9 -1.9z" class="j18"/>
<path d="M179.2 478l3.9 2.5l0.2 2.5l-3.9 -2.5z" class="j27"/>
<path d="M173.8 468.2l0.8 -1.5l0.2 8.2l-0.7 1.5z" class="j49"/>
<path d="M183.9 482.4l3.9 2l0.3 -3l-3.9 -2z" class="j24"/>
<path d="M179.7 462.4l1 1.5l1.1 -1l-1 -1.5z" class="j70"/>
<path d="M180.7 463.9l1.5 1.5l1 -1l-1.4 -1.5z" class="j66"/>
<path d="M175.4 467.7l0.7 -1.4l0.3 -2.7l-0.7 1.4z" class="j63"/>
<path d="M180.3 477l3.9 2.4l0.5 -5.2l-4 -2.5z" class="j39"/>
<path d="M175.7 471.5l0.7 -2.3l0.5 -5.2l-0.8 2.3z" class="j58"/>
<path d="M175.7 465l0.7 -1.4l1.1 -3.5l-0.7 1.4z" class="j70"/>
<path d="M152 463.4l3.9 0.3l1.1 -1l-3.8 -0.3z" class="j69"/>
<path d="M179 460.6l0.7 1.8l1.1 -1l-0.7 -1.7z" class="j74"/>
<path d="M135.9 465.3l3.8 0.5l1.2 -0.6l-3.8 -0.5z" class="j64"/>
<path d="M175.3 469.9l0.7 3l0.3 2.5l-0.7 -2.9z" class="j47"/>
<path d="M197.2 468.3l4 1.7l1 -1l-4 -1.8z" class="j56"/>
<path d="M176.4 469.2l0.7 2.8l0.5 -5.2l-0.7 -2.8z" class="j58"/>
<path d="M192.2 467.6l3.9 1.7l1.1 -1l-4 -1.8z" class="j58"/>
<path d="M202.2 469l4 1.7l1 -1l-4 -1.7z" class="j55"/>
<path d="M187.2 466.7l3.9 1.9l1.1 -1l-4 -1.9z" class="j60"/>
<path d="M177.5 460.1l0.8 -2.2l1.1 -0.9l-0.8 2.2z" class="j80"/>
<path d="M179.3 470.2l1.4 1.5l0.3 -2.7l-1.4 -1.5z" class="j54"/>
<path d="M174.6 466.7l0.7 3.2l0.3 2.6l-0.8 2.4z" class="j51"/>
<path d="M178.3 468.6l1 1.6l0.3 -2.7l-1 -1.6z" class="j58"/>
<path d="M182.2 465.4l3.9 2.4l1.1 -1.1l-4 -2.3z" class="j63"/>
<path d="M140.9 465.2l3.8 0.4l1.2 -0.8l-3.9 -0.4z" class="j65"/>
<path d="M187.5 485.7l4 1.9l0.1 -0.4l-3.9 -1.9z" class="j15"/>
<path d="M162.1 462l3.9 0.1l0.9 2.8l-3.8 -0.1z" class="j69"/>
<path d="M187.7 485.3l3.9 1.9l0.2 -1l-4 -1.8z" class="j17"/>
<path d="M178.3 457.9l0.7 2.7l1.1 -0.9l-0.7 -2.7z" class="j80"/>
<path d="M157 462.7l3.9 0.2l1.2 -0.9l-3.9 -0.2z" class="j72"/>
<path d="M179.6 467.5l1.4 1.5l1.2 -3.6l-1.5 -1.5z" class="j62"/>
<path d="M178.6 465.9l1 1.6l1.1 -3.6l-1 -1.5z" class="j66"/>
<path d="M177.6 466.8l0.7 1.8l0.3 -2.7l-0.7 -1.8z" class="j63"/>
<path d="M183.1 480.5l4 1.9l0.2 2.5l-4 -1.9z" class="j24"/>
<path d="M177.9 464.1l0.7 1.8l1.1 -3.5l-0.7 -1.8z" class="j70"/>
<path d="M145.9 464.8l3.8 0.4l1.2 -0.9l-3.9 -0.4z" class="j67"/>
<path d="M187.3 484.9l3.9 1.9l0.3 0.8l-4 -1.9z" class="j16"/>
<path d="M166.9 464.9l4 -0.5l0.1 1.3l-3.9 0.4z" class="j66"/>
<path d="M171 465.7l1.5 -0.9l0.4 4.6l-1.5 0.8z" class="j60"/>
<path d="M180.7 471.7l4 2.5l0.3 -2.8l-4 -2.4z" class="j51"/>
<path d="M176.1 466.3l0.8 -2.3l0.3 -2.7l-0.8 2.3z" class="j69"/>
<path d="M184.2 479.4l3.9 2l0.5 -5.3l-3.9 -1.9z" class="j36"/>
<path d="M187.8 484.4l4 1.8l0.3 -3l-4 -1.8z" class="j22"/>
<path d="M177.4 471.9l1.4 1.6l0.4 4.5l-1.5 -1.5z" class="j43"/>
<path d="M176.4 463.6l0.8 -2.3l1.1 -3.4l-0.8 2.2z" class="j77"/>
<path d="M176.4 470.2l1 1.7l0.3 4.6l-0.9 -1.7z" class="j47"/>
<path d="M181 469l4 2.4l1.1 -3.6l-3.9 -2.4z" class="j59"/>
<path d="M135.3 465.4l3.8 0.4l0.6 0l-3.8 -0.5z" class="j66"/>
<path d="M176.9 464l0.7 2.8l0.3 -2.7l-0.7 -2.8z" class="j69"/>
<path d="M134.4 469l3.8 0.7l0.3 -0.7l-3.8 -0.6z" class="j58"/>
<path d="M150.9 464.3l3.8 0.4l1.2 -1l-3.9 -0.3z" class="j69"/>
<path d="M177.2 461.3l0.7 2.8l1.1 -3.5l-0.7 -2.7z" class="j77"/>
<path d="M201.2 470l4 1.8l1 -1.1l-4 -1.7z" class="j55"/>
<path d="M196.1 469.3l4 1.8l1.1 -1.1l-4 -1.7z" class="j56"/>
<path d="M175.7 468.3l0.7 1.9l0.4 4.6l-0.8 -1.9z" class="j52"/>
<path d="M191.1 468.6l4 1.8l1 -1.1l-3.9 -1.7z" class="j58"/>
<path d="M206.2 470.7l4 1.7l1 -1l-4 -1.7z" class="j53"/>
<path d="M134.1 469.6l3.8 0.6l0.3 -0.5l-3.8 -0.7z" class="j57"/>
<path d="M186.1 467.8l3.9 1.9l1.1 -1.1l-3.9 -1.9z" class="j60"/>
<path d="M178.8 473.5l4 2.5l0.3 4.5l-3.9 -2.5z" class="j39"/>
<path d="M134.7 468.4l3.8 0.6l0.3 -3.2l-3.9 -0.4z" class="j63"/>
<path d="M191.5 487.6l3.9 1.8l0.2 -0.4l-4 -1.8z" class="j13"/>
<path d="M191.6 487.2l4 1.8l0.1 -1l-3.9 -1.8z" class="j15"/>
<path d="M133.5 470.5l3.8 0.7l0.6 -1l-3.8 -0.6z" class="j55"/>
<path d="M134.9 465.4l3.9 0.4l0.3 0l-3.8 -0.4z" class="j67"/>
<path d="M139.7 465.8l3.8 0.4l1.2 -0.6l-3.8 -0.4z" class="j67"/>
<path d="M155.9 463.7l3.9 0.2l1.1 -1l-3.9 -0.2z" class="j72"/>
<path d="M172.5 464.8l1 -1.2l0.3 4.6l-0.9 1.2z" class="j65"/>
<path d="M187.1 482.4l3.9 1.9l0.2 2.5l-3.9 -1.9z" class="j22"/>
<path d="M184.7 474.2l3.9 1.9l0.3 -2.7l-3.9 -2z" class="j48"/>
<path d="M174.9 465.3l0.8 3l0.3 4.6l-0.7 -3z" class="j59"/>
<path d="M191.2 486.8l4 1.8l0.2 0.8l-3.9 -1.8z" class="j14"/>
<path d="M188.1 481.4l4 1.8l0.5 -5.3l-4 -1.8z" class="j34"/>
<path d="M144.7 465.6l3.8 0.4l1.2 -0.8l-3.8 -0.4z" class="j68"/>
<path d="M191.8 486.2l3.9 1.8l0.4 -3l-4 -1.8z" class="j20"/>
<path d="M185 471.4l3.9 2l1.1 -3.7l-3.9 -1.9z" class="j56"/>
<path d="M160.9 462.9l3.9 0.1l1.2 -0.9l-3.9 -0.1z" class="j75"/>
<path d="M170.9 464.4l1.4 -0.8l0.2 1.2l-1.5 0.9z" class="j70"/>
<path d="M166 462.1l3.9 -0.5l1 2.8l-4 0.5z" class="j74"/>
<path d="M132.3 472l3.9 0.8l1.1 -1.6l-3.8 -0.7z" class="j54"/>
<path d="M149.7 465.2l3.9 0.4l1.1 -0.9l-3.8 -0.4z" class="j70"/>
<path d="M177.2 470.7l1.5 1.6l0.1 1.2l-1.4 -1.6z" class="j53"/>
<path d="M205.2 471.8l4 1.7l1 -1.1l-4 -1.7z" class="j53"/>
<path d="M200.1 471.1l4 1.7l1.1 -1l-4 -1.8z" class="j55"/>
<path d="M195.1 470.4l4 1.8l1 -1.1l-4 -1.8z" class="j56"/>
<path d="M182.8 476l3.9 1.9l0.4 4.5l-4 -1.9z" class="j36"/>
<path d="M210.2 472.4l3.9 1.7l1 -1l-3.9 -1.7z" class="j52"/>
<path d="M190 469.7l4 1.8l1.1 -1.1l-4 -1.8z" class="j58"/>
<path d="M176.3 469l0.9 1.7l0.2 1.2l-1 -1.7z" class="j57"/>
<path d="M173.5 463.6l0.7 -1.6l0.4 4.7l-0.8 1.5z" class="j70"/>
<path d="M174.2 462l0.7 3.3l0.4 4.6l-0.7 -3.2z" class="j68"/>
<path d="M195.4 489.4l4 1.8l0.2 -0.4l-4 -1.8z" class="j11"/>
<path d="M139.1 465.8l3.8 0.4l0.6 0l-3.8 -0.4z" class="j68"/>
<path d="M138.2 469.7l3.9 0.6l0.3 -0.7l-3.9 -0.6z" class="j59"/>
<path d="M195.6 489l4 1.8l0.1 -1l-4 -1.8z" class="j13"/>
<path d="M175.5 467l0.8 2l0.1 1.2l-0.7 -1.9z" class="j62"/>
<path d="M154.7 464.7l3.9 0.3l1.2 -1.1l-3.9 -0.2z" class="j72"/>
<path d="M137.9 470.2l3.9 0.7l0.3 -0.6l-3.9 -0.6z" class="j58"/>
<path d="M191 484.3l4 1.8l0.2 2.5l-4 -1.8z" class="j20"/>
<path d="M178.7 472.3l3.9 2.5l0.2 1.2l-4 -2.5z" class="j49"/>
<path d="M188.6 476.1l4 1.8l0.3 -2.7l-4 -1.8z" class="j46"/>
<path d="M195.2 488.6l4 1.8l0.2 0.8l-4 -1.8z" class="j13"/>
<path d="M138.5 469l3.9 0.6l0.2 -3.5l-3.8 -0.3z" class="j65"/>
<path d="M192.1 483.2l4 1.8l0.5 -5.3l-4 -1.8z" class="j33"/>
<path d="M188.9 473.4l4 1.8l1.1 -3.7l-4 -1.8z" class="j54"/>
<path d="M137.3 471.2l3.9 0.7l0.6 -1l-3.9 -0.7z" class="j57"/>
<path d="M195.7 488l4 1.8l0.4 -3l-4 -1.8z" class="j19"/>
<path d="M172.3 463.6l1 -1.2l0.2 1.2l-1 1.2z" class="j75"/>
<path d="M138.8 465.8l3.8 0.3l0.3 0.1l-3.8 -0.4z" class="j69"/>
<path d="M143.5 466.2l3.9 0.3l1.1 -0.5l-3.8 -0.4z" class="j69"/>
<path d="M174.8 464l0.7 3l0.2 1.3l-0.8 -3z" class="j69"/>
<path d="M131.1 473.3l3.9 0.8l1.2 -1.3l-3.9 -0.8z" class="j53"/>
<path d="M159.8 463.9l3.9 0.1l1.1 -1l-3.9 -0.1z" class="j76"/>
<path d="M186.7 477.9l4 1.9l0.3 4.5l-3.9 -1.9z" class="j34"/>
<path d="M209.2 473.5l3.9 1.6l1 -1l-3.9 -1.7z" class="j52"/>
<path d="M204.1 472.8l4.1 1.8l1 -1.1l-4 -1.7z" class="j53"/>
<path d="M199.1 472.2l4 1.7l1 -1.1l-4 -1.7z" class="j55"/>
<path d="M194 471.5l4 1.8l1.1 -1.1l-4 -1.8z" class="j56"/>
<path d="M148.5 466l3.9 0.4l1.2 -0.8l-3.9 -0.4z" class="j70"/>
<path d="M169.9 461.6l1.5 -0.9l0.9 2.9l-1.4 0.8z" class="j78"/>
<path d="M199.4 491.2l4 1.7l0.2 -0.4l-4 -1.7z" class="j10"/>
<path d="M136.2 472.8l3.8 0.7l1.2 -1.6l-3.9 -0.7z" class="j56"/>
<path d="M182.6 474.8l4 1.9l0.1 1.2l-3.9 -1.9z" class="j46"/>
<path d="M199.6 490.8l4 1.7l0.1 -0.9l-4 -1.8z" class="j12"/>
<path d="M176.3 467.9l1.5 1.6l0.9 2.8l-1.5 -1.6z" class="j61"/>
<path d="M175.3 466.1l1 1.8l0.9 2.8l-0.9 -1.7z" class="j65"/>
<path d="M195 486.1l4 1.8l0.2 2.5l-4 -1.8z" class="j19"/>
<path d="M153.6 465.6l3.9 0.3l1.1 -0.9l-3.9 -0.3z" class="j73"/>
<path d="M192.6 477.9l4 1.8l0.3 -2.7l-4 -1.8z" class="j44"/>
<path d="M173.3 462.4l0.8 -1.7l0.1 1.3l-0.7 1.6z" class="j80"/>
<path d="M164.8 463l4 -0.5l1.1 -0.9l-3.9 0.5z" class="j80"/>
<path d="M174.1 460.7l0.7 3.3l0.1 1.3l-0.7 -3.3z" class="j78"/>
<path d="M199.2 490.4l4 1.7l0.2 0.8l-4 -1.7z" class="j11"/>
<path d="M196.1 485l4 1.8l0.5 -5.3l-4 -1.8z" class="j31"/>
<path d="M192.9 475.2l4 1.8l1.1 -3.7l-4 -1.8z" class="j52"/>
<path d="M174.6 464l0.7 2.1l1 2.9l-0.8 -2z" class="j70"/>
<path d="M142.1 470.3l3.8 0.6l0.3 -0.7l-3.8 -0.6z" class="j62"/>
<path d="M199.7 489.8l4 1.8l0.4 -3l-4 -1.8z" class="j17"/>
<path d="M142.9 466.2l3.9 0.3l0.6 0l-3.9 -0.3z" class="j71"/>
<path d="M177.8 469.5l3.9 2.5l0.9 2.8l-3.9 -2.5z" class="j57"/>
<path d="M141.8 470.9l3.8 0.6l0.3 -0.6l-3.8 -0.6z" class="j60"/>
<path d="M129.9 474.5l3.8 0.8l1.3 -1.2l-3.9 -0.8z" class="j52"/>
<path d="M158.6 465l3.9 0l1.2 -1l-3.9 -0.1z" class="j76"/>
<path d="M190.7 479.8l4 1.8l0.3 4.5l-4 -1.8z" class="j33"/>
<path d="M142.4 469.6l3.8 0.6l0.3 -3.8l-3.9 -0.3z" class="j67"/>
<path d="M171.4 460.7l1 -1.3l0.9 3l-1 1.2z" class="j83"/>
<path d="M141.2 471.9l3.8 0.7l0.6 -1.1l-3.8 -0.6z" class="j59"/>
<path d="M208.2 474.6l3.9 1.6l1 -1.1l-3.9 -1.6z" class="j52"/>
<path d="M198 473.3l4 1.7l1.1 -1.1l-4 -1.7z" class="j55"/>
<path d="M203.1 473.9l4 1.7l1.1 -1l-4.1 -1.8z" class="j53"/>
<path d="M173.9 460.9l0.7 3.1l0.9 3l-0.7 -3z" class="j77"/>
<path d="M135 474.1l3.8 0.7l1.2 -1.3l-3.8 -0.7z" class="j55"/>
<path d="M142.6 466.1l3.9 0.3l0.3 0.1l-3.9 -0.3z" class="j72"/>
<path d="M147.4 466.5l3.8 0.3l1.2 -0.4l-3.9 -0.4z" class="j72"/>
<path d="M186.6 476.7l4 1.9l0.1 1.2l-4 -1.9z" class="j44"/>
<path d="M203.4 492.9l4 1.7l0.1 -0.4l-3.9 -1.7z" class="j8"/>
<path d="M203.6 492.5l3.9 1.7l0.1 -0.9l-3.9 -1.7z" class="j10"/>
<path d="M199 487.9l4 1.8l0.2 2.4l-4 -1.7z" class="j17"/>
<path d="M196.6 479.7l4 1.8l0.3 -2.8l-4 -1.7z" class="j42"/>
<path d="M163.7 464l3.9 -0.6l1.2 -0.9l-4 0.5z" class="j80"/>
<path d="M152.4 466.4l3.9 0.2l1.2 -0.7l-3.9 -0.3z" class="j73"/>
<path d="M203.2 492.1l3.9 1.7l0.3 0.8l-4 -1.7z" class="j10"/>
<path d="M200.1 486.8l4 1.8l0.5 -5.4l-4 -1.7z" class="j29"/>
<path d="M181.7 472l4 2l0.9 2.7l-4 -1.9z" class="j54"/>
<path d="M140 473.5l3.9 0.7l1.1 -1.6l-3.8 -0.7z" class="j57"/>
<path d="M196.9 477l4 1.7l1.1 -3.7l-4 -1.7z" class="j50"/>
<path d="M203.7 491.6l3.9 1.7l0.4 -3.1l-3.9 -1.6z" class="j16"/>
<path d="M168.8 462.5l1.4 -1l1.2 -0.8l-1.5 0.9z" class="j84"/>
<path d="M124.3 493.9l3.9 0.8l0.2 -1.3l-3.8 -0.9z" class="j10"/>
<path d="M128.7 475.6l3.8 0.8l1.2 -1.1l-3.8 -0.8z" class="j52"/>
<path d="M172.4 459.4l0.7 -1.7l1 3l-0.8 1.7z" class="j88"/>
<path d="M124.2 493.7l3.8 0.9l0.2 0.1l-3.9 -0.8z" class="j8"/>
<path d="M173.1 457.7l0.8 3.2l0.9 3.1l-0.7 -3.3z" class="j86"/>
<path d="M175.2 468.7l1.5 1.7l1.1 -0.9l-1.5 -1.6z" class="j67"/>
<path d="M157.5 465.9l3.9 0.1l1.1 -1l-3.9 0z" class="j76"/>
<path d="M174.2 466.8l1 1.9l1.1 -0.8l-1 -1.8z" class="j72"/>
<path d="M194.7 481.6l4 1.8l0.3 4.5l-4 -1.8z" class="j31"/>
<path d="M207.1 475.6l3.9 1.7l1.1 -1.1l-3.9 -1.6z" class="j52"/>
<path d="M145.9 470.9l3.9 0.5l0.3 -0.8l-3.9 -0.4z" class="j64"/>
<path d="M202 475l4.1 1.8l1 -1.2l-4 -1.7z" class="j53"/>
<path d="M124 493.1l3.8 0.8l0.2 0.7l-3.8 -0.9z" class="j10"/>
<path d="M133.7 475.3l3.9 0.7l1.2 -1.2l-3.8 -0.7z" class="j54"/>
<path d="M124.6 492.5l3.8 0.9l0.3 -3.1l-3.9 -0.8z" class="j16"/>
<path d="M145.6 471.5l3.9 0.6l0.3 -0.7l-3.9 -0.5z" class="j62"/>
<path d="M146.8 466.5l3.8 0.2l0.6 0.1l-3.8 -0.3z" class="j74"/>
<path d="M190.6 478.6l4 1.8l0.1 1.2l-4 -1.8z" class="j42"/>
<path d="M173.5 464.6l0.7 2.2l1.1 -0.7l-0.7 -2.1z" class="j77"/>
<path d="M176.7 470.4l3.9 2.5l1.1 -0.9l-3.9 -2.5z" class="j63"/>
<path d="M145 472.6l3.9 0.6l0.6 -1.1l-3.9 -0.6z" class="j61"/>
<path d="M203 489.7l4 1.7l0.1 2.4l-3.9 -1.7z" class="j16"/>
<path d="M146.2 470.2l3.9 0.4l0.2 -4l-3.8 -0.2z" class="j70"/>
<path d="M200.6 481.5l4 1.7l0.4 -2.7l-4.1 -1.8z" class="j41"/>
<path d="M138.8 474.8l3.9 0.8l1.2 -1.4l-3.9 -0.7z" class="j56"/>
<path d="M185.7 474l4 1.9l0.9 2.7l-4 -1.9z" class="j52"/>
<path d="M162.5 465l4 -0.6l1.1 -1l-3.9 0.6z" class="j80"/>
<path d="M204.1 488.6l3.9 1.6l0.5 -5.3l-3.9 -1.7z" class="j28"/>
<path d="M170.2 461.5l1 -1.4l1.2 -0.7l-1 1.3z" class="j89"/>
<path d="M200.9 478.7l4.1 1.8l1.1 -3.7l-4.1 -1.8z" class="j49"/>
<path d="M151.2 466.8l3.9 0.1l1.2 -0.3l-3.9 -0.2z" class="j75"/>
<path d="M146.5 466.4l3.8 0.2l0.3 0.1l-3.8 -0.2z" class="j75"/>
<path d="M127.5 476.8l3.8 0.8l1.2 -1.2l-3.8 -0.8z" class="j52"/>
<path d="M172.7 461.3l0.8 3.3l1.1 -0.6l-0.7 -3.1z" class="j84"/>
<path d="M167.6 463.4l1.5 -1l1.1 -0.9l-1.4 1z" class="j85"/>
<path d="M123.6 490.6l3.8 0.9l0.4 2.4l-3.8 -0.8z" class="j16"/>
<path d="M143.9 474.2l3.9 0.7l1.1 -1.7l-3.9 -0.6z" class="j59"/>
<path d="M174.1 469.6l1.4 1.7l1.2 -0.9l-1.5 -1.7z" class="j68"/>
<path d="M198.7 483.4l4.1 1.8l0.2 4.5l-4 -1.8z" class="j29"/>
<path d="M156.3 466.6l3.9 0.2l1.2 -0.8l-3.9 -0.1z" class="j76"/>
<path d="M206.1 476.8l3.9 1.7l1 -1.2l-3.9 -1.7z" class="j52"/>
<path d="M124.8 489.5l3.9 0.8l0.3 -5.3l-3.8 -0.9z" class="j28"/>
<path d="M173.1 467.6l1 2l1.1 -0.9l-1 -1.9z" class="j72"/>
<path d="M128.2 494.7l3.8 0.9l0.3 -1.4l-3.9 -0.8z" class="j11"/>
<path d="M132.5 476.4l3.9 0.8l1.2 -1.2l-3.9 -0.7z" class="j54"/>
<path d="M128 494.6l3.8 0.8l0.2 0.2l-3.8 -0.9z" class="j10"/>
<path d="M180.6 472.9l4 2l1.1 -0.9l-4 -2z" class="j60"/>
<path d="M194.6 480.4l4 1.8l0.1 1.2l-4 -1.8z" class="j41"/>
<path d="M175.5 471.3l4 2.7l1.1 -1.1l-3.9 -2.5z" class="j64"/>
<path d="M172.3 465.3l0.8 2.3l1.1 -0.8l-0.7 -2.2z" class="j78"/>
<path d="M171.2 460.1l0.8 -1.8l1.1 -0.6l-0.7 1.7z" class="j95"/>
<path d="M127.8 493.9l3.9 0.9l0.1 0.6l-3.8 -0.8z" class="j12"/>
<path d="M137.6 476l3.9 0.8l1.2 -1.2l-3.9 -0.8z" class="j55"/>
<path d="M128.4 493.4l3.9 0.8l0.2 -3l-3.8 -0.9z" class="j17"/>
<path d="M204.6 483.2l3.9 1.7l0.4 -2.7l-3.9 -1.7z" class="j39"/>
<path d="M149.8 471.4l3.9 0.3l0.3 -0.8l-3.9 -0.3z" class="j66"/>
<path d="M172 458.3l0.7 3l1.2 -0.4l-0.8 -3.2z" class="j93"/>
<path d="M189.7 475.9l4 1.8l0.9 2.7l-4 -1.8z" class="j50"/>
<path d="M149.5 472.1l3.9 0.4l0.3 -0.8l-3.9 -0.3z" class="j65"/>
<path d="M161.4 466l3.9 -0.7l1.2 -0.9l-4 0.6z" class="j81"/>
<path d="M205 480.5l3.9 1.7l1.1 -3.7l-3.9 -1.7z" class="j47"/>
<path d="M150.6 466.7l4 0.1l0.5 0.1l-3.9 -0.1z" class="j77"/>
<path d="M169.1 462.4l1 -1.5l1.1 -0.8l-1 1.4z" class="j90"/>
<path d="M126.2 478l3.9 0.8l1.2 -1.2l-3.8 -0.8z" class="j52"/>
<path d="M148.9 473.2l3.9 0.6l0.6 -1.3l-3.9 -0.4z" class="j63"/>
<path d="M125.2 484.1l3.8 0.9l0.1 -1.5l-3.8 -0.8z" class="j38"/>
<path d="M142.7 475.6l3.9 0.7l1.2 -1.4l-3.9 -0.7z" class="j58"/>
<path d="M166.5 464.4l1.5 -1.1l1.1 -0.9l-1.5 1z" class="j86"/>
<path d="M150.1 470.6l3.9 0.3l0.3 -4.4l-4 0.1z" class="j73"/>
<path d="M171.6 461.8l0.7 3.5l1.2 -0.7l-0.8 -3.3z" class="j86"/>
<path d="M202.8 485.2l3.9 1.6l0.3 4.6l-4 -1.7z" class="j28"/>
<path d="M172.9 470.4l1.5 1.9l1.1 -1l-1.4 -1.7z" class="j68"/>
<path d="M125.3 482.7l3.8 0.8l1 -4.7l-3.9 -0.8z" class="j46"/>
<path d="M131.3 477.6l3.9 0.8l1.2 -1.2l-3.9 -0.8z" class="j53"/>
<path d="M184.6 474.9l4 1.9l1.1 -0.9l-4 -1.9z" class="j58"/>
<path d="M171.9 468.4l1 2l1.2 -0.8l-1 -2z" class="j73"/>
<path d="M179.5 474l4 2l1.1 -1.1l-4 -2z" class="j61"/>
<path d="M127.4 491.5l3.9 0.8l0.4 2.5l-3.9 -0.9z" class="j17"/>
<path d="M155.1 466.9l4 0.1l1.1 -0.2l-3.9 -0.2z" class="j78"/>
<path d="M150.3 466.6l4 -0.1l0.3 0.3l-4 -0.1z" class="j79"/>
<path d="M198.6 482.2l4.1 1.7l0.1 1.3l-4.1 -1.8z" class="j39"/>
<path d="M147.8 474.9l3.9 0.7l1.1 -1.8l-3.9 -0.6z" class="j61"/>
<path d="M128.7 490.3l3.8 0.9l0.4 -5.4l-3.9 -0.8z" class="j29"/>
<path d="M132 495.6l3.9 0.8l0.2 -1.4l-3.8 -0.8z" class="j13"/>
<path d="M174.4 472.3l4 2.7l1.1 -1l-4 -2.7z" class="j64"/>
<path d="M136.4 477.2l3.9 0.8l1.2 -1.2l-3.9 -0.8z" class="j55"/>
<path d="M123 486.1l3.8 0.9l0.6 4.5l-3.8 -0.9z" class="j28"/>
<path d="M131.8 495.4l3.9 0.9l0.2 0.1l-3.9 -0.8z" class="j11"/>
<path d="M171.2 465.9l0.7 2.5l1.2 -0.8l-0.8 -2.3z" class="j79"/>
<path d="M193.7 477.7l4.1 1.8l0.8 2.7l-4 -1.8z" class="j49"/>
<path d="M170.1 460.9l0.8 -1.9l1.1 -0.7l-0.8 1.8z" class="j96"/>
<path d="M160.2 466.8l4 -0.6l1.1 -0.9l-3.9 0.7z" class="j81"/>
<path d="M170.9 459l0.7 2.8l1.1 -0.5l-0.7 -3z" class="j95"/>
<path d="M131.7 494.8l3.8 0.8l0.2 0.7l-3.9 -0.9z" class="j13"/>
<path d="M132.3 494.2l3.8 0.8l0.3 -3l-3.9 -0.8z" class="j19"/>
<path d="M141.5 476.8l3.9 0.8l1.2 -1.3l-3.9 -0.7z" class="j57"/>
<path d="M168 463.3l1 -1.6l1.1 -0.8l-1 1.5z" class="j91"/>
<path d="M165.3 465.3l1.5 -1.2l1.2 -0.8l-1.5 1.1z" class="j86"/>
<path d="M153.7 471.7l3.9 0.2l0.3 -1l-3.9 0z" class="j70"/>
<path d="M153.4 472.5l4 0.3l0.2 -0.9l-3.9 -0.2z" class="j68"/>
<path d="M130.1 478.8l3.9 0.8l1.2 -1.2l-3.9 -0.8z" class="j53"/>
<path d="M188.6 476.8l4.1 1.9l1 -1l-4 -1.8z" class="j56"/>
<path d="M171.8 471.3l1.5 1.9l1.1 -0.9l-1.5 -1.9z" class="j69"/>
<path d="M129 485l3.9 0.8l0.1 -1.5l-3.9 -0.8z" class="j39"/>
<path d="M183.5 476l4 1.9l1.1 -1.1l-4 -1.9z" class="j58"/>
<path d="M170.5 462.2l0.7 3.7l1.1 -0.6l-0.7 -3.5z" class="j88"/>
<path d="M146.6 476.3l3.9 0.8l1.2 -1.5l-3.9 -0.7z" class="j59"/>
<path d="M152.8 473.8l4 0.4l0.6 -1.4l-4 -0.3z" class="j66"/>
<path d="M154.6 466.8l3.9 -0.1l0.6 0.3l-4 -0.1z" class="j81"/>
<path d="M178.4 475l4 2.1l1.1 -1.1l-4 -2z" class="j61"/>
<path d="M202.7 483.9l3.9 1.7l0.1 1.2l-3.9 -1.6z" class="j38"/>
<path d="M170.8 469.1l1 2.2l1.1 -0.9l-1 -2z" class="j74"/>
<path d="M129.1 483.5l3.9 0.8l1 -4.7l-3.9 -0.8z" class="j47"/>
<path d="M135.2 478.4l3.9 0.8l1.2 -1.2l-3.9 -0.8z" class="j55"/>
<path d="M173.3 473.2l4 2.8l1.1 -1l-4 -2.7z" class="j64"/>
<path d="M154 470.9l3.9 0l0.3 -4.6l-3.9 0.2z" class="j77"/>
<path d="M131.3 492.3l3.9 0.8l0.3 2.5l-3.8 -0.8z" class="j19"/>
<path d="M197.8 479.5l4.1 1.7l0.8 2.7l-4.1 -1.7z" class="j47"/>
<path d="M170.1 466.5l0.7 2.6l1.1 -0.7l-0.7 -2.5z" class="j80"/>
<path d="M169 461.7l0.7 -2.1l1.2 -0.6l-0.8 1.9z" class="j97"/>
<path d="M132.5 491.2l3.9 0.8l0.3 -5.4l-3.8 -0.8z" class="j31"/>
<path d="M151.7 475.6l3.9 0.6l1.2 -2l-4 -0.4z" class="j63"/>
<path d="M135.9 496.4l3.9 0.8l0.2 -1.4l-3.9 -0.8z" class="j14"/>
<path d="M140.3 478l3.9 0.8l1.2 -1.2l-3.9 -0.8z" class="j57"/>
<path d="M126.8 487l3.9 0.8l0.6 4.5l-3.9 -0.8z" class="j29"/>
<path d="M135.7 496.3l3.9 0.8l0.2 0.1l-3.9 -0.8z" class="j13"/>
<path d="M154.3 466.5l3.9 -0.2l0.3 0.4l-3.9 0.1z" class="j83"/>
<path d="M159.1 467l3.9 -0.3l1.2 -0.5l-4 0.6z" class="j83"/>
<path d="M169.7 459.6l0.8 2.6l1.1 -0.4l-0.7 -2.8z" class="j97"/>
<path d="M166.8 464.1l1 -1.7l1.2 -0.7l-1 1.6z" class="j92"/>
<path d="M122.6 483.9l3.8 0.9l0.4 2.2l-3.8 -0.9z" class="j39"/>
<path d="M164.2 466.2l1.5 -1.4l1.1 -0.7l-1.5 1.2z" class="j87"/>
<path d="M192.7 478.7l4 1.7l1.1 -0.9l-4.1 -1.8z" class="j55"/>
<path d="M135.5 495.6l3.9 0.8l0.2 0.7l-3.9 -0.8z" class="j15"/>
<path d="M136.1 495l3.9 0.8l0.3 -3l-3.9 -0.8z" class="j20"/>
<path d="M145.4 477.6l3.9 0.7l1.2 -1.2l-3.9 -0.8z" class="j59"/>
<path d="M187.5 477.9l4.1 1.8l1.1 -1l-4.1 -1.9z" class="j57"/>
<path d="M182.4 477.1l4 1.9l1.1 -1.1l-4 -1.9z" class="j58"/>
<path d="M170.7 472l1.5 2.1l1.1 -0.9l-1.5 -1.9z" class="j70"/>
<path d="M177.3 476l4 2.1l1.1 -1l-4 -2.1z" class="j61"/>
<path d="M169.3 462.5l0.8 4l1.1 -0.6l-0.7 -3.7z" class="j89"/>
<path d="M169.7 469.7l1 2.3l1.1 -0.7l-1 -2.2z" class="j75"/>
<path d="M134 479.6l3.8 0.8l1.3 -1.2l-3.9 -0.8z" class="j55"/>
<path d="M132.9 485.8l3.8 0.8l0.2 -1.5l-3.9 -0.8z" class="j41"/>
<path d="M172.2 474.1l4 2.8l1.1 -0.9l-4 -2.8z" class="j65"/>
<path d="M150.5 477.1l3.9 0.5l1.2 -1.4l-3.9 -0.6z" class="j61"/>
<path d="M201.9 481.2l3.9 1.7l0.8 2.7l-3.9 -1.7z" class="j46"/>
<path d="M157.6 471.9l4 -0.2l0.3 -1.2l-4 0.4z" class="j74"/>
<path d="M157.4 472.8l3.9 0l0.3 -1.1l-4 0.2z" class="j71"/>
<path d="M156.8 474.2l3.9 0.2l0.6 -1.6l-3.9 0z" class="j69"/>
<path d="M133 484.3l3.9 0.8l0.9 -4.7l-3.8 -0.8z" class="j49"/>
<path d="M139.1 479.2l3.9 0.7l1.2 -1.1l-3.9 -0.8z" class="j56"/>
<path d="M167.8 462.4l0.8 -2.3l1.1 -0.5l-0.7 2.1z" class="j98"/>
<path d="M168.9 466.9l0.8 2.8l1.1 -0.6l-0.7 -2.6z" class="j82"/>
<path d="M158.5 466.7l4 -0.5l0.5 0.5l-3.9 0.3z" class="j85"/>
<path d="M135.2 493.1l3.9 0.8l0.3 2.5l-3.9 -0.8z" class="j20"/>
<path d="M165.7 464.8l1 -1.9l1.1 -0.5l-1 1.7z" class="j93"/>
<path d="M136.4 492l3.9 0.8l0.3 -5.4l-3.9 -0.8z" class="j32"/>
<path d="M168.6 460.1l0.7 2.4l1.2 -0.3l-0.8 -2.6z" class="j98"/>
<path d="M139.8 497.2l3.9 0.8l0.2 -1.4l-3.9 -0.8z" class="j16"/>
<path d="M130.7 487.8l3.9 0.8l0.6 4.5l-3.9 -0.8z" class="j31"/>
<path d="M144.2 478.8l3.9 0.7l1.2 -1.2l-3.9 -0.7z" class="j58"/>
<path d="M196.7 480.4l4.1 1.8l1.1 -1l-4.1 -1.7z" class="j53"/>
<path d="M139.6 497.1l3.9 0.7l0.2 0.2l-3.9 -0.8z" class="j15"/>
<path d="M191.6 479.7l4 1.8l1.1 -1.1l-4 -1.7z" class="j55"/>
<path d="M157.9 470.9l4 -0.4l0.3 -4.8l-4 0.6z" class="j82"/>
<path d="M186.4 479l4.1 1.7l1.1 -1l-4.1 -1.8z" class="j57"/>
<path d="M163 466.7l1.5 -1.3l1.2 -0.6l-1.5 1.4z" class="j88"/>
<path d="M155.6 476.2l4 -0.1l1.1 -1.7l-3.9 -0.2z" class="j66"/>
<path d="M181.3 478.1l4 1.8l1.1 -0.9l-4 -1.9z" class="j59"/>
<path d="M126.4 484.8l3.9 0.8l0.4 2.2l-3.9 -0.8z" class="j41"/>
<path d="M169.5 472.6l1.5 2.1l1.2 -0.6l-1.5 -2.1z" class="j71"/>
<path d="M176.2 476.9l4 1.9l1.1 -0.7l-4 -2.1z" class="j61"/>
<path d="M121.2 482.4l3.9 0.8l1.3 1.6l-3.8 -0.9z" class="j47"/>
<path d="M139.4 496.4l3.9 0.8l0.2 0.6l-3.9 -0.7z" class="j16"/>
<path d="M140 495.8l3.9 0.8l0.3 -3.1l-3.9 -0.7z" class="j22"/>
<path d="M149.3 478.3l3.9 0.5l1.2 -1.2l-3.9 -0.5z" class="j61"/>
<path d="M158.2 466.3l4 -0.6l0.3 0.5l-4 0.5z" class="j88"/>
<path d="M168.5 469.9l1 2.7l1.2 -0.6l-1 -2.3z" class="j77"/>
<path d="M168.2 462.5l0.7 4.4l1.2 -0.4l-0.8 -4z" class="j92"/>
<path d="M171 474.7l4 2.4l1.2 -0.2l-4 -2.8z" class="j66"/>
<path d="M137.8 480.4l4 0.8l1.2 -1.3l-3.9 -0.7z" class="j56"/>
<path d="M161.3 472.8l1.5 -0.3l0.3 -1.2l-1.5 0.4z" class="j75"/>
<path d="M161.6 471.7l1.5 -0.4l0.3 -1.3l-1.5 0.5z" class="j78"/>
<path d="M136.7 486.6l3.9 0.8l0.2 -1.5l-3.9 -0.8z" class="j42"/>
<path d="M160.7 474.4l1.5 -1l0.6 -0.9l-1.5 0.3z" class="j72"/>
<path d="M166.7 462.9l0.7 -2.4l1.2 -0.4l-0.8 2.3z" class="j100"/>
<path d="M154.4 477.6l4 -0.1l1.2 -1.4l-4 0.1z" class="j65"/>
<path d="M136.9 485.1l3.9 0.8l1 -4.7l-4 -0.8z" class="j50"/>
<path d="M143 479.9l3.9 0.7l1.2 -1.1l-3.9 -0.7z" class="j58"/>
<path d="M167.8 466.8l0.7 3.1l1.2 -0.2l-0.8 -2.8z" class="j84"/>
<path d="M200.8 482.2l4 1.7l1 -1l-3.9 -1.7z" class="j52"/>
<path d="M162.5 466.2l1.5 -0.6l0.5 -0.2l-1.5 1.3z" class="j90"/>
<path d="M195.6 481.5l4.1 1.7l1.1 -1l-4.1 -1.8z" class="j53"/>
<path d="M190.5 480.7l4.1 1.8l1 -1l-4 -1.8z" class="j55"/>
<path d="M164.5 465.4l1 -2.2l1.2 -0.3l-1 1.9z" class="j94"/>
<path d="M139.1 493.9l3.9 0.8l0.3 2.5l-3.9 -0.8z" class="j22"/>
<path d="M185.3 479.9l4.1 1.8l1.1 -1l-4.1 -1.7z" class="j57"/>
<path d="M169 472.9l1.5 1.3l0.5 0.5l-1.5 -2.1z" class="j73"/>
<path d="M180.2 478.8l4 1.9l1.1 -0.8l-4 -1.8z" class="j59"/>
<path d="M167.4 460.5l0.8 2l1.1 0l-0.7 -2.4z" class="j101"/>
<path d="M140.3 492.8l3.9 0.7l0.4 -5.4l-4 -0.7z" class="j34"/>
<path d="M161.9 470.5l1.5 -0.5l0.3 -4.9l-1.5 0.6z" class="j86"/>
<path d="M134.6 488.6l3.9 0.8l0.6 4.5l-3.9 -0.8z" class="j32"/>
<path d="M159.6 476.1l1.5 -1l1.1 -1.7l-1.5 1z" class="j70"/>
<path d="M143.7 498l3.9 0.7l0.3 -1.4l-4 -0.7z" class="j18"/>
<path d="M148.1 479.5l4 0.5l1.1 -1.2l-3.9 -0.5z" class="j60"/>
<path d="M168 469.9l1 3l0.5 -0.3l-1 -2.7z" class="j78"/>
<path d="M143.5 497.8l3.9 0.7l0.2 0.2l-3.9 -0.7z" class="j17"/>
<path d="M175 477.1l4.1 2.1l1.1 -0.4l-4 -1.9z" class="j63"/>
<path d="M163.1 471.3l1 -1.8l0.3 -0.5l-1 1z" class="j82"/>
<path d="M130.3 485.6l3.9 0.8l0.4 2.2l-3.9 -0.8z" class="j42"/>
<path d="M162.8 472.5l1 -2.4l0.3 -0.6l-1 1.8z" class="j80"/>
<path d="M170.5 474.2l4 2.6l0.5 0.3l-4 -2.4z" class="j69"/>
<path d="M125.1 483.2l3.9 0.9l1.3 1.5l-3.9 -0.8z" class="j49"/>
<path d="M162.2 465.7l1.5 -0.6l0.3 0.5l-1.5 0.6z" class="j92"/>
<path d="M143.3 497.2l4 0.7l0.1 0.6l-3.9 -0.7z" class="j18"/>
<path d="M162.2 473.4l1 -2l0.6 -1.3l-1 2.4z" class="j78"/>
<path d="M143.9 496.6l4 0.7l0.2 -3.1l-3.9 -0.7z" class="j24"/>
<path d="M120 483.5l3.9 0.8l1.2 -1.1l-3.9 -0.8z" class="j52"/>
<path d="M168.7 472.4l1.5 1.3l0.3 0.5l-1.5 -1.3z" class="j75"/>
<path d="M167 462l0.8 4.8l1.1 0.1l-0.7 -4.4z" class="j95"/>
<path d="M153.2 478.8l4 0l1.2 -1.3l-4 0.1z" class="j64"/>
<path d="M167.7 469.9l1 2.5l0.3 0.5l-1 -3z" class="j80"/>
<path d="M141.8 481.2l3.9 0.7l1.2 -1.3l-3.9 -0.7z" class="j58"/>
<path d="M140.6 487.4l4 0.7l0.1 -1.5l-3.9 -0.7z" class="j44"/>
<path d="M164 465.6l1 -2.5l0.5 0.1l-1 2.2z" class="j96"/>
<path d="M167.2 466.3l0.8 3.6l0.5 0l-0.7 -3.1z" class="j87"/>
<path d="M199.7 483.2l4 1.8l1.1 -1.1l-4 -1.7z" class="j52"/>
<path d="M194.6 482.5l4.1 1.8l1 -1.1l-4.1 -1.7z" class="j54"/>
<path d="M163.4 470l1 -1l0.3 -5.9l-1 2z" class="j91"/>
<path d="M189.4 481.7l4.1 1.8l1.1 -1l-4.1 -1.8z" class="j55"/>
<path d="M165.5 463.2l0.8 -2.8l1.1 0.1l-0.7 2.4z" class="j102"/>
<path d="M158.4 477.5l1.5 -0.9l1.2 -1.5l-1.5 1z" class="j69"/>
<path d="M184.2 480.7l4.1 1.9l1.1 -0.9l-4.1 -1.8z" class="j58"/>
<path d="M170.2 473.7l4 2.7l0.3 0.4l-4 -2.6z" class="j71"/>
<path d="M161.1 475.1l1 -1.7l1.1 -2l-1 2z" class="j76"/>
<path d="M140.8 485.9l3.9 0.7l1 -4.7l-3.9 -0.7z" class="j52"/>
<path d="M168.4 471.6l1.5 1.5l0.3 0.6l-1.5 -1.3z" class="j78"/>
<path d="M146.9 480.6l4 0.6l1.2 -1.2l-4 -0.5z" class="j60"/>
<path d="M167.4 469.9l1 1.7l0.3 0.8l-1 -2.5z" class="j82"/>
<path d="M179.1 479.2l4 2l1.1 -0.5l-4 -1.9z" class="j61"/>
<path d="M174.5 476.8l4 2.2l0.6 0.2l-4.1 -2.1z" class="j66"/>
<path d="M143 494.7l3.9 0.7l0.4 2.5l-4 -0.7z" class="j24"/>
<path d="M164.1 469.5l0.7 -3.4l0.3 -0.7l-0.7 3.6z" class="j90"/>
<path d="M163.7 465.1l1 -2l0.3 0l-1 2.5z" class="j98"/>
<path d="M166.3 460.4l0.7 1.6l1.2 0.5l-0.8 -2z" class="j104"/>
<path d="M166.9 466l0.8 3.9l0.3 0l-0.8 -3.6z" class="j89"/>
<path d="M144.2 493.5l3.9 0.7l0.4 -5.4l-3.9 -0.7z" class="j36"/>
<path d="M138.5 489.4l3.9 0.7l0.6 4.6l-3.9 -0.8z" class="j34"/>
<path d="M163.8 470.1l0.7 -3l0.3 -1l-0.7 3.4z" class="j89"/>
<path d="M169.9 473.1l4 2.9l0.3 0.4l-4 -2.7z" class="j74"/>
<path d="M118.7 484.6l3.9 0.9l1.3 -1.2l-3.9 -0.8z" class="j52"/>
<path d="M147.6 498.7l4 0.3l0.2 -1.5l-3.9 -0.2z" class="j21"/>
<path d="M134.2 486.4l3.9 0.8l0.4 2.2l-3.9 -0.8z" class="j44"/>
<path d="M163.2 471.4l0.8 -2.6l0.5 -1.7l-0.7 3z" class="j87"/>
<path d="M147.4 498.5l4 0.3l0.2 0.2l-4 -0.3z" class="j19"/>
<path d="M152.1 480l3.9 0l1.2 -1.2l-4 0z" class="j64"/>
<path d="M129 484.1l3.9 0.8l1.3 1.5l-3.9 -0.8z" class="j50"/>
<path d="M166.6 465.8l0.8 4.1l0.3 0l-0.8 -3.9z" class="j90"/>
<path d="M166.5 461.2l0.7 5.1l0.6 0.5l-0.8 -4.8z" class="j99"/>
<path d="M174.2 476.4l4 2.4l0.3 0.2l-4 -2.2z" class="j68"/>
<path d="M123.9 484.3l3.8 0.8l1.3 -1l-3.9 -0.9z" class="j53"/>
<path d="M159.9 476.6l1 -1.4l1.2 -1.8l-1 1.7z" class="j74"/>
<path d="M198.7 484.3l3.9 1.7l1.1 -1l-4 -1.8z" class="j52"/>
<path d="M157.2 478.8l1.5 -0.8l1.2 -1.4l-1.5 0.9z" class="j68"/>
<path d="M193.5 483.5l4.1 1.8l1.1 -1l-4.1 -1.8z" class="j54"/>
<path d="M147.3 497.9l3.9 0.3l0.2 0.6l-4 -0.3z" class="j21"/>
<path d="M147.9 497.3l3.9 0.2l0.3 -3.1l-4 -0.2z" class="j27"/>
<path d="M165 463.1l0.7 -3.2l0.6 0.5l-0.8 2.8z" class="j105"/>
<path d="M188.3 482.6l4.1 1.8l1.1 -0.9l-4.1 -1.8z" class="j56"/>
<path d="M164.4 469l0.7 -3.6l0.3 -5.8l-0.7 3.5z" class="j99"/>
<path d="M162.1 473.4l0.7 -2.2l1.2 -2.4l-0.8 2.6z" class="j83"/>
<path d="M145.7 481.9l4 0.6l1.2 -1.3l-4 -0.6z" class="j60"/>
<path d="M183.1 481.2l4.1 1.9l1.1 -0.5l-4.1 -1.9z" class="j59"/>
<path d="M178.5 479l4.1 2.1l0.5 0.1l-4 -2z" class="j63"/>
<path d="M144.6 488.1l3.9 0.7l0.2 -1.6l-4 -0.6z" class="j46"/>
<path d="M168.1 467.2l1.5 1.5l0.3 4.4l-1.5 -1.5z" class="j86"/>
<path d="M173.9 476l4.1 2.5l0.2 0.3l-4 -2.4z" class="j70"/>
<path d="M167.1 464.6l1 2.6l0.3 4.4l-1 -1.7z" class="j91"/>
<path d="M144.7 486.6l4 0.6l1 -4.7l-4 -0.6z" class="j54"/>
<path d="M166.2 460.4l0.7 5.6l0.3 0.3l-0.7 -5.1z" class="j102"/>
<path d="M165.7 459.9l0.8 1.3l0.5 0.8l-0.7 -1.6z" class="j108"/>
<path d="M117.4 485.8l3.9 0.8l1.3 -1.1l-3.9 -0.9z" class="j52"/>
<path d="M164.7 463.1l0.7 -3.5l0.3 0.3l-0.7 3.2z" class="j107"/>
<path d="M169.6 468.7l4.1 3.2l0.2 4.1l-4 -2.9z" class="j82"/>
<path d="M150.9 481.2l3.9 0.1l1.2 -1.3l-3.9 0z" class="j63"/>
<path d="M151.6 499l1.4 -0.4l0.3 -1.5l-1.5 0.4z" class="j24"/>
<path d="M146.9 495.4l4 0.3l0.3 2.5l-3.9 -0.3z" class="j27"/>
<path d="M178.2 478.8l4.1 2.2l0.3 0.1l-4.1 -2.1z" class="j65"/>
<path d="M158.7 478l1 -1.3l1.2 -1.5l-1 1.4z" class="j73"/>
<path d="M151.4 498.8l1.5 -0.4l0.1 0.2l-1.4 0.4z" class="j22"/>
<path d="M160.9 475.2l0.7 -2l1.2 -2l-0.7 2.2z" class="j80"/>
<path d="M142.4 490.1l4 0.7l0.5 4.6l-3.9 -0.7z" class="j36"/>
<path d="M122.6 485.5l3.9 0.8l1.2 -1.2l-3.8 -0.8z" class="j53"/>
<path d="M156 480l1.5 -0.6l1.2 -1.4l-1.5 0.8z" class="j67"/>
<path d="M148.1 494.2l4 0.2l0.4 -5.4l-4 -0.2z" class="j39"/>
<path d="M166.3 460.7l0.8 3.9l0.3 5.3l-0.8 -4.1z" class="j99"/>
<path d="M197.6 485.3l4 1.7l1 -1l-3.9 -1.7z" class="j52"/>
<path d="M138.1 487.2l4 0.7l0.3 2.2l-3.9 -0.7z" class="j46"/>
<path d="M192.4 484.4l4.1 1.8l1.1 -0.9l-4.1 -1.8z" class="j55"/>
<path d="M164.5 467.1l0.8 -4.6l0.3 -1.4l-0.8 5z" class="j102"/>
<path d="M165.9 459.3l0.7 6.5l0.3 0.2l-0.7 -5.6z" class="j105"/>
<path d="M164 468.8l0.7 -4.2l0.6 -2.1l-0.8 4.6z" class="j98"/>
<path d="M132.9 484.9l4 0.7l1.2 1.6l-3.9 -0.8z" class="j52"/>
<path d="M151.2 498.2l1.5 -0.4l0.2 0.6l-1.5 0.4z" class="j24"/>
<path d="M164.8 466.1l0.8 -5l0.3 -1.8l-0.8 6.1z" class="j105"/>
<path d="M151.8 497.5l1.5 -0.4l0.3 -3.1l-1.5 0.4z" class="j30"/>
<path d="M167.8 468.3l1.5 1.5l0.3 -1.1l-1.5 -1.5z" class="j92"/>
<path d="M182.6 481.1l4.1 2l0.5 0l-4.1 -1.9z" class="j61"/>
<path d="M178 478.5l4 2.2l0.3 0.3l-4.1 -2.2z" class="j66"/>
<path d="M187.2 483.1l4.1 1.9l1.1 -0.6l-4.1 -1.8z" class="j57"/>
<path d="M127.7 485.1l4 0.9l1.2 -1.1l-3.9 -0.8z" class="j55"/>
<path d="M165.4 459.6l0.8 0.8l0.3 0.8l-0.8 -1.3z" class="j111"/>
<path d="M167.2 469.3l1.5 2.1l0.6 -1.6l-1.5 -1.5z" class="j90"/>
<path d="M166.8 465.2l1 3.1l0.3 -1.1l-1 -2.6z" class="j97"/>
<path d="M165.1 465.4l0.8 -6.1l0.3 1.1l-0.8 -0.8z" class="j109"/>
<path d="M173.7 471.9l4 2.8l0.3 3.8l-4.1 -2.5z" class="j77"/>
<path d="M162.8 471.2l0.7 -3.6l1.2 -3l-0.7 4.2z" class="j94"/>
<path d="M153 498.6l1 -0.8l0.3 -1.4l-1 0.7z" class="j27"/>
<path d="M152.9 498.4l1 -0.7l0.1 0.1l-1 0.8z" class="j25"/>
<path d="M169.3 469.8l4.1 3l0.3 -0.9l-4.1 -3.2z" class="j88"/>
<path d="M166.2 466.5l1 2.8l0.6 -1l-1 -3.1z" class="j96"/>
<path d="M116.2 486.9l3.8 0.8l1.3 -1.1l-3.9 -0.8z" class="j52"/>
<path d="M168.7 471.4l4.1 2.8l0.6 -1.4l-4.1 -3z" class="j85"/>
<path d="M159.7 476.7l0.8 -1.7l1.1 -1.8l-0.7 2z" class="j78"/>
<path d="M149.7 482.5l4 0.2l1.1 -1.4l-3.9 -0.1z" class="j63"/>
<path d="M182.3 481l4.1 2.1l0.3 0l-4.1 -2z" class="j62"/>
<path d="M148.5 488.8l4 0.2l0.1 -1.6l-3.9 -0.2z" class="j49"/>
<path d="M157.5 479.4l1 -1.2l1.2 -1.5l-1 1.3z" class="j72"/>
<path d="M165.6 461.1l0.7 -0.4l0.3 5.1l-0.7 -6.5z" class="j109"/>
<path d="M152.7 497.8l1 -0.8l0.2 0.7l-1 0.7z" class="j27"/>
<path d="M153.3 497.1l1 -0.7l0.3 -3.2l-1 0.8z" class="j33"/>
<path d="M166.1 471l1.5 2.2l1.1 -1.8l-1.5 -2.1z" class="j88"/>
<path d="M150.9 495.7l1.5 -0.4l0.3 2.5l-1.5 0.4z" class="j30"/>
<path d="M154.8 481.3l1.5 -0.6l1.2 -1.3l-1.5 0.6z" class="j67"/>
<path d="M121.3 486.6l3.9 0.8l1.3 -1.1l-3.9 -0.8z" class="j53"/>
<path d="M161.6 473.2l0.8 -3.2l1.1 -2.4l-0.7 3.6z" class="j89"/>
<path d="M148.7 487.2l3.9 0.2l1.1 -4.7l-4 -0.2z" class="j57"/>
<path d="M166.1 461.6l0.7 3.6l0.3 -0.6l-0.8 -3.9z" class="j107"/>
<path d="M152.1 494.4l1.5 -0.4l0.4 -5.5l-1.5 0.5z" class="j42"/>
<path d="M196.5 486.2l4 1.8l1.1 -1l-4 -1.7z" class="j53"/>
<path d="M182 480.7l4.1 2.2l0.3 0.2l-4.1 -2.1z" class="j64"/>
<path d="M165.1 468.5l1 2.5l1.1 -1.7l-1 -2.8z" class="j94"/>
<path d="M154 497.8l0.8 -1.1l0.3 -1.5l-0.8 1.2z" class="j31"/>
<path d="M167.6 473.2l4 3.1l1.2 -2.1l-4.1 -2.8z" class="j82"/>
<path d="M186.7 483.1l4.1 2l0.5 -0.1l-4.1 -1.9z" class="j59"/>
<path d="M153.9 497.7l0.7 -1.1l0.2 0.1l-0.8 1.1z" class="j29"/>
<path d="M177.7 474.7l4.1 2.5l0.2 3.5l-4 -2.2z" class="j73"/>
<path d="M165.5 463.3l0.7 3.2l0.6 -1.3l-0.7 -3.6z" class="j104"/>
<path d="M173.4 472.8l4 2.6l0.3 -0.7l-4 -2.8z" class="j83"/>
<path d="M191.3 485l4.1 1.9l1.1 -0.7l-4.1 -1.8z" class="j56"/>
<path d="M165.3 462.5l0.8 -0.9l0.2 -0.9l-0.7 0.4z" class="j111"/>
<path d="M164.7 464.6l0.8 -1.3l0.6 -1.7l-0.8 0.9z" class="j107"/>
<path d="M126.5 486.3l3.9 0.8l1.3 -1.1l-4 -0.9z" class="j55"/>
<path d="M146.4 490.8l4 0.3l0.5 4.6l-4 -0.3z" class="j39"/>
<path d="M172.8 474.2l4.1 2.5l0.5 -1.3l-4 -2.6z" class="j81"/>
<path d="M142.1 487.9l4 0.7l0.3 2.2l-4 -0.7z" class="j48"/>
<path d="M153.7 497l0.8 -1.1l0.1 0.7l-0.7 1.1z" class="j31"/>
<path d="M136.9 485.6l3.9 0.8l1.3 1.5l-4 -0.7z" class="j54"/>
<path d="M154.3 496.4l0.8 -1.2l0.2 -3.2l-0.7 1.2z" class="j37"/>
<path d="M158.5 478.2l0.8 -1.5l1.2 -1.7l-0.8 1.7z" class="j77"/>
<path d="M163.5 467.6l0.8 -1.8l1.2 -2.5l-0.8 1.3z" class="j103"/>
<path d="M131.7 486l3.9 0.8l1.3 -1.2l-4 -0.7z" class="j56"/>
<path d="M152.4 495.3l1 -0.8l0.3 2.5l-1 0.8z" class="j33"/>
<path d="M164.3 465.8l0.8 2.7l1.1 -2l-0.7 -3.2z" class="j101"/>
<path d="M157 498.8l1 1.4l0.3 -1.4l-1 -1.4z" class="j27"/>
<path d="M114.9 488l3.9 0.9l1.2 -1.2l-3.8 -0.8z" class="j52"/>
<path d="M156.3 480.7l1 -1l1.2 -1.5l-1 1.2z" class="j71"/>
<path d="M186.4 483.1l4.1 1.9l0.3 0.1l-4.1 -2z" class="j60"/>
<path d="M158 500.2l1.6 1.5l0.3 -1.5l-1.6 -1.4z" class="j24"/>
<path d="M160.5 475l0.7 -2.9l1.2 -2.1l-0.8 3.2z" class="j87"/>
<path d="M164.9 472.5l1.5 2l1.2 -1.3l-1.5 -2.2z" class="j86"/>
<path d="M156.3 497.2l0.7 1.6l0.3 -1.4l-0.7 -1.7z" class="j31"/>
<path d="M153.6 494l1 -0.8l0.4 -5.5l-1 0.8z" class="j45"/>
<path d="M153.7 482.7l1.5 -0.6l1.1 -1.4l-1.5 0.6z" class="j66"/>
<path d="M152.5 489l1.5 -0.5l0.1 -1.5l-1.5 0.4z" class="j52"/>
<path d="M171.6 476.3l4.1 2.3l1.2 -1.9l-4.1 -2.5z" class="j78"/>
<path d="M154.8 496.7l0.7 -1.9l0.3 -1.5l-0.7 1.9z" class="j36"/>
<path d="M163.9 470.3l1 2.2l1.2 -1.5l-1 -2.5z" class="j92"/>
<path d="M154.6 496.6l0.8 -1.9l0.1 0.1l-0.7 1.9z" class="j35"/>
<path d="M177.4 475.4l4.1 2.5l0.3 -0.7l-4.1 -2.5z" class="j79"/>
<path d="M120 487.7l4 0.9l1.2 -1.2l-3.9 -0.8z" class="j53"/>
<path d="M166.4 474.5l4.1 3.2l1.1 -1.4l-4 -3.1z" class="j81"/>
<path d="M181.8 477.2l4.1 2.4l0.2 3.3l-4.1 -2.2z" class="j70"/>
<path d="M186.1 482.9l4.1 2l0.3 0.1l-4.1 -1.9z" class="j62"/>
<path d="M155.5 494.8l0.8 2.4l0.3 -1.5l-0.8 -2.4z" class="j36"/>
<path d="M190.8 485.1l4.1 1.9l0.5 -0.1l-4.1 -1.9z" class="j57"/>
<path d="M162.4 470l0.7 -2.3l1.2 -1.9l-0.8 1.8z" class="j98"/>
<path d="M152.6 487.4l1.5 -0.4l1.1 -4.9l-1.5 0.6z" class="j60"/>
<path d="M176.9 476.7l4 2.4l0.6 -1.2l-4.1 -2.5z" class="j77"/>
<path d="M159.6 501.7l4 2.4l0.3 -1.4l-4 -2.5z" class="j21"/>
<path d="M153.4 494.5l0.7 -1l0.4 2.4l-0.8 1.1z" class="j36"/>
<path d="M195.4 486.9l4 1.8l1.1 -0.7l-4 -1.8z" class="j54"/>
<path d="M154.5 495.9l0.7 -1.8l0.2 0.6l-0.8 1.9z" class="j36"/>
<path d="M125.2 487.4l4 0.9l1.2 -1.2l-3.9 -0.8z" class="j55"/>
<path d="M155.1 495.2l0.7 -1.9l0.3 -3.2l-0.8 1.9z" class="j42"/>
<path d="M163.1 467.7l0.8 2.6l1.2 -1.8l-0.8 -2.7z" class="j98"/>
<path d="M157.3 479.7l0.8 -1.5l1.2 -1.5l-0.8 1.5z" class="j76"/>
<path d="M150.4 491.1l1.5 -0.4l0.5 4.6l-1.5 0.4z" class="j42"/>
<path d="M154.6 493.2l0.7 -1.2l0.4 -5.5l-0.7 1.2z" class="j49"/>
<path d="M156.9 493.8l1 1.5l0.1 4.9l-1 -1.4z" class="j33"/>
<path d="M157.9 495.3l1.5 1.5l0.2 4.9l-1.6 -1.5z" class="j30"/>
<path d="M159.3 476.7l0.7 -2.7l1.2 -1.9l-0.7 2.9z" class="j84"/>
<path d="M155.4 494.7l0.7 -2.6l0.2 5.1l-0.8 -2.4z" class="j38"/>
<path d="M154 488.5l1 -0.8l0.1 -1.6l-1 0.9z" class="j55"/>
<path d="M155.2 482.1l1 -0.9l1.1 -1.5l-1 1z" class="j70"/>
<path d="M130.4 487.1l4 0.8l1.2 -1.1l-3.9 -0.8z" class="j56"/>
<path d="M156.1 492.1l0.8 1.7l0.1 5l-0.7 -1.6z" class="j37"/>
<path d="M190.5 485l4.1 2l0.3 0l-4.1 -1.9z" class="j58"/>
<path d="M163.7 473.9l1.6 1.9l1.1 -1.3l-1.5 -2z" class="j85"/>
<path d="M170.5 477.7l4.1 2.4l1.1 -1.5l-4.1 -2.3z" class="j76"/>
<path d="M175.7 478.6l4.1 2.3l1.1 -1.8l-4 -2.4z" class="j75"/>
<path d="M181.5 477.9l4.1 2.4l0.3 -0.7l-4.1 -2.4z" class="j75"/>
<path d="M162.7 471.8l1 2.1l1.2 -1.4l-1 -2.2z" class="j90"/>
<path d="M146.1 488.6l4 0.3l0.3 2.2l-4 -0.3z" class="j50"/>
<path d="M140.8 486.4l4 0.7l1.3 1.5l-4 -0.7z" class="j55"/>
<path d="M161.2 472.1l0.7 -2.6l1.2 -1.8l-0.7 2.3z" class="j96"/>
<path d="M154.1 487l1 -0.9l1.1 -4.9l-1 0.9z" class="j63"/>
<path d="M185.9 479.6l4.1 2.3l0.2 3l-4.1 -2z" class="j67"/>
<path d="M135.6 486.8l4 0.7l1.2 -1.1l-3.9 -0.8z" class="j58"/>
<path d="M157.3 497.4l1 1.4l0.3 -8.8l-1 -1.6z" class="j42"/>
<path d="M165.3 475.8l4 3.1l1.2 -1.2l-4.1 -3.2z" class="j80"/>
<path d="M158.3 498.8l1.6 1.4l0.2 -8.6l-1.5 -1.6z" class="j38"/>
<path d="M159.4 496.8l4 2.7l0.2 4.6l-4 -2.4z" class="j26"/>
<path d="M155.8 493.3l0.8 2.4l0.2 -9l-0.7 3.4z" class="j47"/>
<path d="M154.1 493.5l0.8 -1.9l0.3 2.5l-0.7 1.8z" class="j42"/>
<path d="M118.8 488.9l3.9 0.8l1.3 -1.1l-4 -0.9z" class="j53"/>
<path d="M180.9 479.1l4.1 2.3l0.6 -1.1l-4.1 -2.4z" class="j74"/>
<path d="M190.2 484.9l4.1 2l0.3 0.1l-4.1 -2z" class="j59"/>
<path d="M163.6 504.1l4.1 2l0.3 -1.4l-4.1 -2z" class="j18"/>
<path d="M156.6 495.7l0.7 1.7l0.3 -9l-0.8 -1.7z" class="j46"/>
<path d="M151.9 490.7l1 -0.7l0.5 4.5l-1 0.8z" class="j45"/>
<path d="M194.9 487l4 1.8l0.5 -0.1l-4 -1.8z" class="j55"/>
<path d="M161.9 469.5l0.8 2.3l1.2 -1.5l-0.8 -2.6z" class="j96"/>
<path d="M155 487.7l0.7 -1.2l0.2 -1.6l-0.8 1.2z" class="j59"/>
<path d="M155.2 494.1l0.7 -2.6l0.2 0.6l-0.7 2.6z" class="j44"/>
<path d="M155.3 492l0.8 -1.9l0.4 -5.6l-0.8 2z" class="j55"/>
<path d="M156.2 481.2l0.7 -1.3l1.2 -1.7l-0.8 1.5z" class="j74"/>
<path d="M124 488.6l3.9 0.8l1.3 -1.1l-4 -0.9z" class="j55"/>
<path d="M158.1 478.2l0.7 -2.4l1.2 -1.8l-0.7 2.7z" class="j82"/>
<path d="M159.9 500.2l4 2.5l0.3 -8.2l-4.1 -2.9z" class="j35"/>
<path d="M156.7 493.1l1 1.5l0.2 0.7l-1 -1.5z" class="j42"/>
<path d="M157.7 494.6l1.5 1.6l0.2 0.6l-1.5 -1.5z" class="j39"/>
<path d="M155.1 486.1l0.8 -1.2l1 -5l-0.7 1.3z" class="j67"/>
<path d="M174.6 480.1l4 2.2l1.2 -1.4l-4.1 -2.3z" class="j73"/>
<path d="M179.8 480.9l4.1 2.2l1.1 -1.7l-4.1 -2.3z" class="j72"/>
<path d="M162.6 475.3l1.5 1.8l1.2 -1.3l-1.6 -1.9z" class="j85"/>
<path d="M129.2 488.3l3.9 0.8l1.3 -1.2l-4 -0.8z" class="j56"/>
<path d="M194.6 487l4 1.8l0.3 0l-4 -1.8z" class="j57"/>
<path d="M185.6 480.3l4.1 2.2l0.3 -0.6l-4.1 -2.3z" class="j72"/>
<path d="M160 474l0.8 -2.8l1.1 -1.7l-0.7 2.6z" class="j93"/>
<path d="M169.3 478.9l4.1 2.5l1.2 -1.3l-4.1 -2.4z" class="j76"/>
<path d="M155.9 491.5l0.8 1.6l0.2 0.7l-0.8 -1.7z" class="j46"/>
<path d="M161.5 473.3l1.1 2l1.1 -1.4l-1 -2.1z" class="j89"/>
<path d="M152.9 490l0.7 -1.1l0.5 4.6l-0.7 1z" class="j48"/>
<path d="M163.4 499.5l4.1 2.3l0.2 4.3l-4.1 -2z" class="j23"/>
<path d="M190 481.9l4.1 2.2l0.2 2.8l-4.1 -2z" class="j65"/>
<path d="M185 481.4l4.1 2.2l0.6 -1.1l-4.1 -2.2z" class="j71"/>
<path d="M164.1 477.1l4.1 3l1.1 -1.2l-4 -3.1z" class="j80"/>
<path d="M134.4 487.9l3.9 0.8l1.3 -1.2l-4 -0.7z" class="j58"/>
<path d="M150.1 488.9l1.5 -0.4l0.3 2.2l-1.5 0.4z" class="j53"/>
<path d="M159.2 496.2l4.1 2.7l0.1 0.6l-4 -2.7z" class="j35"/>
<path d="M154.9 491.6l0.7 -2.6l0.3 2.5l-0.7 2.6z" class="j49"/>
<path d="M194.3 486.9l4 1.8l0.3 0.1l-4 -1.8z" class="j58"/>
<path d="M160.8 471.2l0.7 2.1l1.2 -1.5l-0.8 -2.3z" class="j95"/>
<path d="M155.7 486.5l0.8 -2l0.1 -1.6l-0.7 2z" class="j65"/>
<path d="M167.7 506.1l4 2l0.3 -1.4l-4 -2z" class="j16"/>
<path d="M156.9 479.9l0.7 -2.2l1.2 -1.9l-0.7 2.4z" class="j81"/>
<path d="M163.9 502.7l4.1 2l0.3 -7.8l-4.1 -2.4z" class="j31"/>
<path d="M144.8 487.1l4 0.3l1.3 1.5l-4 -0.3z" class="j58"/>
<path d="M139.6 487.5l4 0.7l1.2 -1.1l-4 -0.7z" class="j60"/>
<path d="M156.4 490.6l1 1.5l0.3 2.5l-1 -1.5z" class="j48"/>
<path d="M122.7 489.7l3.9 0.9l1.3 -1.2l-3.9 -0.8z" class="j55"/>
<path d="M157.4 492.1l1.5 1.5l0.3 2.6l-1.5 -1.6z" class="j44"/>
<path d="M155.9 484.9l0.7 -2l1 -5.2l-0.7 2.2z" class="j73"/>
<path d="M156.1 490.1l0.7 -3.4l0.4 -5.7l-0.7 3.5z" class="j64"/>
<path d="M155.6 489l0.8 1.6l0.3 2.5l-0.8 -1.6z" class="j52"/>
<path d="M178.6 482.3l4.2 2.2l1.1 -1.4l-4.1 -2.2z" class="j70"/>
<path d="M158.8 475.8l0.8 -3l1.2 -1.6l-0.8 2.8z" class="j91"/>
<path d="M183.9 483.1l4.1 2.1l1.1 -1.6l-4.1 -2.2z" class="j69"/>
<path d="M153.6 488.9l0.8 -1.8l0.5 4.5l-0.8 1.9z" class="j53"/>
<path d="M173.4 481.4l4.1 2.2l1.1 -1.3l-4 -2.2z" class="j73"/>
<path d="M189.7 482.5l4.1 2.2l0.3 -0.6l-4.1 -2.2z" class="j69"/>
<path d="M161.4 476.6l1.5 1.7l1.2 -1.2l-1.5 -1.8z" class="j84"/>
<path d="M151.6 488.5l1 -0.7l0.3 2.2l-1 0.7z" class="j56"/>
<path d="M127.9 489.4l3.9 0.8l1.3 -1.1l-3.9 -0.8z" class="j56"/>
<path d="M160.3 474.8l1.1 1.8l1.2 -1.3l-1.1 -2z" class="j88"/>
<path d="M168.2 480.1l4 2.5l1.2 -1.2l-4.1 -2.5z" class="j75"/>
<path d="M158.9 493.6l4.1 2.7l0.3 2.6l-4.1 -2.7z" class="j41"/>
<path d="M158.6 490l1.5 1.6l0.4 -5.5l-1.5 -1.6z" class="j59"/>
<path d="M194.1 484.1l4 2.1l0.2 2.5l-4 -1.8z" class="j63"/>
<path d="M167.5 501.8l4.1 2.2l0.1 4.1l-4 -2z" class="j21"/>
<path d="M157.6 488.4l1 1.6l0.4 -5.5l-1 -1.7z" class="j63"/>
<path d="M189.1 483.6l4.2 2.1l0.5 -1l-4.1 -2.2z" class="j68"/>
<path d="M163.3 498.9l4.1 2.3l0.1 0.6l-4.1 -2.3z" class="j31"/>
<path d="M159.6 472.8l0.7 2l1.2 -1.5l-0.7 -2.1z" class="j93"/>
<path d="M162.9 478.3l4.1 3l1.2 -1.2l-4.1 -3z" class="j80"/>
<path d="M156.8 486.7l0.8 1.7l0.4 -5.6l-0.8 -1.8z" class="j67"/>
<path d="M133.1 489.1l4 0.7l1.2 -1.1l-3.9 -0.8z" class="j58"/>
<path d="M171.7 508.1l4.1 1.9l0.3 -1.4l-4.1 -1.9z" class="j14"/>
<path d="M168 504.7l4 2l0.4 -7.5l-4.1 -2.3z" class="j29"/>
<path d="M160.1 491.6l4.1 2.9l0.4 -5.5l-4.1 -2.9z" class="j55"/>
<path d="M156.5 484.5l0.7 -3.5l0.2 -1.5l-0.8 3.4z" class="j74"/>
<path d="M152.6 487.8l0.7 -1.1l0.3 2.2l-0.7 1.1z" class="j60"/>
<path d="M138.3 488.7l4 0.7l1.3 -1.2l-4 -0.7z" class="j60"/>
<path d="M157.6 477.7l0.8 -3.3l1.2 -1.6l-0.8 3z" class="j90"/>
<path d="M182.8 484.5l4.1 2.1l1.1 -1.4l-4.1 -2.1z" class="j68"/>
<path d="M148.8 487.4l1.5 -0.3l1.3 1.4l-1.5 0.4z" class="j61"/>
<path d="M188 485.2l4.2 2.2l1.1 -1.7l-4.2 -2.1z" class="j67"/>
<path d="M177.5 483.6l4.1 2.2l1.2 -1.3l-4.2 -2.2z" class="j70"/>
<path d="M193.8 484.7l4.1 2.1l0.2 -0.6l-4 -2.1z" class="j67"/>
<path d="M172.2 482.6l4.1 2.3l1.2 -1.3l-4.1 -2.2z" class="j72"/>
<path d="M160.2 478l1.5 1.7l1.2 -1.4l-1.5 -1.7z" class="j83"/>
<path d="M159 484.5l1.5 1.6l0.2 -1.5l-1.5 -1.7z" class="j69"/>
<path d="M154.4 487.1l0.7 -2.7l0.5 4.6l-0.7 2.6z" class="j61"/>
<path d="M156.6 482.9l0.8 -3.4l1 -5.1l-0.8 3.3z" class="j82"/>
<path d="M158 482.8l1 1.7l0.2 -1.6l-1.1 -1.6z" class="j73"/>
<path d="M159.2 476.3l1 1.7l1.2 -1.4l-1.1 -1.8z" class="j87"/>
<path d="M163 496.3l4.1 2.3l0.3 2.6l-4.1 -2.3z" class="j37"/>
<path d="M126.6 490.6l4 0.8l1.2 -1.2l-3.9 -0.8z" class="j56"/>
<path d="M167 481.3l4.1 2.4l1.1 -1.1l-4 -2.5z" class="j75"/>
<path d="M193.3 485.7l4 2.1l0.6 -1l-4.1 -2.1z" class="j66"/>
<path d="M167.4 501.2l4.1 2.2l0.1 0.6l-4.1 -2.2z" class="j29"/>
<path d="M157.2 481l0.8 1.8l0.1 -1.5l-0.7 -1.8z" class="j77"/>
<path d="M143.6 488.2l4 0.4l1.2 -1.2l-4 -0.3z" class="j62"/>
<path d="M171.6 504l4.1 2.2l0.1 3.8l-4.1 -1.9z" class="j19"/>
<path d="M158.4 474.4l0.8 1.9l1.1 -1.5l-0.7 -2z" class="j92"/>
<path d="M159.2 482.9l1.5 1.7l1 -4.9l-1.5 -1.7z" class="j77"/>
<path d="M155.9 486l1 1.5l0.5 4.6l-1 -1.5z" class="j60"/>
<path d="M158.1 481.3l1.1 1.6l1 -4.9l-1 -1.7z" class="j81"/>
<path d="M156.9 487.5l1.5 1.5l0.5 4.6l-1.5 -1.5z" class="j56"/>
<path d="M161.7 479.7l4.1 2.9l1.2 -1.3l-4.1 -3z" class="j79"/>
<path d="M160.5 486.1l4.1 2.9l0.2 -1.6l-4.1 -2.8z" class="j65"/>
<path d="M164.2 494.5l4.1 2.4l0.4 -5.5l-4.1 -2.4z" class="j51"/>
<path d="M131.8 490.2l4 0.8l1.3 -1.2l-4 -0.7z" class="j58"/>
<path d="M155.1 484.4l0.8 1.6l0.5 4.6l-0.8 -1.6z" class="j64"/>
<path d="M153.3 486.7l0.8 -1.8l0.3 2.2l-0.8 1.8z" class="j65"/>
<path d="M150.3 487.1l1 -0.7l1.3 1.4l-1 0.7z" class="j64"/>
<path d="M157.4 479.5l0.7 1.8l1.1 -5l-0.8 -1.9z" class="j85"/>
<path d="M175.8 510l4.2 1.9l0.3 -1.4l-4.2 -1.9z" class="j13"/>
<path d="M172 506.7l4.1 1.9l0.4 -7.2l-4.1 -2.2z" class="j27"/>
<path d="M160.7 484.6l4.1 2.8l1 -4.8l-4.1 -2.9z" class="j73"/>
<path d="M186.9 486.6l4.1 2.2l1.2 -1.4l-4.2 -2.2z" class="j65"/>
<path d="M192.2 487.4l4 2l1.1 -1.6l-4 -2.1z" class="j64"/>
<path d="M158.4 489l4.1 2.7l0.5 4.6l-4.1 -2.7z" class="j53"/>
<path d="M137.1 489.8l4 0.8l1.2 -1.2l-4 -0.7z" class="j60"/>
<path d="M181.6 485.8l4.1 2.1l1.2 -1.3l-4.1 -2.1z" class="j67"/>
<path d="M176.3 484.9l4.2 2.1l1.1 -1.2l-4.1 -2.2z" class="j69"/>
<path d="M167.1 498.6l4.1 2.2l0.3 2.6l-4.1 -2.2z" class="j34"/>
<path d="M171.1 483.7l4.1 2.3l1.1 -1.1l-4.1 -2.3z" class="j72"/>
<path d="M171.5 503.4l4.1 2.1l0.1 0.7l-4.1 -2.2z" class="j26"/>
<path d="M165.8 482.6l4.1 2.5l1.2 -1.4l-4.1 -2.4z" class="j75"/>
<path d="M151.3 486.4l0.8 -1l1.2 1.3l-0.7 1.1z" class="j67"/>
<path d="M164.6 489l4.1 2.4l0.2 -1.5l-4.1 -2.5z" class="j61"/>
<path d="M175.7 506.2l4.2 2.1l0.1 3.6l-4.2 -1.9z" class="j17"/>
<path d="M142.3 489.4l4.1 0.4l1.2 -1.2l-4 -0.4z" class="j62"/>
<path d="M168.3 496.9l4.1 2.3l0.4 -5.5l-4.1 -2.3z" class="j48"/>
<path d="M147.6 488.6l1.5 -0.4l1.2 -1.1l-1.5 0.3z" class="j65"/>
<path d="M164.8 487.4l4.1 2.5l1 -4.8l-4.1 -2.5z" class="j69"/>
<path d="M130.6 491.4l4 0.8l1.2 -1.2l-4 -0.8z" class="j58"/>
<path d="M154.1 484.9l0.7 -2.7l0.3 2.2l-0.7 2.7z" class="j72"/>
<path d="M176.1 508.6l4.2 1.9l0.3 -6.9l-4.1 -2.2z" class="j25"/>
<path d="M180 511.9l4.1 1.9l0.3 -1.5l-4.1 -1.8z" class="j11"/>
<path d="M162.5 491.7l4.1 2.3l0.5 4.6l-4.1 -2.3z" class="j49"/>
<path d="M191 488.8l4.1 2l1.1 -1.4l-4 -2z" class="j63"/>
<path d="M185.7 487.9l4.2 2.2l1.1 -1.3l-4.1 -2.2z" class="j65"/>
<path d="M180.5 487l4.1 2.2l1.1 -1.3l-4.1 -2.1z" class="j67"/>
<path d="M155.6 483.8l1 1.5l0.3 2.2l-1 -1.5z" class="j71"/>
<path d="M135.8 491l4 0.7l1.3 -1.1l-4 -0.8z" class="j60"/>
<path d="M156.6 485.3l1.5 1.5l0.3 2.2l-1.5 -1.5z" class="j68"/>
<path d="M175.2 486l4.1 2.3l1.2 -1.3l-4.2 -2.1z" class="j69"/>
<path d="M171.2 500.8l4.1 2.2l0.3 2.5l-4.1 -2.1z" class="j32"/>
<path d="M152.1 485.4l0.7 -1.7l1.3 1.2l-0.8 1.8z" class="j72"/>
<path d="M149.1 488.2l1 -0.6l1.2 -1.2l-1 0.7z" class="j68"/>
<path d="M154.8 482.2l0.8 1.6l0.3 2.2l-0.8 -1.6z" class="j75"/>
<path d="M169.9 485.1l4.1 2.3l1.2 -1.4l-4.1 -2.3z" class="j72"/>
<path d="M168.7 491.4l4.1 2.3l0.2 -1.5l-4.1 -2.3z" class="j58"/>
<path d="M175.6 505.5l4.1 2.2l0.2 0.6l-4.2 -2.1z" class="j24"/>
<path d="M172.4 499.2l4.1 2.2l0.5 -5.5l-4.2 -2.2z" class="j45"/>
<path d="M179.9 508.3l4.1 2.1l0.1 3.4l-4.1 -1.9z" class="j15"/>
<path d="M141.1 490.6l4 0.4l1.3 -1.2l-4.1 -0.4z" class="j62"/>
<path d="M158.1 486.8l4.1 2.7l0.3 2.2l-4.1 -2.7z" class="j64"/>
<path d="M146.4 489.8l1.5 -0.3l1.2 -1.3l-1.5 0.4z" class="j65"/>
<path d="M168.9 489.9l4.1 2.3l1 -4.8l-4.1 -2.3z" class="j66"/>
<path d="M166.6 494l4.2 2.2l0.4 4.6l-4.1 -2.2z" class="j47"/>
<path d="M180.3 510.5l4.1 1.8l0.4 -6.5l-4.2 -2.2z" class="j23"/>
<path d="M150.1 487.6l0.8 -1l1.2 -1.2l-0.8 1z" class="j71"/>
<path d="M184.1 513.8l4 1.8l0.3 -1.4l-4 -1.9z" class="j10"/>
<path d="M189.9 490.1l4 2l1.2 -1.3l-4.1 -2z" class="j63"/>
<path d="M184.6 489.2l4.2 2.1l1.1 -1.2l-4.2 -2.2z" class="j65"/>
<path d="M179.3 488.3l4.2 2.1l1.1 -1.2l-4.1 -2.2z" class="j67"/>
<path d="M175.3 503l4.2 2.1l0.2 2.6l-4.1 -2.2z" class="j30"/>
<path d="M134.6 492.2l4 0.7l1.2 -1.2l-4 -0.7z" class="j60"/>
<path d="M174 487.4l4.2 2.2l1.1 -1.3l-4.1 -2.3z" class="j69"/>
<path d="M152.8 483.7l0.8 -2.9l1.2 1.4l-0.7 2.7z" class="j80"/>
<path d="M172.8 493.7l4.2 2.2l0.1 -1.5l-4.1 -2.2z" class="j55"/>
<path d="M147.9 489.5l1 -0.7l1.2 -1.2l-1 0.6z" class="j68"/>
<path d="M179.7 507.7l4.2 2.1l0.1 0.6l-4.1 -2.1z" class="j22"/>
<path d="M176.5 501.4l4.1 2.2l0.5 -5.5l-4.1 -2.2z" class="j43"/>
<path d="M162.2 489.5l4.2 2.3l0.2 2.2l-4.1 -2.3z" class="j61"/>
<path d="M184 510.4l4 2l0.1 3.2l-4 -1.8z" class="j13"/>
<path d="M173 492.2l4.1 2.2l1.1 -4.8l-4.2 -2.2z" class="j63"/>
<path d="M139.8 491.7l4.1 0.5l1.2 -1.2l-4 -0.4z" class="j62"/>
<path d="M154.3 482.3l1.1 1.5l1.2 1.5l-1 -1.5z" class="j79"/>
<path d="M150.9 486.6l0.7 -1.6l1.2 -1.3l-0.7 1.7z" class="j76"/>
<path d="M155.4 483.8l1.5 1.5l1.2 1.5l-1.5 -1.5z" class="j76"/>
<path d="M145.1 491l1.5 -0.3l1.3 -1.2l-1.5 0.3z" class="j65"/>
<path d="M153.6 480.8l0.7 1.5l1.3 1.5l-0.8 -1.6z" class="j83"/>
<path d="M170.8 496.2l4.1 2.2l0.4 4.6l-4.1 -2.2z" class="j44"/>
<path d="M184.4 512.3l4 1.9l0.4 -6.3l-4 -2.1z" class="j21"/>
<path d="M148.9 488.8l0.7 -0.9l1.3 -1.3l-0.8 1z" class="j71"/>
<path d="M188.8 491.3l4 2l1.1 -1.2l-4 -2z" class="j62"/>
<path d="M183.5 490.4l4.1 2.1l1.2 -1.2l-4.2 -2.1z" class="j64"/>
<path d="M156.9 485.3l4.1 2.6l1.2 1.6l-4.1 -2.7z" class="j72"/>
<path d="M179.5 505.1l4.1 2.1l0.3 2.6l-4.2 -2.1z" class="j27"/>
<path d="M178.2 489.6l4.1 2.2l1.2 -1.4l-4.2 -2.1z" class="j66"/>
<path d="M177 495.9l4.1 2.2l0.2 -1.5l-4.2 -2.2z" class="j53"/>
<path d="M183.9 509.8l4 2l0.1 0.6l-4 -2z" class="j20"/>
<path d="M146.6 490.7l1 -0.6l1.3 -1.3l-1 0.7z" class="j67"/>
<path d="M180.6 503.6l4.2 2.2l0.5 -5.5l-4.2 -2.2z" class="j40"/>
<path d="M166.4 491.8l4.1 2.2l0.3 2.2l-4.2 -2.2z" class="j58"/>
<path d="M177.1 494.4l4.2 2.2l1 -4.8l-4.1 -2.2z" class="j60"/>
<path d="M149.6 487.9l0.8 -1.5l1.2 -1.4l-0.7 1.6z" class="j75"/>
<path d="M138.6 492.9l4 0.5l1.3 -1.2l-4.1 -0.5z" class="j62"/>
<path d="M151.6 485l0.7 -3l1.3 -1.2l-0.8 2.9z" class="j84"/>
<path d="M143.9 492.2l1.5 -0.3l1.2 -1.2l-1.5 0.3z" class="j65"/>
<path d="M174.9 498.4l4.2 2.1l0.4 4.6l-4.2 -2.1z" class="j42"/>
<path d="M147.6 490.1l0.8 -0.9l1.2 -1.3l-0.7 0.9z" class="j70"/>
<path d="M161 487.9l4.2 2.3l1.2 1.6l-4.2 -2.3z" class="j69"/>
<path d="M187.6 492.5l4.1 2.1l1.1 -1.3l-4 -2z" class="j62"/>
<path d="M153.1 483.6l1 1.4l1.3 -1.2l-1.1 -1.5z" class="j83"/>
<path d="M182.3 491.8l4.2 2.1l1.1 -1.4l-4.1 -2.1z" class="j64"/>
<path d="M183.6 507.2l4.1 2l0.2 2.6l-4 -2z" class="j25"/>
<path d="M154.1 485l1.6 1.4l1.2 -1.1l-1.5 -1.5z" class="j80"/>
<path d="M181.1 498.1l4.2 2.2l0.1 -1.6l-4.1 -2.1z" class="j50"/>
<path d="M152.3 482l0.8 1.6l1.2 -1.3l-0.7 -1.5z" class="j86"/>
<path d="M184.8 505.8l4 2.1l0.5 -5.6l-4 -2z" class="j38"/>
<path d="M170.5 494l4.1 2.1l0.3 2.3l-4.1 -2.2z" class="j56"/>
<path d="M145.4 491.9l1 -0.6l1.2 -1.2l-1 0.6z" class="j67"/>
<path d="M181.3 496.6l4.1 2.1l1.1 -4.8l-4.2 -2.1z" class="j58"/>
<path d="M155.7 486.4l4.1 2.7l1.2 -1.2l-4.1 -2.6z" class="j76"/>
<path d="M148.4 489.2l0.7 -1.5l1.3 -1.3l-0.8 1.5z" class="j75"/>
<path d="M150.4 486.4l0.7 -3.1l1.2 -1.3l-0.7 3z" class="j83"/>
<path d="M179.1 500.5l4.2 2.1l0.3 4.6l-4.1 -2.1z" class="j40"/>
<path d="M142.6 493.4l1.5 -0.3l1.3 -1.2l-1.5 0.3z" class="j64"/>
<path d="M165.2 490.2l4.1 2.2l1.2 1.6l-4.1 -2.2z" class="j66"/>
<path d="M146.4 491.3l0.8 -0.8l1.2 -1.3l-0.8 0.9z" class="j70"/>
<path d="M186.5 493.9l4.1 2l1.1 -1.3l-4.1 -2.1z" class="j62"/>
<path d="M151.9 484.8l1 1.4l1.2 -1.2l-1 -1.4z" class="j83"/>
<path d="M185.3 500.3l4 2l0.2 -1.5l-4.1 -2.1z" class="j48"/>
<path d="M152.9 486.2l1.6 1.4l1.2 -1.2l-1.6 -1.4z" class="j80"/>
<path d="M151.1 483.3l0.8 1.5l1.2 -1.2l-0.8 -1.6z" class="j86"/>
<path d="M174.6 496.1l4.2 2.1l0.3 2.3l-4.2 -2.1z" class="j53"/>
<path d="M144.1 493.1l1.1 -0.5l1.2 -1.3l-1 0.6z" class="j67"/>
<path d="M185.4 498.7l4.1 2.1l1.1 -4.9l-4.1 -2z" class="j56"/>
<path d="M159.8 489.1l4.2 2.3l1.2 -1.2l-4.2 -2.3z" class="j73"/>
<path d="M147.2 490.5l0.7 -1.5l1.2 -1.3l-0.7 1.5z" class="j75"/>
<path d="M154.5 487.6l4.1 2.7l1.2 -1.2l-4.1 -2.7z" class="j76"/>
<path d="M149.1 487.7l0.8 -3.1l1.2 -1.3l-0.7 3.1z" class="j83"/>
<path d="M183.3 502.6l4 2l0.4 4.6l-4.1 -2z" class="j37"/>
<path d="M169.3 492.4l4.2 2.2l1.1 1.5l-4.1 -2.1z" class="j64"/>
<path d="M145.2 492.6l0.7 -0.9l1.3 -1.2l-0.8 0.8z" class="j70"/>
<path d="M150.6 486.1l1.1 1.3l1.2 -1.2l-1 -1.4z" class="j82"/>
<path d="M151.7 487.4l1.5 1.4l1.3 -1.2l-1.6 -1.4z" class="j79"/>
<path d="M149.9 484.6l0.7 1.5l1.3 -1.3l-0.8 -1.5z" class="j86"/>
<path d="M178.8 498.2l4.2 2.1l0.3 2.3l-4.2 -2.1z" class="j51"/>
<path d="M164 491.4l4.1 2.2l1.2 -1.2l-4.1 -2.2z" class="j70"/>
<path d="M158.6 490.3l4.1 2.3l1.3 -1.2l-4.2 -2.3z" class="j73"/>
<path d="M145.9 491.7l0.8 -1.4l1.2 -1.3l-0.7 1.5z" class="j74"/>
<path d="M147.9 489l0.7 -3.1l1.3 -1.3l-0.8 3.1z" class="j82"/>
<path d="M153.2 488.8l4.2 2.7l1.2 -1.2l-4.1 -2.7z" class="j76"/>
<path d="M173.5 494.6l4.2 2.1l1.1 1.5l-4.2 -2.1z" class="j61"/>
<path d="M149.4 487.3l1.1 1.3l1.2 -1.2l-1.1 -1.3z" class="j82"/>
<path d="M150.5 488.6l1.5 1.4l1.2 -1.2l-1.5 -1.4z" class="j79"/>
<path d="M148.6 485.9l0.8 1.4l1.2 -1.2l-0.7 -1.5z" class="j85"/>
<path d="M183 500.3l4.1 2.1l0.2 2.2l-4 -2z" class="j49"/>
<path d="M168.1 493.6l4.2 2.1l1.2 -1.1l-4.2 -2.2z" class="j68"/>
<path d="M162.7 492.6l4.2 2.2l1.2 -1.2l-4.1 -2.2z" class="j70"/>
<path d="M157.4 491.5l4.1 2.3l1.2 -1.2l-4.1 -2.3z" class="j73"/>
<path d="M146.7 490.3l0.7 -3.2l1.2 -1.2l-0.7 3.1z" class="j82"/>
<path d="M152 490l4.2 2.7l1.2 -1.2l-4.2 -2.7z" class="j76"/>
<path d="M177.7 496.7l4.2 2.1l1.1 1.5l-4.2 -2.1z" class="j59"/>
<path d="M148.2 488.5l1 1.4l1.3 -1.3l-1.1 -1.3z" class="j82"/>
<path d="M147.4 487.1l0.8 1.4l1.2 -1.2l-0.8 -1.4z" class="j85"/>
<path d="M149.2 489.9l1.6 1.4l1.2 -1.3l-1.5 -1.4z" class="j79"/>
<path d="M172.3 495.7l4.2 2.2l1.2 -1.2l-4.2 -2.1z" class="j65"/>
<path d="M166.9 494.8l4.2 2.2l1.2 -1.3l-4.2 -2.1z" class="j68"/>
<path d="M161.5 493.8l4.2 2.2l1.2 -1.2l-4.2 -2.2z" class="j70"/>
<path d="M156.2 492.7l4.1 2.3l1.2 -1.2l-4.1 -2.3z" class="j73"/>
<path d="M150.8 491.3l4.1 2.6l1.3 -1.2l-4.2 -2.7z" class="j76"/>
<path d="M181.9 498.8l4.1 2l1.1 1.6l-4.1 -2.1z" class="j57"/>
<path d="M176.5 497.9l4.2 2.1l1.2 -1.2l-4.2 -2.1z" class="j63"/>
<path d="M171.1 497l4.2 2.1l1.2 -1.2l-4.2 -2.2z" class="j66"/>
<path d="M165.7 496l4.2 2.2l1.2 -1.2l-4.2 -2.2z" class="j68"/>
<path d="M160.3 495l4.2 2.2l1.2 -1.2l-4.2 -2.2z" class="j70"/>
<path d="M154.9 493.9l4.2 2.3l1.2 -1.2l-4.1 -2.3z" class="j73"/>
<path d="M180.7 500l4.1 2l1.2 -1.2l-4.1 -2z" class="j61"/>
<path d="M175.3 499.1l4.2 2.1l1.2 -1.2l-4.2 -2.1z" class="j63"/>
<path d="M169.9 498.2l4.2 2.1l1.2 -1.2l-4.2 -2.1z" class="j66"/>
<path d="M164.5 497.2l4.2 2.2l1.2 -1.2l-4.2 -2.2z" class="j68"/>
<path d="M159.1 496.2l4.2 2.2l1.2 -1.2l-4.2 -2.2z" class="j70"/>
<path d="M179.5 501.2l4.1 2.1l1.2 -1.3l-4.1 -2z" class="j61"/>
<path d="M174.1 500.3l4.3 2.1l1.1 -1.2l-4.2 -2.1z" class="j63"/>
<path d="M168.7 499.4l4.2 2.1l1.2 -1.2l-4.2 -2.1z" class="j66"/>
<path d="M163.3 498.4l4.2 2.2l1.2 -1.2l-4.2 -2.2z" class="j68"/>
<path d="M178.4 502.4l4.1 2.1l1.1 -1.2l-4.1 -2.1z" class="j61"/>
<path d="M172.9 501.5l4.3 2.2l1.2 -1.3l-4.3 -2.1z" class="j63"/>
<path d="M167.5 500.6l4.2 2.2l1.2 -1.3l-4.2 -2.1z" class="j65"/>
<path d="M177.2 503.7l4.1 2l1.2 -1.2l-4.1 -2.1z" class="j61"/>
<path d="M171.7 502.8l4.3 2.1l1.2 -1.2l-4.3 -2.2z" class="j63"/>
<path d="M176 504.9l4.1 2.1l1.2 -1.3l-4.1 -2z" class="j61"/>
<defs><linearGradient id="wg2" gradientUnits="userSpaceOnUse" x1="115.5" y1="504.3" x2="115.5" y2="476.2" gradientTransform="matrix(1 0.3504 0 1 0 -40.47)"><stop offset="0" stop-color="#7676ee"/><stop offset="0.25" stop-color="#3a40f2"/><stop offset="0.5" stop-color="#1050ff"/><stop offset="0.72" stop-color="#0090ff"/><stop offset="0.88" stop-color="#00c8f8"/><stop offset="1" stop-color="#20e6e0"/></linearGradient></defs><path d="M114.9 488l3.9 0.9l3.9 0.8l3.9 0.9l4 0.8l4 0.8l4 0.7l4 0.5l1.5 -0.3l1.1 -0.5l0.7 -0.9l0.8 -1.4l0.7 -3.2l0.8 1.4l1 1.4l1.6 1.4l4.1 2.6l4.2 2.3l4.2 2.2l4.2 2.2l4.2 2.2l4.3 2.1l4.1 2.1l-0.2 19.9l-64.4 -22.6z" fill="url(#wg2)"/>
<defs><linearGradient id="wg3" gradientUnits="userSpaceOnUse" x1="179.9" y1="526.9" x2="179.9" y2="505.1" gradientTransform="matrix(1 -1.0942 0 1 0 196.83)"><stop offset="0" stop-color="#3040ff"/><stop offset="0.4" stop-color="#1030ff"/><stop offset="0.75" stop-color="#0070ff"/><stop offset="1" stop-color="#00c0f0"/></linearGradient></defs><path d="M180.1 507l1.2 -1.3l1.2 -1.2l1.1 -1.2l1.2 -1.3l1.2 -1.2l1.1 1.6l0.2 2.2l0.4 4.6l0.2 2.6l0.1 0.6l0.1 3.2l0.3 -1.4l0.4 -6.3l0.5 -5.6l0.2 -1.5l1.1 -4.9l1.1 -1.3l1.1 -1.3l1.1 -1.2l1.2 -1.3l1.1 -1.4l1.1 -1.6l0.6 -1l0.2 -0.6l0.2 2.5l0.3 0.1l0.3 0l0.5 -0.1l1.1 -0.7l1.1 -1l1 -1l1.1 -1l1.1 -1.1l1 -1l0.8 2.7l0.1 1.2l0.3 4.6l0.1 2.4l0.3 0.8l0.1 -0.4l0.1 -0.9l0.4 -3.1l0.5 -5.3l0.4 -2.7l1.1 -3.7l1 -1.2l1.1 -1.1l1 -1.1l1 -1l1 -1l-0.3 8.4l-0.3 1.1l-0.3 1.1l-0.4 3.3l-0.1 -4.2l-0.4 4.2l-0.1 -3.6l-0.3 1.2l-0.3 2.2l-0.2 -0.1l-0.3 2.2l-0.2 -2.8l-0.3 3.2l-0.3 0.2l-0.2 -0.8l-0.1 -3.6l-0.4 4.6l-0.3 0.8l-0.2 -1.8l-0.2 -1.5l-0.3 0.2l-0.3 4.1l-0.2 -3.5l-0.3 3.7l-0.3 0l-0.4 3.5l-0.2 1.1l-0.3 0.3l-0.3 0.3l-0.2 0.2l-0.3 0.3l-0.2 0.2l-0.3 0.4l-0.1 -3.3l-0.2 -1.9l-0.3 -0.8l-0.4 4.4l-0.2 -1.7l-0.2 -0.4l-0.2 -2.1l-0.4 4.8l-0.2 -3l-0.3 2.8l-0.3 1l-0.1 -3.7l-0.4 4.6l-0.3 -0.2l-0.2 -1.5l-0.3 1.1l-0.2 -2.2l-0.3 2.7l-0.2 -1.4l-0.3 -0.3l-0.3 2.3l-0.2 -1.5l-0.3 2.1l-0.3 1l-0.2 -3.1l-0.3 -0.1l-0.2 0.8l-0.3 0.7l-0.3 1.8l-0.3 -1.6l-0.3 1.4l-0.2 -1.3l-0.2 -3.7l-0.3 3.8l-0.3 -0.7l-0.2 0.4l-0.3 1.7l-0.3 -1.7l-0.3 1.6l-0.3 0.5l-0.3 2.2l-0.2 -1l-0.3 -0.1l-0.3 0.7l-0.3 3.3l-0.3 0.2l-0.3 1.1l-0.3 0l-0.2 -1.2l-0.3 2.4l-0.3 0.2l-0.3 1.5l-0.2 -1.1l-0.3 0.3l-0.3 2.1l-0.3 -0.2l-0.3 0.7l-0.3 0.9l-0.3 -0.1l-0.3 0.9l-0.2 1l-0.3 0.4l-0.3 0.9l-0.3 0.5l-0.3 0.3l-0.3 0.4l-0.2 0.3l-0.3 0.3l-0.3 0.3l-0.3 0.3l-0.3 0.3l-0.3 0.3l-0.2 0.3l-0.3 0.3l-0.3 0.3l-0.3 0.4l-0.3 0.3l-0.3 0.3l-0.3 0.3l-0.2 0.3l-0.3 0.3l-0.3 0.3l-0.3 0.4l-0.3 0.3l-0.3 0.3l-0.3 0.3l-0.3 0.3l-0.3 0.3l-0.2 0.4l-0.3 0.3l-0.3 0.3l-0.3 0.3l-0.3 0.3l-0.3 0.3l-0.3 0.4l-0.2 0.2z" fill="url(#wg3)"/>
<path d="M116 504.5L115.5 493.1M116.5 504.7L116.1 493.2M117.1 504.9L116.6 493.4M117.6 505.1L117.2 493.5M118.1 505.3L117.7 493.7M118.7 505.5L118.3 493.8M119.2 505.6L118.8 493.9M119.8 505.8L119.4 494.1M120.3 506L119.9 494.2M120.9 506.2L120.5 494.4M121.4 506.4L121 494.5M122 506.6L121.6 494.6M122.5 506.8L122.1 494.8M123.1 507L122.7 494.9M123.6 507.2L123.2 495.1M124.2 507.4L123.8 495.2M124.7 507.6L124.3 495.4M125.3 507.8L124.9 495.5M125.8 507.9L125.4 495.6M126.4 508.1L126 495.8M126.9 508.3L126.5 495.9M127.5 508.5L127.1 496.1M128 508.7L127.6 496.2M128.6 508.9L128.2 496.3M129.1 509.1L128.8 496.5M129.7 509.3L129.3 496.6M130.2 509.5L129.9 496.8M130.8 509.7L130.4 496.9M131.3 509.9L131 497M131.9 510.1L131.5 497.2M132.4 510.3L132.1 497.3M133 510.5L132.7 497.4M133.5 510.7L133.2 497.6M134.1 510.9L133.8 497.7M134.7 511.1L134.3 497.9M135.2 511.2L134.9 498M135.8 511.4L135.5 498.1M136.3 511.6L136 498.3M136.9 511.8L136.6 498.4M137.4 512L137.2 498.5M138 512.2L137.7 498.7M138.6 512.4L138.3 498.8M139.1 512.6L138.8 498.9M139.7 512.8L139.4 499M140.2 513L140 499.2M140.8 513.2L140.5 499.3M141.4 513.4L141.1 499.4M141.9 513.6L141.7 499.5M142.5 513.8L142.2 499.6M143.1 514L142.8 499.6M143.6 514.2L143.4 499.7M144.2 514.4L143.9 499.6M144.8 514.6L144.5 499.6M145.3 514.8L145.1 499.4M145.9 515L145.6 499.1M146.5 515.2L146.2 498.7M147 515.4L146.8 497.9M147.6 515.6L147.3 495.5M148.2 515.8L147.9 496.4M148.7 516L148.5 497.1M149.3 516.2L149.1 497.7M149.9 516.4L149.6 498.2M150.4 516.6L150.2 498.6M151 516.8L150.8 499M151.6 517L151.4 499.3M152.1 517.2L152 499.7M152.7 517.4L152.5 500M153.3 517.6L153.1 500.3M153.9 517.8L153.7 500.6M154.4 518L154.3 500.9M155 518.2L154.9 501.2M155.6 518.4L155.4 501.5M156.1 518.6L156 501.8M156.7 518.8L156.6 502.1M157.3 519L157.2 502.4M157.9 519.2L157.8 502.7M158.4 519.4L158.4 502.9M159 519.6L158.9 503.2M159.6 519.8L159.5 503.5M160.2 520L160.1 503.8M160.8 520.2L160.7 504.1M161.3 520.4L161.3 504.3M161.9 520.6L161.9 504.6M162.5 520.8L162.4 504.9M163.1 521L163 505.2M163.6 521.2L163.6 505.5M164.2 521.4L164.2 505.7M164.8 521.6L164.8 506M165.4 521.8L165.4 506.3M166 522L166 506.6M166.6 522.2L166.6 506.8M167.1 522.4L167.2 507.1M167.7 522.6L167.7 507.4M168.3 522.8L168.3 507.7M168.9 523L168.9 507.9M169.5 523.3L169.5 508.2M170.1 523.5L170.1 508.5M170.6 523.7L170.7 508.8M171.2 523.9L171.3 509M171.8 524.1L171.9 509.3M172.4 524.3L172.5 509.6M173 524.5L173.1 509.9M173.6 524.7L173.7 510.1M174.2 524.9L174.3 510.4M174.8 525.1L174.9 510.7M175.4 525.3L175.5 510.9M175.9 525.5L176.1 511.2M176.5 525.7L176.7 511.5M177.1 525.9L177.2 511.8M177.7 526.1L177.8 512M178.3 526.3L178.4 512.3M178.9 526.6L179 512.6M179.5 526.8L179.6 512.8" stroke="#000090" stroke-opacity="0.3" stroke-width="0.35" fill="none"/>
<path d="M164.4 466.2l1.9 -1.7l0 -21.2l-1.9 1.7z" fill="url(#fadeS)"/>
<path d="M167 464.9l2.1 -1.8l0 -25.9l-2 1.8z" fill="url(#fadeS)"/>
<path d="M170.3 463.5l1.6 -1.5l0.1 -21.4l-1.6 1.4z" fill="url(#fadeS)"/>
<path d="M173.3 462.1l2.2 -2.1l0.2 -29.8l-2.2 2z" fill="url(#fadeS)"/>
<path d="M177.5 459l1.9 -1.8l0.3 -28.1l-2 1.7z" fill="url(#fadeS)"/>
<g transform="matrix(0.48815 0 0 0.53711 284.071 224.845)" font-family="DejaVu Sans, sans-serif"><path d="M123.2 242L211.1 168.3L209.9 62.1L117.8 129.3" fill="#f2f2f2" opacity="0.5" stroke="#f2f2f2" stroke-width="1.45"/>
<path d="M211.1 168.3L352.1 209.3L357.1 99.4L209.9 62.1" fill="#e6e6e6" opacity="0.5" stroke="#e6e6e6" stroke-width="1.45"/>
<path d="M123.2 242L272.7 290.8L352.1 209.3L211.1 168.3" fill="#ececec" opacity="0.5" stroke="#ececec" stroke-width="1.45"/>
<path d="M132.3 244.9L219.7 170.8L218.8 64.3" fill="none" stroke="#b0b0b0" stroke-width="1.16"/>
<path d="M156.8 253L242.9 177.6L243.1 70.5" fill="none" stroke="#b0b0b0" stroke-width="1.16"/>
<path d="M181.9 261.1L266.6 184.4L267.7 76.7" fill="none" stroke="#b0b0b0" stroke-width="1.16"/>
<path d="M207.4 269.5L290.6 191.4L292.9 83.1" fill="none" stroke="#b0b0b0" stroke-width="1.16"/>
<path d="M233.3 277.9L315.1 198.5L318.4 89.6" fill="none" stroke="#b0b0b0" stroke-width="1.16"/>
<path d="M259.7 286.6L339.9 205.8L344.4 96.2" fill="none" stroke="#b0b0b0" stroke-width="1.16"/>
<path d="M124.1 124.6L129.3 236.9L278.2 285.2" fill="none" stroke="#b0b0b0" stroke-width="1.16"/>
<path d="M140.9 112.4L145.2 223.5L292.6 270.3" fill="none" stroke="#b0b0b0" stroke-width="1.16"/>
<path d="M157.1 100.6L160.6 210.6L306.6 256" fill="none" stroke="#b0b0b0" stroke-width="1.16"/>
<path d="M172.8 89.1L175.6 198L320.1 242.1" fill="none" stroke="#b0b0b0" stroke-width="1.16"/>
<path d="M188.1 78L190.2 185.8L333.3 228.6" fill="none" stroke="#b0b0b0" stroke-width="1.16"/>
<path d="M202.9 67.2L204.4 173.9L346.1 215.5" fill="none" stroke="#b0b0b0" stroke-width="1.16"/>
<path d="M352.1 209.3L211.1 168.3L123.2 242" fill="none" stroke="#b0b0b0" stroke-width="1.16"/>
<path d="M353 188.7L210.8 148.4L122.2 220.9" fill="none" stroke="#b0b0b0" stroke-width="1.16"/>
<path d="M354 167.8L210.6 128.2L121.2 199.5" fill="none" stroke="#b0b0b0" stroke-width="1.16"/>
<path d="M355 146.6L210.4 107.6L120.1 177.7" fill="none" stroke="#b0b0b0" stroke-width="1.16"/>
<path d="M356 125L210.1 86.7L119 155.5" fill="none" stroke="#b0b0b0" stroke-width="1.16"/>
<path d="M357 103L209.9 65.5L117.9 132.9" fill="none" stroke="#b0b0b0" stroke-width="1.16"/>
<path d="M123.2 242L272.7 290.8" fill="none" stroke="#000000" stroke-width="1.16" stroke-linecap="square"/>
<path d="M133 244.3L130.7 246.2" fill="none" stroke="#000000" stroke-width="1.16" stroke-linecap="square"/>
<text x="122.7" y="272.4" font-size="10.8" text-anchor="middle">0</text>
<path d="M157.6 252.3L155.3 254.3" fill="none" stroke="#000000" stroke-width="1.16" stroke-linecap="square"/>
<text x="147.4" y="280.6" font-size="10.8" text-anchor="middle">100</text>
<path d="M182.6 260.5L180.4 262.5" fill="none" stroke="#000000" stroke-width="1.16" stroke-linecap="square"/>
<text x="172.4" y="289" font-size="10.8" text-anchor="middle">200</text>
<path d="M208.1 268.8L205.9 270.8" fill="none" stroke="#000000" stroke-width="1.16" stroke-linecap="square"/>
<text x="198" y="297.5" font-size="10.8" text-anchor="middle">300</text>
<path d="M234 277.2L231.9 279.3" fill="none" stroke="#000000" stroke-width="1.16" stroke-linecap="square"/>
<text x="224" y="306.2" font-size="10.8" text-anchor="middle">400</text>
<path d="M260.4 285.9L258.3 288" fill="none" stroke="#000000" stroke-width="1.16" stroke-linecap="square"/>
<text x="250.4" y="315.1" font-size="10.8" text-anchor="middle">500</text>
<path d="M352.1 209.3L272.7 290.8" fill="none" stroke="#000000" stroke-width="1.16" stroke-linecap="square"/>
<path d="M276.9 284.7L280.7 286" fill="none" stroke="#000000" stroke-width="1.16" stroke-linecap="square"/>
<text x="294.4" y="309.7" font-size="10.8" text-anchor="middle">0</text>
<path d="M291.4 269.9L295.1 271.1" fill="none" stroke="#000000" stroke-width="1.16" stroke-linecap="square"/>
<text x="308.6" y="294.6" font-size="10.8" text-anchor="middle">100</text>
<path d="M305.4 255.6L309 256.8" fill="none" stroke="#000000" stroke-width="1.16" stroke-linecap="square"/>
<text x="322.3" y="280" font-size="10.8" text-anchor="middle">200</text>
<path d="M318.9 241.7L322.6 242.8" fill="none" stroke="#000000" stroke-width="1.16" stroke-linecap="square"/>
<text x="335.7" y="265.8" font-size="10.8" text-anchor="middle">300</text>
<path d="M332.1 228.2L335.7 229.3" fill="none" stroke="#000000" stroke-width="1.16" stroke-linecap="square"/>
<text x="348.6" y="252.1" font-size="10.8" text-anchor="middle">400</text>
<path d="M344.9 215.1L348.4 216.2" fill="none" stroke="#000000" stroke-width="1.16" stroke-linecap="square"/>
<text x="361.2" y="238.7" font-size="10.8" text-anchor="middle">500</text>
<path d="M352.1 209.3L357.1 99.4" fill="none" stroke="#000000" stroke-width="1.16" stroke-linecap="square"/>
<path d="M350.9 209L354.5 210" fill="none" stroke="#000000" stroke-width="1.16" stroke-linecap="square"/>
<text x="373" y="213.9" font-size="10.8" text-anchor="middle">0</text>
<path d="M351.8 188.4L355.4 189.4" fill="none" stroke="#000000" stroke-width="1.16" stroke-linecap="square"/>
<text x="374.1" y="193.4" font-size="10.8" text-anchor="middle">50</text>
<path d="M352.8 167.5L356.4 168.5" fill="none" stroke="#000000" stroke-width="1.16" stroke-linecap="square"/>
<text x="375.3" y="172.5" font-size="10.8" text-anchor="middle">100</text>
<path d="M353.7 146.3L357.4 147.2" fill="none" stroke="#000000" stroke-width="1.16" stroke-linecap="square"/>
<text x="376.4" y="151.3" font-size="10.8" text-anchor="middle">150</text>
<path d="M354.7 124.6L358.4 125.6" fill="none" stroke="#000000" stroke-width="1.16" stroke-linecap="square"/>
<text x="377.6" y="129.8" font-size="10.8" text-anchor="middle">200</text>
<path d="M355.7 102.6L359.4 103.6" fill="none" stroke="#000000" stroke-width="1.16" stroke-linecap="square"/>
<text x="378.8" y="107.8" font-size="10.8" text-anchor="middle">250</text></g>
<path d="M392.8 307.7l-0.7 -0.1l-2.4 -5.6l0.9 2.4z" class="j41"/>
<path d="M389.1 303.9l-1 1.2l-1.4 3l1.2 2.5z" class="j39"/>
<path d="M398.5 309.8l-0.2 -0.4l-6.2 -1.8l0.7 0.1z" class="j36"/>
<path d="M389.6 297.8l-1 -2.1l-0.5 9.4l1 -1.2z" class="j53"/>
<path d="M390.6 304.4l-0.9 -2.4l-1.1 -6.3l1 2.1z" class="j55"/>
<path d="M387.9 310.6l-1.2 -2.5l-3.7 3.8l1.4 2z" class="j33"/>
<path d="M393.6 310.2l-0.8 -2.5l-2.2 -3.3l1 2.1z" class="j42"/>
<path d="M390.2 306.3l-1.1 -2.4l-1.2 6.7l1.2 0.3z" class="j42"/>
<path d="M405.7 311.8l0.3 -0.9l-7.7 -1.5l0.2 0.4z" class="j37"/>
<path d="M398.8 311.1l-0.3 -1.3l-5.7 -2.1l0.8 2.5z" class="j39"/>
<path d="M391.6 306.5l-1 -2.1l-1 -6.6l1.1 0.7z" class="j56"/>
<path d="M390.7 298.5l-1.1 -0.7l-0.5 6.1l1.1 2.4z" class="j56"/>
<path d="M389.1 310.9l-1.2 -0.3l-3.5 3.3l1.6 -0.1z" class="j35"/>
<path d="M394.6 311.5l-1 -1.3l-2 -3.7l1.2 0.7z" class="j45"/>
<path d="M405.3 312.7l0.4 -0.9l-7.2 -2l0.3 1.3z" class="j39"/>
<path d="M411.8 314.4l0.8 -0.7l-6.6 -2.8l-0.3 0.9z" class="j37"/>
<path d="M391.6 307.5l-1.4 -1.2l-1.1 4.6l1.5 1.3z" class="j45"/>
<path d="M399.1 313.3l-0.3 -2.2l-5.2 -0.9l1 1.3z" class="j40"/>
<path d="M384.4 313.9l-1.4 -2l-4.7 2.6l1.8 2.1z" class="j35"/>
<path d="M392.8 307.2l-1.2 -0.7l-0.9 -8l1.3 2.5z" class="j58"/>
<path d="M392 301l-1.3 -2.5l-0.5 7.8l1.4 1.2z" class="j58"/>
<path d="M390.6 312.2l-1.5 -1.3l-3.1 2.9l1.9 0.8z" class="j40"/>
<path d="M415.5 313.4l1.2 1.1l-4.1 -0.8l-0.8 0.7z" class="j38"/>
<path d="M410.8 314.1l1 0.3l-6.1 -2.6l-0.4 0.9z" class="j40"/>
<path d="M386 313.8l-1.6 0.1l-4.3 2.7l2 0.4z" class="j36"/>
<path d="M404.8 314.2l0.5 -1.5l-6.5 -1.6l0.3 2.2z" class="j41"/>
<path d="M395.6 312.8l-1 -1.3l-1.8 -4.3l1.3 1.5z" class="j49"/>
<path d="M416.8 308.9l1.3 0l-1.4 5.6l-1.2 -1.1z" class="j47"/>
<path d="M399.4 314.5l-0.3 -1.2l-4.5 -1.8l1 1.3z" class="j43"/>
<path d="M414.2 314.4l1.3 -1l-3.7 1l-1 -0.3z" class="j41"/>
<path d="M393.2 308.8l-1.6 -1.3l-1 4.7l1.7 1.1z" class="j49"/>
<path d="M422.7 316.9l1.7 1.4l-4 -3.5l-1.4 0.6z" class="j38"/>
<path d="M409.6 315l1.2 -0.9l-5.5 -1.4l-0.5 1.5z" class="j43"/>
<path d="M419 315.4l1.4 -0.6l-1.3 -5.5l-1.3 0z" class="j46"/>
<path d="M394.1 308.7l-1.3 -1.5l-0.8 -6.2l1.5 2.5z" class="j61"/>
<path d="M393.5 303.5l-1.5 -2.5l-0.4 6.5l1.6 1.3z" class="j61"/>
<path d="M387.9 314.6l-1.9 -0.8l-3.9 3.2l2.4 0.6z" class="j40"/>
<path d="M392.3 313.3l-1.7 -1.1l-2.7 2.4l2.2 1.3z" class="j44"/>
<path d="M380.1 316.6l-1.8 -2.1l-4 3.4l2.1 0.5z" class="j38"/>
<path d="M404.2 315.5l0.6 -1.3l-5.7 -0.9l0.3 1.2z" class="j44"/>
<path d="M415.3 309.5l1.5 -0.6l-1.3 4.5l-1.3 1z" class="j50"/>
<path d="M428.9 319.9l2.4 -1.1l-6.9 -0.5l-1.7 -1.4z" class="j36"/>
<path d="M420.7 317.5l2 -0.6l-3.7 -1.5l-1.7 0z" class="j41"/>
<path d="M412.5 314.7l1.7 -0.3l-3.4 -0.3l-1.2 0.9z" class="j45"/>
<path d="M417.4 301.8l1.3 1.2l-0.6 5.9l-1.3 0z" class="j63"/>
<path d="M417.8 309.3l1.3 0l-0.4 -6.3l-1.3 -1.2z" class="j63"/>
<path d="M417.3 315.4l1.7 0l-1.2 -6.1l-1.6 0.4z" class="j49"/>
<path d="M382.1 317l-2 -0.4l-3.7 1.8l2.3 0.5z" class="j39"/>
<path d="M408.2 316.2l1.4 -1.2l-4.8 -0.8l-0.6 1.3z" class="j46"/>
<path d="M426.3 319.4l2.6 0.5l-6.2 -3l-2 0.6z" class="j40"/>
<path d="M396.8 314.2l-1.2 -1.4l-1.5 -4.1l1.5 1.4z" class="j54"/>
<path d="M399.8 316l-0.4 -1.5l-3.8 -1.7l1.2 1.4z" class="j48"/>
<path d="M390.1 315.9l-2.2 -1.3l-3.4 3l2.7 0.4z" class="j44"/>
<path d="M394.8 310.2l-1.6 -1.4l-0.9 4.5l1.9 1.3z" class="j54"/>
<path d="M413.5 309.7l1.8 -0.2l-1.1 4.9l-1.7 0.3z" class="j53"/>
<path d="M376.4 318.4l-2.1 -0.5l-2.5 2.5l2.3 1.9z" class="j38"/>
<path d="M436.4 322.2l2.9 0.8l-8 -4.2l-2.4 1.1z" class="j36"/>
<path d="M418.2 318.3l2.5 -0.8l-3.4 -2.1l-2.1 0.3z" class="j44"/>
<path d="M415.9 302.6l1.5 -0.8l-0.6 7.1l-1.5 0.6z" class="j66"/>
<path d="M416.2 309.7l1.6 -0.4l-0.4 -7.5l-1.5 0.8z" class="j66"/>
<path d="M384.5 317.6l-2.4 -0.6l-3.4 1.9l2.9 1z" class="j41"/>
<path d="M394.2 314.6l-1.9 -1.3l-2.2 2.6l2.3 1.2z" class="j48"/>
<path d="M415.2 315.7l2.1 -0.3l-1.1 -5.7l-1.9 0.6z" class="j53"/>
<path d="M395.6 310.1l-1.5 -1.4l-0.6 -5.2l1.6 2.4z" class="j64"/>
<path d="M395.1 305.9l-1.6 -2.4l-0.3 5.3l1.6 1.4z" class="j64"/>
<path d="M403.6 316.8l0.6 -1.3l-4.8 -1l0.4 1.5z" class="j47"/>
<path d="M410.7 314.9l1.8 -0.2l-2.9 0.3l-1.4 1.2z" class="j49"/>
<path d="M378.7 318.9l-2.3 -0.5l-2.3 3.9l2.6 -0.4z" class="j39"/>
<path d="M374.1 322.3l-2.3 -1.9l-0.8 3.3l2.3 -2.1z" class="j36"/>
<path d="M423.1 320.2l3.2 -0.8l-5.6 -1.9l-2.5 0.8z" class="j42"/>
<path d="M433 322.3l3.4 -0.1l-7.5 -2.3l-2.6 -0.5z" class="j38"/>
<path d="M373.3 321.6l-2.3 2.1l-0.3 0l2.3 -2.4z" class="j36"/>
<path d="M442.5 324.3l3.4 0.7l-6.6 -2l-2.9 -0.8z" class="j34"/>
<path d="M373 321.3l-2.3 2.4l-0.4 -1.3l2.4 -0.4z" class="j37"/>
<path d="M414 304.8l1.9 -2.2l-0.6 6.9l-1.8 0.2z" class="j68"/>
<path d="M406.7 317.2l1.5 -1l-4 -0.7l-0.6 1.3z" class="j49"/>
<path d="M414.3 310.3l1.9 -0.6l-0.3 -7.1l-1.9 2.2z" class="j68"/>
<path d="M376.7 321.9l-2.6 0.4l-0.8 -0.7l2.7 0.8z" class="j38"/>
<path d="M415.4 318.4l2.8 -0.1l-3 -2.6l-2.2 -0.1z" class="j48"/>
<path d="M387.2 318l-2.7 -0.4l-2.9 2.3l3.2 0.1z" class="j44"/>
<path d="M411.5 310.4l2 -0.7l-1 5l-1.8 0.2z" class="j57"/>
<path d="M392.4 317.1l-2.3 -1.2l-2.9 2.1l3 0.8z" class="j47"/>
<path d="M372.7 322l-2.4 0.4l-0.8 0.2l2.5 2z" class="j37"/>
<path d="M381.6 319.9l-2.9 -1l-2 3l3.1 -0.8z" class="j42"/>
<path d="M428.9 322.3l4.1 0l-6.7 -2.9l-3.2 0.8z" class="j41"/>
<path d="M376 322.4l-2.7 -0.8l-0.3 -0.3l2.7 1.5z" class="j39"/>
<path d="M413 315.6l2.2 0.1l-0.9 -5.4l-2.1 0.3z" class="j57"/>
<path d="M419.5 320.4l3.6 -0.2l-4.9 -1.9l-2.8 0.1z" class="j45"/>
<path d="M375.7 322.8l-2.7 -1.5l-0.3 0.7l2.8 0.8z" class="j40"/>
<path d="M438.5 324.4l4 -0.1l-6.1 -2.1l-3.4 0.1z" class="j37"/>
<path d="M375.5 322.8l-2.8 -0.8l-0.7 2.6l2.8 -1z" class="j38"/>
<path d="M400.2 317.2l-0.4 -1.2l-3 -1.8l1.3 0.5z" class="j53"/>
<path d="M408.7 315.1l2 -0.2l-2.5 1.3l-1.5 1z" class="j53"/>
<path d="M379.8 321.1l-3.1 0.8l-0.7 0.5l3.3 -0.7z" class="j42"/>
<path d="M398.1 314.7l-1.3 -0.5l-1.2 -4.1l1.6 0.7z" class="j60"/>
<path d="M372 324.6l-2.5 -2l-2.5 2.7l2.7 0z" class="j37"/>
<path d="M444.9 323l3.8 -2l-2.8 4l-3.4 -0.7z" class="j39"/>
<path d="M396.7 310.9l-1.9 -0.7l-0.6 4.4l2 0.4z" class="j60"/>
<path d="M379.3 321.7l-3.3 0.7l-0.3 0.4l3.3 -1z" class="j42"/>
<path d="M396.2 315l-2 -0.4l-1.8 2.5l2.6 0.9z" class="j53"/>
<path d="M411.9 305.9l2.1 -1.1l-0.5 4.9l-2 0.7z" class="j70"/>
<path d="M402.9 317.8l0.7 -1l-3.8 -0.8l0.4 1.2z" class="j52"/>
<path d="M412.2 310.6l2.1 -0.3l-0.3 -5.5l-2.1 1.1z" class="j70"/>
<path d="M379 321.8l-3.3 1l-0.2 0l3.3 -0.6z" class="j42"/>
<path d="M384.8 320l-3.2 -0.1l-1.8 1.2l3.5 0.2z" class="j45"/>
<path d="M433.7 323.7l4.8 0.7l-5.5 -2.1l-4.1 0z" class="j40"/>
<path d="M424.4 322.4l4.5 -0.1l-5.8 -2.1l-3.6 0.2z" class="j44"/>
<path d="M374.8 323.6l-2.8 1l-2.3 0.7l3 0.5z" class="j37"/>
<path d="M390.2 318.8l-3 -0.8l-2.4 2l3.5 0.3z" class="j48"/>
<path d="M378.8 322.2l-3.3 0.6l-0.7 0.8l3.4 -0.5z" class="j41"/>
<path d="M397.2 310.8l-1.6 -0.7l-0.5 -4.2l1.8 1.8z" class="j69"/>
<path d="M396.9 307.7l-1.8 -1.8l-0.3 4.3l1.9 0.7z" class="j69"/>
<path d="M412.4 318.9l3 -0.5l-2.4 -2.8l-2.5 0.1z" class="j53"/>
<path d="M440.8 320.8l4.1 2.2l-2.4 1.3l-4 0.1z" class="j41"/>
<path d="M409.4 310.7l2.1 -0.3l-0.8 4.5l-2 0.2z" class="j62"/>
<path d="M415.6 320.6l3.9 -0.2l-4.1 -2l-3 0.5z" class="j49"/>
<path d="M405.1 317.7l1.6 -0.5l-3.1 -0.4l-0.7 1z" class="j53"/>
<path d="M383.3 321.3l-3.5 -0.2l-0.5 0.6l3.6 0.1z" class="j45"/>
<path d="M395 318l-2.6 -0.9l-2.2 1.7l3.2 0.5z" class="j52"/>
<path d="M410.5 315.7l2.5 -0.1l-0.8 -5l-2.3 0.3z" class="j62"/>
<path d="M382.9 321.8l-3.6 -0.1l-0.3 0.1l3.7 0.2z" class="j46"/>
<path d="M378.2 323.1l-3.4 0.5l-2.1 2.2l3.7 -1.3z" class="j41"/>
<path d="M444.2 326.2l3.5 2.2l1.5 -6.8l-3.8 1.8z" class="j40"/>
<path d="M428.4 323.2l5.3 0.5l-4.8 -1.4l-4.5 0.1z" class="j44"/>
<path d="M382.7 322l-3.7 -0.2l-0.2 0.4l3.7 -0.1z" class="j45"/>
<path d="M435.6 320.7l5.2 0.1l-2.3 3.6l-4.8 -0.7z" class="j45"/>
<path d="M382.5 322.1l-3.7 0.1l-0.6 0.9l3.8 -0.5z" class="j45"/>
<path d="M388.3 320.3l-3.5 -0.3l-1.5 1.3l3.9 0.1z" class="j49"/>
<path d="M419.4 322.3l5 0.1l-4.9 -2l-3.9 0.2z" class="j47"/>
<path d="M446.2 314.5l3.8 -1l-1.3 7.5l-3.8 2z" class="j54"/>
<path d="M406.5 314.6l2.2 0.5l-2 2.1l-1.6 0.5z" class="j58"/>
<path d="M440 326.9l4.2 -0.7l1.2 -2.8l-4.2 -2z" class="j42"/>
<path d="M409.6 307.2l2.3 -1.3l-0.4 4.5l-2.1 0.3z" class="j73"/>
<path d="M369.7 325.3l-2.7 0l-4.2 4.2l3 -0.8z" class="j37"/>
<path d="M409.9 310.9l2.3 -0.3l-0.3 -4.7l-2.3 1.3z" class="j73"/>
<path d="M445.4 323.4l3.8 -1.8l0.8 -8.1l-3.8 1z" class="j55"/>
<path d="M387.2 321.4l-3.9 -0.1l-0.4 0.5l3.9 -0.1z" class="j49"/>
<path d="M441.9 313.9l4.3 0.6l-1.3 8.5l-4.1 -2.2z" class="j56"/>
<path d="M382 322.6l-3.8 0.5l-1.8 1.4l4.1 -0.5z" class="j45"/>
<path d="M393.4 319.3l-3.2 -0.5l-1.9 1.5l3.8 0z" class="j53"/>
<path d="M372.7 325.8l-3 -0.5l-3.9 3.4l3.4 0.2z" class="j38"/>
<path d="M386.8 321.7l-3.9 0.1l-0.2 0.2l3.9 -0.1z" class="j49"/>
<path d="M430 319.9l5.6 0.8l-1.9 3l-5.3 -0.5z" class="j49"/>
<path d="M386.6 321.9l-3.9 0.1l-0.2 0.1l4 -0.1z" class="j49"/>
<path d="M422.6 322.3l5.8 0.9l-4 -0.8l-5 -0.1z" class="j48"/>
<path d="M441.2 321.4l4.2 2l0.8 -8.9l-4.3 -0.6z" class="j56"/>
<path d="M440.9 331.6l3.4 -0.8l3.4 -2.4l-3.5 -2.2z" class="j35"/>
<path d="M409.1 318.9l3.3 0l-1.9 -3.2l-2.7 -0.7z" class="j58"/>
<path d="M434.9 325.9l5.1 1l1.2 -5.5l-5.2 0.1z" class="j45"/>
<path d="M411.4 320.5l4.2 0.1l-3.2 -1.7l-3.3 0z" class="j53"/>
<path d="M386.5 322l-4 0.1l-0.5 0.5l4.1 -0.2z" class="j49"/>
<path d="M400.6 317.2l-0.4 0l-2.1 -2.5l1.2 -1z" class="j62"/>
<path d="M402.2 318.2l0.7 -0.4l-2.7 -0.6l0.4 0z" class="j58"/>
<path d="M376.4 324.5l-3.7 1.3l-3.5 3.1l4.2 -1.4z" class="j41"/>
<path d="M437.1 330.3l3.8 1.3l3.3 -5.4l-4.2 0.7z" class="j37"/>
<path d="M407 310.6l2.4 0.1l-0.7 4.4l-2.2 -0.5z" class="j68"/>
<path d="M398.2 313.9l-2 1.1l-1.2 3l2.4 -0.3z" class="j62"/>
<path d="M436.6 314.8l5.3 -0.9l-1.1 6.9l-5.2 -0.1z" class="j59"/>
<path d="M399.3 313.7l-1.2 1l-0.9 -3.9l1.6 -0.5z" class="j69"/>
<path d="M392.1 320.3l-3.8 0l-1.1 1.1l4.1 -0.3z" class="j53"/>
<path d="M414.1 321.6l5.3 0.7l-3.8 -1.7l-4.2 -0.1z" class="j52"/>
<path d="M407.8 315l2.7 0.7l-0.6 -4.8l-2.6 -0.2z" class="j68"/>
<path d="M398.4 310.4l-1.7 0.5l-0.5 4.1l2 -1.1z" class="j69"/>
<path d="M386.1 322.4l-4.1 0.2l-1.5 1.4l4.4 -0.5z" class="j49"/>
<path d="M436 321.5l5.2 -0.1l0.7 -7.5l-5.3 0.9z" class="j59"/>
<path d="M429.4 325.1l5.5 0.8l1.1 -4.4l-5.7 -1z" class="j49"/>
<path d="M403.6 317l1.5 0.7l-2.2 0.1l-0.7 0.4z" class="j60"/>
<path d="M397.4 317.7l-2.4 0.3l-1.6 1.3l3.1 -0.2z" class="j58"/>
<path d="M432.4 329l4.7 1.3l2.9 -3.4l-5.1 -1z" class="j40"/>
<path d="M391.3 321.1l-4.1 0.3l-0.4 0.3l4.2 -0.4z" class="j53"/>
<path d="M423.8 319l6.2 0.9l-1.6 3.3l-5.8 -0.9z" class="j54"/>
<path d="M380.5 324l-4.1 0.5l-3 3l4.6 -0.9z" class="j45"/>
<path d="M398.8 310.3l-1.6 0.5l-0.3 -3.1l1.7 0.5z" class="j77"/>
<path d="M391 321.3l-4.2 0.4l-0.2 0.2l4.3 -0.5z" class="j53"/>
<path d="M398.6 308.2l-1.7 -0.5l-0.2 3.2l1.7 -0.5z" class="j77"/>
<path d="M390.9 321.4l-4.3 0.5l-0.1 0.1l4.3 -0.5z" class="j53"/>
<path d="M430.7 315l5.9 -0.2l-1 5.9l-5.6 -0.8z" class="j61"/>
<path d="M416.3 320.5l6.3 1.8l-3.2 0l-5.3 -0.7z" class="j53"/>
<path d="M390.8 321.5l-4.3 0.5l-0.4 0.4l4.4 -0.6z" class="j53"/>
<path d="M407.2 308l2.4 -0.8l-0.2 3.5l-2.4 -0.1z" class="j78"/>
<path d="M407.3 310.7l2.6 0.2l-0.3 -3.7l-2.4 0.8z" class="j78"/>
<path d="M430.3 320.5l5.7 1l0.6 -6.7l-5.9 0.2z" class="j61"/>
<path d="M427.2 327.7l5.2 1.3l2.5 -3.1l-5.5 -0.8z" class="j44"/>
<path d="M396.5 319.1l-3.1 0.2l-1.3 1l3.6 -0.5z" class="j58"/>
<path d="M404.4 312.8l2.1 1.8l-1.4 3.1l-1.5 -0.7z" class="j67"/>
<path d="M423.3 323.8l6.1 1.3l0.9 -4.6l-6.2 -1.1z" class="j54"/>
<path d="M384.9 323.5l-4.4 0.5l-2.5 2.6l5 -1.1z" class="j48"/>
<path d="M390.5 321.8l-4.4 0.6l-1.2 1.1l4.8 -1z" class="j53"/>
<path d="M365.8 328.7l-3 0.8l-5.1 6.3l3.5 -0.6z" class="j34"/>
<path d="M407.4 319.8l4 0.7l-2.3 -1.6l-3.1 -1.2z" class="j60"/>
<path d="M369.2 328.9l-3.4 -0.2l-4.6 6.5l3.9 -2.8z" class="j37"/>
<path d="M421.6 326.5l5.6 1.2l2.2 -2.6l-6.1 -1.3z" class="j48"/>
<path d="M395.7 319.8l-3.6 0.5l-0.8 0.8l3.9 -0.8z" class="j58"/>
<path d="M424.4 315l6.3 0l-0.7 4.9l-6.2 -0.9z" class="j64"/>
<path d="M406 317.7l3.1 1.2l-1.3 -3.9l-2.6 -1.9z" class="j67"/>
<path d="M409 319.9l5.1 1.7l-2.7 -1.1l-4 -0.7z" class="j58"/>
<path d="M417.2 317.1l6.6 1.9l-1.2 3.3l-6.3 -1.8z" class="j60"/>
<path d="M424.1 319.4l6.2 1.1l0.4 -5.5l-6.3 0z" class="j64"/>
<path d="M395.2 320.3l-3.9 0.8l-0.3 0.2l4 -0.8z" class="j58"/>
<path d="M373.4 327.5l-4.2 1.4l-4.1 3.5l4.7 -1.3z" class="j41"/>
<path d="M395 320.5l-4 0.8l-0.1 0.1l4 -0.9z" class="j58"/>
<path d="M389.7 322.5l-4.8 1l-1.9 2l5.4 -1.5z" class="j53"/>
<path d="M394.9 320.5l-4 0.9l-0.1 0.1l4.1 -0.9z" class="j58"/>
<path d="M437 335.4l3.1 -0.6l4.2 -4l-3.4 0.8z" class="j35"/>
<path d="M394.9 320.6l-4.1 0.9l-0.3 0.3l4.2 -1.1z" class="j58"/>
<path d="M433.5 332.9l3.5 2.5l3.9 -3.8l-3.8 -1.3z" class="j36"/>
<path d="M404.7 309.7l2.3 0.9l-0.5 4l-2.1 -1.8z" class="j76"/>
<path d="M401.7 317l0.5 1.2l-1.6 -1l0.3 -2.4z" class="j67"/>
<path d="M378 326.6l-4.6 0.9l-3.6 3.6l5.3 -1.3z" class="j44"/>
<path d="M416.8 321.5l6.5 2.3l0.8 -4.4l-6.8 -2z" class="j60"/>
<path d="M405.2 313.1l2.6 1.9l-0.5 -4.3l-2.4 -1z" class="j76"/>
<path d="M410.4 317.2l5.9 3.3l-2.2 1.1l-5.1 -1.7z" class="j62"/>
<path d="M394.7 320.7l-4.2 1.1l-0.8 0.7l4.5 -1.3z" class="j58"/>
<path d="M415.6 324.6l6 1.9l1.7 -2.7l-6.5 -2.3z" class="j53"/>
<path d="M429.2 331.9l4.3 1l3.6 -2.6l-4.7 -1.3z" class="j40"/>
<path d="M400.9 314.8l-0.3 2.4l-1.3 -3.5l0.9 -2.6z" class="j73"/>
<path d="M399.3 315.1l-1.9 2.6l-0.9 1.4l2.3 -1.7z" class="j67"/>
<path d="M383 325.5l-5 1.1l-2.9 3.2l5.6 -1.7z" class="j47"/>
<path d="M402.4 314.2l1.2 2.8l-1.4 1.2l-0.5 -1.2z" class="j69"/>
<path d="M399.7 311.2l-1.5 2.7l-0.8 3.8l1.9 -2.6z" class="j73"/>
<path d="M417.6 314.1l6.8 0.9l-0.6 4l-6.6 -1.9z" class="j69"/>
<path d="M424.6 330.1l4.6 1.8l3.2 -2.9l-5.2 -1.3z" class="j44"/>
<path d="M398.8 317.4l-2.3 1.7l-0.8 0.7l2.7 -1.4z" class="j65"/>
<path d="M417.3 317.4l6.8 2l0.3 -4.4l-6.8 -0.9z" class="j69"/>
<path d="M394.2 321.2l-4.5 1.3l-1.3 1.5l5 -2z" class="j58"/>
<path d="M404.8 307.9l2.4 0.1l-0.2 2.6l-2.3 -0.9z" class="j84"/>
<path d="M404.9 309.7l2.4 1l-0.1 -2.7l-2.4 -0.1z" class="j84"/>
<path d="M419.5 328.3l5.1 1.8l2.6 -2.4l-5.6 -1.2z" class="j47"/>
<path d="M400.2 311.1l-0.9 2.6l-0.5 -3.4l1.2 -1.6z" class="j81"/>
<path d="M388.4 324l-5.4 1.5l-2.3 2.6l6.1 -2.4z" class="j52"/>
<path d="M398.4 318.4l-2.7 1.4l-0.5 0.5l3 -1.4z" class="j65"/>
<path d="M399.8 308.7l-1.4 1.7l-0.2 3.5l1.5 -2.7z" class="j81"/>
<path d="M398.2 318.9l-3 1.4l-0.2 0.2l3.1 -1.5z" class="j64"/>
<path d="M404.3 317.8l3.1 2l-1.4 -2.1l-2.4 -3.2z" class="j69"/>
<path d="M398.1 319l-3.1 1.5l-0.1 0l3.2 -1.4z" class="j64"/>
<path d="M410.9 314.1l6.3 3l-0.9 3.4l-5.9 -3.3z" class="j69"/>
<path d="M398.1 319.1l-3.2 1.4l0 0.1l3.1 -1.5z" class="j64"/>
<path d="M405.1 316.2l3.9 3.7l-1.6 -0.1l-3.1 -2z" class="j67"/>
<path d="M398 319.1l-3.1 1.5l-0.2 0.1l3.2 -1.6z" class="j64"/>
<path d="M414.1 325.9l5.4 2.4l2.1 -1.8l-6 -1.9z" class="j52"/>
<path d="M409.9 321.7l5.7 2.9l1.2 -3.1l-6.1 -3.6z" class="j62"/>
<path d="M400 308.7l-1.2 1.6l-0.2 -2.1l1.3 -0.8z" class="j86"/>
<path d="M399.9 307.4l-1.3 0.8l-0.2 2.2l1.4 -1.7z" class="j86"/>
<path d="M397.9 319.1l-3.2 1.6l-0.5 0.5l3.5 -2.1z" class="j65"/>
<path d="M402.8 310.2l1.6 2.6l-0.8 4.2l-1.2 -2.8z" class="j77"/>
<path d="M410.7 317.9l6.1 3.6l0.5 -4.1l-6.3 -3.1z" class="j69"/>
<path d="M393.4 322l-5 2l-1.6 1.7l5.7 -3.4z" class="j58"/>
<path d="M403.6 314.5l2.4 3.2l-0.8 -4.6l-2 -2.8z" class="j77"/>
<path d="M361.2 335.2l-3.5 0.6l-4.2 3.1l3.8 -1.8z" class="j33"/>
<path d="M409 323.1l5.1 2.8l1.5 -1.3l-5.7 -2.9z" class="j58"/>
<path d="M397.7 319.1l-3.5 2.1l-0.8 0.8l3.9 -3.2z" class="j65"/>
<path d="M365.1 332.4l-3.9 2.8l-3.9 1.9l4.3 -1.7z" class="j37"/>
<path d="M375.1 329.8l-5.3 1.3l-2.9 2.7l5.7 -2.2z" class="j44"/>
<path d="M369.8 331.1l-4.7 1.3l-3.5 3l5.3 -1.6z" class="j41"/>
<path d="M411.2 312.1l6.4 2l-0.4 3l-6.3 -3z" class="j77"/>
<path d="M405.8 312.8l4.6 4.4l-1.4 2.7l-3.9 -3.7z" class="j73"/>
<path d="M380.7 328.1l-5.6 1.7l-2.5 1.8l6.2 -2.7z" class="j48"/>
<path d="M411 314.3l6.3 3.1l0.3 -3.3l-6.4 -2z" class="j77"/>
<path d="M386.8 325.7l-6.1 2.4l-1.9 0.8l6.7 -3.8z" class="j53"/>
<path d="M403 308.1l1.7 1.6l-0.3 3.1l-1.6 -2.6z" class="j86"/>
<path d="M397.3 318.8l-3.9 3.2l-0.9 0.3l4.3 -4.9z" class="j67"/>
<path d="M403.2 310.3l2 2.8l-0.3 -3.4l-1.8 -1.5z" class="j86"/>
<path d="M412.8 327l4.9 2.8l1.8 -1.5l-5.4 -2.4z" class="j53"/>
<path d="M405.1 319.4l3.9 3.7l0.9 -1.4l-4.3 -4.6z" class="j67"/>
<path d="M408.2 323.9l4.6 3.1l1.3 -1.1l-5.1 -2.8z" class="j58"/>
<path d="M417.7 329.8l4.6 2.4l2.3 -2.1l-5.1 -1.8z" class="j48"/>
<path d="M401.4 312l0.3 5l-0.8 -2.2l0.2 -4.9z" class="j80"/>
<path d="M400.1 313.5l-1.7 4.9l-0.2 0.5l1.8 -4.7z" class="j75"/>
<path d="M400.2 312.1l-1.4 5.3l-0.4 1l1.7 -4.9z" class="j77"/>
<path d="M422.3 332.2l4.2 2.2l2.7 -2.5l-4.6 -1.8z" class="j45"/>
<path d="M400 314.2l-1.8 4.7l-0.1 0.1l1.9 -4.5z" class="j74"/>
<path d="M400 314.5l-1.9 4.5l0 0.1l1.8 -4.6z" class="j74"/>
<path d="M392.5 322.3l-5.7 3.4l-1.3 -0.6l6.2 -5.1z" class="j62"/>
<path d="M399.9 314.5l-1.8 4.6l-0.1 0l1.9 -4.6z" class="j74"/>
<path d="M405.6 317.1l4.3 4.6l0.8 -3.8l-4.7 -4.8z" class="j73"/>
<path d="M426.5 334.4l3.9 2.5l3.1 -4l-4.3 -1z" class="j41"/>
<path d="M399.9 314.5l-1.9 4.6l-0.1 0l2 -4.8z" class="j74"/>
<path d="M430.4 336.9l3.2 1.4l3.4 -2.9l-3.5 -2.5z" class="j38"/>
<path d="M400.4 310l-1.1 5.1l-0.5 2.3l1.4 -5.3z" class="j80"/>
<path d="M404.7 320.4l3.5 3.5l0.8 -0.8l-3.9 -3.7z" class="j65"/>
<path d="M401.7 309.1l0.7 5.1l-0.7 2.8l-0.3 -5z" class="j82"/>
<path d="M399.9 314.3l-2 4.8l-0.2 0l2.1 -5.3z" class="j75"/>
<path d="M403 307.2l1.8 0.7l-0.1 1.8l-1.7 -1.6z" class="j91"/>
<path d="M433.6 338.3l2.8 0.4l3.7 -3.9l-3.1 0.6z" class="j36"/>
<path d="M403.1 308.2l1.8 1.5l-0.1 -1.8l-1.8 -0.7z" class="j91"/>
<path d="M406.1 310.6l4.8 3.5l-0.5 3.1l-4.6 -4.4z" class="j81"/>
<path d="M401.1 309.9l-0.2 4.9l-0.7 -3.7l0.6 -3.6z" class="j87"/>
<path d="M404.5 320.9l3.2 3.4l0.5 -0.4l-3.5 -3.5z" class="j65"/>
<path d="M406 313.1l4.7 4.8l0.3 -3.6l-4.9 -3.6z" class="j81"/>
<path d="M400.6 307.5l-0.9 3.7l-0.4 3.9l1.1 -5.1z" class="j87"/>
<path d="M402.8 310.4l2.3 5.8l-0.8 1.6l-1.8 -5.5z" class="j80"/>
<path d="M402.5 312.3l1.8 5.5l-0.7 -3.3l-1.4 -5.2z" class="j82"/>
<path d="M407.7 324.3l4.3 3.4l0.8 -0.7l-4.6 -3.1z" class="j58"/>
<path d="M399.8 313.8l-2.1 5.3l-0.4 -0.3l2.3 -6.1z" class="j77"/>
<path d="M404.4 321l3.2 3.5l0.1 -0.2l-3.2 -3.4z" class="j64"/>
<path d="M404.4 321.1l3.1 3.5l0.1 -0.1l-3.2 -3.5z" class="j64"/>
<path d="M404.3 321.1l3.2 3.5l0 0l-3.1 -3.5z" class="j64"/>
<path d="M404.3 321.1l3 3.7l0.2 -0.2l-3.2 -3.5z" class="j64"/>
<path d="M396.8 317.4l-4.3 4.9l-0.8 -2.3l4.7 -5.8z" class="j73"/>
<path d="M412 327.7l4.6 3.2l1.1 -1.1l-4.9 -2.8z" class="j53"/>
<path d="M407.6 324.5l4.1 3.5l0.3 -0.3l-4.3 -3.4z" class="j58"/>
<path d="M406.2 309.4l5 2.7l-0.3 2l-4.8 -3.5z" class="j86"/>
<path d="M406.1 310.7l4.9 3.6l0.2 -2.2l-5 -2.7z" class="j86"/>
<path d="M400.8 307.5l-0.6 3.6l-0.2 -2.4l0.7 -2.4z" class="j92"/>
<path d="M407.5 324.6l4.1 3.5l0.1 -0.1l-4.1 -3.5z" class="j58"/>
<path d="M378.8 328.9l-6.2 2.7l-1 -2.9l6.4 -2.9z" class="j54"/>
<path d="M385.5 325.1l-6.7 3.8l-0.8 -3.1l6.9 -3.9z" class="j60"/>
<path d="M400.6 306.3l-0.8 2.4l-0.1 2.5l0.9 -3.7z" class="j92"/>
<path d="M404 321.1l2.8 4.1l0.5 -0.4l-3 -3.7z" class="j65"/>
<path d="M407.5 324.6l4 3.6l0.1 -0.1l-4.1 -3.5z" class="j58"/>
<path d="M402.5 315l2 5.9l0.2 -0.5l-2.1 -6.1z" class="j75"/>
<path d="M402.6 314.3l2.1 6.1l0.4 -1l-2.3 -6.5z" class="j77"/>
<path d="M402.5 315.3l1.9 5.7l0.1 -0.1l-2 -5.9z" class="j74"/>
<path d="M402.5 315.3l1.9 5.8l0 -0.1l-1.9 -5.7z" class="j74"/>
<path d="M372.6 331.6l-5.7 2.2l-1.2 -2.4l5.9 -2.7z" class="j49"/>
<path d="M402.5 315.3l1.8 5.8l0.1 0l-1.9 -5.8z" class="j74"/>
<path d="M401.9 306.6l0.9 3.6l-0.4 4l-0.7 -5.1z" class="j90"/>
<path d="M407.3 324.8l4 3.7l0.2 -0.3l-4 -3.6z" class="j58"/>
<path d="M402.4 315.1l1.9 6l0 0l-1.8 -5.8z" class="j74"/>
<path d="M399.6 312.7l-2.3 6.1l-0.5 -1.4l2.6 -6.5z" class="j80"/>
<path d="M402.8 312.9l2.3 6.5l0.5 -2.3l-2.6 -6.3z" class="j80"/>
<path d="M397.2 318.3l-3.9 5.8l1.6 1.1l3.2 -4.8z" class="j67"/>
<path d="M416.6 330.9l4.3 2.6l1.4 -1.3l-4.6 -2.4z" class="j49"/>
<path d="M391.9 320.6l-6 5.6l2.2 2.5l5.2 -4.6z" class="j62"/>
<path d="M402.2 309.3l1.4 5.2l-0.4 -4.2l-1.2 -3.6z" class="j90"/>
<path d="M400.7 306.3l-0.7 2.4l-0.1 -1.3l0.8 -1.6z" class="j96"/>
<path d="M400.7 305.8l-0.8 1.6l-0.1 1.3l0.8 -2.4z" class="j96"/>
<path d="M366.9 333.8l-5.3 1.6l-1.4 -2.4l5.5 -1.6z" class="j45"/>
<path d="M391.7 320l-6.2 5.1l-0.6 -3.2l6.4 -4.9z" class="j69"/>
<path d="M403.1 308.2l2.7 4.6l-0.7 3.4l-2.3 -5.8z" class="j87"/>
<path d="M402.3 314.6l1.7 6.5l0.3 0l-1.9 -6z" class="j75"/>
<path d="M411.7 328l4.5 3.3l0.4 -0.4l-4.6 -3.2z" class="j53"/>
<path d="M393.3 324.1l-5.2 4.6l2.7 0.7l4.1 -4.2z" class="j58"/>
<path d="M385.9 326.2l-6.4 4.3l3.1 1.9l5.5 -3.7z" class="j53"/>
<path d="M403.6 320.8l2.4 5.2l0.8 -0.8l-2.8 -4.1z" class="j65"/>
<path d="M406.8 325.2l3.7 4.1l0.8 -0.8l-4 -3.7z" class="j58"/>
<path d="M411.6 328.1l4.5 3.3l0.1 -0.1l-4.5 -3.3z" class="j53"/>
<path d="M361.6 335.4l-4.3 1.7l-1.6 -2.8l4.5 -1.3z" class="j43"/>
<path d="M396.6 314.5l-4.7 6.1l1.4 3.5l3.9 -5.8z" class="j73"/>
<path d="M411.5 328.2l4.5 3.4l0.1 -0.2l-4.5 -3.3z" class="j53"/>
<path d="M420.9 333.5l4 2.8l1.6 -1.9l-4.2 -2.2z" class="j45"/>
<path d="M357.3 337.1l-3.8 1.8l-1.8 -2.4l4 -2.2z" class="j40"/>
<path d="M398.1 320.4l-3.2 4.8l1.4 -0.9l2.5 -6.2z" class="j68"/>
<path d="M403 310.8l2.6 6.3l0.4 -4l-2.9 -4.8z" class="j87"/>
<path d="M385.1 322.2l-6.9 4.1l1.3 4.2l6.4 -4.3z" class="j60"/>
<path d="M402.2 313.5l1.4 7.3l0.4 0.3l-1.7 -6.5z" class="j77"/>
<path d="M391.4 317.2l-6.3 5l0.8 4l6 -5.6z" class="j69"/>
<path d="M411.3 328.5l4.3 3.5l0.4 -0.4l-4.5 -3.4z" class="j53"/>
<path d="M401.9 305.7l1.1 2.4l-0.2 2.1l-0.9 -3.6z" class="j96"/>
<path d="M378.2 326.3l-6.4 3l1.6 4.2l6.1 -3z" class="j54"/>
<path d="M399.6 311.2l-2.4 7.1l0.9 2.1l1.8 -7z" class="j80"/>
<path d="M402 306.7l1.2 3.6l-0.1 -2.1l-1.1 -2.5z" class="j96"/>
<path d="M379.5 330.5l-6.1 3l4 1.8l5.2 -2.9z" class="j48"/>
<path d="M416.2 331.3l4.2 2.7l0.5 -0.5l-4.3 -2.6z" class="j49"/>
<path d="M424.9 336.3l3.6 2.1l1.9 -1.5l-3.9 -2.5z" class="j41"/>
<path d="M396.4 314.2l-4.7 5.8l-0.4 -3l5 -5z" class="j81"/>
<path d="M403.2 307.1l2.9 3.5l-0.3 2.2l-2.7 -4.6z" class="j92"/>
<path d="M394.9 325.2l-4.1 4.2l2.3 0.1l3.2 -5.2z" class="j59"/>
<path d="M399.4 310.9l-2.6 6.5l-0.4 -3.2l2.9 -5.5z" class="j87"/>
<path d="M388.1 328.7l-5.5 3.7l3.8 0.9l4.4 -3.9z" class="j52"/>
<path d="M399.9 313.4l-1.8 7l0.7 -2.3l1.4 -7.3z" class="j81"/>
<path d="M406 326l3.2 4.8l1.3 -1.5l-3.7 -4.1z" class="j58"/>
<path d="M403.1 308.3l2.9 4.8l0.1 -2.4l-2.9 -3.6z" class="j92"/>
<path d="M416.1 331.4l4.2 2.8l0.1 -0.2l-4.2 -2.7z" class="j49"/>
<path d="M401.9 305.3l1.1 1.9l0 0.9l-1.1 -2.4z" class="j99"/>
<path d="M403.1 319.4l2 7l0.9 -0.4l-2.4 -5.2z" class="j67"/>
<path d="M402 305.7l1.1 2.5l-0.1 -1l-1.1 -1.9z" class="j99"/>
<path d="M396.3 312.1l-4.9 5.1l0.5 3.4l4.7 -6.1z" class="j81"/>
<path d="M371.8 329.3l-5.9 2.3l1.9 4.7l5.6 -2.8z" class="j49"/>
<path d="M410.5 329.3l4 3.8l1.1 -1.1l-4.3 -3.5z" class="j53"/>
<path d="M416 331.6l4.1 2.8l0.2 -0.2l-4.2 -2.8z" class="j49"/>
<path d="M402 311.7l1.1 7.7l0.5 1.4l-1.4 -7.3z" class="j80"/>
<path d="M384.9 321.9l-6.9 3.9l-0.4 -3.9l7.1 -2.9z" class="j69"/>
<path d="M428.5 338.4l3 0.9l2.1 -1l-3.2 -1.4z" class="j39"/>
<path d="M391.3 317l-6.4 4.9l-0.2 -2.9l6.5 -4z" class="j77"/>
<path d="M399.3 308.8l-2.7 5.7l0.6 3.8l2.4 -7.1z" class="j87"/>
<path d="M403.2 306.6l3 2.8l-0.1 1.2l-2.9 -3.5z" class="j96"/>
<path d="M373.4 333.5l-5.6 2.8l4.7 2l4.9 -3z" class="j43"/>
<path d="M403.2 307.1l2.9 3.6l0.1 -1.3l-3 -2.8z" class="j96"/>
<path d="M391.2 315l-6.5 4l0.4 3.2l6.3 -5z" class="j77"/>
<path d="M384.7 319l-7.1 2.9l0.6 4.4l6.9 -4.1z" class="j69"/>
<path d="M420.4 334l3.9 2.4l0.6 -0.1l-4 -2.8z" class="j45"/>
<path d="M415.6 332l4 2.9l0.5 -0.5l-4.1 -2.8z" class="j49"/>
<path d="M365.9 331.6l-5.4 2.1l2.2 5.3l5.1 -2.7z" class="j45"/>
<path d="M378 325.8l-6.4 2.9l-0.5 -4.8l6.5 -2z" class="j64"/>
<path d="M398.8 318.1l-2.5 6.2l0.8 -3.4l2.1 -6.5z" class="j75"/>
<path d="M431.5 339.3l2.6 3.1l2.3 -3.7l-2.8 -0.4z" class="j37"/>
<path d="M396.3 312l-5 5l-0.1 -2l5 -4.1z" class="j86"/>
<path d="M396.2 310.9l-5 4.1l0.2 2.2l4.9 -5.1z" class="j86"/>
<path d="M401.2 302.4l-1.2 12.1l-0.1 0l1.3 -12.1z" class="j96"/>
<path d="M401.2 302.4l-1.3 12.1l0 0l1.3 -12.1z" class="j96"/>
<path d="M401.2 302.4l-1.2 11.8l0 0.3l1.2 -12.1z" class="j97"/>
<path d="M377.6 321.9l-6.5 2l0.7 5.4l6.4 -3z" class="j64"/>
<path d="M401.2 302.4l-1.3 12.1l0 -0.2l1.3 -11.9z" class="j97"/>
<path d="M420.3 334.2l3.8 2.6l0.2 -0.4l-3.9 -2.4z" class="j45"/>
<path d="M401.2 302.4l-1.1 11.1l-0.1 0.7l1.2 -11.8z" class="j97"/>
<path d="M399.3 308.7l-2.9 5.5l-0.1 -2.2l2.9 -4.3z" class="j92"/>
<path d="M401.2 302.4l-1.3 11.9l-0.1 -0.5l1.4 -11.4z" class="j97"/>
<path d="M360.5 333.7l-4.4 3l2.4 3.2l4.2 -0.9z" class="j42"/>
<path d="M401.2 302.4l-1 9.7l-0.1 1.4l1.1 -11.1z" class="j98"/>
<path d="M382.6 332.4l-5.2 2.9l4.8 1.2l4.2 -3.2z" class="j47"/>
<path d="M367.8 336.3l-5.1 2.7l5.4 1.4l4.4 -2.1z" class="j40"/>
<path d="M371.6 328.7l-5.9 2.7l-0.7 -5.7l6.1 -1.8z" class="j61"/>
<path d="M420.1 334.4l3.8 2.9l0.2 -0.5l-3.8 -2.6z" class="j45"/>
<path d="M400.7 310.1l-0.7 6.6l0.7 1.6l0.3 -6.2z" class="j86"/>
<path d="M399.2 307.7l-2.9 4.4l0.3 2.4l2.7 -5.7z" class="j92"/>
<path d="M401.2 302.4l0.2 9.6l-0.3 -2.1l0.1 -7.5z" class="j100"/>
<path d="M390.8 329.4l-4.4 3.9l3.2 0.6l3.5 -4.4z" class="j53"/>
<path d="M396.3 324.3l-3.2 5.2l1.4 -2.1l2.6 -6.5z" class="j64"/>
<path d="M400.2 310.8l-1.4 7.3l0.4 -3.7l1.2 -6z" class="j89"/>
<path d="M401 312.1l-0.3 6.2l0.8 -0.6l-0.2 -6.9z" class="j85"/>
<path d="M401.2 302.4l-0.8 7.6l-0.2 2.1l1 -9.7z" class="j100"/>
<path d="M424.3 336.4l3.6 2.2l0.6 -0.2l-3.6 -2.1z" class="j42"/>
<path d="M401.2 302.4l-1.4 11.4l-0.2 -1.1l1.6 -10.3z" class="j98"/>
<path d="M405.1 326.4l2.5 6.1l1.6 -1.7l-3.2 -4.8z" class="j58"/>
<path d="M401.2 302.4l0.5 6.7l-0.3 2.9l-0.2 -9.6z" class="j101"/>
<path d="M401.2 302.4l1.3 12.9l0 0l-1.3 -12.9z" class="j96"/>
<path d="M401.2 302.4l1.3 12.9l0 0l-1.3 -12.9z" class="j96"/>
<path d="M401.2 302.4l1.3 12.9l0 -0.3l-1.3 -12.6z" class="j97"/>
<path d="M401.2 302.4l1.2 12.7l0.1 0.2l-1.3 -12.9z" class="j97"/>
<path d="M401.2 302.4l1.3 12.6l0.1 -0.7l-1.4 -11.9z" class="j97"/>
<path d="M356.1 336.7l-4 0.8l2.6 5l3.8 -2.6z" class="j39"/>
<path d="M401.2 302.4l1.6 8l-0.3 1.9l-1.3 -9.9z" class="j100"/>
<path d="M400 316.7l-1.2 5.8l1.4 0.6l0.5 -4.8z" class="j75"/>
<path d="M401.2 302.4l1.3 9.9l-0.3 -3l-1 -6.9z" class="j101"/>
<path d="M414.5 333.1l3.7 3.3l1.4 -1.5l-4 -2.9z" class="j49"/>
<path d="M401.2 302.4l1.1 12.2l0.1 0.5l-1.2 -12.7z" class="j97"/>
<path d="M371.1 323.9l-6.1 1.8l0.9 5.9l5.9 -2.3z" class="j61"/>
<path d="M401.2 302.4l1.4 11.9l0.2 -1.4l-1.6 -10.5z" class="j98"/>
<path d="M401.8 309.5l1 6.7l0.3 3.2l-1.1 -7.7z" class="j87"/>
<path d="M401.2 302.4l-0.1 7.5l-0.3 -2.4l0.4 -5.1z" class="j103"/>
<path d="M419.6 334.9l3.7 2.6l0.6 -0.2l-3.8 -2.9z" class="j45"/>
<path d="M401.2 302.4l-0.6 5.1l-0.2 2.5l0.8 -7.6z" class="j103"/>
<path d="M399.2 307.7l-2.9 4.3l-0.1 -1.1l3 -3.7z" class="j96"/>
<path d="M409.2 330.8l3.4 4.5l1.9 -2.2l-4 -3.8z" class="j53"/>
<path d="M365.7 331.4l-5.5 1.6l-0.8 -5.7l5.6 -1.6z" class="j58"/>
<path d="M399.2 307.2l-3 3.7l0.1 1.2l2.9 -4.4z" class="j96"/>
<path d="M402.8 316.2l1.5 7.9l0.8 2.3l-2 -7z" class="j73"/>
<path d="M401.2 302.4l-1.6 10.3l-0.2 -1.8l1.8 -8.5z" class="j100"/>
<path d="M401.2 302.4l1.6 10.5l0.2 -2.1l-1.8 -8.4z" class="j100"/>
<path d="M399.6 313.9l-1.7 6.2l0.9 2.4l1.2 -5.8z" class="j79"/>
<path d="M400.7 318.3l-0.5 4.8l1.6 1l-0.3 -6.4z" class="j74"/>
<path d="M401.2 302.4l1 11.1l0.1 1.1l-1.1 -12.2z" class="j98"/>
<path d="M400.5 308.1l-0.9 5.8l0.4 2.8l0.7 -6.6z" class="j91"/>
<path d="M424.1 336.8l3.5 2.5l0.3 -0.7l-3.6 -2.2z" class="j42"/>
<path d="M401.2 302.4l-0.4 5.1l-0.1 -1.2l0.5 -3.9z" class="j105"/>
<path d="M401.2 302.4l-0.6 3.9l0 1.2l0.6 -5.1z" class="j105"/>
<path d="M362.7 339l-4.2 0.9l5.9 2.1l3.7 -1.6z" class="j38"/>
<path d="M401.2 302.4l0.7 4.2l-0.2 2.5l-0.5 -6.7z" class="j104"/>
<path d="M401.2 302.4l1.9 5.8l-0.3 2.2l-1.6 -8z" class="j103"/>
<path d="M427.9 338.6l2.9 3l0.7 -2.3l-3 -0.9z" class="j39"/>
<path d="M401.2 302.4l1 6.9l-0.2 -2.6l-0.8 -4.3z" class="j104"/>
<path d="M401.2 302.4l-0.5 3.9l0 -0.5l0.5 -3.4z" class="j106"/>
<path d="M401.2 302.4l-0.5 3.4l-0.1 0.5l0.6 -3.9z" class="j106"/>
<path d="M401.2 302.4l-1.6 8.8l0.3 2.2l1.3 -11z" class="j100"/>
<path d="M399.2 314.4l-2.1 6.5l0.3 -2.6l1.9 -5.8z" class="j83"/>
<path d="M423.9 337.3l3.5 1.6l0.2 0.4l-3.5 -2.5z" class="j42"/>
<path d="M401.2 302.4l1.8 8.4l0.1 -2.5l-1.9 -5.9z" class="j103"/>
<path d="M401.3 310.8l0.2 6.9l0.7 -2.2l-0.6 -6.3z" class="j89"/>
<path d="M365 325.7l-5.6 1.6l1.1 6.4l5.4 -2.1z" class="j58"/>
<path d="M401.2 302.4l-1.3 11l0.3 -2.6l1 -8.4z" class="j101"/>
<path d="M401.2 302.4l0.8 9.3l0.2 1.8l-1 -11.1z" class="j100"/>
<path d="M400.4 308.4l-1.2 6l0.1 -1.9l1.1 -5.1z" class="j94"/>
<path d="M401.2 302.4l-1.8 8.5l-0.1 -2.2l1.9 -6.3z" class="j103"/>
<path d="M377.4 335.3l-4.9 3l5.9 1.5l3.8 -3.3z" class="j44"/>
<path d="M401.2 302.4l0.7 3.3l0 0.9l-0.7 -4.2z" class="j107"/>
<path d="M401.2 302.4l2 4.7l-0.1 1.1l-1.9 -5.8z" class="j105"/>
<path d="M401.2 302.4l0.8 4.3l0 -1l-0.8 -3.3z" class="j107"/>
<path d="M360.2 333l-4.5 1.3l-0.9 -7.2l4.6 0.2z" class="j57"/>
<path d="M401.2 302.4l1.9 5.9l0.1 -1.2l-2 -4.7z" class="j105"/>
<path d="M401.2 302.4l-1.9 6.4l0.3 2.4l1.6 -8.8z" class="j103"/>
<path d="M400.5 307.4l-1.1 5l0.2 1.5l0.9 -5.8z" class="j95"/>
<path d="M399.4 312.4l-1.8 5.7l0.3 2l1.7 -6.2z" class="j84"/>
<path d="M401.2 302.4l0.7 2.9l0 0.4l-0.7 -3.3z" class="j107"/>
<path d="M401.2 302.4l0.8 3.3l-0.1 -0.4l-0.7 -2.9z" class="j107"/>
<path d="M401.2 302.4l2 4.2l0 0.5l-2 -4.7z" class="j106"/>
<path d="M401.2 302.4l2 4.7l0 -0.5l-2 -4.2z" class="j106"/>
<path d="M430.8 341.6l2.6 0.4l0.7 0.4l-2.6 -3.1z" class="j37"/>
<path d="M401.2 302.4l-0.5 7.7l0.3 2l0.2 -9.7z" class="j102"/>
<path d="M401.2 302.4l-0.2 9.7l0.3 -1.3l-0.1 -8.4z" class="j102"/>
<path d="M427.6 339.3l3 0.8l0.2 1.5l-2.9 -3z" class="j39"/>
<path d="M393.1 329.5l-3.5 4.4l2 -0.9l2.9 -5.6z" class="j56"/>
<path d="M423.3 337.5l3.5 2.3l0.6 -0.9l-3.5 -1.6z" class="j42"/>
<path d="M401.5 317.7l0.3 6.4l1.4 -1.1l-1 -7.5z" class="j77"/>
<path d="M401.2 302.4l-1.9 6.3l-0.1 -1l2 -5.3z" class="j105"/>
<path d="M400.4 307.4l-1.1 5.1l0.1 -0.9l1.1 -4.6z" class="j97"/>
<path d="M358.5 339.9l-3.8 2.6l6.5 0.3l3.2 -0.8z" class="j36"/>
<path d="M401.2 302.4l-1 8.4l0.2 -2.4l0.8 -6z" class="j104"/>
<path d="M400.5 307l-1.1 4.6l0 0.8l1.1 -5z" class="j97"/>
<path d="M401.8 308.4l0.8 5.6l0.2 2.2l-1 -6.7z" class="j92"/>
<path d="M359.4 327.3l-4.6 -0.2l1.3 9.6l4.4 -3z" class="j56"/>
<path d="M401.2 302.4l-2 5.3l0.1 1.1l1.9 -6.4z" class="j105"/>
<path d="M397.1 320.9l-2.6 6.5l0.4 -2.8l2.5 -6.3z" class="j72"/>
<path d="M401.2 302.4l0.6 7.1l0.2 2.2l-0.8 -9.3z" class="j103"/>
<path d="M418.2 336.4l3.4 3l1.7 -1.9l-3.7 -2.6z" class="j45"/>
<path d="M386.4 333.3l-4.2 3.2l4.2 1l3.2 -3.6z" class="j49"/>
<path d="M399.3 312.5l-1.9 5.8l0.1 -1.4l1.9 -5.3z" class="j87"/>
<path d="M401.2 302.4l-2 5.3l0 -0.5l2 -4.8z" class="j106"/>
<path d="M401.2 302.4l-2 4.8l0 0.5l2 -5.3z" class="j106"/>
<path d="M401.2 302.4l-0.7 5.7l0.2 2l0.5 -7.7z" class="j105"/>
<path d="M397.9 320.1l-2.1 6.3l1.4 1.4l1.6 -5.3z" class="j70"/>
<path d="M401.6 309.2l0.6 6.3l0.2 -1.7l-0.7 -5.5z" class="j93"/>
<path d="M399.4 311.6l-1.9 5.3l0.1 1.2l1.8 -5.7z" class="j88"/>
<path d="M401.2 302.4l0.1 8.4l0.3 -1.6l-0.4 -6.8z" class="j104"/>
<path d="M355.7 334.3l-4 2.2l-1 -9l4.1 -0.4z" class="j56"/>
<path d="M427.4 338.9l2.9 2.2l0.3 -1l-3 -0.8z" class="j40"/>
<path d="M401.2 302.4l-0.8 6l0 -1l0.8 -5z" class="j106"/>
<path d="M430.6 340.1l2.4 3.9l0.4 -2l-2.6 -0.4z" class="j37"/>
<path d="M401.2 302.4l-0.7 5l0 0.7l0.7 -5.7z" class="j106"/>
<path d="M401.2 302.4l0.6 6l0 1.1l-0.6 -7.1z" class="j105"/>
<path d="M398.8 322.5l-1.6 5.3l2.3 0.6l0.7 -5.3z" class="j68"/>
<path d="M404.3 324.1l2.1 7.9l1.2 0.5l-2.5 -6.1z" class="j62"/>
<path d="M401.2 302.4l0.4 6.8l0.1 -0.9l-0.5 -5.9z" class="j106"/>
<path d="M401.2 302.4l-0.8 5l0.1 -0.4l0.7 -4.6z" class="j107"/>
<path d="M401.2 302.4l-0.7 4.6l0 0.4l0.7 -5z" class="j107"/>
<path d="M397.6 318.1l-2.3 6.2l0.5 2.1l2.1 -6.3z" class="j74"/>
<path d="M401.7 307.9l0.9 5l0 1.1l-0.8 -5.6z" class="j96"/>
<path d="M401.2 302.4l0.5 5.5l0.1 0.5l-0.6 -6z" class="j106"/>
<path d="M401.2 302.4l0.5 5.9l0 -0.4l-0.5 -5.5z" class="j106"/>
<path d="M401.7 308.3l0.7 5.5l0.2 -0.9l-0.9 -5z" class="j96"/>
<path d="M354.8 327.1l-4.1 0.4l1.4 10l4 -0.8z" class="j55"/>
<path d="M402.6 314l1.4 7.1l0.3 3l-1.5 -7.9z" class="j81"/>
<path d="M430.3 341.1l2.4 3.1l0.3 -0.2l-2.4 -3.9z" class="j36"/>
<path d="M412.6 335.3l3.2 3.8l2.4 -2.7l-3.7 -3.3z" class="j48"/>
<path d="M426.8 339.8l2.8 3.2l0.7 -1.9l-2.9 -2.2z" class="j39"/>
<path d="M372.5 338.3l-4.4 2.1l6.7 1.6l3.6 -2.2z" class="j40"/>
<path d="M407.6 332.5l2.8 5.4l2.2 -2.6l-3.4 -4.5z" class="j52"/>
<path d="M397.4 318.3l-2.5 6.3l0.2 -1.8l2.4 -5.9z" class="j78"/>
<path d="M402.2 315.5l1 7.5l0.5 -2.3l-1.3 -6.9z" class="j82"/>
<path d="M400.2 323.1l-0.7 5.3l2.7 1.8l-0.4 -6.1z" class="j67"/>
<path d="M397.5 316.9l-2.4 5.9l0.2 1.5l2.3 -6.2z" class="j78"/>
<path d="M429.6 343l2.4 1.9l0.7 -0.7l-2.4 -3.1z" class="j35"/>
<path d="M421.6 339.4l3.2 3.5l2 -3.1l-3.5 -2.3z" class="j42"/>
<path d="M394.5 327.4l-2.9 5.6l0.7 -2.6l2.6 -5.8z" class="j63"/>
<path d="M389.6 333.9l-3.2 3.6l2.5 -0.2l2.7 -4.3z" class="j51"/>
<path d="M382.2 336.5l-3.8 3.3l5 0.9l3 -3.2z" class="j45"/>
<path d="M402.6 312.9l1.3 6.2l0.1 2l-1.4 -7.1z" class="j86"/>
<path d="M368.1 340.4l-3.7 1.6l7.5 3l2.9 -3z" class="j38"/>
<path d="M402.4 313.8l1.3 6.9l0.2 -1.6l-1.3 -6.2z" class="j87"/>
<path d="M401.8 324.1l0.4 6.1l2.3 0.4l-1.3 -7.6z" class="j67"/>
<path d="M395.8 326.4l-2.4 5.5l2 0.8l1.8 -4.9z" class="j62"/>
<path d="M424.8 342.9l2.6 2.7l2.2 -2.6l-2.8 -3.2z" class="j38"/>
<path d="M395.3 324.3l-2.5 5.7l0.6 1.9l2.4 -5.5z" class="j65"/>
<path d="M394.9 324.6l-2.6 5.8l0.2 -2.1l2.6 -5.5z" class="j69"/>
<path d="M404 321.1l1.9 7.6l0.5 3.3l-2.1 -7.9z" class="j69"/>
<path d="M415.8 339.1l3 3.5l2.8 -3.2l-3.4 -3z" class="j45"/>
<path d="M364.4 342l-3.2 0.8l8.2 5.1l2.5 -2.9z" class="j36"/>
<path d="M395.1 322.8l-2.6 5.5l0.3 1.7l2.5 -5.7z" class="j70"/>
<path d="M427.4 345.6l2.3 2.7l2.3 -3.4l-2.4 -1.9z" class="j34"/>
<path d="M397.2 327.8l-1.8 4.9l3.3 1.2l0.8 -5.5z" class="j62"/>
<path d="M391.6 333l-2.7 4.3l0.8 -2.2l2.6 -4.7z" class="j56"/>
<path d="M406.4 332l2.2 6.8l1.8 -0.9l-2.8 -5.4z" class="j53"/>
<path d="M403.2 323l1.3 7.6l0.8 -2.4l-1.6 -7.5z" class="j72"/>
<path d="M378.4 339.8l-3.6 2.2l5.8 2.4l2.8 -3.7z" class="j41"/>
<path d="M410.4 337.9l2.6 4.5l2.8 -3.3l-3.2 -3.8z" class="j47"/>
<path d="M386.4 337.5l-3 3.2l3 0.4l2.5 -3.8z" class="j47"/>
<path d="M399.5 328.4l-0.8 5.5l4 2.1l-0.5 -5.8z" class="j61"/>
<path d="M418.8 342.6l2.8 4.2l3.2 -3.9l-3.2 -3.5z" class="j41"/>
<path d="M392.8 330l-2.4 4.7l0.8 1.6l2.2 -4.4z" class="j59"/>
<path d="M403.9 319.1l1.8 6.7l0.2 2.9l-1.9 -7.6z" class="j77"/>
<path d="M403.7 320.7l1.6 7.5l0.4 -2.4l-1.8 -6.7z" class="j78"/>
<path d="M392.3 330.4l-2.6 4.7l0.3 -2.2l2.5 -4.6z" class="j62"/>
<path d="M393.4 331.9l-2.2 4.4l2.6 0.7l1.6 -4.3z" class="j57"/>
<path d="M392.5 328.3l-2.5 4.6l0.4 1.8l2.4 -4.7z" class="j63"/>
<path d="M374.8 342l-2.9 3l6.4 0.6l2.3 -1.2z" class="j39"/>
<path d="M388.9 337.3l-2.5 3.8l1 -1.8l2.3 -4.2z" class="j51"/>
<path d="M402.2 330.2l0.5 5.8l3.2 1.4l-1.4 -6.8z" class="j60"/>
<path d="M383.4 340.7l-2.8 3.7l3.5 0.6l2.3 -3.9z" class="j43"/>
<path d="M421.6 346.8l2.3 1.7l3.5 -2.9l-2.6 -2.7z" class="j37"/>
<path d="M405.9 328.7l2 7l0.7 3.1l-2.2 -6.8z" class="j60"/>
<path d="M395.4 332.7l-1.6 4.3l4.2 1.7l0.7 -4.8z" class="j57"/>
<path d="M371.9 345l-2.5 2.9l6.9 0.4l2 -2.7z" class="j36"/>
<path d="M413 342.4l2.5 4.1l3.3 -3.9l-3 -3.5z" class="j44"/>
<path d="M390.4 334.7l-2.2 4.3l1 1.1l2 -3.8z" class="j54"/>
<path d="M389.7 335.1l-2.3 4.2l0.4 -2l2.2 -4.4z" class="j57"/>
<path d="M408.6 338.8l2.1 5.5l2.3 -1.9l-2.6 -4.5z" class="j48"/>
<path d="M404.5 330.6l1.4 6.8l1.2 -2.3l-1.8 -6.9z" class="j63"/>
<path d="M390 332.9l-2.2 4.4l0.4 1.7l2.2 -4.3z" class="j57"/>
<path d="M386.4 341.1l-2.3 3.9l1.1 -2l2.2 -3.7z" class="j46"/>
<path d="M391.2 336.3l-2 3.8l3.1 1l1.5 -4.1z" class="j53"/>
<path d="M423.9 348.5l1.9 2l3.9 -2.2l-2.3 -2.7z" class="j35"/>
<path d="M380.6 344.4l-2.3 1.2l3.9 2l1.9 -2.6z" class="j40"/>
<path d="M398.7 333.9l-0.7 4.8l5.1 2.4l-0.4 -5.1z" class="j56"/>
<path d="M405.7 325.8l2 6l0.2 3.9l-2 -7z" class="j69"/>
<path d="M405.3 328.2l1.8 6.9l0.6 -3.3l-2 -6z" class="j70"/>
<path d="M387.4 339.3l-2.2 3.7l0.5 -1.5l2.1 -4.2z" class="j51"/>
<path d="M378.3 345.6l-2 2.7l4.2 3.1l1.7 -3.8z" class="j37"/>
<path d="M388.2 339l-2 3.7l1.1 0.8l1.9 -3.4z" class="j50"/>
<path d="M415.5 346.5l2.2 4.6l3.9 -4.3l-2.8 -4.2z" class="j40"/>
<path d="M393.8 337l-1.5 4.1l5.1 2l0.6 -4.4z" class="j53"/>
<path d="M387.8 337.3l-2.1 4.2l0.5 1.2l2 -3.7z" class="j52"/>
<path d="M384.1 345l-1.9 2.6l1.3 -1.2l1.7 -3.4z" class="j42"/>
<path d="M402.7 336l0.4 5.1l4.1 2l-1.3 -5.7z" class="j54"/>
<path d="M389.2 340.1l-1.9 3.4l3.6 1l1.4 -3.4z" class="j49"/>
<path d="M407.9 335.7l2 5.7l0.8 2.9l-2.1 -5.5z" class="j54"/>
<path d="M385.2 343l-1.7 3.4l0.5 -1.4l1.7 -3.5z" class="j47"/>
<path d="M410.7 344.3l2 4.9l2.8 -2.7l-2.5 -4.1z" class="j44"/>
<path d="M382.2 347.6l-1.7 3.8l1.4 -2.6l1.6 -2.4z" class="j38"/>
<path d="M385.7 341.5l-1.7 3.5l0.5 0.1l1.7 -2.4z" class="j48"/>
<path d="M405.9 337.4l1.3 5.7l1.6 -2.2l-1.7 -5.8z" class="j57"/>
<path d="M386.2 342.7l-1.7 2.4l1.3 0.8l1.5 -2.4z" class="j47"/>
<path d="M398 338.7l-0.6 4.4l6.1 3.2l-0.4 -5.2z" class="j51"/>
<path d="M417.7 351.1l1.8 3.3l4.4 -5.9l-2.3 -1.7z" class="j36"/>
<path d="M392.3 341.1l-1.4 3.4l5.9 2.9l0.6 -4.3z" class="j49"/>
<path d="M387.3 343.5l-1.5 2.4l3.9 2.1l1.2 -3.5z" class="j46"/>
<path d="M383.5 346.4l-1.6 2.4l0.5 -4l1.6 0.2z" class="j45"/>
<path d="M407.7 331.8l1.8 4.7l0.4 4.9l-2 -5.7z" class="j64"/>
<path d="M384 345l-1.6 -0.2l0.6 2.2l1.5 -1.9z" class="j47"/>
<path d="M384.5 345.1l-1.5 1.9l1.4 1.1l1.4 -2.2z" class="j46"/>
<path d="M403.1 341.1l0.4 5.2l4.9 1.6l-1.2 -4.8z" class="j49"/>
<path d="M407.1 335.1l1.7 5.8l0.7 -4.4l-1.8 -4.7z" class="j65"/>
<path d="M419.5 354.4l1.7 1.2l4.6 -5.1l-1.9 -2z" class="j36"/>
<path d="M385.8 345.9l-1.4 2.2l4.3 4.2l1 -4.3z" class="j43"/>
<path d="M412.7 349.2l1.8 4l3.2 -2.1l-2.2 -4.6z" class="j40"/>
<path d="M409.9 341.4l1.7 5.3l1.1 2.5l-2 -4.9z" class="j49"/>
<path d="M390.9 344.5l-1.2 3.5l6.6 2.5l0.5 -3.1z" class="j45"/>
<path d="M397.4 343.1l-0.6 4.3l7.1 2.9l-0.4 -4z" class="j47"/>
<path d="M407.2 343.1l1.2 4.8l2 -1.6l-1.6 -5.4z" class="j52"/>
<path d="M389.7 348l-1 4.3l7.2 2.9l0.4 -4.7z" class="j40"/>
<path d="M414.5 353.2l1.5 4.4l3.5 -3.2l-1.8 -3.3z" class="j37"/>
<path d="M403.5 346.3l0.4 4l5.7 3.1l-1.2 -5.5z" class="j45"/>
<path d="M396.8 347.4l-0.5 3.1l7.8 3.7l-0.2 -3.9z" class="j44"/>
<path d="M409.5 336.5l1.7 4.1l0.4 6.1l-1.7 -5.3z" class="j61"/>
<path d="M408.8 340.9l1.6 5.4l0.8 -5.7l-1.7 -4.1z" class="j62"/>
<path d="M411.6 346.7l1.7 5.3l1.2 1.2l-1.8 -4z" class="j45"/>
<path d="M408.4 347.9l1.2 5.5l2.2 -1.8l-1.4 -5.3z" class="j47"/>
<path d="M416 357.6l1.3 4.2l3.9 -6.2l-1.7 -1.2z" class="j34"/>
<path d="M396.3 350.5l-0.4 4.7l8.5 1.1l-0.3 -2.1z" class="j40"/>
<path d="M403.9 350.3l0.2 3.9l6.4 3.8l-0.9 -4.6z" class="j41"/>
<path d="M413.3 352l1.4 2.7l1.3 2.9l-1.5 -4.4z" class="j42"/>
<path d="M411.2 340.6l1.6 4.5l0.5 6.9l-1.7 -5.3z" class="j58"/>
<path d="M410.4 346.3l1.4 5.3l1 -6.5l-1.6 -4.5z" class="j59"/>
<path d="M409.6 353.4l0.9 4.6l2.5 -1.9l-1.2 -4.5z" class="j43"/>
<path d="M404.1 354.2l0.3 2.1l7 3l-0.9 -1.3z" class="j40"/>
<path d="M414.7 354.7l1.2 3.9l1.4 3.2l-1.3 -4.2z" class="j39"/>
<path d="M410.5 358l0.9 1.3l2.7 -0.5l-1.1 -2.7z" class="j41"/>
<path d="M412.8 345.1l1.4 1.8l0.5 7.8l-1.4 -2.7z" class="j56"/>
<path d="M411.8 351.6l1.2 4.5l1.2 -9.2l-1.4 -1.8z" class="j56"/>
<path d="M414.2 346.9l1.1 3.4l0.6 8.3l-1.2 -3.9z" class="j56"/>
<path d="M413 356.1l1.1 2.7l1.2 -8.5l-1.1 -3.4z" class="j55"/>
<defs><linearGradient id="wg4" gradientUnits="userSpaceOnUse" x1="351.5" y1="350.5" x2="351.5" y2="327.7" gradientTransform="matrix(1 0.3543 0 1 0 -124.52)"><stop offset="0" stop-color="#5a6aff"/><stop offset="0.35" stop-color="#2438ff"/><stop offset="0.7" stop-color="#1060ff"/><stop offset="1" stop-color="#10a0ff"/></linearGradient></defs><path d="M350.6 327.7l2.3 11.5l2 1.8l1.9 0.8l2 0.6l1.9 0.6l1.9 0.7l2 0.5l1.9 0.6l2 0.6l2 0.6l1.9 0.6l2 0.6l2 0.6l2 0.5l2 0.5l1.9 -3.4l2.1 3.1l2 0.5l2 0.7l2.1 0.8l2 0.8l2.1 0.9l2 0.8l2.1 0.8l2 0.9l2.1 0.9l2.1 0.8l2 0.9l2.1 0.8l2.1 0.9l2.1 0l2.1 -7.9l-0.1 9.9l-0.7 3.5l-0.7 2.8l-0.6 -3.5l-0.7 4.1l-0.7 2.4l-0.6 -4.1l-0.7 -2.4l-0.6 5.6l-0.7 -2.2l-0.6 -3.6l-0.7 3l-0.6 2l-0.6 -5.7l-0.7 4.2l-0.7 -1.4l-0.6 -3.6l-0.6 -0.5l-0.7 5.1l-0.6 -4.5l-0.7 0.4l-0.6 1.2l-0.7 -1.8l-0.6 -3.3l-0.6 1.6l-0.7 1.2l-0.6 1.7l-0.6 -1.3l-0.7 -1.5l-0.6 -2l-0.7 3.9l-0.6 -4.4l-0.6 3.4l-0.7 -1.8l-0.6 0.1l-0.6 -1.4l-0.7 -1.5l-0.6 -0.5l-0.6 3l-0.7 -2.8l-0.6 -2.1l-0.7 1l-0.5 4.8l-0.7 -1.6l-0.6 -1.2l-0.7 -1.4l-0.6 2.7l-0.6 -4l-0.6 2.4l-0.7 -4.6l-0.6 3.7l-0.6 0.2l-0.6 0.6l-0.7 -3.6l-0.5 3.7l-0.7 -1.9l-0.5 4l-0.8 -6.4l-0.6 -0.2l-0.6 0.4l-0.6 1.5l-0.5 3.5l-0.7 -2.4l-0.6 0.5l-0.7 -4.4l-0.6 0.7l-0.6 1.2l-0.6 1.6l-0.6 0.6l-0.6 -1.4l-0.7 -2.2l-0.6 -0.9l-0.6 1.5l-0.6 -1.3l-0.5 3.2l-0.6 0.8l-0.6 -0.8l-0.8 -4.9l-0.5 4.4l-0.7 -5.5l-0.6 0.7l-0.5 3.6l-0.7 -2.7l-0.5 3.2l-0.6 -1.1l-0.6 -0.5l-0.6 -0.5l-0.6 1.9l-0.6 -0.7l-0.8 -5.7l-0.4 6.3l-0.7 -3.9l-0.6 -1.2l-0.5 3.7l-0.6 0.1l-0.6 -1.2l-0.6 -0.7l-0.8 -5.2l-0.5 1.3l-0.5 2.8l-0.6 -0.2l-0.9 -7.7l-0.7 -2.1l-0.4 -6.9z" fill="url(#wg4)"/>
<defs><linearGradient id="wg5" gradientUnits="userSpaceOnUse" x1="415" y1="373" x2="415" y2="349.6" gradientTransform="matrix(1 -1.1062 0 1 0 459.1)"><stop offset="0" stop-color="#5a6aff"/><stop offset="0.35" stop-color="#2438ff"/><stop offset="0.7" stop-color="#1060ff"/><stop offset="1" stop-color="#10a0ff"/></linearGradient></defs><path d="M415.3 351.1l1 8.1l1.2 0.1l1.1 -1.1l1.2 -1.2l1.1 -1.3l1.1 -1.3l1.2 -1.3l1.1 -1.3l1.1 -1.3l1.1 -1.3l1.1 -1.3l1.1 -1.3l1.1 -1.2l1.1 -1.2l1.1 -1.2l1.1 -1.2l1.1 -1.2l1 -1.1l1.1 -1.1l1.1 -1.1l1 -1.1l1.1 -1l1 -1l1 -1.1l1.1 -1l1 -1l1 -1.1l1 -1l1 -1.1l1 -1.2l1.1 -2.4l1.3 -11.3l-0.3 9.1l-0.5 3.6l-0.3 1.4l-0.4 2.4l-0.4 3.7l-0.3 0.1l-0.4 1.9l-0.2 -1.8l-0.4 2l-0.3 -1.1l-0.4 3l-0.1 -4.8l-0.5 4.3l-0.3 0.3l-0.2 -3.2l-0.5 5.1l-0.2 -0.6l-0.4 2.5l-0.2 -4.8l-0.3 1.9l-0.5 3.3l-0.3 0.8l-0.3 -1.4l-0.2 -1.9l-0.4 3l-0.3 -1.7l-0.3 0.9l-0.4 1.3l-0.3 2l-0.2 -5.9l-0.4 5l-0.4 1.8l-0.2 -3.3l-0.3 -0.6l-0.4 2.6l-0.2 -3.4l-0.5 5.6l-0.3 -1.8l-0.3 1.5l-0.4 1.2l-0.2 -4.8l-0.3 1.5l-0.4 1.9l-0.3 1.6l-0.3 -1.3l-0.4 -0.2l-0.2 -1.4l-0.4 3.1l-0.5 3.8l-0.1 -5.8l-0.5 4.2l-0.2 -2.3l-0.5 5.6l-0.3 -0.7l-0.2 -3.7l-0.5 5.5l-0.2 -4.1l-0.4 3l-0.3 -2.6l-0.4 0.6l-0.3 -1.2l-0.3 2l-0.4 1.2l-0.3 -2.3l-0.3 0.3l-0.4 0.4l-0.4 6.4l-0.3 -2.8l-0.4 3.8l-0.3 -2.6l-0.4 1l-0.3 -0.9l-0.4 3.2l-0.3 -2.6l-0.4 3.6l-0.3 -2.4l-0.3 -1.4l-0.4 2.4l-0.3 -2.3l-0.4 2.9l-0.3 0.4l-0.4 2.6l-0.4 2.5l-0.2 -5.5l-0.4 3.6l-0.4 2l-0.4 -0.7l-0.3 -2.7l-0.3 1.7l-0.4 4l-0.4 -2.5l-0.3 1.5l-0.3 -2.2l-0.4 3.8l-0.4 -1.2l-0.4 1.9l-0.3 -3.3l-0.3 -0.1l-0.4 -0.3l-0.4 2.5l-0.3 -4.7l-0.3 -0.8l-0.3 -3.6l-0.1 -3.1z" fill="url(#wg5)"/>
<path d="M401.6 313.7l2 -1.9l0.1 -17.6l-2.1 1.8z" fill="url(#fadeS)"/>
<path d="M404.3 313.4l2.1 -2l0.1 -16.3l-2.1 2z" fill="url(#fadeS)"/>
<path d="M409.9 310.4l2.7 -2.6l0.2 -25.4l-2.8 2.5z" fill="url(#fadeS)"/>
<path d="M413.3 308.3l2 -1.9l0.2 -23l-2 1.9z" fill="url(#fadeS)"/>
<g transform="matrix(0.48051 0 0 0.53794 287.261 375.918)" font-family="DejaVu Sans, sans-serif"><path d="M123.2 242L211.1 168.3L209.9 62.1L117.8 129.3" fill="#f2f2f2" opacity="0.5" stroke="#f2f2f2" stroke-width="1.45"/>
<path d="M211.1 168.3L352.1 209.3L357.1 99.4L209.9 62.1" fill="#e6e6e6" opacity="0.5" stroke="#e6e6e6" stroke-width="1.45"/>
<path d="M123.2 242L272.7 290.8L352.1 209.3L211.1 168.3" fill="#ececec" opacity="0.5" stroke="#ececec" stroke-width="1.45"/>
<path d="M132.3 244.9L219.7 170.8L218.8 64.3" fill="none" stroke="#b0b0b0" stroke-width="1.16"/>
<path d="M156.8 253L242.9 177.6L243.1 70.5" fill="none" stroke="#b0b0b0" stroke-width="1.16"/>
<path d="M181.9 261.1L266.6 184.4L267.7 76.7" fill="none" stroke="#b0b0b0" stroke-width="1.16"/>
<path d="M207.4 269.5L290.6 191.4L292.9 83.1" fill="none" stroke="#b0b0b0" stroke-width="1.16"/>
<path d="M233.3 277.9L315.1 198.5L318.4 89.6" fill="none" stroke="#b0b0b0" stroke-width="1.16"/>
<path d="M259.7 286.6L339.9 205.8L344.4 96.2" fill="none" stroke="#b0b0b0" stroke-width="1.16"/>
<path d="M124.1 124.6L129.3 236.9L278.2 285.2" fill="none" stroke="#b0b0b0" stroke-width="1.16"/>
<path d="M140.9 112.4L145.2 223.5L292.6 270.3" fill="none" stroke="#b0b0b0" stroke-width="1.16"/>
<path d="M157.1 100.6L160.6 210.6L306.6 256" fill="none" stroke="#b0b0b0" stroke-width="1.16"/>
<path d="M172.8 89.1L175.6 198L320.1 242.1" fill="none" stroke="#b0b0b0" stroke-width="1.16"/>
<path d="M188.1 78L190.2 185.8L333.3 228.6" fill="none" stroke="#b0b0b0" stroke-width="1.16"/>
<path d="M202.9 67.2L204.4 173.9L346.1 215.5" fill="none" stroke="#b0b0b0" stroke-width="1.16"/>
<path d="M352.1 209.3L211.1 168.3L123.2 242" fill="none" stroke="#b0b0b0" stroke-width="1.16"/>
<path d="M353 188.7L210.8 148.4L122.2 220.9" fill="none" stroke="#b0b0b0" stroke-width="1.16"/>
<path d="M354 167.8L210.6 128.2L121.2 199.5" fill="none" stroke="#b0b0b0" stroke-width="1.16"/>
<path d="M355 146.6L210.4 107.6L120.1 177.7" fill="none" stroke="#b0b0b0" stroke-width="1.16"/>
<path d="M356 125L210.1 86.7L119 155.5" fill="none" stroke="#b0b0b0" stroke-width="1.16"/>
<path d="M357 103L209.9 65.5L117.9 132.9" fill="none" stroke="#b0b0b0" stroke-width="1.16"/>
<path d="M123.2 242L272.7 290.8" fill="none" stroke="#000000" stroke-width="1.16" stroke-linecap="square"/>
<path d="M133 244.3L130.7 246.2" fill="none" stroke="#000000" stroke-width="1.16" stroke-linecap="square"/>
<text x="122.7" y="272.4" font-size="10.8" text-anchor="middle">0</text>
<path d="M157.6 252.3L155.3 254.3" fill="none" stroke="#000000" stroke-width="1.16" stroke-linecap="square"/>
<text x="147.4" y="280.6" font-size="10.8" text-anchor="middle">100</text>
<path d="M182.6 260.5L180.4 262.5" fill="none" stroke="#000000" stroke-width="1.16" stroke-linecap="square"/>
<text x="172.4" y="289" font-size="10.8" text-anchor="middle">200</text>
<path d="M208.1 268.8L205.9 270.8" fill="none" stroke="#000000" stroke-width="1.16" stroke-linecap="square"/>
<text x="198" y="297.5" font-size="10.8" text-anchor="middle">300</text>
<path d="M234 277.2L231.9 279.3" fill="none" stroke="#000000" stroke-width="1.16" stroke-linecap="square"/>
<text x="224" y="306.2" font-size="10.8" text-anchor="middle">400</text>
<path d="M260.4 285.9L258.3 288" fill="none" stroke="#000000" stroke-width="1.16" stroke-linecap="square"/>
<text x="250.4" y="315.1" font-size="10.8" text-anchor="middle">500</text>
<path d="M352.1 209.3L272.7 290.8" fill="none" stroke="#000000" stroke-width="1.16" stroke-linecap="square"/>
<path d="M276.9 284.7L280.7 286" fill="none" stroke="#000000" stroke-width="1.16" stroke-linecap="square"/>
<text x="294.4" y="309.7" font-size="10.8" text-anchor="middle">0</text>
<path d="M291.4 269.9L295.1 271.1" fill="none" stroke="#000000" stroke-width="1.16" stroke-linecap="square"/>
<text x="308.6" y="294.6" font-size="10.8" text-anchor="middle">100</text>
<path d="M305.4 255.6L309 256.8" fill="none" stroke="#000000" stroke-width="1.16" stroke-linecap="square"/>
<text x="322.3" y="280" font-size="10.8" text-anchor="middle">200</text>
<path d="M318.9 241.7L322.6 242.8" fill="none" stroke="#000000" stroke-width="1.16" stroke-linecap="square"/>
<text x="335.7" y="265.8" font-size="10.8" text-anchor="middle">300</text>
<path d="M332.1 228.2L335.7 229.3" fill="none" stroke="#000000" stroke-width="1.16" stroke-linecap="square"/>
<text x="348.6" y="252.1" font-size="10.8" text-anchor="middle">400</text>
<path d="M344.9 215.1L348.4 216.2" fill="none" stroke="#000000" stroke-width="1.16" stroke-linecap="square"/>
<text x="361.2" y="238.7" font-size="10.8" text-anchor="middle">500</text>
<path d="M352.1 209.3L357.1 99.4" fill="none" stroke="#000000" stroke-width="1.16" stroke-linecap="square"/>
<path d="M350.9 209L354.5 210" fill="none" stroke="#000000" stroke-width="1.16" stroke-linecap="square"/>
<text x="373" y="213.9" font-size="10.8" text-anchor="middle">0</text>
<path d="M351.8 188.4L355.4 189.4" fill="none" stroke="#000000" stroke-width="1.16" stroke-linecap="square"/>
<text x="374.1" y="193.4" font-size="10.8" text-anchor="middle">50</text>
<path d="M352.8 167.5L356.4 168.5" fill="none" stroke="#000000" stroke-width="1.16" stroke-linecap="square"/>
<text x="375.3" y="172.5" font-size="10.8" text-anchor="middle">100</text>
<path d="M353.7 146.3L357.4 147.2" fill="none" stroke="#000000" stroke-width="1.16" stroke-linecap="square"/>
<text x="376.4" y="151.3" font-size="10.8" text-anchor="middle">150</text>
<path d="M354.7 124.6L358.4 125.6" fill="none" stroke="#000000" stroke-width="1.16" stroke-linecap="square"/>
<text x="377.6" y="129.8" font-size="10.8" text-anchor="middle">200</text>
<path d="M355.7 102.6L359.4 103.6" fill="none" stroke="#000000" stroke-width="1.16" stroke-linecap="square"/>
<text x="378.8" y="107.8" font-size="10.8" text-anchor="middle">250</text></g>
<path d="M394.3 460.5l-0.7 0.5l-2.4 -6.6l0.9 2.8z" class="j37"/>
<path d="M399.9 463.3l-0.2 0.2l-6.1 -2.5l0.7 -0.5z" class="j30"/>
<path d="M390.7 456l-1 -0.3l-1.4 3.9l1.1 1.5z" class="j39"/>
<path d="M392.1 457.2l-0.9 -2.8l-1 -7.6l1 2.2z" class="j53"/>
<path d="M391.2 449l-1 -2.2l-0.5 8.9l1 0.3z" class="j53"/>
<path d="M389.4 461.1l-1.1 -1.5l-3.6 5.2l1.3 0.2z" class="j33"/>
<path d="M395.1 461.7l-0.8 -1.2l-2.2 -3.3l1 0.2z" class="j40"/>
<path d="M407 463.8l0.3 -0.8l-7.6 0.5l0.2 -0.2z" class="j32"/>
<path d="M391.8 458.7l-1.1 -2.7l-1.3 5.1l1.2 1.7z" class="j40"/>
<path d="M400.2 463.9l-0.3 -0.6l-5.6 -2.8l0.8 1.2z" class="j35"/>
<path d="M393.1 457.4l-1 -0.2l-0.9 -8.2l1 1.6z" class="j54"/>
<path d="M392.2 450.6l-1 -1.6l-0.5 7l1.1 2.7z" class="j54"/>
<path d="M390.6 462.8l-1.2 -1.7l-3.4 3.9l1.6 1.5z" class="j34"/>
<path d="M406.6 465.3l0.4 -1.5l-7.1 -0.5l0.3 0.6z" class="j35"/>
<path d="M396 463.4l-0.9 -1.7l-2 -4.3l1.2 1.7z" class="j44"/>
<path d="M413 465.5l0.8 -1l-6.5 -1.5l-0.3 0.8z" class="j36"/>
<path d="M393.1 459.2l-1.3 -0.5l-1.2 4.1l1.5 1.1z" class="j43"/>
<path d="M400.5 465.3l-0.3 -1.4l-5.1 -2.2l0.9 1.7z" class="j38"/>
<path d="M386 465l-1.3 -0.2l-4.6 4.4l1.7 -1.5z" class="j32"/>
<path d="M394.3 459.1l-1.2 -1.7l-0.9 -6.8l1.3 1.8z" class="j57"/>
<path d="M393.5 452.4l-1.3 -1.8l-0.4 8.1l1.3 0.5z" class="j56"/>
<path d="M392.1 463.9l-1.5 -1.1l-3 3.7l1.9 0.7z" class="j37"/>
<path d="M416.6 467l1.2 -0.7l-4 -1.8l-0.8 1z" class="j36"/>
<path d="M412 467.6l1 -2.1l-6 -1.7l-0.4 1.5z" class="j37"/>
<path d="M406.1 466.7l0.5 -1.4l-6.4 -1.4l0.3 1.4z" class="j38"/>
<path d="M387.6 466.5l-1.6 -1.5l-4.2 2.7l2 1.8z" class="j35"/>
<path d="M417.9 460.9l1.2 1.4l-1.3 4l-1.2 0.7z" class="j43"/>
<path d="M397.1 465l-1.1 -1.6l-1.7 -4.3l1.3 1.5z" class="j47"/>
<path d="M415.3 466.2l1.3 0.8l-3.6 -1.5l-1 2.1z" class="j38"/>
<path d="M400.8 466.8l-0.3 -1.5l-4.5 -1.9l1.1 1.6z" class="j41"/>
<path d="M394.6 460.8l-1.5 -1.6l-1 4.7l1.7 1.6z" class="j47"/>
<path d="M410.8 467.9l1.2 -0.3l-5.4 -2.3l-0.5 1.4z" class="j38"/>
<path d="M423.7 470l1.7 -1.1l-4 -1.6l-1.4 -0.2z" class="j36"/>
<path d="M420 467.1l1.4 0.2l-1.2 -6.5l-1.3 2.6z" class="j43"/>
<path d="M381.8 467.7l-1.7 1.5l-4 3.6l2 -0.6z" class="j32"/>
<path d="M389.5 467.2l-1.9 -0.7l-3.8 3l2.4 0.5z" class="j36"/>
<path d="M393.8 465.5l-1.7 -1.6l-2.6 3.3l2.1 1z" class="j41"/>
<path d="M395.6 460.6l-1.3 -1.5l-0.8 -6.7l1.5 2.7z" class="j60"/>
<path d="M395 455.1l-1.5 -2.7l-0.4 6.8l1.5 1.6z" class="j60"/>
<path d="M405.5 467.9l0.6 -1.2l-5.6 -1.4l0.3 1.5z" class="j41"/>
<path d="M416.5 462.7l1.4 -1.8l-1.3 6.1l-1.3 -0.8z" class="j46"/>
<path d="M429.9 471l2.2 2.4l-6.7 -4.5l-1.7 1.1z" class="j33"/>
<path d="M418.5 456.2l1.2 -0.2l-0.6 6.3l-1.2 -1.4z" class="j57"/>
<path d="M418.9 463.4l1.3 -2.6l-0.5 -4.8l-1.2 0.2z" class="j57"/>
<path d="M413.7 467.1l1.6 -0.9l-3.3 1.4l-1.2 0.3z" class="j41"/>
<path d="M421.7 469.6l2 0.4l-3.7 -2.9l-1.6 0z" class="j39"/>
<path d="M418.4 467.1l1.6 0l-1.1 -3.7l-1.6 -0.6z" class="j46"/>
<path d="M383.8 469.5l-2 -1.8l-3.7 4.5l2.4 0.1z" class="j35"/>
<path d="M409.5 468.6l1.3 -0.7l-4.7 -1.2l-0.6 1.2z" class="j42"/>
<path d="M427.3 471.7l2.6 -0.7l-6.2 -1l-2 -0.4z" class="j37"/>
<path d="M401.2 468.4l-0.4 -1.6l-3.7 -1.8l1.1 1.4z" class="j45"/>
<path d="M378.1 472.2l-2 0.6l-2.5 0.7l2.3 1.2z" class="j32"/>
<path d="M398.2 466.4l-1.1 -1.4l-1.5 -4.4l1.5 1.5z" class="j51"/>
<path d="M391.6 468.2l-2.1 -1l-3.3 2.8l2.6 0.4z" class="j41"/>
<path d="M437.1 476l2.9 -0.7l-7.9 -1.9l-2.2 -2.4z" class="j31"/>
<path d="M417.3 462.8l1.6 0.6l-0.4 -7.2l-1.5 -0.4z" class="j60"/>
<path d="M417 455.8l1.5 0.4l-0.6 4.7l-1.4 1.8z" class="j61"/>
<path d="M414.7 462.5l1.8 0.2l-1.2 3.5l-1.6 0.9z" class="j50"/>
<path d="M396.3 462.2l-1.7 -1.4l-0.8 4.7l1.9 1.3z" class="j51"/>
<path d="M419.2 470.6l2.5 -1l-3.3 -2.5l-2 0.7z" class="j42"/>
<path d="M386.2 470l-2.4 -0.5l-3.3 2.8l2.8 0z" class="j38"/>
<path d="M395.7 466.8l-1.9 -1.3l-2.2 2.7l2.3 1.3z" class="j45"/>
<path d="M416.4 467.8l2 -0.7l-1.1 -4.3l-1.9 0.1z" class="j50"/>
<path d="M411.9 467.5l1.8 -0.4l-2.9 0.8l-1.3 0.7z" class="j45"/>
<path d="M404.9 469.2l0.6 -1.3l-4.7 -1.1l0.4 1.6z" class="j44"/>
<path d="M397.1 462.1l-1.5 -1.5l-0.6 -5.5l1.6 2.5z" class="j63"/>
<path d="M396.6 457.6l-1.6 -2.5l-0.4 5.7l1.7 1.4z" class="j63"/>
<path d="M380.5 472.3l-2.4 -0.1l-2.2 2.5l2.5 -1.5z" class="j35"/>
<path d="M424.1 472.4l3.2 -0.7l-5.6 -2.1l-2.5 1z" class="j39"/>
<path d="M375.9 474.7l-2.3 -1.2l-0.8 -0.2l2.4 1.4z" class="j34"/>
<path d="M433.9 474.7l3.2 1.3l-7.2 -5l-2.6 0.7z" class="j35"/>
<path d="M375.2 474.7l-2.4 -1.4l-0.2 2.6l2.2 -1.9z" class="j34"/>
<path d="M415.1 457.5l1.9 -1.7l-0.5 6.9l-1.8 -0.2z" class="j63"/>
<path d="M415.4 462.9l1.9 -0.1l-0.3 -7l-1.9 1.7z" class="j63"/>
<path d="M443.2 476.9l3.4 -1.5l-6.6 -0.1l-2.9 0.7z" class="j32"/>
<path d="M374.8 474l-2.2 1.9l-0.4 -1.7l2.4 0.1z" class="j34"/>
<path d="M408 469.6l1.5 -1l-4 -0.7l-0.6 1.3z" class="j46"/>
<path d="M416.5 470.9l2.7 -0.3l-2.8 -2.8l-2.3 0.4z" class="j45"/>
<path d="M378.4 473.2l-2.5 1.5l-0.7 0l2.6 -0.5z" class="j36"/>
<path d="M412.7 463.2l2 -0.7l-1 4.6l-1.8 0.4z" class="j54"/>
<path d="M388.8 470.4l-2.6 -0.4l-2.9 2.3l3.1 0.1z" class="j41"/>
<path d="M393.9 469.5l-2.3 -1.3l-2.8 2.2l2.9 0.8z" class="j44"/>
<path d="M383.3 472.3l-2.8 0l-2.1 0.9l3.2 0.6z" class="j39"/>
<path d="M429.8 474.9l4.1 -0.2l-6.6 -3l-3.2 0.7z" class="j38"/>
<path d="M374.6 474.3l-2.4 -0.1l-0.8 0l2.4 0.8z" class="j36"/>
<path d="M377.8 474.2l-2.6 0.5l-0.4 -0.7l2.7 1.2z" class="j36"/>
<path d="M414.1 468.2l2.3 -0.4l-1 -4.9l-2 0.5z" class="j54"/>
<path d="M439.3 477l3.9 -0.1l-6.1 -0.9l-3.2 -1.3z" class="j33"/>
<path d="M420.6 472.8l3.5 -0.4l-4.9 -1.8l-2.7 0.3z" class="j42"/>
<path d="M377.5 475.2l-2.7 -1.2l-0.2 0.3l2.7 1.1z" class="j36"/>
<path d="M409.9 467.7l2 -0.2l-2.4 1.1l-1.5 1z" class="j49"/>
<path d="M401.6 469.6l-0.4 -1.2l-3 -2l1.3 0.6z" class="j50"/>
<path d="M377.3 475.4l-2.7 -1.1l-0.8 0.7l2.8 -0.2z" class="j37"/>
<path d="M381.6 473.8l-3.2 -0.6l-0.6 1l3.2 -0.1z" class="j39"/>
<path d="M399.5 467l-1.3 -0.6l-1.1 -4.3l1.6 0.7z" class="j58"/>
<path d="M373.8 475l-2.4 -0.8l-2.5 3.7l2.7 1z" class="j34"/>
<path d="M398.1 462.9l-1.8 -0.7l-0.6 4.6l2 0.5z" class="j58"/>
<path d="M413.1 459l2 -1.5l-0.4 5l-2 0.7z" class="j66"/>
<path d="M445.6 473.8l3.6 0.9l-2.6 0.7l-3.4 1.5z" class="j37"/>
<path d="M397.7 467.3l-2 -0.5l-1.8 2.7l2.5 0.9z" class="j50"/>
<path d="M381 474.1l-3.2 0.1l-0.3 1l3.3 -0.8z" class="j39"/>
<path d="M413.4 463.4l2 -0.5l-0.3 -5.4l-2 1.5z" class="j66"/>
<path d="M404.2 470.3l0.7 -1.1l-3.7 -0.8l0.4 1.2z" class="j49"/>
<path d="M380.8 474.4l-3.3 0.8l-0.2 0.2l3.2 -0.9z" class="j38"/>
<path d="M386.4 472.4l-3.1 -0.1l-1.7 1.5l3.4 -0.1z" class="j42"/>
<path d="M434.5 475.7l4.8 1.3l-5.4 -2.3l-4.1 0.2z" class="j37"/>
<path d="M425.4 474.7l4.4 0.2l-5.7 -2.5l-3.5 0.4z" class="j41"/>
<path d="M391.7 471.2l-2.9 -0.8l-2.4 2l3.5 0.4z" class="j45"/>
<path d="M413.6 471.4l2.9 -0.5l-2.4 -2.7l-2.4 0.1z" class="j49"/>
<path d="M380.5 474.5l-3.2 0.9l-0.7 -0.6l3.3 0.5z" class="j39"/>
<path d="M376.6 474.8l-2.8 0.2l-2.2 3.9l2.9 -1.8z" class="j36"/>
<path d="M398.7 462.8l-1.6 -0.7l-0.5 -4.5l1.7 1.9z" class="j68"/>
<path d="M398.3 459.5l-1.7 -1.9l-0.3 4.6l1.8 0.7z" class="j68"/>
<path d="M441.5 472.8l4.1 1l-2.4 3.1l-3.9 0.1z" class="j39"/>
<path d="M410.6 463.6l2.1 -0.4l-0.8 4.3l-2 0.2z" class="j58"/>
<path d="M416.7 473.1l3.9 -0.3l-4.1 -1.9l-2.9 0.5z" class="j46"/>
<path d="M406.4 470.2l1.6 -0.6l-3.1 -0.4l-0.7 1.1z" class="j50"/>
<path d="M385 473.7l-3.4 0.1l-0.6 0.3l3.5 0.1z" class="j42"/>
<path d="M411.7 468.3l2.4 -0.1l-0.7 -4.8l-2.3 0.4z" class="j58"/>
<path d="M396.4 470.4l-2.5 -0.9l-2.2 1.7l3.2 0.5z" class="j49"/>
<path d="M384.5 474.2l-3.5 -0.1l-0.2 0.3l3.5 0z" class="j42"/>
<path d="M444.8 479.5l3.5 2l1.4 -5.7l-3.6 -2.5z" class="j36"/>
<path d="M384.3 474.4l-3.5 0l-0.3 0.1l3.6 0z" class="j42"/>
<path d="M429.3 475.4l5.2 0.3l-4.7 -0.8l-4.4 -0.2z" class="j41"/>
<path d="M379.9 475.3l-3.3 -0.5l-2.1 2.3l3.7 0.1z" class="j39"/>
<path d="M436.4 472.4l5.1 0.4l-2.2 4.2l-4.8 -1.3z" class="j43"/>
<path d="M384.1 474.5l-3.6 0l-0.6 0.8l3.8 -0.3z" class="j42"/>
<path d="M389.9 472.8l-3.5 -0.4l-1.4 1.3l3.7 0.1z" class="j46"/>
<path d="M420.5 474.7l4.9 0l-4.8 -1.9l-3.9 0.3z" class="j44"/>
<path d="M371.6 478.9l-2.7 -1l-4.1 4.7l3 0.3z" class="j31"/>
<path d="M410.8 460.3l2.3 -1.3l-0.4 4.2l-2.1 0.4z" class="j69"/>
<path d="M407.8 467.2l2.1 0.5l-1.9 1.9l-1.6 0.6z" class="j55"/>
<path d="M411.1 463.8l2.3 -0.4l-0.3 -4.4l-2.3 1.3z" class="j69"/>
<path d="M446.9 464.3l3.7 -0.4l-1.4 10.8l-3.6 -0.9z" class="j54"/>
<path d="M440.7 479.1l4.1 0.4l1.3 -6.2l-4.2 0.4z" class="j40"/>
<path d="M388.7 473.8l-3.7 -0.1l-0.5 0.5l3.9 0z" class="j46"/>
<path d="M374.5 477.1l-2.9 1.8l-3.8 4l3.3 -1.9z" class="j34"/>
<path d="M383.7 475l-3.8 0.3l-1.7 1.9l4 -0.8z" class="j42"/>
<path d="M394.9 471.7l-3.2 -0.5l-1.8 1.6l3.7 0z" class="j49"/>
<path d="M446.1 473.3l3.6 2.5l0.9 -11.9l-3.7 0.4z" class="j55"/>
<path d="M388.4 474.2l-3.9 0l-0.2 0.2l3.9 -0.1z" class="j46"/>
<path d="M441.7 481.9l3.2 3l3.4 -3.4l-3.5 -2z" class="j31"/>
<path d="M388.2 474.3l-3.9 0.1l-0.2 0.1l4 -0.1z" class="j46"/>
<path d="M442.6 466l4.3 -1.7l-1.3 9.5l-4.1 -1z" class="j56"/>
<path d="M410.3 471.4l3.3 0l-1.9 -3.1l-2.7 -0.7z" class="j55"/>
<path d="M423.6 474.6l5.7 0.8l-3.9 -0.7l-4.9 0z" class="j45"/>
<path d="M430.9 471.9l5.5 0.5l-1.9 3.3l-5.2 -0.3z" class="j47"/>
<path d="M412.6 473l4.1 0.1l-3.1 -1.7l-3.3 0z" class="j50"/>
<path d="M435.7 478.3l5 0.8l1.2 -5.4l-5.1 -0.7z" class="j43"/>
<path d="M388.1 474.4l-4 0.1l-0.4 0.5l4 -0.2z" class="j46"/>
<path d="M402 469.5l-0.4 0.1l-2.1 -2.6l1.2 -1.1z" class="j59"/>
<path d="M403.6 470.6l0.6 -0.3l-2.6 -0.7l0.4 -0.1z" class="j55"/>
<path d="M441.9 473.7l4.2 -0.4l0.8 -9l-4.3 1.7z" class="j57"/>
<path d="M408.2 463.5l2.4 0.1l-0.7 4.1l-2.1 -0.5z" class="j64"/>
<path d="M378.2 477.2l-3.7 -0.1l-3.4 3.9l4.1 -1.2z" class="j39"/>
<path d="M399.6 466.1l-1.9 1.2l-1.3 3.1l2.4 -0.4z" class="j59"/>
<path d="M437.9 481.7l3.8 0.2l3.1 -2.4l-4.1 -0.4z" class="j35"/>
<path d="M409 467.6l2.7 0.7l-0.6 -4.5l-2.5 -0.2z" class="j64"/>
<path d="M393.6 472.8l-3.7 0l-1.2 1l4.1 -0.3z" class="j50"/>
<path d="M415.2 474l5.3 0.7l-3.8 -1.6l-4.1 -0.1z" class="j49"/>
<path d="M400.7 465.9l-1.2 1.1l-0.8 -4.2l1.5 -0.5z" class="j67"/>
<path d="M437.4 466.2l5.2 -0.2l-1.1 6.8l-5.1 -0.4z" class="j57"/>
<path d="M387.7 474.8l-4 0.2l-1.5 1.4l4.4 -0.5z" class="j46"/>
<path d="M399.8 462.4l-1.7 0.5l-0.4 4.4l1.9 -1.2z" class="j67"/>
<path d="M404.9 469.5l1.5 0.7l-2.2 0.1l-0.6 0.3z" class="j56"/>
<path d="M436.8 473l5.1 0.7l0.7 -7.7l-5.2 0.2z" class="j57"/>
<path d="M398.8 470l-2.4 0.4l-1.5 1.3l3 -0.2z" class="j55"/>
<path d="M430.3 477.3l5.4 1l1.1 -5.3l-5.6 -0.5z" class="j47"/>
<path d="M433.2 481.3l4.7 0.4l2.8 -2.6l-5 -0.8z" class="j38"/>
<path d="M392.8 473.5l-4.1 0.3l-0.3 0.4l4.2 -0.5z" class="j50"/>
<path d="M382.2 476.4l-4 0.8l-3 2.6l4.6 -0.8z" class="j42"/>
<path d="M424.8 471l6.1 0.9l-1.6 3.5l-5.7 -0.8z" class="j51"/>
<path d="M392.6 473.7l-4.2 0.5l-0.2 0.1l4.2 -0.4z" class="j50"/>
<path d="M392.4 473.9l-4.2 0.4l-0.1 0.1l4.2 -0.4z" class="j50"/>
<path d="M408.4 461l2.4 -0.7l-0.2 3.3l-2.4 -0.1z" class="j73"/>
<path d="M400.2 462.3l-1.5 0.5l-0.4 -3.3l1.7 0.6z" class="j75"/>
<path d="M400 460.1l-1.7 -0.6l-0.2 3.4l1.7 -0.5z" class="j75"/>
<path d="M408.6 463.6l2.5 0.2l-0.3 -3.5l-2.4 0.7z" class="j73"/>
<path d="M417.4 472.8l6.2 1.8l-3.1 0.1l-5.3 -0.7z" class="j50"/>
<path d="M392.3 474l-4.2 0.4l-0.4 0.4l4.4 -0.6z" class="j50"/>
<path d="M431.6 466.6l5.8 -0.4l-1 6.2l-5.5 -0.5z" class="j60"/>
<path d="M428.2 480.1l5 1.2l2.5 -3l-5.4 -1z" class="j41"/>
<path d="M397.9 471.5l-3 0.2l-1.3 1.1l3.5 -0.5z" class="j55"/>
<path d="M431.2 472.5l5.6 0.5l0.6 -6.8l-5.8 0.4z" class="j60"/>
<path d="M405.7 465.6l2.1 1.6l-1.4 3l-1.5 -0.7z" class="j63"/>
<path d="M386.6 475.9l-4.4 0.5l-2.4 2.6l4.9 -1z" class="j45"/>
<path d="M392.1 474.2l-4.4 0.6l-1.1 1.1l4.7 -0.9z" class="j50"/>
<path d="M424.3 476.1l6 1.2l0.9 -4.8l-6.1 -1.1z" class="j51"/>
<path d="M367.8 482.9l-3 -0.3l-5.1 3.9l3.5 0.1z" class="j31"/>
<path d="M408.7 472.3l3.9 0.7l-2.3 -1.6l-3 -1.1z" class="j56"/>
<path d="M371.1 481l-3.3 1.9l-4.6 3.7l3.8 -1.6z" class="j34"/>
<path d="M407.3 470.3l3 1.1l-1.3 -3.8l-2.5 -1.8z" class="j63"/>
<path d="M397.1 472.3l-3.5 0.5l-0.8 0.7l3.8 -0.8z" class="j55"/>
<path d="M422.7 478.9l5.5 1.2l2.1 -2.8l-6 -1.2z" class="j45"/>
<path d="M410.3 472.2l4.9 1.8l-2.6 -1l-3.9 -0.7z" class="j55"/>
<path d="M425.4 466.8l6.2 -0.2l-0.7 5.3l-6.1 -0.9z" class="j63"/>
<path d="M418.3 469.1l6.5 1.9l-1.2 3.6l-6.2 -1.8z" class="j58"/>
<path d="M396.6 472.7l-3.8 0.8l-0.2 0.2l3.9 -0.8z" class="j55"/>
<path d="M425.1 471.4l6.1 1.1l0.4 -5.9l-6.2 0.2z" class="j63"/>
<path d="M375.2 479.8l-4.1 1.2l-4.1 4l4.7 -1.1z" class="j38"/>
<path d="M396.5 472.9l-3.9 0.8l-0.2 0.2l4 -0.9z" class="j55"/>
<path d="M391.3 475l-4.7 0.9l-1.9 2.1l5.3 -1.6z" class="j49"/>
<path d="M396.4 473l-4 0.9l-0.1 0.1l4 -1z" class="j55"/>
<path d="M437.8 487.9l3 -0.2l4.1 -2.8l-3.2 -3z" class="j32"/>
<path d="M396.3 473l-4 1l-0.2 0.2l4.1 -1z" class="j55"/>
<path d="M406 462.6l2.2 0.9l-0.4 3.7l-2.1 -1.6z" class="j72"/>
<path d="M406.5 465.8l2.5 1.8l-0.4 -4l-2.4 -0.9z" class="j72"/>
<path d="M403.1 469.3l0.5 1.3l-1.6 -1.1l0.3 -2.4z" class="j64"/>
<path d="M379.8 479l-4.6 0.8l-3.5 4.1l5.1 -1.7z" class="j41"/>
<path d="M434.3 486.3l3.5 1.6l3.9 -6l-3.8 -0.2z" class="j35"/>
<path d="M417.9 473.8l6.4 2.3l0.8 -4.7l-6.7 -2z" class="j58"/>
<path d="M396.2 473.2l-4.1 1l-0.8 0.8l4.4 -1.4z" class="j55"/>
<path d="M411.6 469.4l5.8 3.4l-2.2 1.2l-4.9 -1.8z" class="j59"/>
<path d="M416.7 477l6 1.9l1.6 -2.8l-6.4 -2.3z" class="j50"/>
<path d="M430.1 484.1l4.2 2.2l3.6 -4.6l-4.7 -0.4z" class="j37"/>
<path d="M402.3 467.1l-0.3 2.4l-1.3 -3.6l0.9 -2.7z" class="j70"/>
<path d="M400.7 467.3l-1.9 2.7l-0.9 1.5l2.3 -1.8z" class="j64"/>
<path d="M403.7 466.8l1.2 2.7l-1.3 1.1l-0.5 -1.3z" class="j65"/>
<path d="M384.7 478l-4.9 1l-3 3.2l5.6 -1.7z" class="j44"/>
<path d="M401 463.2l-1.4 2.9l-0.8 3.9l1.9 -2.7z" class="j70"/>
<path d="M425.5 482.5l4.6 1.6l3.1 -2.8l-5 -1.2z" class="j41"/>
<path d="M406.1 460.9l2.3 0.1l-0.2 2.5l-2.2 -0.9z" class="j79"/>
<path d="M406.2 462.7l2.4 0.9l-0.2 -2.6l-2.3 -0.1z" class="j79"/>
<path d="M400.2 469.7l-2.3 1.8l-0.8 0.8l2.7 -1.5z" class="j62"/>
<path d="M418.7 466l6.7 0.8l-0.6 4.2l-6.5 -1.9z" class="j68"/>
<path d="M395.7 473.6l-4.4 1.4l-1.3 1.4l4.9 -2z" class="j55"/>
<path d="M418.4 469.4l6.7 2l0.3 -4.6l-6.7 -0.8z" class="j68"/>
<path d="M420.6 480.7l4.9 1.8l2.7 -2.4l-5.5 -1.2z" class="j44"/>
<path d="M390 476.4l-5.3 1.6l-2.3 2.5l6 -2.4z" class="j49"/>
<path d="M399.8 470.8l-2.7 1.5l-0.5 0.4l3 -1.4z" class="j61"/>
<path d="M401.6 463.2l-0.9 2.7l-0.5 -3.6l1.2 -1.6z" class="j78"/>
<path d="M401.2 460.7l-1.4 1.7l-0.2 3.7l1.4 -2.9z" class="j78"/>
<path d="M405.6 470.1l3.1 2.2l-1.4 -2l-2.3 -3.1z" class="j65"/>
<path d="M399.6 471.3l-3 1.4l-0.1 0.2l3 -1.5z" class="j61"/>
<path d="M399.5 471.4l-3 1.5l-0.1 0.1l3.1 -1.6z" class="j61"/>
<path d="M399.5 471.4l-3.1 1.6l-0.1 0l3.1 -1.5z" class="j61"/>
<path d="M412.1 466.1l6.2 3l-0.9 3.7l-5.8 -3.4z" class="j67"/>
<path d="M406.4 468.4l3.9 3.8l-1.6 0.1l-3.1 -2.2z" class="j64"/>
<path d="M399.4 471.5l-3.1 1.5l-0.1 0.2l3.2 -1.7z" class="j61"/>
<path d="M415.2 478.3l5.4 2.4l2.1 -1.8l-6 -1.9z" class="j49"/>
<path d="M411.2 474l5.5 3l1.2 -3.2l-6 -3.7z" class="j59"/>
<path d="M404.2 463l1.5 2.6l-0.8 3.9l-1.2 -2.7z" class="j73"/>
<path d="M399.4 471.5l-3.2 1.7l-0.5 0.4l3.4 -2.1z" class="j61"/>
<path d="M401.4 460.7l-1.2 1.6l-0.2 -2.2l1.3 -0.7z" class="j84"/>
<path d="M401.3 459.4l-1.3 0.7l-0.2 2.3l1.4 -1.7z" class="j84"/>
<path d="M394.9 474.4l-4.9 2l-1.6 1.7l5.6 -3.4z" class="j55"/>
<path d="M411.9 470.1l6 3.7l0.5 -4.4l-6.2 -3.1z" class="j67"/>
<path d="M405 467.2l2.3 3.1l-0.8 -4.5l-2 -2.7z" class="j73"/>
<path d="M410.2 475.5l5 2.8l1.5 -1.3l-5.5 -3z" class="j55"/>
<path d="M399.1 471.5l-3.4 2.1l-0.8 0.8l3.8 -3.2z" class="j62"/>
<path d="M367 485l-3.8 1.6l-3.8 3.8l4.2 -2.8z" class="j34"/>
<path d="M363.2 486.6l-3.5 -0.1l-4.1 4l3.8 -0.1z" class="j32"/>
<path d="M371.7 483.9l-4.7 1.1l-3.4 2.6l5.2 -1.7z" class="j38"/>
<path d="M376.8 482.2l-5.1 1.7l-2.9 2l5.6 -2z" class="j41"/>
<path d="M407.1 464.9l4.5 4.5l-1.3 2.8l-3.9 -3.8z" class="j70"/>
<path d="M382.4 480.5l-5.6 1.7l-2.4 1.7l6.1 -2.7z" class="j45"/>
<path d="M412.4 464l6.3 2l-0.4 3.1l-6.2 -3z" class="j75"/>
<path d="M412.2 466.3l6.2 3.1l0.3 -3.4l-6.3 -2z" class="j75"/>
<path d="M388.4 478.1l-6 2.4l-1.9 0.7l6.6 -3.8z" class="j50"/>
<path d="M404.3 461l1.7 1.6l-0.3 3l-1.5 -2.6z" class="j82"/>
<path d="M404.5 463.1l2 2.7l-0.3 -3.1l-1.8 -1.6z" class="j82"/>
<path d="M398.7 471.2l-3.8 3.2l-0.9 0.3l4.2 -5z" class="j64"/>
<path d="M414 479.5l4.8 2.8l1.8 -1.6l-5.4 -2.4z" class="j49"/>
<path d="M409.5 476.3l4.5 3.2l1.2 -1.2l-5 -2.8z" class="j55"/>
<path d="M418.8 482.3l4.5 2.3l2.2 -2.1l-4.9 -1.8z" class="j45"/>
<path d="M406.4 471.7l3.8 3.8l1 -1.5l-4.3 -4.7z" class="j64"/>
<path d="M423.3 484.6l4.2 2.4l2.6 -2.9l-4.6 -1.6z" class="j42"/>
<path d="M402.8 464.2l0.3 5.1l-0.8 -2.2l0.1 -5.1z" class="j78"/>
<path d="M431.3 489l3.1 2.3l3.4 -3.4l-3.5 -1.6z" class="j34"/>
<path d="M401.5 465.8l-1.7 5l-0.2 0.5l1.8 -4.8z" class="j72"/>
<path d="M401.4 466.5l-1.8 4.8l-0.1 0.1l1.8 -4.7z" class="j71"/>
<path d="M401.3 466.7l-1.8 4.7l0 0l1.8 -4.6z" class="j71"/>
<path d="M401.6 464.3l-1.4 5.4l-0.4 1.1l1.7 -5z" class="j74"/>
<path d="M394 474.7l-5.6 3.4l-1.3 -0.7l6.1 -5.2z" class="j59"/>
<path d="M427.5 487l3.8 2l3 -2.7l-4.2 -2.2z" class="j38"/>
<path d="M401.3 466.8l-1.8 4.6l-0.1 0.1l1.9 -4.8z" class="j71"/>
<path d="M406.9 469.3l4.3 4.7l0.7 -3.9l-4.6 -4.9z" class="j70"/>
<path d="M401.3 466.7l-1.9 4.8l0 0l1.9 -4.9z" class="j71"/>
<path d="M404.4 460.1l1.7 0.8l-0.1 1.7l-1.7 -1.6z" class="j87"/>
<path d="M404.4 461.1l1.8 1.6l-0.1 -1.8l-1.7 -0.8z" class="j87"/>
<path d="M434.4 491.3l2.8 0.6l3.6 -4.2l-3 0.2z" class="j32"/>
<path d="M401.8 462.1l-1.1 5.2l-0.5 2.4l1.4 -5.4z" class="j78"/>
<path d="M406 472.8l3.5 3.5l0.7 -0.8l-3.8 -3.8z" class="j62"/>
<path d="M403 461.9l0.7 4.9l-0.6 2.5l-0.3 -5.1z" class="j78"/>
<path d="M401.3 466.6l-1.9 4.9l-0.3 0l2.1 -5.5z" class="j72"/>
<path d="M407.4 462.6l4.7 3.5l-0.5 3.3l-4.5 -4.5z" class="j78"/>
<path d="M405.8 473.3l3.2 3.5l0.5 -0.5l-3.5 -3.5z" class="j61"/>
<path d="M402.4 462l-0.1 5.1l-0.7 -3.9l0.6 -3.7z" class="j84"/>
<path d="M403.8 464.5l1.8 5.6l-0.6 -2.9l-1.5 -5.2z" class="j78"/>
<path d="M409 476.8l4.2 3.4l0.8 -0.7l-4.5 -3.2z" class="j55"/>
<path d="M404.1 462.5l2.3 5.9l-0.8 1.7l-1.8 -5.6z" class="j78"/>
<path d="M401.2 466l-2.1 5.5l-0.4 -0.3l2.3 -6.3z" class="j74"/>
<path d="M407.3 465.2l4.6 4.9l0.3 -3.8l-4.8 -3.6z" class="j78"/>
<path d="M402 459.5l-1 3.7l-0.3 4.1l1.1 -5.2z" class="j84"/>
<path d="M405.7 473.4l3.1 3.6l0.2 -0.2l-3.2 -3.5z" class="j61"/>
<path d="M405.7 473.5l3.1 3.5l0 0l-3.1 -3.6z" class="j61"/>
<path d="M405.6 473.5l3.1 3.6l0.1 -0.1l-3.1 -3.5z" class="j61"/>
<path d="M405.6 473.5l3 3.7l0.1 -0.1l-3.1 -3.6z" class="j61"/>
<path d="M413.2 480.2l4.5 3.2l1.1 -1.1l-4.8 -2.8z" class="j50"/>
<path d="M408.8 477l4.1 3.5l0.3 -0.3l-4.2 -3.4z" class="j55"/>
<path d="M398.2 469.7l-4.2 5l-0.8 -2.5l4.7 -5.9z" class="j70"/>
<path d="M408.8 477l4 3.6l0.1 -0.1l-4.1 -3.5z" class="j55"/>
<path d="M405.3 473.5l2.8 4.2l0.5 -0.5l-3 -3.7z" class="j61"/>
<path d="M408.7 477.1l4 3.6l0.1 -0.1l-4 -3.6z" class="j55"/>
<path d="M407.5 461.3l4.9 2.7l-0.3 2.1l-4.7 -3.5z" class="j84"/>
<path d="M403.2 459.5l1 3.5l-0.5 3.8l-0.7 -4.9z" class="j86"/>
<path d="M380.5 481.2l-6.1 2.7l-1 -3.2l6.4 -2.9z" class="j51"/>
<path d="M387.1 477.4l-6.6 3.8l-0.7 -3.4l6.7 -3.9z" class="j58"/>
<path d="M402.2 459.5l-0.6 3.7l-0.2 -2.5l0.7 -2.4z" class="j90"/>
<path d="M407.4 462.7l4.8 3.6l0.2 -2.3l-4.9 -2.7z" class="j84"/>
<path d="M403.9 467.3l1.9 6l0.2 -0.5l-2.1 -6.2z" class="j72"/>
<path d="M403.8 467.5l1.9 5.9l0.1 -0.1l-1.9 -6z" class="j71"/>
<path d="M402 458.3l-0.8 2.4l-0.2 2.5l1 -3.7z" class="j90"/>
<path d="M403.8 467.6l1.9 5.9l0 -0.1l-1.9 -5.9z" class="j71"/>
<path d="M403.9 466.6l2.1 6.2l0.4 -1.1l-2.3 -6.6z" class="j74"/>
<path d="M403.8 467.5l1.8 6l0.1 0l-1.9 -5.9z" class="j71"/>
<path d="M408.6 477.2l3.9 3.7l0.2 -0.2l-4 -3.6z" class="j55"/>
<path d="M403.8 467.4l1.8 6.1l0 0l-1.8 -6z" class="j71"/>
<path d="M403.5 462l1.5 5.2l-0.5 -4.1l-1.1 -3.6z" class="j86"/>
<path d="M374.4 483.9l-5.6 2l-1.2 -2.5l5.8 -2.7z" class="j47"/>
<path d="M401 464.9l-2.3 6.3l-0.5 -1.5l2.6 -6.7z" class="j78"/>
<path d="M417.7 483.4l4.2 2.6l1.4 -1.4l-4.5 -2.3z" class="j46"/>
<path d="M398.7 470.6l-3.9 5.9l1.6 1.1l3.1 -4.8z" class="j64"/>
<path d="M404.1 465.1l2.3 6.6l0.5 -2.4l-2.6 -6.5z" class="j78"/>
<path d="M393.5 472.9l-5.9 5.6l2.1 2.6l5.1 -4.6z" class="j59"/>
<path d="M412.9 480.5l4.5 3.2l0.3 -0.3l-4.5 -3.2z" class="j50"/>
<path d="M368.8 485.9l-5.2 1.7l-1.4 -1.7l5.4 -2.5z" class="j43"/>
<path d="M403.7 466.8l1.6 6.7l0.3 0l-1.8 -6.1z" class="j72"/>
<path d="M393.2 472.2l-6.1 5.2l-0.6 -3.5l6.3 -4.9z" class="j67"/>
<path d="M363.6 487.6l-4.2 2.8l-1.6 -2.6l4.4 -1.9z" class="j39"/>
<path d="M404.4 460.2l2.7 4.7l-0.7 3.5l-2.3 -5.9z" class="j84"/>
<path d="M394.8 476.5l-5.1 4.6l2.7 0.8l4 -4.3z" class="j55"/>
<path d="M402.1 458.3l-0.7 2.4l-0.1 -1.3l0.7 -1.7z" class="j94"/>
<path d="M402 457.7l-0.7 1.7l-0.1 1.3l0.8 -2.4z" class="j94"/>
<path d="M404.9 473.2l2.4 5.3l0.8 -0.8l-2.8 -4.2z" class="j62"/>
<path d="M387.6 478.5l-6.4 4.3l3 2l5.5 -3.7z" class="j50"/>
<path d="M408.1 477.7l3.6 4l0.8 -0.8l-3.9 -3.7z" class="j55"/>
<path d="M412.8 480.6l4.4 3.3l0.2 -0.2l-4.5 -3.2z" class="j50"/>
<path d="M359.4 490.4l-3.8 0.1l-1.7 -1.9l3.9 -0.8z" class="j36"/>
<path d="M412.7 480.7l4.4 3.3l0.1 -0.1l-4.4 -3.3z" class="j50"/>
<path d="M398 466.6l-4.5 6.3l1.3 3.6l3.9 -5.9z" class="j70"/>
<path d="M399.5 472.8l-3.1 4.8l1.4 -0.7l2.4 -6.2z" class="j65"/>
<path d="M421.9 486l3.9 2.2l1.7 -1.2l-4.2 -2.4z" class="j42"/>
<path d="M403.5 465.7l1.4 7.5l0.4 0.3l-1.6 -6.7z" class="j74"/>
<path d="M403.3 458.5l1 2.5l-0.1 2l-1 -3.5z" class="j92"/>
<path d="M386.7 474.2l-6.8 4.1l1.3 4.5l6.4 -4.3z" class="j58"/>
<path d="M404.3 462.8l2.6 6.5l0.4 -4.1l-2.8 -4.9z" class="j84"/>
<path d="M403.4 459.5l1.1 3.6l-0.1 -2l-1.1 -2.5z" class="j92"/>
<path d="M412.5 480.9l4.2 3.5l0.4 -0.4l-4.4 -3.3z" class="j50"/>
<path d="M392.9 469.2l-6.2 5l0.9 4.3l5.9 -5.6z" class="j67"/>
<path d="M417.4 483.7l4.1 2.7l0.4 -0.4l-4.2 -2.6z" class="j46"/>
<path d="M381.2 482.8l-6 3l3.9 1.9l5.1 -2.9z" class="j45"/>
<path d="M401 463.3l-2.3 7.3l0.8 2.2l1.8 -7.3z" class="j78"/>
<path d="M379.9 478.3l-6.2 3l1.5 4.5l6 -3z" class="j51"/>
<path d="M403.3 458.2l1.1 1.9l-0.1 0.9l-1 -2.5z" class="j94"/>
<path d="M396.4 477.6l-4 4.3l2.2 0.2l3.2 -5.2z" class="j56"/>
<path d="M403.3 458.6l1.1 2.5l0 -1l-1.1 -1.9z" class="j94"/>
<path d="M425.8 488.2l3.6 2.1l1.9 -1.3l-3.8 -2z" class="j39"/>
<path d="M397.9 466.3l-4.7 5.9l-0.4 -3.2l4.9 -5z" class="j78"/>
<path d="M389.7 481.1l-5.5 3.7l3.8 0.9l4.4 -3.8z" class="j49"/>
<path d="M401.3 465.5l-1.8 7.3l0.7 -2.1l1.4 -7.2z" class="j78"/>
<path d="M407.3 478.5l3.1 4.7l1.3 -1.5l-3.6 -4z" class="j55"/>
<path d="M417.2 483.9l4.1 2.7l0.2 -0.2l-4.1 -2.7z" class="j46"/>
<path d="M404.5 459l2.9 3.6l-0.3 2.3l-2.7 -4.7z" class="j90"/>
<path d="M400.8 463l-2.6 6.7l-0.3 -3.4l2.8 -5.6z" class="j84"/>
<path d="M404.5 471.7l1.9 7.1l0.9 -0.3l-2.4 -5.3z" class="j64"/>
<path d="M429.4 490.3l2.9 3.3l2.1 -2.3l-3.1 -2.3z" class="j35"/>
<path d="M404.5 460.3l2.8 4.9l0.1 -2.5l-2.9 -3.6z" class="j90"/>
<path d="M411.7 481.7l3.9 3.9l1.1 -1.2l-4.2 -3.5z" class="j50"/>
<path d="M417.1 484l4 2.8l0.2 -0.2l-4.1 -2.7z" class="j46"/>
<path d="M373.7 481.3l-5.8 2.4l1.8 4.9l5.5 -2.8z" class="j47"/>
<path d="M397.7 464.1l-4.8 5.1l0.6 3.7l4.5 -6.3z" class="j78"/>
<path d="M403.3 463.8l1.2 7.9l0.4 1.5l-1.4 -7.5z" class="j78"/>
<path d="M375.2 485.8l-5.5 2.8l4.7 2l4.7 -2.9z" class="j41"/>
<path d="M432.3 493.6l2.6 1.3l2.3 -3l-2.8 -0.6z" class="j32"/>
<path d="M386.5 473.9l-6.7 3.9l-0.4 -4.1l6.9 -2.9z" class="j68"/>
<path d="M392.8 469l-6.3 4.9l-0.2 -3.1l6.4 -3.9z" class="j75"/>
<path d="M400.7 460.8l-2.7 5.8l0.7 4l2.3 -7.3z" class="j84"/>
<path d="M416.7 484.4l4 2.9l0.4 -0.5l-4 -2.8z" class="j46"/>
<path d="M421.5 486.4l3.8 2.5l0.5 -0.7l-3.9 -2.2z" class="j42"/>
<path d="M404.5 458.5l3 2.8l-0.1 1.3l-2.9 -3.6z" class="j94"/>
<path d="M400.2 470.7l-2.4 6.2l0.8 -3.2l2 -6.5z" class="j72"/>
<path d="M404.5 459.1l2.9 3.6l0.1 -1.4l-3 -2.8z" class="j94"/>
<path d="M392.7 466.9l-6.4 3.9l0.4 3.4l6.2 -5z" class="j75"/>
<path d="M386.3 470.8l-6.9 2.9l0.5 4.6l6.8 -4.1z" class="j68"/>
<path d="M367.9 483.7l-5.4 2.5l2.2 3.9l5 -1.5z" class="j43"/>
<path d="M379.8 477.8l-6.4 2.9l-0.5 -5.2l6.5 -1.8z" class="j63"/>
<path d="M421.3 486.6l3.8 2.4l0.2 -0.1l-3.8 -2.5z" class="j42"/>
<path d="M397.7 464l-4.9 5l-0.1 -2.1l4.9 -4.1z" class="j84"/>
<path d="M402.1 463l-0.7 6.6l0.7 1.6l0.3 -6.7z" class="j82"/>
<path d="M397.6 462.8l-4.9 4.1l0.2 2.3l4.8 -5.1z" class="j84"/>
<path d="M384.2 484.8l-5.1 2.9l4.8 1.3l4.1 -3.3z" class="j44"/>
<path d="M401.6 463.5l-1.4 7.2l0.4 -3.5l1.2 -6z" class="j85"/>
<path d="M379.4 473.7l-6.5 1.8l0.8 5.8l6.2 -3z" class="j63"/>
<path d="M397.8 476.9l-3.2 5.2l1.4 -2l2.6 -6.4z" class="j61"/>
<path d="M402.6 453.6l-1.3 13.1l0 0.1l1.3 -13.2z" class="j95"/>
<path d="M402.6 453.6l-1.3 13.2l0 -0.1l1.3 -13.1z" class="j95"/>
<path d="M400.7 460.7l-2.8 5.6l-0.2 -2.3l2.9 -4.4z" class="j90"/>
<path d="M392.4 481.9l-4.4 3.8l3.2 0.7l3.4 -4.3z" class="j50"/>
<path d="M402.6 453.6l-1.2 12.9l-0.1 0.2l1.3 -13.1z" class="j95"/>
<path d="M421.1 486.8l3.8 2.7l0.2 -0.5l-3.8 -2.4z" class="j42"/>
<path d="M402.6 453.6l-1.3 13.1l0 -0.1l1.3 -13z" class="j95"/>
<path d="M402.4 464.5l-0.3 6.7l0.8 -0.9l-0.2 -7.2z" class="j82"/>
<path d="M402.6 453.6l-1.1 12.2l-0.1 0.7l1.2 -12.9z" class="j96"/>
<path d="M369.7 488.6l-5 1.5l5.3 3l4.4 -2.5z" class="j37"/>
<path d="M401.4 469.6l-1.2 5.9l1.3 0.7l0.6 -5z" class="j71"/>
<path d="M406.4 478.8l2.5 6.2l1.5 -1.8l-3.1 -4.7z" class="j55"/>
<path d="M402.6 453.6l-1.3 13l-0.1 -0.6l1.4 -12.4z" class="j96"/>
<path d="M402.6 453.6l-1 10.7l-0.1 1.5l1.1 -12.2z" class="j97"/>
<path d="M400.6 459.6l-2.9 4.5l0.3 2.5l2.7 -5.8z" class="j90"/>
<path d="M362.5 486.2l-4.3 2.2l2.3 3l4.2 -1.3z" class="j41"/>
<path d="M373.4 480.7l-5.8 2.7l-0.7 -6.2l6 -1.7z" class="j59"/>
<path d="M425.3 488.9l3.5 2l0.6 -0.6l-3.6 -2.1z" class="j40"/>
<path d="M358.2 488.4l-3.9 2.5l2.6 4.7l3.6 -4.2z" class="j36"/>
<path d="M402.6 453.6l0.2 10.6l-0.4 -2.2l0.2 -8.4z" class="j99"/>
<path d="M415.6 485.6l3.7 3.2l1.4 -1.5l-4 -2.9z" class="j46"/>
<path d="M420.7 487.3l3.6 3l0.6 -0.8l-3.8 -2.7z" class="j42"/>
<path d="M400.9 466.8l-1.6 6.2l0.9 2.5l1.2 -5.9z" class="j75"/>
<path d="M402.6 453.6l-0.8 8.5l-0.2 2.2l1 -10.7z" class="j99"/>
<path d="M402.6 453.6l0.4 8.3l-0.2 2.3l-0.2 -10.6z" class="j99"/>
<path d="M402.6 453.6l-1.4 12.4l-0.2 -1.1l1.6 -11.3z" class="j97"/>
<path d="M410.4 483.2l3.4 4.5l1.8 -2.1l-3.9 -3.9z" class="j49"/>
<path d="M401.9 461l-1 5.8l0.5 2.8l0.7 -6.6z" class="j87"/>
<path d="M402.1 471.2l-0.6 5l1.7 0.8l-0.3 -6.7z" class="j70"/>
<path d="M402.6 453.6l1.2 14l0 -0.1l-1.2 -13.9z" class="j95"/>
<path d="M402.6 453.6l1.2 13.9l0 0.1l-1.2 -14z" class="j95"/>
<path d="M402.6 453.6l1.2 13.9l0.1 -0.2l-1.3 -13.7z" class="j95"/>
<path d="M403.2 461.5l0.9 6.8l0.4 3.4l-1.2 -7.9z" class="j84"/>
<path d="M402.6 453.6l1.2 13.8l0 0.1l-1.2 -13.9z" class="j95"/>
<path d="M402.6 453.6l1.3 13.7l0 -0.7l-1.3 -13z" class="j96"/>
<path d="M402.6 453.6l1.2 10.9l-0.3 -2.5l-0.9 -8.4z" class="j99"/>
<path d="M404.1 468.3l1.5 8l0.8 2.5l-1.9 -7.1z" class="j70"/>
<path d="M402.6 453.6l1.5 8.9l-0.3 2l-1.2 -10.9z" class="j99"/>
<path d="M372.9 475.5l-6 1.7l1 6.5l5.8 -2.4z" class="j60"/>
<path d="M400.6 459.6l-2.9 4.4l-0.1 -1.2l3 -3.7z" class="j94"/>
<path d="M402.6 453.6l1.1 13.2l0.1 0.6l-1.2 -13.8z" class="j96"/>
<path d="M402.6 453.6l1.3 13l0.2 -1.5l-1.5 -11.5z" class="j97"/>
<path d="M400.6 459.1l-3 3.7l0.1 1.3l2.9 -4.5z" class="j94"/>
<path d="M425.1 489l3.5 2.3l0.2 -0.4l-3.5 -2z" class="j40"/>
<path d="M402.6 453.6l-0.2 8.4l-0.2 -2.5l0.4 -5.9z" class="j102"/>
<path d="M400.6 467.2l-2 6.5l0.2 -2.5l1.9 -5.8z" class="j79"/>
<path d="M402.6 453.6l-0.6 5.9l-0.2 2.6l0.8 -8.5z" class="j102"/>
<path d="M367.6 483.4l-5.4 2.5l-0.8 -8.2l5.5 -0.5z" class="j57"/>
<path d="M428.8 490.9l2.9 2.1l0.6 0.6l-2.9 -3.3z" class="j36"/>
<path d="M364.7 490.1l-4.2 1.3l6 4.6l3.5 -2.9z" class="j35"/>
<path d="M402.6 453.6l-1.6 11.3l-0.2 -1.9l1.8 -9.4z" class="j99"/>
<path d="M402.6 453.6l1.5 11.5l0.2 -2.3l-1.7 -9.2z" class="j99"/>
<path d="M401.8 461.2l-1.2 6l0.1 -1.8l1.1 -5.1z" class="j90"/>
<path d="M402.6 453.6l0.9 12.1l0.2 1.1l-1.1 -13.2z" class="j97"/>
<path d="M402.6 453.6l0.6 5.9l-0.2 2.4l-0.4 -8.3z" class="j102"/>
<path d="M424.9 489.5l3.4 2.1l0.3 -0.3l-3.5 -2.3z" class="j39"/>
<path d="M402.7 463.1l0.2 7.2l0.6 -2.6l-0.6 -6.5z" class="j86"/>
<path d="M402.6 453.6l0.9 8.4l-0.1 -2.5l-0.8 -5.9z" class="j102"/>
<path d="M402.6 453.6l-0.4 5.9l-0.1 -1.2l0.5 -4.7z" class="j104"/>
<path d="M402.6 453.6l-0.6 4.7l0 1.2l0.6 -5.9z" class="j104"/>
<path d="M401.9 460.2l-1.1 5.1l0.1 1.5l1 -5.8z" class="j91"/>
<path d="M400.8 465.3l-1.7 5.7l0.2 2l1.6 -6.2z" class="j80"/>
<path d="M402.6 453.6l1.8 6.6l-0.3 2.3l-1.5 -8.9z" class="j102"/>
<path d="M379.1 487.7l-4.7 2.9l5.7 1.7l3.8 -3.3z" class="j41"/>
<path d="M402.6 453.6l-1.6 9.7l0.3 2.2l1.3 -11.9z" class="j99"/>
<path d="M360.5 491.4l-3.6 4.2l6.3 1.5l3.3 -1.1z" class="j31"/>
<path d="M431.7 493l2.5 2.1l0.7 -0.2l-2.6 -1.3z" class="j33"/>
<path d="M402.6 453.6l-0.5 4.7l-0.1 -0.6l0.6 -4.1z" class="j105"/>
<path d="M402.6 453.6l-0.6 4.1l0 0.6l0.6 -4.7z" class="j105"/>
<path d="M362.2 485.9l-4.4 1.9l-0.9 -7.9l4.5 -2.2z" class="j54"/>
<path d="M402.6 453.6l-1.3 11.9l0.3 -2l1 -9.9z" class="j99"/>
<path d="M402.6 453.6l1.7 9.2l0.2 -2.5l-1.9 -6.7z" class="j102"/>
<path d="M402.6 453.6l0.7 4.9l-0.1 1l-0.6 -5.9z" class="j105"/>
<path d="M366.9 477.2l-5.5 0.5l1.1 8.5l5.4 -2.5z" class="j57"/>
<path d="M424.3 490.3l3.4 3l0.6 -1.7l-3.4 -2.1z" class="j38"/>
<path d="M402.6 453.6l0.8 5.9l-0.1 -0.9l-0.7 -5z" class="j105"/>
<path d="M401.8 460.3l-1.1 5.1l0.1 -0.9l1 -4.6z" class="j93"/>
<path d="M402.6 453.6l0.7 10.2l0.2 1.9l-0.9 -12.1z" class="j99"/>
<path d="M401.8 459.9l-1 4.6l0 0.8l1.1 -5.1z" class="j93"/>
<path d="M394.6 482.1l-3.4 4.3l1.9 -0.8l2.9 -5.5z" class="j53"/>
<path d="M398.6 473.7l-2.6 6.4l0.4 -2.6l2.4 -6.3z" class="j68"/>
<path d="M402.6 453.6l-1.8 9.4l-0.1 -2.3l1.9 -7.1z" class="j102"/>
<path d="M428.6 491.3l2.8 2.8l0.3 -1.1l-2.9 -2.1z" class="j36"/>
<path d="M402.6 453.6l0.7 4.6l0 0.3l-0.7 -4.9z" class="j105"/>
<path d="M402.6 453.6l0.7 5l0 -0.4l-0.7 -4.6z" class="j105"/>
<path d="M402.9 470.3l0.3 6.7l1.3 -1.6l-1 -7.7z" class="j74"/>
<path d="M400.7 465.4l-1.9 5.8l0.1 -1.4l1.9 -5.3z" class="j83"/>
<path d="M402.6 453.6l1.9 5.4l-0.1 1.2l-1.8 -6.6z" class="j104"/>
<path d="M399.3 473l-2.1 6.3l1.4 1.5l1.6 -5.3z" class="j65"/>
<path d="M357.8 487.8l-3.9 0.8l-1 -6.9l4 -1.8z" class="j51"/>
<path d="M402.6 453.6l1.9 6.7l0 -1.2l-1.9 -5.5z" class="j104"/>
<path d="M400.8 464.5l-1.9 5.3l0.2 1.2l1.7 -5.7z" class="j83"/>
<path d="M402.6 453.6l-1.9 7.2l0.3 2.5l1.6 -9.7z" class="j102"/>
<path d="M402.6 453.6l-0.5 9.4l0.3 1.5l0.2 -10.9z" class="j100"/>
<path d="M419.3 488.8l3.4 3l1.6 -1.5l-3.6 -3z" class="j42"/>
<path d="M402.6 453.6l-0.2 10.9l0.3 -1.4l-0.1 -9.5z" class="j101"/>
<path d="M388 485.7l-4.1 3.3l4.1 1l3.2 -3.6z" class="j45"/>
<path d="M402.6 453.6l1.9 4.9l0 0.5l-1.9 -5.4z" class="j105"/>
<path d="M402.6 453.6l1.9 5.5l0 -0.6l-1.9 -4.9z" class="j105"/>
<path d="M403.1 460.4l0.9 5.6l0.1 2.3l-0.9 -6.8z" class="j90"/>
<path d="M402.6 453.6l-1 9.9l0.2 -2.3l0.8 -7.6z" class="j102"/>
<path d="M400.2 475.5l-1.6 5.3l2.3 0.7l0.6 -5.3z" class="j63"/>
<path d="M361.4 477.7l-4.5 2.2l1.3 8.5l4.3 -2.2z" class="j55"/>
<path d="M428.3 491.6l2.9 1.2l0.2 1.3l-2.8 -2.8z" class="j37"/>
<path d="M402.6 453.6l-1.9 7.1l-0.1 -1.1l2 -6z" class="j104"/>
<path d="M402.6 453.6l-0.7 7.4l0.2 2l0.5 -9.4z" class="j103"/>
<path d="M402.6 453.6l-2 6l0.1 1.2l1.9 -7.2z" class="j104"/>
<path d="M402.9 461.2l0.6 6.5l0.3 -1.9l-0.7 -5.5z" class="j91"/>
<path d="M402.6 453.6l0.6 7.9l0.1 2.3l-0.7 -10.2z" class="j102"/>
<path d="M431.4 494.1l2.5 1.5l0.3 -0.5l-2.5 -2.1z" class="j33"/>
<path d="M399.1 471l-2.3 6.2l0.4 2.1l2.1 -6.3z" class="j70"/>
<path d="M356.9 479.9l-4 1.8l1.4 9.2l3.9 -2.5z" class="j51"/>
<path d="M402.6 453.6l-2 6l0 -0.5l2 -5.5z" class="j105"/>
<path d="M402.6 453.6l-2 5.5l0 0.5l2 -6z" class="j105"/>
<path d="M402.6 453.6l0.1 9.5l0.2 -1.9l-0.3 -7.6z" class="j103"/>
<path d="M405.6 476.3l2.1 8l1.2 0.7l-2.5 -6.2z" class="j59"/>
<path d="M402.6 453.6l-0.8 7.6l0 -0.9l0.8 -6.7z" class="j104"/>
<path d="M402.6 453.6l-0.7 6.6l0 0.8l0.7 -7.4z" class="j104"/>
<path d="M402.6 453.6l-0.8 6.7l0 -0.4l0.8 -6.3z" class="j105"/>
<path d="M402.6 453.6l-0.8 6.3l0.1 0.3l0.7 -6.6z" class="j105"/>
<path d="M413.8 487.7l3.2 3.8l2.3 -2.7l-3.7 -3.2z" class="j45"/>
<path d="M374.4 490.6l-4.4 2.5l6.6 1l3.5 -1.8z" class="j38"/>
<path d="M402.6 453.6l0.5 6.8l0.1 1.1l-0.6 -7.9z" class="j104"/>
<path d="M404 466l1.3 7.1l0.3 3.2l-1.5 -8z" class="j78"/>
<path d="M403.1 459.9l0.8 4.9l0.1 1.2l-0.9 -5.6z" class="j94"/>
<path d="M398.8 471.2l-2.4 6.3l0.2 -1.8l2.3 -5.9z" class="j74"/>
<path d="M408.9 485l2.7 5.4l2.2 -2.7l-3.4 -4.5z" class="j49"/>
<path d="M402.6 453.6l0.3 7.6l0.2 -0.9l-0.5 -6.7z" class="j105"/>
<path d="M427.7 493.3l2.8 0.7l0.7 -1.2l-2.9 -1.2z" class="j37"/>
<path d="M403.1 460.3l0.7 5.5l0.1 -1l-0.8 -4.9z" class="j94"/>
<path d="M401.5 476.2l-0.6 5.3l2.7 1.7l-0.4 -6.2z" class="j62"/>
<path d="M398.9 469.8l-2.3 5.9l0.2 1.5l2.3 -6.2z" class="j74"/>
<path d="M431.2 492.8l2.4 1.5l0.3 1.3l-2.5 -1.5z" class="j35"/>
<path d="M402.6 453.6l0.5 6.3l0 0.5l-0.5 -6.8z" class="j105"/>
<path d="M402.6 453.6l0.5 6.7l0 -0.4l-0.5 -6.3z" class="j105"/>
<path d="M422.7 491.8l3.1 3.5l1.9 -2l-3.4 -3z" class="j38"/>
<path d="M403.5 467.7l1 7.7l0.5 -2.6l-1.2 -7z" class="j80"/>
<path d="M396 480.1l-2.9 5.5l0.7 -2.4l2.6 -5.7z" class="j59"/>
<path d="M391.2 486.4l-3.2 3.6l2.5 -0.1l2.6 -4.3z" class="j48"/>
<path d="M370 493.1l-3.5 2.9l7.3 1.7l2.8 -3.6z" class="j34"/>
<path d="M383.9 489l-3.8 3.3l4.9 0.8l3 -3.1z" class="j42"/>
<path d="M403.2 477l0.4 6.2l2.2 0l-1.3 -7.8z" class="j64"/>
<path d="M430.5 494l2.4 1.7l0.7 -1.4l-2.4 -1.5z" class="j36"/>
<path d="M397.2 479.3l-2.3 5.5l2 0.9l1.7 -4.9z" class="j58"/>
<path d="M403.9 464.8l1.3 6.2l0.1 2.1l-1.3 -7.1z" class="j84"/>
<path d="M396.8 477.2l-2.5 5.7l0.6 1.9l2.3 -5.5z" class="j61"/>
<path d="M403.8 465.8l1.2 7l0.2 -1.8l-1.3 -6.2z" class="j85"/>
<path d="M396.4 477.5l-2.6 5.7l0.2 -1.9l2.6 -5.6z" class="j65"/>
<path d="M366.5 496l-3.3 1.1l8 3.1l2.6 -2.5z" class="j30"/>
<path d="M425.8 495.3l2.6 0.7l2.1 -2l-2.8 -0.7z" class="j36"/>
<path d="M396.6 475.7l-2.6 5.6l0.3 1.6l2.5 -5.7z" class="j65"/>
<path d="M417 491.5l2.9 3.5l2.8 -3.2l-3.4 -3z" class="j42"/>
<path d="M398.6 480.8l-1.7 4.9l3.2 1.2l0.8 -5.4z" class="j57"/>
<path d="M405.3 473.1l1.9 7.7l0.5 3.5l-2.1 -8z" class="j67"/>
<path d="M393.1 485.6l-2.6 4.3l0.8 -2l2.5 -4.7z" class="j52"/>
<path d="M407.7 484.3l2.1 6.8l1.8 -0.7l-2.7 -5.4z" class="j50"/>
<path d="M404.5 475.4l1.3 7.8l0.8 -2.9l-1.6 -7.5z" class="j69"/>
<path d="M380.1 492.3l-3.5 1.8l5.7 2.3l2.7 -3.3z" class="j39"/>
<path d="M411.6 490.4l2.6 4.5l2.8 -3.4l-3.2 -3.8z" class="j44"/>
<path d="M388 490l-3 3.1l3 0.3l2.5 -3.5z" class="j44"/>
<path d="M428.4 496l2.2 2.3l2.3 -2.6l-2.4 -1.7z" class="j36"/>
<path d="M400.9 481.5l-0.8 5.4l3.9 2.1l-0.4 -5.8z" class="j56"/>
<path d="M394.3 482.9l-2.4 4.6l0.9 1.6l2.1 -4.3z" class="j55"/>
<path d="M393.8 483.2l-2.5 4.7l0.3 -2.1l2.4 -4.5z" class="j58"/>
<path d="M419.9 495l2.7 3.5l3.2 -3.2l-3.1 -3.5z" class="j38"/>
<path d="M394.9 484.8l-2.1 4.3l2.5 0.9l1.6 -4.3z" class="j53"/>
<path d="M405.2 471l1.8 6.6l0.2 3.2l-1.9 -7.7z" class="j75"/>
<path d="M394 481.3l-2.4 4.5l0.3 1.7l2.4 -4.6z" class="j59"/>
<path d="M405 472.8l1.6 7.5l0.4 -2.7l-1.8 -6.6z" class="j76"/>
<path d="M376.6 494.1l-2.8 3.6l6.3 1.8l2.2 -3.1z" class="j35"/>
<path d="M403.6 483.2l0.4 5.8l3.2 1l-1.4 -6.8z" class="j56"/>
<path d="M390.5 489.9l-2.5 3.5l1 -1.4l2.3 -4.1z" class="j47"/>
<path d="M385 493.1l-2.7 3.3l3.4 0.2l2.3 -3.2z" class="j40"/>
<path d="M396.9 485.7l-1.6 4.3l4.2 1.7l0.6 -4.8z" class="j52"/>
<path d="M373.8 497.7l-2.6 2.5l6.8 0.3l2.1 -1z" class="j32"/>
<path d="M407.2 480.8l2 6.9l0.6 3.4l-2.1 -6.8z" class="j58"/>
<path d="M422.6 498.5l2.2 3l3.6 -5.5l-2.6 -0.7z" class="j35"/>
<path d="M414.2 494.9l2.4 4.2l3.3 -4.1l-2.9 -3.5z" class="j41"/>
<path d="M391.9 487.5l-2.1 4.3l1 1l2 -3.7z" class="j50"/>
<path d="M391.3 487.9l-2.3 4.1l0.4 -2.2l2.2 -4z" class="j53"/>
<path d="M409.8 491.1l2.1 5.6l2.3 -1.8l-2.6 -4.5z" class="j45"/>
<path d="M391.6 485.8l-2.2 4l0.4 2l2.1 -4.3z" class="j53"/>
<path d="M405.8 483.2l1.4 6.8l1.2 -2.7l-1.8 -7z" class="j60"/>
<path d="M392.8 489.1l-2 3.7l3 1.2l1.5 -4z" class="j49"/>
<path d="M388 493.4l-2.3 3.2l1.2 -1.1l2.1 -3.5z" class="j44"/>
<path d="M400.1 486.9l-0.6 4.8l4.9 2.3l-0.4 -5z" class="j51"/>
<path d="M382.3 496.4l-2.2 3.1l3.8 -0.3l1.8 -2.6z" class="j37"/>
<path d="M424.8 501.5l2 1.1l3.8 -4.3l-2.2 -2.3z" class="j35"/>
<path d="M407 477.6l1.9 5.9l0.3 4.2l-2 -6.9z" class="j68"/>
<path d="M389 492l-2.1 3.5l0.4 -2.3l2.1 -3.4z" class="j49"/>
<path d="M395.3 490l-1.5 4l5 1.9l0.7 -4.2z" class="j48"/>
<path d="M389.8 491.8l-2 3.2l1.1 1.3l1.9 -3.5z" class="j46"/>
<path d="M406.6 480.3l1.8 7l0.5 -3.8l-1.9 -5.9z" class="j68"/>
<path d="M380.1 499.5l-2.1 1l4.2 2.2l1.7 -3.5z" class="j34"/>
<path d="M389.4 489.8l-2.1 3.4l0.5 1.8l2 -3.2z" class="j50"/>
<path d="M404 489l0.4 5l4.1 1.7l-1.3 -5.7z" class="j50"/>
<path d="M416.6 499.1l2.2 3.6l3.8 -4.2l-2.7 -3.5z" class="j38"/>
<path d="M385.7 496.6l-1.8 2.6l1.2 0.4l1.8 -4.1z" class="j40"/>
<path d="M390.8 492.8l-1.9 3.5l3.5 1l1.4 -3.3z" class="j45"/>
<path d="M409.2 487.7l1.9 5.8l0.8 3.2l-2.1 -5.6z" class="j51"/>
<path d="M386.9 495.5l-1.8 4.1l0.5 -2.2l1.7 -4.2z" class="j44"/>
<path d="M411.9 496.7l2 5l2.7 -2.6l-2.4 -4.2z" class="j41"/>
<path d="M383.9 499.2l-1.7 3.5l1.4 -0.6l1.5 -2.5z" class="j36"/>
<path d="M387.8 495l-1.7 4.6l1.3 -0.5l1.5 -2.8z" class="j42"/>
<path d="M387.3 493.2l-1.7 4.2l0.5 2.2l1.7 -4.6z" class="j45"/>
<path d="M399.5 491.7l-0.7 4.2l6 3.1l-0.4 -5z" class="j47"/>
<path d="M407.2 490l1.3 5.7l1.5 -2.7l-1.6 -5.7z" class="j54"/>
<path d="M418.8 502.7l1.8 3.2l4.2 -4.4l-2.2 -3z" class="j35"/>
<path d="M393.8 494l-1.4 3.3l5.8 3.2l0.6 -4.6z" class="j45"/>
<path d="M385.1 499.6l-1.5 2.5l0.5 -1.7l1.5 -3z" class="j39"/>
<path d="M388.9 496.3l-1.5 2.8l3.9 2.3l1.1 -4.1z" class="j42"/>
<path d="M385.6 497.4l-1.5 3l0.6 1.9l1.4 -2.7z" class="j39"/>
<path d="M386.1 499.6l-1.4 2.7l1.4 1l1.3 -4.2z" class="j37"/>
<path d="M404.4 494l0.4 5l4.9 1.8l-1.2 -5.1z" class="j46"/>
<path d="M408.9 483.5l1.8 4.7l0.4 5.3l-1.9 -5.8z" class="j63"/>
<path d="M408.4 487.3l1.6 5.7l0.7 -4.8l-1.8 -4.7z" class="j64"/>
<path d="M387.4 499.1l-1.3 4.2l4.2 -1l1 -0.9z" class="j39"/>
<path d="M420.6 505.9l1.6 2.3l4.6 -5.6l-2 -1.1z" class="j33"/>
<path d="M392.4 497.3l-1.1 4.1l6.4 2.8l0.5 -3.7z" class="j40"/>
<path d="M413.9 501.7l1.8 4l3.1 -3l-2.2 -3.6z" class="j38"/>
<path d="M398.8 495.9l-0.6 4.6l7 3l-0.4 -4.5z" class="j43"/>
<path d="M411.1 493.5l1.7 5.1l1.1 3.1l-2 -5z" class="j47"/>
<path d="M408.5 495.7l1.2 5.1l1.9 -2.4l-1.6 -5.4z" class="j49"/>
<path d="M391.3 501.4l-1 0.9l7 3.3l0.4 -1.4z" class="j39"/>
<path d="M404.8 499l0.4 4.5l5.6 2.6l-1.1 -5.3z" class="j41"/>
<path d="M398.2 500.5l-0.5 3.7l7.8 3.3l-0.3 -4z" class="j38"/>
<path d="M415.7 505.7l1.4 5.1l3.5 -4.9l-1.8 -3.2z" class="j34"/>
<path d="M410.7 488.2l1.7 4.1l0.4 6.3l-1.7 -5.1z" class="j60"/>
<path d="M412.8 498.6l1.7 4.9l1.2 2.2l-1.8 -4z" class="j43"/>
<path d="M410 493l1.6 5.4l0.8 -6.1l-1.7 -4.1z" class="j60"/>
<path d="M409.7 500.8l1.1 5.3l2.2 -3.6l-1.4 -4.1z" class="j45"/>
<path d="M397.7 504.2l-0.4 1.4l8.4 3.7l-0.2 -1.8z" class="j37"/>
<path d="M417.1 510.8l1.3 2.3l3.8 -4.9l-1.6 -2.3z" class="j32"/>
<path d="M405.2 503.5l0.3 4l6.2 2.3l-0.9 -3.7z" class="j37"/>
<path d="M414.5 503.5l1.3 3.9l1.3 3.4l-1.4 -5.1z" class="j39"/>
<path d="M412.4 492.3l1.6 4.4l0.5 6.8l-1.7 -4.9z" class="j57"/>
<path d="M411.6 498.4l1.4 4.1l1 -5.8l-1.6 -4.4z" class="j58"/>
<path d="M405.5 507.5l0.2 1.8l6.9 3.8l-0.9 -3.3z" class="j35"/>
<path d="M410.8 506.1l0.9 3.7l2.5 -3.9l-1.2 -3.4z" class="j43"/>
<path d="M415.8 507.4l1.2 3.8l1.4 1.9l-1.3 -2.3z" class="j36"/>
<path d="M411.7 509.8l0.9 3.3l2.7 -1.5l-1.1 -5.7z" class="j39"/>
<path d="M414 496.7l1.3 3.4l0.5 7.3l-1.3 -3.9z" class="j54"/>
<path d="M413 502.5l1.2 3.4l1.1 -5.8l-1.3 -3.4z" class="j56"/>
<path d="M415.3 500.1l1.1 4.1l0.6 7l-1.2 -3.8z" class="j51"/>
<path d="M414.2 505.9l1.1 5.7l1.1 -7.4l-1.1 -4.1z" class="j52"/>
<defs><linearGradient id="wg6" gradientUnits="userSpaceOnUse" x1="353.6" y1="502.6" x2="353.6" y2="479" gradientTransform="matrix(1 0.3611 0 1 0 -127.68)"><stop offset="0" stop-color="#5a6aff"/><stop offset="0.35" stop-color="#2438ff"/><stop offset="0.7" stop-color="#1060ff"/><stop offset="1" stop-color="#10a0ff"/></linearGradient></defs><path d="M352.7 479l2.4 12.2l1.9 2l1.9 0.8l1.9 0.7l1.9 0.6l1.9 0.6l1.9 0.6l2 0.6l1.9 0.6l1.9 0.6l2 0.6l1.9 0.6l2 0.6l1.9 0.6l2 0.4l1.9 -2.9l2 2.9l2 0.6l2 0.7l2 0.8l2 0.8l2 0.9l2 0.8l2.1 0.8l2 0.9l2 0.8l2.1 0.8l2 0.9l2 0.8l2.1 0.7l2.1 -0.1l2 -8.7l-0.1 6.9l-0.7 4l-0.6 1.6l-0.7 5l-0.6 -1.1l-0.7 3.7l-0.6 -1.1l-0.7 -0.3l-0.6 -5.7l-0.6 3.3l-0.7 0.1l-0.6 -4.2l-0.7 2.8l-0.6 -1.3l-0.6 -1.1l-0.7 3.8l-0.6 -2.9l-0.6 -2.4l-0.7 1.5l-0.6 3.6l-0.6 -3.9l-0.7 -1.7l-0.6 -1.1l-0.6 2.8l-0.6 0.8l-0.7 -2l-0.6 2.8l-0.6 -2.5l-0.7 1.6l-0.6 -1.9l-0.6 -0.1l-0.6 -1.5l-0.7 -2.3l-0.6 3.8l-0.6 0.8l-0.6 -1.1l-0.7 -2.4l-0.6 -2.6l-0.6 0.5l-0.6 2.2l-0.6 0.5l-0.7 -4.6l-0.6 6.1l-0.6 -1.8l-0.6 -0.2l-0.6 1.6l-0.7 -2.7l-0.6 -1l-0.6 -2.1l-0.6 2.9l-0.6 -0.6l-0.6 -0.2l-0.6 2.1l-0.7 -2.4l-0.5 2.6l-0.6 0.6l-0.7 -3.8l-0.6 1.1l-0.6 -0.3l-0.6 -0.9l-0.6 -0.3l-0.7 -1.9l-0.6 -0.4l-0.6 0.6l-0.5 1.8l-0.6 0.3l-0.6 0.9l-0.7 -3.9l-0.6 1.4l-0.6 -0.6l-0.6 -2.1l-0.5 5.3l-0.7 -4.6l-0.5 2.3l-0.6 -0.2l-0.6 0.3l-0.6 0.3l-0.6 0.5l-0.7 -4.4l-0.5 2.2l-0.7 -2.6l-0.6 -0.3l-0.5 3.1l-0.6 -0.5l-0.6 -0.3l-0.7 -4.3l-0.4 5.5l-0.7 -2.5l-0.6 -1.3l-0.5 2.9l-0.8 -5.7l-0.5 1.1l-0.7 -1.3l-0.5 1l-0.5 2.9l-0.8 -4.6l-0.4 3.9l-0.6 -1.5l-0.7 -2.4l-0.5 2.6l-0.8 -7l-0.7 -1.6l-0.7 -4.1l-0.3 -5.2z" fill="url(#wg6)"/>
<defs><linearGradient id="wg7" gradientUnits="userSpaceOnUse" x1="416.2" y1="525.4" x2="416.2" y2="500.9" gradientTransform="matrix(1 -1.1278 0 1 0 469.37)"><stop offset="0" stop-color="#5a6aff"/><stop offset="0.35" stop-color="#2438ff"/><stop offset="0.7" stop-color="#1060ff"/><stop offset="1" stop-color="#10a0ff"/></linearGradient></defs><path d="M416.4 502.6l1.1 8.7l1.1 0.2l1.1 -1l1.1 -1.3l1.1 -1.3l1.2 -1.2l1.1 -1.3l1.1 -1.3l1.1 -1.3l1.1 -1.3l1.1 -1.3l1 -1.3l1.1 -1.2l1.1 -1.2l1.1 -1.2l1 -1.2l1.1 -1.2l1 -1.1l1.1 -1.1l1 -1.1l1.1 -1.1l1 -1l1 -1.1l1 -1l1 -1.1l1 -1l1 -1.1l1 -1l1 -1.1l1 -1.3l1.1 -2.5l1.3 -12.1l-0.2 6.7l-0.7 10.8l-0.3 0.5l-0.4 2.6l-0.3 -0.3l-0.3 -1l-0.3 -0.1l-0.4 4.8l-0.3 0.2l-0.4 2.2l-0.1 -4.6l-0.4 1.3l-0.3 0.2l-0.3 1.7l-0.2 -3.2l-0.5 5.4l-0.3 -0.1l-0.2 -4l-0.4 4.5l-0.3 -2.2l-0.3 1l-0.3 -1.2l-0.4 3.6l-0.3 -0.4l-0.2 -3.5l-0.3 1.2l-0.4 4.3l-0.2 -3.7l-0.4 2.6l-0.4 1.6l-0.2 -3l-0.4 2.6l-0.3 -0.2l-0.2 -1.6l-0.5 4.7l-0.2 -4.4l-0.4 5.4l-0.3 -3.1l-0.3 0.6l-0.3 -0.6l-0.4 4.6l-0.4 1.3l-0.2 -5.1l-0.4 3.3l-0.2 -3.6l-0.4 2.8l-0.3 -0.9l-0.4 3.2l-0.2 -2.6l-0.4 3.2l-0.4 2.7l-0.2 -4.5l-0.3 -0.4l-0.5 5.3l-0.2 -5.1l-0.4 5.1l-0.4 1.4l-0.2 -4.8l-0.4 3l-0.4 3.5l-0.2 -5.3l-0.4 5.1l-0.3 -0.7l-0.3 -3.7l-0.3 1l-0.5 5.6l-0.2 -5.5l-0.4 2.4l-0.3 -1.8l-0.3 1.9l-0.4 0.1l-0.4 4.4l-0.2 -4.5l-0.4 0.6l-0.4 3.4l-0.3 -1.9l-0.3 2.6l-0.3 -2.8l-0.4 1.3l-0.4 1.5l-0.3 3l-0.4 1.2l-0.3 -4l-0.4 2.6l-0.3 2.8l-0.4 -1.8l-0.3 2.1l-0.4 0.9l-0.3 -3.2l-0.4 2.3l-0.3 -0.1l-0.3 -1.9l-0.4 4l-0.4 1.4l-0.3 -5.5l-0.4 6.8l-0.3 -6l-0.3 2.6l-0.4 -2.3l-0.3 1.7l-0.4 0.1l-0.3 -3.3l-0.3 -7.3l0 -0.8z" fill="url(#wg7)"/>
<path d="M399.1 457.2l2 -1.9l0 -20.4l-2.1 1.8z" fill="url(#fadeO)"/>
<path d="M399.9 460.9l2 -2l0 -18.2l-2.1 1.9z" fill="url(#fadeO)"/>
<path d="M404.2 466l2.1 -2l0.1 -14l-2.1 2z" fill="url(#fadeS)"/>
<path d="M407.7 463.8l2 -2l0.1 -13.9l-2 2z" fill="url(#fadeS)"/>
<text x="4.3" y="21.6" font-size="13.3" font-family='"Liberation Sans", sans-serif' font-weight="normal" stroke="#000" stroke-width="0.55" letter-spacing="0.9">(a)</text><text x="4.3" y="132.2" font-size="13.3" font-family='"Liberation Sans", sans-serif' font-weight="normal" stroke="#000" stroke-width="0.55" letter-spacing="0.9">(b)</text><text x="273.5" y="38.8" font-size="14" font-family='"Liberation Sans", sans-serif' font-weight="normal" stroke="#000" stroke-width="0.55" letter-spacing="0.9">(c)</text><text x="4.3" y="269.5" font-size="13.3" font-family='"Liberation Sans", sans-serif' font-weight="normal" stroke="#000" stroke-width="0.55" letter-spacing="0.9">(d)</text><text x="4.3" y="416.6" font-size="14" font-family='"Liberation Sans", sans-serif' font-weight="normal" stroke="#000" stroke-width="0.55" letter-spacing="0.9">(e)</text><text x="235.6" y="268.8" font-size="14" font-family='"Liberation Sans", sans-serif' font-weight="normal" stroke="#000" stroke-width="0.55" letter-spacing="2.4">(f)</text><text x="235.6" y="411.2" font-size="14" font-family='"Liberation Serif", serif' font-weight="normal" stroke="#000" stroke-width="0.55" letter-spacing="0.8">(g)</text>

<path d="M233 99.5C231.5 84 228 67 214 61.8" fill="none" stroke="#1fc98b" stroke-width="1.9"/>
<path d="M233 144C231 160 226 173 217.5 182" fill="none" stroke="#1fc98b" stroke-width="1.8"/>
<path d="M214.6 185.2L215.2 177.8L221.2 181.6Z" fill="#1fc98b"/>
<circle cx="242.6" cy="121.6" r="23.3" fill="#22c98b"/>
<path d="M232.4 121.5H253.1M242.8 112.2V131.3" stroke="#1c1c80" stroke-width="1.9"/>
<defs><linearGradient id="og" x1="0" y1="0" x2="0" y2="1"><stop offset="0" stop-color="#f0a060"/><stop offset="0.55" stop-color="#d06a20"/><stop offset="1" stop-color="#a84a10"/></linearGradient></defs>
<path d="M268.3 114.5H287.5V109.8L299.2 121.5L287.5 133.1V128.4H268.3Z" fill="url(#og)"/>

<g font-family="'Liberation Sans', sans-serif" font-size="10.6" fill="#4a7cd6" stroke="#4a7cd6" stroke-width="0.5" letter-spacing="0.25"><text x="257" y="204">normal sample</text><text x="257" y="216.5">superimposed</text><text x="257" y="229.5">defect</text></g>
<g font-family="'Liberation Sans', sans-serif" font-size="12.8" fill="#1ab4f0" stroke="#1ab4f0" stroke-width="0.35"><text x="391.9" y="174">selected</text><text x="391.9" y="188.5">frequencies</text></g>
<defs><linearGradient id="jet" x1="0" y1="0" x2="0" y2="1"><stop offset="0" stop-color="#800000"/><stop offset="0.0312" stop-color="#9f0000"/><stop offset="0.0625" stop-color="#c40000"/><stop offset="0.0938" stop-color="#e80000"/><stop offset="0.125" stop-color="#ff1e00"/><stop offset="0.1562" stop-color="#ff3b00"/><stop offset="0.1875" stop-color="#ff5900"/><stop offset="0.2188" stop-color="#ff7700"/><stop offset="0.25" stop-color="#ff9400"/><stop offset="0.2812" stop-color="#ffb200"/><stop offset="0.3125" stop-color="#ffd000"/><stop offset="0.3438" stop-color="#feed00"/><stop offset="0.375" stop-color="#e4ff13"/><stop offset="0.4062" stop-color="#caff2c"/><stop offset="0.4375" stop-color="#b1ff46"/><stop offset="0.4688" stop-color="#97ff60"/><stop offset="0.5" stop-color="#7dff7a"/><stop offset="0.5312" stop-color="#63ff94"/><stop offset="0.5625" stop-color="#49ffad"/><stop offset="0.5938" stop-color="#30ffc7"/><stop offset="0.625" stop-color="#16ffe1"/><stop offset="0.6562" stop-color="#00e1fb"/><stop offset="0.6875" stop-color="#00c1ff"/><stop offset="0.7188" stop-color="#00a1ff"/><stop offset="0.75" stop-color="#0081ff"/><stop offset="0.7812" stop-color="#0061ff"/><stop offset="0.8125" stop-color="#0041ff"/><stop offset="0.8438" stop-color="#0021ff"/><stop offset="0.875" stop-color="#0001ff"/><stop offset="0.9062" stop-color="#0000ed"/><stop offset="0.9375" stop-color="#0000c8"/><stop offset="0.9688" stop-color="#0000a4"/><stop offset="1" stop-color="#000080"/></linearGradient></defs>
<rect x="494.1" y="256.5" width="10.6" height="282.2" fill="url(#jet)" stroke="#333" stroke-width="0.3"/>
<g font-family="'Liberation Sans', sans-serif" font-size="8" fill="#222"><path d="M504.7 538.7h1.6" stroke="#333" stroke-width="0.4"/><text x="0" y="0" transform="translate(507.3 541.5) scale(0.82 1)">0</text><path d="M504.7 483.37h1.6" stroke="#333" stroke-width="0.4"/><text x="0" y="0" transform="translate(507.3 486.17) scale(0.82 1)">50</text><path d="M504.7 428.03h1.6" stroke="#333" stroke-width="0.4"/><text x="0" y="0" transform="translate(507.3 430.83) scale(0.82 1)">100</text><path d="M504.7 372.7h1.6" stroke="#333" stroke-width="0.4"/><text x="0" y="0" transform="translate(507.3 375.5) scale(0.82 1)">150</text><path d="M504.7 317.37h1.6" stroke="#333" stroke-width="0.4"/><text x="0" y="0" transform="translate(507.3 320.17) scale(0.82 1)">200</text><path d="M504.7 262.03h1.6" stroke="#333" stroke-width="0.4"/><text x="0" y="0" transform="translate(507.3 264.83) scale(0.82 1)">250</text></g>

<ellipse cx="454" cy="70.7" rx="34.5" ry="8.3" transform="rotate(-37 454 70.7)" fill="none" stroke="#1ab4f0" stroke-width="1.6"/>
<path d="M409 80.5V143" stroke="#1ab4f0" stroke-width="2.4"/>
<path d="M402.3 141.3H415.9L409.1 156.2Z" fill="#1ab4f0"/>

</svg></body></html>
